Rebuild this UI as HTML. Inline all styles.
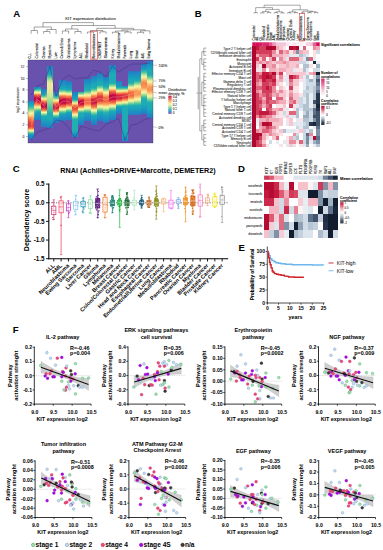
<!DOCTYPE html><html><head><meta charset="utf-8"><style>html,body{margin:0;padding:0;background:#fff;width:383px;height:550px;overflow:hidden}svg{display:block}text{font-family:"Liberation Sans",sans-serif}</style></head><body>
<svg width="383" height="550" viewBox="0 0 383 550">
<rect x="0.00" y="0.00" width="383.00" height="550.00" fill="#ffffff"/>
<text x="13.20" y="16.60" font-size="9.6" text-anchor="start" font-weight="bold" fill="#000">A</text>
<text x="90.50" y="19.60" font-size="4.3" text-anchor="middle" stroke="#222" stroke-width="0.08" fill="#222">KIT expression distribution</text>
<polyline points="31.1,33.8 31.1,30.5 37.4,30.5 37.4,33.8" fill="none" stroke="#333" stroke-width="0.45"/>
<polyline points="43.6,33.8 43.6,31.5 49.9,31.5 49.9,33.8" fill="none" stroke="#333" stroke-width="0.45"/>
<polyline points="46.8,31.5 46.8,29.5 56.1,29.5 56.1,33.8" fill="none" stroke="#333" stroke-width="0.45"/>
<polyline points="34.2,30.5 34.2,27.0 51.4,27.0 51.4,29.5" fill="none" stroke="#333" stroke-width="0.45"/>
<polyline points="62.4,33.8 62.4,31.0 68.6,31.0 68.6,33.8" fill="none" stroke="#333" stroke-width="0.45"/>
<polyline points="74.9,33.8 74.9,31.5 81.1,31.5 81.1,33.8" fill="none" stroke="#333" stroke-width="0.45"/>
<polyline points="65.5,31.0 65.5,29.0 78.0,29.0 78.0,31.5" fill="none" stroke="#333" stroke-width="0.45"/>
<polyline points="87.4,33.8 87.4,32.0 93.6,32.0 93.6,33.8" fill="none" stroke="#333" stroke-width="0.45"/>
<polyline points="99.9,33.8 99.9,31.8 106.1,31.8 106.1,33.8" fill="none" stroke="#333" stroke-width="0.45"/>
<polyline points="90.5,32.0 90.5,30.5 103.0,30.5 103.0,31.8" fill="none" stroke="#333" stroke-width="0.45"/>
<polyline points="112.4,33.8 112.4,32.2 118.6,32.2 118.6,33.8" fill="none" stroke="#333" stroke-width="0.45"/>
<polyline points="124.9,33.8 124.9,32.0 131.1,32.0 131.1,33.8" fill="none" stroke="#333" stroke-width="0.45"/>
<polyline points="115.5,32.2 115.5,31.0 128.0,31.0 128.0,32.0" fill="none" stroke="#333" stroke-width="0.45"/>
<polyline points="137.4,33.8 137.4,32.3 143.6,32.3 143.6,33.8" fill="none" stroke="#333" stroke-width="0.45"/>
<polyline points="140.5,32.3 140.5,30.8 149.9,30.8 149.9,33.8" fill="none" stroke="#333" stroke-width="0.45"/>
<polyline points="121.8,31.0 121.8,29.8 145.2,29.8 145.2,30.8" fill="none" stroke="#333" stroke-width="0.45"/>
<polyline points="96.8,30.5 96.8,28.3 133.6,28.3 133.6,29.8" fill="none" stroke="#333" stroke-width="0.45"/>
<polyline points="71.8,29.0 71.8,25.5 115.2,25.5 115.2,28.3" fill="none" stroke="#333" stroke-width="0.45"/>
<polyline points="43.0,27.0 43.0,22.6 93.4,22.6 93.4,25.5" fill="none" stroke="#333" stroke-width="0.45"/>
<text x="30.90" y="58.40" font-size="3.6" fill="#333" stroke="#333" stroke-width="0.16" textLength="5.00" lengthAdjust="spacingAndGlyphs" transform="rotate(-90 30.90 58.40)">CLL</text>
<text x="38.20" y="58.40" font-size="3.6" fill="#333" stroke="#333" stroke-width="0.16" textLength="15.20" lengthAdjust="spacingAndGlyphs" transform="rotate(-90 38.20 58.40)">Colorectal</text>
<text x="44.70" y="58.40" font-size="3.6" fill="#333" stroke="#333" stroke-width="0.16" textLength="11.80" lengthAdjust="spacingAndGlyphs" transform="rotate(-90 44.70 58.40)">Ovarian</text>
<text x="51.00" y="58.40" font-size="3.6" fill="#333" stroke="#333" stroke-width="0.16" textLength="13.50" lengthAdjust="spacingAndGlyphs" transform="rotate(-90 51.00 58.40)">Myeloma</text>
<text x="56.90" y="58.40" font-size="3.6" fill="#333" stroke="#333" stroke-width="0.16" textLength="6.70" lengthAdjust="spacingAndGlyphs" transform="rotate(-90 56.90 58.40)">Liver</text>
<text x="63.20" y="58.40" font-size="3.6" fill="#333" stroke="#333" stroke-width="0.16" textLength="20.30" lengthAdjust="spacingAndGlyphs" transform="rotate(-90 63.20 58.40)">Cervix &amp; Endo</text>
<text x="69.60" y="58.40" font-size="3.6" fill="#333" stroke="#333" stroke-width="0.16" textLength="19.80" lengthAdjust="spacingAndGlyphs" transform="rotate(-90 69.60 58.40)">Glioblastoma</text>
<text x="76.10" y="58.40" font-size="3.6" fill="#333" stroke="#333" stroke-width="0.16" textLength="16.40" lengthAdjust="spacingAndGlyphs" transform="rotate(-90 76.10 58.40)">Lymphoma</text>
<text x="82.40" y="58.40" font-size="3.6" fill="#333" stroke="#333" stroke-width="0.16" textLength="5.80" lengthAdjust="spacingAndGlyphs" transform="rotate(-90 82.40 58.40)">ALL</text>
<text x="88.30" y="58.40" font-size="3.6" fill="#333" stroke="#333" stroke-width="0.16" textLength="15.20" lengthAdjust="spacingAndGlyphs" transform="rotate(-90 88.30 58.40)">Rhabdoid</text>
<text x="95.10" y="58.40" font-size="3.6" fill="#333" stroke="#333" stroke-width="0.16" textLength="24.50" lengthAdjust="spacingAndGlyphs" transform="rotate(-90 95.10 58.40)">Neuroblastoma</text>
<text x="100.70" y="58.40" font-size="3.6" fill="#333" stroke="#333" stroke-width="0.16" textLength="16.90" lengthAdjust="spacingAndGlyphs" transform="rotate(-90 100.70 58.40)">CNS/PNET</text>
<text x="107.00" y="58.40" font-size="3.6" fill="#333" stroke="#333" stroke-width="0.16" textLength="21.10" lengthAdjust="spacingAndGlyphs" transform="rotate(-90 107.00 58.40)">Sarcoma</text>
<text x="113.80" y="58.40" font-size="3.6" fill="#333" stroke="#333" stroke-width="0.16" textLength="9.60" lengthAdjust="spacingAndGlyphs" transform="rotate(-90 113.80 58.40)">Kidney</text>
<text x="120.30" y="58.40" font-size="3.6" fill="#333" stroke="#333" stroke-width="0.16" textLength="25.40" lengthAdjust="spacingAndGlyphs" transform="rotate(-90 120.30 58.40)">Medulloblastoma</text>
<text x="125.70" y="58.40" font-size="3.6" fill="#333" stroke="#333" stroke-width="0.16" textLength="13.50" lengthAdjust="spacingAndGlyphs" transform="rotate(-90 125.70 58.40)">Pancreatic</text>
<text x="132.50" y="58.40" font-size="3.6" fill="#333" stroke="#333" stroke-width="0.16" textLength="7.60" lengthAdjust="spacingAndGlyphs" transform="rotate(-90 132.50 58.40)">Lung</text>
<text x="138.40" y="58.40" font-size="3.6" fill="#333" stroke="#333" stroke-width="0.16" textLength="8.40" lengthAdjust="spacingAndGlyphs" transform="rotate(-90 138.40 58.40)">Breast</text>
<text x="144.40" y="58.40" font-size="3.6" fill="#333" stroke="#333" stroke-width="0.16" textLength="5.80" lengthAdjust="spacingAndGlyphs" transform="rotate(-90 144.40 58.40)">AML</text>
<text x="150.30" y="58.40" font-size="3.6" fill="#333" stroke="#333" stroke-width="0.16" textLength="19.40" lengthAdjust="spacingAndGlyphs" transform="rotate(-90 150.30 58.40)">Ewing Sarcoma</text>
<rect x="90.8" y="31.2" width="6.6" height="27.9" fill="none" stroke="#e0302a" stroke-width="0.6"/>
<g shape-rendering="crispEdges">
<rect x="28.00" y="60.00" width="6.25" height="1.00" fill="#6852ae"/>
<rect x="28.00" y="61.00" width="6.25" height="1.00" fill="#6852ae"/>
<rect x="28.00" y="62.00" width="6.25" height="1.00" fill="#6852ae"/>
<rect x="28.00" y="63.00" width="6.25" height="1.00" fill="#6852ae"/>
<rect x="28.00" y="64.00" width="6.25" height="1.00" fill="#6852ae"/>
<rect x="28.00" y="65.00" width="6.25" height="1.00" fill="#6852ae"/>
<rect x="28.00" y="66.00" width="6.25" height="1.00" fill="#6852ae"/>
<rect x="28.00" y="67.00" width="6.25" height="1.00" fill="#6852ae"/>
<rect x="28.00" y="68.00" width="6.25" height="1.00" fill="#6852ae"/>
<rect x="28.00" y="69.00" width="6.25" height="1.00" fill="#6852ae"/>
<rect x="28.00" y="70.00" width="6.25" height="1.00" fill="#6852ae"/>
<rect x="28.00" y="71.00" width="6.25" height="1.00" fill="#6852ae"/>
<rect x="28.00" y="72.00" width="6.25" height="1.00" fill="#6852ae"/>
<rect x="28.00" y="73.00" width="6.25" height="1.00" fill="#6852ae"/>
<rect x="28.00" y="74.00" width="6.25" height="1.00" fill="#6852ae"/>
<rect x="28.00" y="75.00" width="6.25" height="1.00" fill="#6852ae"/>
<rect x="28.00" y="76.00" width="6.25" height="1.00" fill="#6852ae"/>
<rect x="28.00" y="77.00" width="6.25" height="1.00" fill="#6852ae"/>
<rect x="28.00" y="78.00" width="6.25" height="1.00" fill="#6852ae"/>
<rect x="28.00" y="79.00" width="6.25" height="1.00" fill="#6852ae"/>
<rect x="28.00" y="80.00" width="6.25" height="1.00" fill="#6852ae"/>
<rect x="28.00" y="81.00" width="6.25" height="1.00" fill="#6852ae"/>
<rect x="28.00" y="82.00" width="6.25" height="1.00" fill="#6852ae"/>
<rect x="28.00" y="83.00" width="6.25" height="1.00" fill="#6852ae"/>
<rect x="28.00" y="84.00" width="6.25" height="1.00" fill="#6852ae"/>
<rect x="28.00" y="85.00" width="6.25" height="1.00" fill="#6852ae"/>
<rect x="28.00" y="86.00" width="6.25" height="1.00" fill="#6852ae"/>
<rect x="28.00" y="87.00" width="6.25" height="1.00" fill="#6852ae"/>
<rect x="28.00" y="88.00" width="6.25" height="1.00" fill="#6852ae"/>
<rect x="28.00" y="89.00" width="6.25" height="1.00" fill="#6852ae"/>
<rect x="28.00" y="90.00" width="6.25" height="1.00" fill="#6852ae"/>
<rect x="28.00" y="91.00" width="6.25" height="1.00" fill="#6852ae"/>
<rect x="28.00" y="92.00" width="6.25" height="1.00" fill="#6852ae"/>
<rect x="28.00" y="93.00" width="6.25" height="1.00" fill="#6852ae"/>
<rect x="28.00" y="94.00" width="6.25" height="1.00" fill="#6852ae"/>
<rect x="28.00" y="95.00" width="6.25" height="1.00" fill="#6852ae"/>
<rect x="28.00" y="96.00" width="6.25" height="1.00" fill="#6852ae"/>
<rect x="28.00" y="97.00" width="6.25" height="1.00" fill="#6852ae"/>
<rect x="28.00" y="98.00" width="6.25" height="1.00" fill="#6852ae"/>
<rect x="28.00" y="99.00" width="6.25" height="1.00" fill="#6852ae"/>
<rect x="28.00" y="100.00" width="6.25" height="1.00" fill="#6852ae"/>
<rect x="28.00" y="101.00" width="6.25" height="1.00" fill="#1e8cc4"/>
<rect x="28.00" y="102.00" width="6.25" height="1.00" fill="#1c93c1"/>
<rect x="28.00" y="103.00" width="6.25" height="1.00" fill="#1b9bbd"/>
<rect x="28.00" y="104.00" width="6.25" height="1.00" fill="#19a4ba"/>
<rect x="28.00" y="105.00" width="6.25" height="1.00" fill="#21adb3"/>
<rect x="28.00" y="106.00" width="6.25" height="1.00" fill="#33b5ab"/>
<rect x="28.00" y="107.00" width="6.25" height="1.00" fill="#46bfa1"/>
<rect x="28.00" y="108.00" width="6.25" height="1.00" fill="#60c99b"/>
<rect x="28.00" y="109.00" width="6.25" height="1.00" fill="#82d398"/>
<rect x="28.00" y="110.00" width="6.25" height="1.00" fill="#a6de95"/>
<rect x="28.00" y="111.00" width="6.25" height="1.00" fill="#c5e898"/>
<rect x="28.00" y="112.00" width="6.25" height="1.00" fill="#e0f0a1"/>
<rect x="28.00" y="113.00" width="6.25" height="1.00" fill="#f7f3a4"/>
<rect x="28.00" y="114.00" width="6.25" height="1.00" fill="#fae394"/>
<rect x="28.00" y="115.00" width="6.25" height="1.00" fill="#fed383"/>
<rect x="28.00" y="116.00" width="6.25" height="1.00" fill="#fcb86e"/>
<rect x="28.00" y="117.00" width="6.25" height="1.00" fill="#f99d5a"/>
<rect x="28.00" y="118.00" width="6.25" height="1.00" fill="#f6854e"/>
<rect x="28.00" y="119.00" width="6.25" height="1.00" fill="#f27149"/>
<rect x="28.00" y="120.00" width="6.25" height="1.00" fill="#ee5f45"/>
<rect x="28.00" y="121.00" width="6.25" height="1.00" fill="#eb5041"/>
<rect x="28.00" y="122.00" width="6.25" height="1.00" fill="#e74541"/>
<rect x="28.00" y="123.00" width="6.25" height="1.00" fill="#e33e42"/>
<rect x="28.00" y="124.00" width="6.25" height="1.00" fill="#e03942"/>
<rect x="28.00" y="125.00" width="6.25" height="1.00" fill="#e03842"/>
<rect x="28.00" y="126.00" width="6.25" height="1.00" fill="#e33e42"/>
<rect x="28.00" y="127.00" width="6.25" height="1.00" fill="#ec5643"/>
<rect x="28.00" y="128.00" width="6.25" height="1.00" fill="#f5824d"/>
<rect x="28.00" y="129.00" width="6.25" height="1.00" fill="#fcbf73"/>
<rect x="28.00" y="130.00" width="6.25" height="1.00" fill="#f8ed9f"/>
<rect x="28.00" y="131.00" width="6.25" height="1.00" fill="#c4e798"/>
<rect x="28.00" y="132.00" width="6.25" height="1.00" fill="#72cf99"/>
<rect x="28.00" y="133.00" width="6.25" height="1.00" fill="#35b7a9"/>
<rect x="28.00" y="134.00" width="6.25" height="1.00" fill="#19a1bb"/>
<rect x="28.00" y="135.00" width="6.25" height="1.00" fill="#1d8ec3"/>
<rect x="28.00" y="136.00" width="6.25" height="1.00" fill="#1e8ac5"/>
<rect x="28.00" y="137.00" width="6.25" height="1.00" fill="#2183c5"/>
<rect x="28.00" y="138.00" width="6.25" height="1.00" fill="#297ac2"/>
<rect x="28.00" y="139.00" width="6.25" height="1.00" fill="#6852ae"/>
<rect x="28.00" y="140.00" width="6.25" height="1.00" fill="#6852ae"/>
<rect x="28.00" y="141.00" width="6.25" height="1.00" fill="#6852ae"/>
<rect x="28.00" y="142.00" width="6.25" height="1.00" fill="#6852ae"/>
<rect x="34.25" y="60.00" width="6.25" height="1.00" fill="#6852ae"/>
<rect x="34.25" y="61.00" width="6.25" height="1.00" fill="#6852ae"/>
<rect x="34.25" y="62.00" width="6.25" height="1.00" fill="#6852ae"/>
<rect x="34.25" y="63.00" width="6.25" height="1.00" fill="#6852ae"/>
<rect x="34.25" y="64.00" width="6.25" height="1.00" fill="#6852ae"/>
<rect x="34.25" y="65.00" width="6.25" height="1.00" fill="#6852ae"/>
<rect x="34.25" y="66.00" width="6.25" height="1.00" fill="#6852ae"/>
<rect x="34.25" y="67.00" width="6.25" height="1.00" fill="#6852ae"/>
<rect x="34.25" y="68.00" width="6.25" height="1.00" fill="#6852ae"/>
<rect x="34.25" y="69.00" width="6.25" height="1.00" fill="#6852ae"/>
<rect x="34.25" y="70.00" width="6.25" height="1.00" fill="#6852ae"/>
<rect x="34.25" y="71.00" width="6.25" height="1.00" fill="#6852ae"/>
<rect x="34.25" y="72.00" width="6.25" height="1.00" fill="#6852ae"/>
<rect x="34.25" y="73.00" width="6.25" height="1.00" fill="#6852ae"/>
<rect x="34.25" y="74.00" width="6.25" height="1.00" fill="#6852ae"/>
<rect x="34.25" y="75.00" width="6.25" height="1.00" fill="#6852ae"/>
<rect x="34.25" y="76.00" width="6.25" height="1.00" fill="#6852ae"/>
<rect x="34.25" y="77.00" width="6.25" height="1.00" fill="#6852ae"/>
<rect x="34.25" y="78.00" width="6.25" height="1.00" fill="#6852ae"/>
<rect x="34.25" y="79.00" width="6.25" height="1.00" fill="#6852ae"/>
<rect x="34.25" y="80.00" width="6.25" height="1.00" fill="#6852ae"/>
<rect x="34.25" y="81.00" width="6.25" height="1.00" fill="#6852ae"/>
<rect x="34.25" y="82.00" width="6.25" height="1.00" fill="#6852ae"/>
<rect x="34.25" y="83.00" width="6.25" height="1.00" fill="#6852ae"/>
<rect x="34.25" y="84.00" width="6.25" height="1.00" fill="#6852ae"/>
<rect x="34.25" y="85.00" width="6.25" height="1.00" fill="#6852ae"/>
<rect x="34.25" y="86.00" width="6.25" height="1.00" fill="#6852ae"/>
<rect x="34.25" y="87.00" width="6.25" height="1.00" fill="#1c95c0"/>
<rect x="34.25" y="88.00" width="6.25" height="1.00" fill="#18a7b8"/>
<rect x="34.25" y="89.00" width="6.25" height="1.00" fill="#3cbaa6"/>
<rect x="34.25" y="90.00" width="6.25" height="1.00" fill="#74cf99"/>
<rect x="34.25" y="91.00" width="6.25" height="1.00" fill="#bee696"/>
<rect x="34.25" y="92.00" width="6.25" height="1.00" fill="#f6f4a6"/>
<rect x="34.25" y="93.00" width="6.25" height="1.00" fill="#fece7f"/>
<rect x="34.25" y="94.00" width="6.25" height="1.00" fill="#f78c4f"/>
<rect x="34.25" y="95.00" width="6.25" height="1.00" fill="#ed5743"/>
<rect x="34.25" y="96.00" width="6.25" height="1.00" fill="#db3044"/>
<rect x="34.25" y="97.00" width="6.25" height="1.00" fill="#cc1447"/>
<rect x="34.25" y="98.00" width="6.25" height="1.00" fill="#c20449"/>
<rect x="34.25" y="99.00" width="6.25" height="1.00" fill="#c0004a"/>
<rect x="34.25" y="100.00" width="6.25" height="1.00" fill="#c40749"/>
<rect x="34.25" y="101.00" width="6.25" height="1.00" fill="#cd1647"/>
<rect x="34.25" y="102.00" width="6.25" height="1.00" fill="#da2e44"/>
<rect x="34.25" y="103.00" width="6.25" height="1.00" fill="#eb4d41"/>
<rect x="34.25" y="104.00" width="6.25" height="1.00" fill="#f3794b"/>
<rect x="34.25" y="105.00" width="6.25" height="1.00" fill="#fbad66"/>
<rect x="34.25" y="106.00" width="6.25" height="1.00" fill="#fcdd8e"/>
<rect x="34.25" y="107.00" width="6.25" height="1.00" fill="#ecf3a5"/>
<rect x="34.25" y="108.00" width="6.25" height="1.00" fill="#b9e494"/>
<rect x="34.25" y="109.00" width="6.25" height="1.00" fill="#78d099"/>
<rect x="34.25" y="110.00" width="6.25" height="1.00" fill="#44bea2"/>
<rect x="34.25" y="111.00" width="6.25" height="1.00" fill="#23adb3"/>
<rect x="34.25" y="112.00" width="6.25" height="1.00" fill="#19a4ba"/>
<rect x="34.25" y="113.00" width="6.25" height="1.00" fill="#1a9fbc"/>
<rect x="34.25" y="114.00" width="6.25" height="1.00" fill="#1b9abe"/>
<rect x="34.25" y="115.00" width="6.25" height="1.00" fill="#1c95c0"/>
<rect x="34.25" y="116.00" width="6.25" height="1.00" fill="#1d90c2"/>
<rect x="34.25" y="117.00" width="6.25" height="1.00" fill="#1e8bc4"/>
<rect x="34.25" y="118.00" width="6.25" height="1.00" fill="#1f87c6"/>
<rect x="34.25" y="119.00" width="6.25" height="1.00" fill="#267ec3"/>
<rect x="34.25" y="120.00" width="6.25" height="1.00" fill="#6852ae"/>
<rect x="34.25" y="121.00" width="6.25" height="1.00" fill="#6852ae"/>
<rect x="34.25" y="122.00" width="6.25" height="1.00" fill="#6852ae"/>
<rect x="34.25" y="123.00" width="6.25" height="1.00" fill="#6852ae"/>
<rect x="34.25" y="124.00" width="6.25" height="1.00" fill="#6852ae"/>
<rect x="34.25" y="125.00" width="6.25" height="1.00" fill="#6852ae"/>
<rect x="34.25" y="126.00" width="6.25" height="1.00" fill="#6852ae"/>
<rect x="34.25" y="127.00" width="6.25" height="1.00" fill="#6852ae"/>
<rect x="34.25" y="128.00" width="6.25" height="1.00" fill="#6852ae"/>
<rect x="34.25" y="129.00" width="6.25" height="1.00" fill="#6852ae"/>
<rect x="34.25" y="130.00" width="6.25" height="1.00" fill="#6852ae"/>
<rect x="34.25" y="131.00" width="6.25" height="1.00" fill="#6852ae"/>
<rect x="34.25" y="132.00" width="6.25" height="1.00" fill="#6852ae"/>
<rect x="34.25" y="133.00" width="6.25" height="1.00" fill="#6852ae"/>
<rect x="34.25" y="134.00" width="6.25" height="1.00" fill="#6852ae"/>
<rect x="34.25" y="135.00" width="6.25" height="1.00" fill="#6852ae"/>
<rect x="34.25" y="136.00" width="6.25" height="1.00" fill="#6852ae"/>
<rect x="34.25" y="137.00" width="6.25" height="1.00" fill="#6852ae"/>
<rect x="34.25" y="138.00" width="6.25" height="1.00" fill="#6852ae"/>
<rect x="34.25" y="139.00" width="6.25" height="1.00" fill="#6852ae"/>
<rect x="34.25" y="140.00" width="6.25" height="1.00" fill="#6852ae"/>
<rect x="34.25" y="141.00" width="6.25" height="1.00" fill="#6852ae"/>
<rect x="34.25" y="142.00" width="6.25" height="1.00" fill="#6852ae"/>
<rect x="40.50" y="60.00" width="6.25" height="1.00" fill="#6852ae"/>
<rect x="40.50" y="61.00" width="6.25" height="1.00" fill="#6852ae"/>
<rect x="40.50" y="62.00" width="6.25" height="1.00" fill="#6852ae"/>
<rect x="40.50" y="63.00" width="6.25" height="1.00" fill="#6852ae"/>
<rect x="40.50" y="64.00" width="6.25" height="1.00" fill="#6852ae"/>
<rect x="40.50" y="65.00" width="6.25" height="1.00" fill="#6852ae"/>
<rect x="40.50" y="66.00" width="6.25" height="1.00" fill="#6852ae"/>
<rect x="40.50" y="67.00" width="6.25" height="1.00" fill="#6852ae"/>
<rect x="40.50" y="68.00" width="6.25" height="1.00" fill="#6852ae"/>
<rect x="40.50" y="69.00" width="6.25" height="1.00" fill="#6852ae"/>
<rect x="40.50" y="70.00" width="6.25" height="1.00" fill="#6852ae"/>
<rect x="40.50" y="71.00" width="6.25" height="1.00" fill="#6852ae"/>
<rect x="40.50" y="72.00" width="6.25" height="1.00" fill="#6852ae"/>
<rect x="40.50" y="73.00" width="6.25" height="1.00" fill="#6852ae"/>
<rect x="40.50" y="74.00" width="6.25" height="1.00" fill="#6852ae"/>
<rect x="40.50" y="75.00" width="6.25" height="1.00" fill="#6852ae"/>
<rect x="40.50" y="76.00" width="6.25" height="1.00" fill="#6852ae"/>
<rect x="40.50" y="77.00" width="6.25" height="1.00" fill="#6852ae"/>
<rect x="40.50" y="78.00" width="6.25" height="1.00" fill="#6852ae"/>
<rect x="40.50" y="79.00" width="6.25" height="1.00" fill="#6852ae"/>
<rect x="40.50" y="80.00" width="6.25" height="1.00" fill="#6852ae"/>
<rect x="40.50" y="81.00" width="6.25" height="1.00" fill="#6852ae"/>
<rect x="40.50" y="82.00" width="6.25" height="1.00" fill="#6852ae"/>
<rect x="40.50" y="83.00" width="6.25" height="1.00" fill="#6852ae"/>
<rect x="40.50" y="84.00" width="6.25" height="1.00" fill="#6852ae"/>
<rect x="40.50" y="85.00" width="6.25" height="1.00" fill="#6852ae"/>
<rect x="40.50" y="86.00" width="6.25" height="1.00" fill="#6852ae"/>
<rect x="40.50" y="87.00" width="6.25" height="1.00" fill="#6852ae"/>
<rect x="40.50" y="88.00" width="6.25" height="1.00" fill="#6852ae"/>
<rect x="40.50" y="89.00" width="6.25" height="1.00" fill="#2480c4"/>
<rect x="40.50" y="90.00" width="6.25" height="1.00" fill="#1f88c5"/>
<rect x="40.50" y="91.00" width="6.25" height="1.00" fill="#1e8cc3"/>
<rect x="40.50" y="92.00" width="6.25" height="1.00" fill="#1d91c1"/>
<rect x="40.50" y="93.00" width="6.25" height="1.00" fill="#1c96bf"/>
<rect x="40.50" y="94.00" width="6.25" height="1.00" fill="#1aa0bb"/>
<rect x="40.50" y="95.00" width="6.25" height="1.00" fill="#2cb2ae"/>
<rect x="40.50" y="96.00" width="6.25" height="1.00" fill="#57c69b"/>
<rect x="40.50" y="97.00" width="6.25" height="1.00" fill="#a1dd96"/>
<rect x="40.50" y="98.00" width="6.25" height="1.00" fill="#e1f0a1"/>
<rect x="40.50" y="99.00" width="6.25" height="1.00" fill="#fbde8f"/>
<rect x="40.50" y="100.00" width="6.25" height="1.00" fill="#faa661"/>
<rect x="40.50" y="101.00" width="6.25" height="1.00" fill="#f16b48"/>
<rect x="40.50" y="102.00" width="6.25" height="1.00" fill="#e33d42"/>
<rect x="40.50" y="103.00" width="6.25" height="1.00" fill="#d11e46"/>
<rect x="40.50" y="104.00" width="6.25" height="1.00" fill="#c50949"/>
<rect x="40.50" y="105.00" width="6.25" height="1.00" fill="#c0004a"/>
<rect x="40.50" y="106.00" width="6.25" height="1.00" fill="#c20449"/>
<rect x="40.50" y="107.00" width="6.25" height="1.00" fill="#cc1447"/>
<rect x="40.50" y="108.00" width="6.25" height="1.00" fill="#db3044"/>
<rect x="40.50" y="109.00" width="6.25" height="1.00" fill="#ed5743"/>
<rect x="40.50" y="110.00" width="6.25" height="1.00" fill="#f78c4f"/>
<rect x="40.50" y="111.00" width="6.25" height="1.00" fill="#fece7f"/>
<rect x="40.50" y="112.00" width="6.25" height="1.00" fill="#f6f4a6"/>
<rect x="40.50" y="113.00" width="6.25" height="1.00" fill="#bee696"/>
<rect x="40.50" y="114.00" width="6.25" height="1.00" fill="#74cf99"/>
<rect x="40.50" y="115.00" width="6.25" height="1.00" fill="#3cbaa6"/>
<rect x="40.50" y="116.00" width="6.25" height="1.00" fill="#1eabb5"/>
<rect x="40.50" y="117.00" width="6.25" height="1.00" fill="#1eabb5"/>
<rect x="40.50" y="118.00" width="6.25" height="1.00" fill="#1aa9b7"/>
<rect x="40.50" y="119.00" width="6.25" height="1.00" fill="#19a4ba"/>
<rect x="40.50" y="120.00" width="6.25" height="1.00" fill="#1a9fbc"/>
<rect x="40.50" y="121.00" width="6.25" height="1.00" fill="#1b9abe"/>
<rect x="40.50" y="122.00" width="6.25" height="1.00" fill="#1c95c0"/>
<rect x="40.50" y="123.00" width="6.25" height="1.00" fill="#1d90c2"/>
<rect x="40.50" y="124.00" width="6.25" height="1.00" fill="#1e8bc4"/>
<rect x="40.50" y="125.00" width="6.25" height="1.00" fill="#1f87c6"/>
<rect x="40.50" y="126.00" width="6.25" height="1.00" fill="#267ec3"/>
<rect x="40.50" y="127.00" width="6.25" height="1.00" fill="#6852ae"/>
<rect x="40.50" y="128.00" width="6.25" height="1.00" fill="#6852ae"/>
<rect x="40.50" y="129.00" width="6.25" height="1.00" fill="#6852ae"/>
<rect x="40.50" y="130.00" width="6.25" height="1.00" fill="#6852ae"/>
<rect x="40.50" y="131.00" width="6.25" height="1.00" fill="#6852ae"/>
<rect x="40.50" y="132.00" width="6.25" height="1.00" fill="#6852ae"/>
<rect x="40.50" y="133.00" width="6.25" height="1.00" fill="#6852ae"/>
<rect x="40.50" y="134.00" width="6.25" height="1.00" fill="#6852ae"/>
<rect x="40.50" y="135.00" width="6.25" height="1.00" fill="#6852ae"/>
<rect x="40.50" y="136.00" width="6.25" height="1.00" fill="#6852ae"/>
<rect x="40.50" y="137.00" width="6.25" height="1.00" fill="#6852ae"/>
<rect x="40.50" y="138.00" width="6.25" height="1.00" fill="#6852ae"/>
<rect x="40.50" y="139.00" width="6.25" height="1.00" fill="#6852ae"/>
<rect x="40.50" y="140.00" width="6.25" height="1.00" fill="#6852ae"/>
<rect x="40.50" y="141.00" width="6.25" height="1.00" fill="#6852ae"/>
<rect x="40.50" y="142.00" width="6.25" height="1.00" fill="#6852ae"/>
<rect x="46.75" y="60.00" width="6.25" height="1.00" fill="#6852ae"/>
<rect x="46.75" y="61.00" width="6.25" height="1.00" fill="#6852ae"/>
<rect x="46.75" y="62.00" width="6.25" height="1.00" fill="#6852ae"/>
<rect x="46.75" y="63.00" width="6.25" height="1.00" fill="#6852ae"/>
<rect x="46.75" y="64.00" width="6.25" height="1.00" fill="#6852ae"/>
<rect x="46.75" y="65.00" width="6.25" height="1.00" fill="#6852ae"/>
<rect x="46.75" y="66.00" width="6.25" height="1.00" fill="#267ec3"/>
<rect x="46.75" y="67.00" width="6.25" height="1.00" fill="#1f87c6"/>
<rect x="46.75" y="68.00" width="6.25" height="1.00" fill="#1e8bc4"/>
<rect x="46.75" y="69.00" width="6.25" height="1.00" fill="#1d90c2"/>
<rect x="46.75" y="70.00" width="6.25" height="1.00" fill="#1c95c0"/>
<rect x="46.75" y="71.00" width="6.25" height="1.00" fill="#1b9abe"/>
<rect x="46.75" y="72.00" width="6.25" height="1.00" fill="#1a9fbc"/>
<rect x="46.75" y="73.00" width="6.25" height="1.00" fill="#19a4ba"/>
<rect x="46.75" y="74.00" width="6.25" height="1.00" fill="#1eabb5"/>
<rect x="46.75" y="75.00" width="6.25" height="1.00" fill="#32b5ab"/>
<rect x="46.75" y="76.00" width="6.25" height="1.00" fill="#47c0a0"/>
<rect x="46.75" y="77.00" width="6.25" height="1.00" fill="#63ca9b"/>
<rect x="46.75" y="78.00" width="6.25" height="1.00" fill="#84d498"/>
<rect x="46.75" y="79.00" width="6.25" height="1.00" fill="#a2dd96"/>
<rect x="46.75" y="80.00" width="6.25" height="1.00" fill="#bce595"/>
<rect x="46.75" y="81.00" width="6.25" height="1.00" fill="#cdea9b"/>
<rect x="46.75" y="82.00" width="6.25" height="1.00" fill="#dbee9f"/>
<rect x="46.75" y="83.00" width="6.25" height="1.00" fill="#e4f1a2"/>
<rect x="46.75" y="84.00" width="6.25" height="1.00" fill="#e9f2a4"/>
<rect x="46.75" y="85.00" width="6.25" height="1.00" fill="#eaf2a4"/>
<rect x="46.75" y="86.00" width="6.25" height="1.00" fill="#e9f2a4"/>
<rect x="46.75" y="87.00" width="6.25" height="1.00" fill="#e8f2a3"/>
<rect x="46.75" y="88.00" width="6.25" height="1.00" fill="#e6f1a3"/>
<rect x="46.75" y="89.00" width="6.25" height="1.00" fill="#e3f1a2"/>
<rect x="46.75" y="90.00" width="6.25" height="1.00" fill="#e0f0a1"/>
<rect x="46.75" y="91.00" width="6.25" height="1.00" fill="#dcefa0"/>
<rect x="46.75" y="92.00" width="6.25" height="1.00" fill="#d8ed9e"/>
<rect x="46.75" y="93.00" width="6.25" height="1.00" fill="#d3ec9d"/>
<rect x="46.75" y="94.00" width="6.25" height="1.00" fill="#ceea9b"/>
<rect x="46.75" y="95.00" width="6.25" height="1.00" fill="#c8e999"/>
<rect x="46.75" y="96.00" width="6.25" height="1.00" fill="#c2e797"/>
<rect x="46.75" y="97.00" width="6.25" height="1.00" fill="#bbe595"/>
<rect x="46.75" y="98.00" width="6.25" height="1.00" fill="#b3e294"/>
<rect x="46.75" y="99.00" width="6.25" height="1.00" fill="#a9df95"/>
<rect x="46.75" y="100.00" width="6.25" height="1.00" fill="#9edc96"/>
<rect x="46.75" y="101.00" width="6.25" height="1.00" fill="#93d997"/>
<rect x="46.75" y="102.00" width="6.25" height="1.00" fill="#88d598"/>
<rect x="46.75" y="103.00" width="6.25" height="1.00" fill="#7cd299"/>
<rect x="46.75" y="104.00" width="6.25" height="1.00" fill="#71ce99"/>
<rect x="46.75" y="105.00" width="6.25" height="1.00" fill="#65ca9a"/>
<rect x="46.75" y="106.00" width="6.25" height="1.00" fill="#59c79b"/>
<rect x="46.75" y="107.00" width="6.25" height="1.00" fill="#4ec39d"/>
<rect x="46.75" y="108.00" width="6.25" height="1.00" fill="#46bfa1"/>
<rect x="46.75" y="109.00" width="6.25" height="1.00" fill="#3fbba5"/>
<rect x="46.75" y="110.00" width="6.25" height="1.00" fill="#37b8a8"/>
<rect x="46.75" y="111.00" width="6.25" height="1.00" fill="#30b4ac"/>
<rect x="46.75" y="112.00" width="6.25" height="1.00" fill="#28b0b0"/>
<rect x="46.75" y="113.00" width="6.25" height="1.00" fill="#21acb4"/>
<rect x="46.75" y="114.00" width="6.25" height="1.00" fill="#1eabb5"/>
<rect x="46.75" y="115.00" width="6.25" height="1.00" fill="#1eabb5"/>
<rect x="46.75" y="116.00" width="6.25" height="1.00" fill="#1eabb5"/>
<rect x="46.75" y="117.00" width="6.25" height="1.00" fill="#1eabb5"/>
<rect x="46.75" y="118.00" width="6.25" height="1.00" fill="#1eabb5"/>
<rect x="46.75" y="119.00" width="6.25" height="1.00" fill="#1aa9b7"/>
<rect x="46.75" y="120.00" width="6.25" height="1.00" fill="#19a4ba"/>
<rect x="46.75" y="121.00" width="6.25" height="1.00" fill="#1a9fbc"/>
<rect x="46.75" y="122.00" width="6.25" height="1.00" fill="#1b9abe"/>
<rect x="46.75" y="123.00" width="6.25" height="1.00" fill="#1c95c0"/>
<rect x="46.75" y="124.00" width="6.25" height="1.00" fill="#1d90c2"/>
<rect x="46.75" y="125.00" width="6.25" height="1.00" fill="#1e8bc4"/>
<rect x="46.75" y="126.00" width="6.25" height="1.00" fill="#1f87c6"/>
<rect x="46.75" y="127.00" width="6.25" height="1.00" fill="#267ec3"/>
<rect x="46.75" y="128.00" width="6.25" height="1.00" fill="#6852ae"/>
<rect x="46.75" y="129.00" width="6.25" height="1.00" fill="#6852ae"/>
<rect x="46.75" y="130.00" width="6.25" height="1.00" fill="#6852ae"/>
<rect x="46.75" y="131.00" width="6.25" height="1.00" fill="#6852ae"/>
<rect x="46.75" y="132.00" width="6.25" height="1.00" fill="#6852ae"/>
<rect x="46.75" y="133.00" width="6.25" height="1.00" fill="#6852ae"/>
<rect x="46.75" y="134.00" width="6.25" height="1.00" fill="#6852ae"/>
<rect x="46.75" y="135.00" width="6.25" height="1.00" fill="#6852ae"/>
<rect x="46.75" y="136.00" width="6.25" height="1.00" fill="#6852ae"/>
<rect x="46.75" y="137.00" width="6.25" height="1.00" fill="#6852ae"/>
<rect x="46.75" y="138.00" width="6.25" height="1.00" fill="#6852ae"/>
<rect x="46.75" y="139.00" width="6.25" height="1.00" fill="#6852ae"/>
<rect x="46.75" y="140.00" width="6.25" height="1.00" fill="#6852ae"/>
<rect x="46.75" y="141.00" width="6.25" height="1.00" fill="#6852ae"/>
<rect x="46.75" y="142.00" width="6.25" height="1.00" fill="#6852ae"/>
<rect x="53.00" y="60.00" width="6.25" height="1.00" fill="#6852ae"/>
<rect x="53.00" y="61.00" width="6.25" height="1.00" fill="#6852ae"/>
<rect x="53.00" y="62.00" width="6.25" height="1.00" fill="#6852ae"/>
<rect x="53.00" y="63.00" width="6.25" height="1.00" fill="#6852ae"/>
<rect x="53.00" y="64.00" width="6.25" height="1.00" fill="#6852ae"/>
<rect x="53.00" y="65.00" width="6.25" height="1.00" fill="#6852ae"/>
<rect x="53.00" y="66.00" width="6.25" height="1.00" fill="#6852ae"/>
<rect x="53.00" y="67.00" width="6.25" height="1.00" fill="#6852ae"/>
<rect x="53.00" y="68.00" width="6.25" height="1.00" fill="#6852ae"/>
<rect x="53.00" y="69.00" width="6.25" height="1.00" fill="#6852ae"/>
<rect x="53.00" y="70.00" width="6.25" height="1.00" fill="#6852ae"/>
<rect x="53.00" y="71.00" width="6.25" height="1.00" fill="#6852ae"/>
<rect x="53.00" y="72.00" width="6.25" height="1.00" fill="#6852ae"/>
<rect x="53.00" y="73.00" width="6.25" height="1.00" fill="#6852ae"/>
<rect x="53.00" y="74.00" width="6.25" height="1.00" fill="#6852ae"/>
<rect x="53.00" y="75.00" width="6.25" height="1.00" fill="#6852ae"/>
<rect x="53.00" y="76.00" width="6.25" height="1.00" fill="#6852ae"/>
<rect x="53.00" y="77.00" width="6.25" height="1.00" fill="#6852ae"/>
<rect x="53.00" y="78.00" width="6.25" height="1.00" fill="#6852ae"/>
<rect x="53.00" y="79.00" width="6.25" height="1.00" fill="#6852ae"/>
<rect x="53.00" y="80.00" width="6.25" height="1.00" fill="#6852ae"/>
<rect x="53.00" y="81.00" width="6.25" height="1.00" fill="#6852ae"/>
<rect x="53.00" y="82.00" width="6.25" height="1.00" fill="#6852ae"/>
<rect x="53.00" y="83.00" width="6.25" height="1.00" fill="#6852ae"/>
<rect x="53.00" y="84.00" width="6.25" height="1.00" fill="#6852ae"/>
<rect x="53.00" y="85.00" width="6.25" height="1.00" fill="#6852ae"/>
<rect x="53.00" y="86.00" width="6.25" height="1.00" fill="#6852ae"/>
<rect x="53.00" y="87.00" width="6.25" height="1.00" fill="#6852ae"/>
<rect x="53.00" y="88.00" width="6.25" height="1.00" fill="#6852ae"/>
<rect x="53.00" y="89.00" width="6.25" height="1.00" fill="#6852ae"/>
<rect x="53.00" y="90.00" width="6.25" height="1.00" fill="#6852ae"/>
<rect x="53.00" y="91.00" width="6.25" height="1.00" fill="#6852ae"/>
<rect x="53.00" y="92.00" width="6.25" height="1.00" fill="#2381c4"/>
<rect x="53.00" y="93.00" width="6.25" height="1.00" fill="#1e89c5"/>
<rect x="53.00" y="94.00" width="6.25" height="1.00" fill="#1d8dc3"/>
<rect x="53.00" y="95.00" width="6.25" height="1.00" fill="#1b97bf"/>
<rect x="53.00" y="96.00" width="6.25" height="1.00" fill="#1baab6"/>
<rect x="53.00" y="97.00" width="6.25" height="1.00" fill="#40bca4"/>
<rect x="53.00" y="98.00" width="6.25" height="1.00" fill="#7ad199"/>
<rect x="53.00" y="99.00" width="6.25" height="1.00" fill="#c1e797"/>
<rect x="53.00" y="100.00" width="6.25" height="1.00" fill="#f7f3a5"/>
<rect x="53.00" y="101.00" width="6.25" height="1.00" fill="#fecf80"/>
<rect x="53.00" y="102.00" width="6.25" height="1.00" fill="#f89251"/>
<rect x="53.00" y="103.00" width="6.25" height="1.00" fill="#ef6145"/>
<rect x="53.00" y="104.00" width="6.25" height="1.00" fill="#e23c42"/>
<rect x="53.00" y="105.00" width="6.25" height="1.00" fill="#d52545"/>
<rect x="53.00" y="106.00" width="6.25" height="1.00" fill="#ce1947"/>
<rect x="53.00" y="107.00" width="6.25" height="1.00" fill="#ce1947"/>
<rect x="53.00" y="108.00" width="6.25" height="1.00" fill="#d52545"/>
<rect x="53.00" y="109.00" width="6.25" height="1.00" fill="#e23c42"/>
<rect x="53.00" y="110.00" width="6.25" height="1.00" fill="#ef6145"/>
<rect x="53.00" y="111.00" width="6.25" height="1.00" fill="#f89251"/>
<rect x="53.00" y="112.00" width="6.25" height="1.00" fill="#fecf80"/>
<rect x="53.00" y="113.00" width="6.25" height="1.00" fill="#f7f3a5"/>
<rect x="53.00" y="114.00" width="6.25" height="1.00" fill="#c1e797"/>
<rect x="53.00" y="115.00" width="6.25" height="1.00" fill="#7ad199"/>
<rect x="53.00" y="116.00" width="6.25" height="1.00" fill="#40bca4"/>
<rect x="53.00" y="117.00" width="6.25" height="1.00" fill="#1baab6"/>
<rect x="53.00" y="118.00" width="6.25" height="1.00" fill="#1b97bf"/>
<rect x="53.00" y="119.00" width="6.25" height="1.00" fill="#1d8ec3"/>
<rect x="53.00" y="120.00" width="6.25" height="1.00" fill="#1e8ac5"/>
<rect x="53.00" y="121.00" width="6.25" height="1.00" fill="#2183c5"/>
<rect x="53.00" y="122.00" width="6.25" height="1.00" fill="#297ac2"/>
<rect x="53.00" y="123.00" width="6.25" height="1.00" fill="#6852ae"/>
<rect x="53.00" y="124.00" width="6.25" height="1.00" fill="#6852ae"/>
<rect x="53.00" y="125.00" width="6.25" height="1.00" fill="#6852ae"/>
<rect x="53.00" y="126.00" width="6.25" height="1.00" fill="#6852ae"/>
<rect x="53.00" y="127.00" width="6.25" height="1.00" fill="#6852ae"/>
<rect x="53.00" y="128.00" width="6.25" height="1.00" fill="#6852ae"/>
<rect x="53.00" y="129.00" width="6.25" height="1.00" fill="#6852ae"/>
<rect x="53.00" y="130.00" width="6.25" height="1.00" fill="#6852ae"/>
<rect x="53.00" y="131.00" width="6.25" height="1.00" fill="#6852ae"/>
<rect x="53.00" y="132.00" width="6.25" height="1.00" fill="#6852ae"/>
<rect x="53.00" y="133.00" width="6.25" height="1.00" fill="#6852ae"/>
<rect x="53.00" y="134.00" width="6.25" height="1.00" fill="#6852ae"/>
<rect x="53.00" y="135.00" width="6.25" height="1.00" fill="#6852ae"/>
<rect x="53.00" y="136.00" width="6.25" height="1.00" fill="#6852ae"/>
<rect x="53.00" y="137.00" width="6.25" height="1.00" fill="#6852ae"/>
<rect x="53.00" y="138.00" width="6.25" height="1.00" fill="#6852ae"/>
<rect x="53.00" y="139.00" width="6.25" height="1.00" fill="#6852ae"/>
<rect x="53.00" y="140.00" width="6.25" height="1.00" fill="#6852ae"/>
<rect x="53.00" y="141.00" width="6.25" height="1.00" fill="#6852ae"/>
<rect x="53.00" y="142.00" width="6.25" height="1.00" fill="#6852ae"/>
<rect x="59.25" y="60.00" width="6.25" height="1.00" fill="#6852ae"/>
<rect x="59.25" y="61.00" width="6.25" height="1.00" fill="#6852ae"/>
<rect x="59.25" y="62.00" width="6.25" height="1.00" fill="#6852ae"/>
<rect x="59.25" y="63.00" width="6.25" height="1.00" fill="#6852ae"/>
<rect x="59.25" y="64.00" width="6.25" height="1.00" fill="#6852ae"/>
<rect x="59.25" y="65.00" width="6.25" height="1.00" fill="#6852ae"/>
<rect x="59.25" y="66.00" width="6.25" height="1.00" fill="#6852ae"/>
<rect x="59.25" y="67.00" width="6.25" height="1.00" fill="#6852ae"/>
<rect x="59.25" y="68.00" width="6.25" height="1.00" fill="#6852ae"/>
<rect x="59.25" y="69.00" width="6.25" height="1.00" fill="#6852ae"/>
<rect x="59.25" y="70.00" width="6.25" height="1.00" fill="#6852ae"/>
<rect x="59.25" y="71.00" width="6.25" height="1.00" fill="#6852ae"/>
<rect x="59.25" y="72.00" width="6.25" height="1.00" fill="#6852ae"/>
<rect x="59.25" y="73.00" width="6.25" height="1.00" fill="#6852ae"/>
<rect x="59.25" y="74.00" width="6.25" height="1.00" fill="#6852ae"/>
<rect x="59.25" y="75.00" width="6.25" height="1.00" fill="#6852ae"/>
<rect x="59.25" y="76.00" width="6.25" height="1.00" fill="#6852ae"/>
<rect x="59.25" y="77.00" width="6.25" height="1.00" fill="#6852ae"/>
<rect x="59.25" y="78.00" width="6.25" height="1.00" fill="#6852ae"/>
<rect x="59.25" y="79.00" width="6.25" height="1.00" fill="#6852ae"/>
<rect x="59.25" y="80.00" width="6.25" height="1.00" fill="#267ec3"/>
<rect x="59.25" y="81.00" width="6.25" height="1.00" fill="#1f87c6"/>
<rect x="59.25" y="82.00" width="6.25" height="1.00" fill="#1e8bc4"/>
<rect x="59.25" y="83.00" width="6.25" height="1.00" fill="#1d90c2"/>
<rect x="59.25" y="84.00" width="6.25" height="1.00" fill="#1c95c0"/>
<rect x="59.25" y="85.00" width="6.25" height="1.00" fill="#1b9abe"/>
<rect x="59.25" y="86.00" width="6.25" height="1.00" fill="#1a9fbc"/>
<rect x="59.25" y="87.00" width="6.25" height="1.00" fill="#19a4ba"/>
<rect x="59.25" y="88.00" width="6.25" height="1.00" fill="#1aa9b7"/>
<rect x="59.25" y="89.00" width="6.25" height="1.00" fill="#2cb2ae"/>
<rect x="59.25" y="90.00" width="6.25" height="1.00" fill="#4fc39d"/>
<rect x="59.25" y="91.00" width="6.25" height="1.00" fill="#8bd697"/>
<rect x="59.25" y="92.00" width="6.25" height="1.00" fill="#c8e999"/>
<rect x="59.25" y="93.00" width="6.25" height="1.00" fill="#f7f3a5"/>
<rect x="59.25" y="94.00" width="6.25" height="1.00" fill="#fed484"/>
<rect x="59.25" y="95.00" width="6.25" height="1.00" fill="#f99d59"/>
<rect x="59.25" y="96.00" width="6.25" height="1.00" fill="#f16b48"/>
<rect x="59.25" y="97.00" width="6.25" height="1.00" fill="#e64241"/>
<rect x="59.25" y="98.00" width="6.25" height="1.00" fill="#d62645"/>
<rect x="59.25" y="99.00" width="6.25" height="1.00" fill="#c91148"/>
<rect x="59.25" y="100.00" width="6.25" height="1.00" fill="#c20449"/>
<rect x="59.25" y="101.00" width="6.25" height="1.00" fill="#c0004a"/>
<rect x="59.25" y="102.00" width="6.25" height="1.00" fill="#c30649"/>
<rect x="59.25" y="103.00" width="6.25" height="1.00" fill="#cc1447"/>
<rect x="59.25" y="104.00" width="6.25" height="1.00" fill="#d92b44"/>
<rect x="59.25" y="105.00" width="6.25" height="1.00" fill="#e94940"/>
<rect x="59.25" y="106.00" width="6.25" height="1.00" fill="#f3754a"/>
<rect x="59.25" y="107.00" width="6.25" height="1.00" fill="#faa862"/>
<rect x="59.25" y="108.00" width="6.25" height="1.00" fill="#fcda8a"/>
<rect x="59.25" y="109.00" width="6.25" height="1.00" fill="#f1f5a6"/>
<rect x="59.25" y="110.00" width="6.25" height="1.00" fill="#bee696"/>
<rect x="59.25" y="111.00" width="6.25" height="1.00" fill="#7ed298"/>
<rect x="59.25" y="112.00" width="6.25" height="1.00" fill="#47c0a0"/>
<rect x="59.25" y="113.00" width="6.25" height="1.00" fill="#26afb1"/>
<rect x="59.25" y="114.00" width="6.25" height="1.00" fill="#1a9fbc"/>
<rect x="59.25" y="115.00" width="6.25" height="1.00" fill="#1b9abe"/>
<rect x="59.25" y="116.00" width="6.25" height="1.00" fill="#1c95c0"/>
<rect x="59.25" y="117.00" width="6.25" height="1.00" fill="#1d90c2"/>
<rect x="59.25" y="118.00" width="6.25" height="1.00" fill="#1e8bc4"/>
<rect x="59.25" y="119.00" width="6.25" height="1.00" fill="#1f87c6"/>
<rect x="59.25" y="120.00" width="6.25" height="1.00" fill="#267ec3"/>
<rect x="59.25" y="121.00" width="6.25" height="1.00" fill="#6852ae"/>
<rect x="59.25" y="122.00" width="6.25" height="1.00" fill="#6852ae"/>
<rect x="59.25" y="123.00" width="6.25" height="1.00" fill="#6852ae"/>
<rect x="59.25" y="124.00" width="6.25" height="1.00" fill="#6852ae"/>
<rect x="59.25" y="125.00" width="6.25" height="1.00" fill="#6852ae"/>
<rect x="59.25" y="126.00" width="6.25" height="1.00" fill="#6852ae"/>
<rect x="59.25" y="127.00" width="6.25" height="1.00" fill="#6852ae"/>
<rect x="59.25" y="128.00" width="6.25" height="1.00" fill="#6852ae"/>
<rect x="59.25" y="129.00" width="6.25" height="1.00" fill="#6852ae"/>
<rect x="59.25" y="130.00" width="6.25" height="1.00" fill="#6852ae"/>
<rect x="59.25" y="131.00" width="6.25" height="1.00" fill="#6852ae"/>
<rect x="59.25" y="132.00" width="6.25" height="1.00" fill="#6852ae"/>
<rect x="59.25" y="133.00" width="6.25" height="1.00" fill="#6852ae"/>
<rect x="59.25" y="134.00" width="6.25" height="1.00" fill="#6852ae"/>
<rect x="59.25" y="135.00" width="6.25" height="1.00" fill="#6852ae"/>
<rect x="59.25" y="136.00" width="6.25" height="1.00" fill="#6852ae"/>
<rect x="59.25" y="137.00" width="6.25" height="1.00" fill="#6852ae"/>
<rect x="59.25" y="138.00" width="6.25" height="1.00" fill="#6852ae"/>
<rect x="59.25" y="139.00" width="6.25" height="1.00" fill="#6852ae"/>
<rect x="59.25" y="140.00" width="6.25" height="1.00" fill="#6852ae"/>
<rect x="59.25" y="141.00" width="6.25" height="1.00" fill="#6852ae"/>
<rect x="59.25" y="142.00" width="6.25" height="1.00" fill="#6852ae"/>
<rect x="65.50" y="60.00" width="6.25" height="1.00" fill="#6852ae"/>
<rect x="65.50" y="61.00" width="6.25" height="1.00" fill="#6852ae"/>
<rect x="65.50" y="62.00" width="6.25" height="1.00" fill="#6852ae"/>
<rect x="65.50" y="63.00" width="6.25" height="1.00" fill="#6852ae"/>
<rect x="65.50" y="64.00" width="6.25" height="1.00" fill="#6852ae"/>
<rect x="65.50" y="65.00" width="6.25" height="1.00" fill="#6852ae"/>
<rect x="65.50" y="66.00" width="6.25" height="1.00" fill="#6852ae"/>
<rect x="65.50" y="67.00" width="6.25" height="1.00" fill="#6852ae"/>
<rect x="65.50" y="68.00" width="6.25" height="1.00" fill="#6852ae"/>
<rect x="65.50" y="69.00" width="6.25" height="1.00" fill="#6852ae"/>
<rect x="65.50" y="70.00" width="6.25" height="1.00" fill="#6852ae"/>
<rect x="65.50" y="71.00" width="6.25" height="1.00" fill="#6852ae"/>
<rect x="65.50" y="72.00" width="6.25" height="1.00" fill="#6852ae"/>
<rect x="65.50" y="73.00" width="6.25" height="1.00" fill="#6852ae"/>
<rect x="65.50" y="74.00" width="6.25" height="1.00" fill="#6852ae"/>
<rect x="65.50" y="75.00" width="6.25" height="1.00" fill="#6852ae"/>
<rect x="65.50" y="76.00" width="6.25" height="1.00" fill="#6852ae"/>
<rect x="65.50" y="77.00" width="6.25" height="1.00" fill="#6852ae"/>
<rect x="65.50" y="78.00" width="6.25" height="1.00" fill="#6852ae"/>
<rect x="65.50" y="79.00" width="6.25" height="1.00" fill="#6852ae"/>
<rect x="65.50" y="80.00" width="6.25" height="1.00" fill="#6852ae"/>
<rect x="65.50" y="81.00" width="6.25" height="1.00" fill="#2a79c1"/>
<rect x="65.50" y="82.00" width="6.25" height="1.00" fill="#2282c5"/>
<rect x="65.50" y="83.00" width="6.25" height="1.00" fill="#1e89c5"/>
<rect x="65.50" y="84.00" width="6.25" height="1.00" fill="#1d8ec3"/>
<rect x="65.50" y="85.00" width="6.25" height="1.00" fill="#1c93c1"/>
<rect x="65.50" y="86.00" width="6.25" height="1.00" fill="#1b98bf"/>
<rect x="65.50" y="87.00" width="6.25" height="1.00" fill="#1a9dbd"/>
<rect x="65.50" y="88.00" width="6.25" height="1.00" fill="#19a2bb"/>
<rect x="65.50" y="89.00" width="6.25" height="1.00" fill="#18a8b8"/>
<rect x="65.50" y="90.00" width="6.25" height="1.00" fill="#38b8a8"/>
<rect x="65.50" y="91.00" width="6.25" height="1.00" fill="#67cb9a"/>
<rect x="65.50" y="92.00" width="6.25" height="1.00" fill="#aae095"/>
<rect x="65.50" y="93.00" width="6.25" height="1.00" fill="#e2f0a2"/>
<rect x="65.50" y="94.00" width="6.25" height="1.00" fill="#fae293"/>
<rect x="65.50" y="95.00" width="6.25" height="1.00" fill="#fbb56c"/>
<rect x="65.50" y="96.00" width="6.25" height="1.00" fill="#f5804c"/>
<rect x="65.50" y="97.00" width="6.25" height="1.00" fill="#ec5542"/>
<rect x="65.50" y="98.00" width="6.25" height="1.00" fill="#df3643"/>
<rect x="65.50" y="99.00" width="6.25" height="1.00" fill="#d42345"/>
<rect x="65.50" y="100.00" width="6.25" height="1.00" fill="#ce1847"/>
<rect x="65.50" y="101.00" width="6.25" height="1.00" fill="#ce1847"/>
<rect x="65.50" y="102.00" width="6.25" height="1.00" fill="#d42345"/>
<rect x="65.50" y="103.00" width="6.25" height="1.00" fill="#df3643"/>
<rect x="65.50" y="104.00" width="6.25" height="1.00" fill="#ec5542"/>
<rect x="65.50" y="105.00" width="6.25" height="1.00" fill="#f5804c"/>
<rect x="65.50" y="106.00" width="6.25" height="1.00" fill="#fbb56c"/>
<rect x="65.50" y="107.00" width="6.25" height="1.00" fill="#fae293"/>
<rect x="65.50" y="108.00" width="6.25" height="1.00" fill="#e2f0a2"/>
<rect x="65.50" y="109.00" width="6.25" height="1.00" fill="#aae095"/>
<rect x="65.50" y="110.00" width="6.25" height="1.00" fill="#67cb9a"/>
<rect x="65.50" y="111.00" width="6.25" height="1.00" fill="#38b8a8"/>
<rect x="65.50" y="112.00" width="6.25" height="1.00" fill="#18a8b8"/>
<rect x="65.50" y="113.00" width="6.25" height="1.00" fill="#1a9fbc"/>
<rect x="65.50" y="114.00" width="6.25" height="1.00" fill="#1b9abe"/>
<rect x="65.50" y="115.00" width="6.25" height="1.00" fill="#1c95c0"/>
<rect x="65.50" y="116.00" width="6.25" height="1.00" fill="#1d90c2"/>
<rect x="65.50" y="117.00" width="6.25" height="1.00" fill="#1e8bc4"/>
<rect x="65.50" y="118.00" width="6.25" height="1.00" fill="#1f87c6"/>
<rect x="65.50" y="119.00" width="6.25" height="1.00" fill="#267ec3"/>
<rect x="65.50" y="120.00" width="6.25" height="1.00" fill="#6852ae"/>
<rect x="65.50" y="121.00" width="6.25" height="1.00" fill="#6852ae"/>
<rect x="65.50" y="122.00" width="6.25" height="1.00" fill="#6852ae"/>
<rect x="65.50" y="123.00" width="6.25" height="1.00" fill="#6852ae"/>
<rect x="65.50" y="124.00" width="6.25" height="1.00" fill="#6852ae"/>
<rect x="65.50" y="125.00" width="6.25" height="1.00" fill="#6852ae"/>
<rect x="65.50" y="126.00" width="6.25" height="1.00" fill="#6852ae"/>
<rect x="65.50" y="127.00" width="6.25" height="1.00" fill="#6852ae"/>
<rect x="65.50" y="128.00" width="6.25" height="1.00" fill="#6852ae"/>
<rect x="65.50" y="129.00" width="6.25" height="1.00" fill="#6852ae"/>
<rect x="65.50" y="130.00" width="6.25" height="1.00" fill="#6852ae"/>
<rect x="65.50" y="131.00" width="6.25" height="1.00" fill="#6852ae"/>
<rect x="65.50" y="132.00" width="6.25" height="1.00" fill="#6852ae"/>
<rect x="65.50" y="133.00" width="6.25" height="1.00" fill="#6852ae"/>
<rect x="65.50" y="134.00" width="6.25" height="1.00" fill="#6852ae"/>
<rect x="65.50" y="135.00" width="6.25" height="1.00" fill="#6852ae"/>
<rect x="65.50" y="136.00" width="6.25" height="1.00" fill="#6852ae"/>
<rect x="65.50" y="137.00" width="6.25" height="1.00" fill="#6852ae"/>
<rect x="65.50" y="138.00" width="6.25" height="1.00" fill="#6852ae"/>
<rect x="65.50" y="139.00" width="6.25" height="1.00" fill="#6852ae"/>
<rect x="65.50" y="140.00" width="6.25" height="1.00" fill="#6852ae"/>
<rect x="65.50" y="141.00" width="6.25" height="1.00" fill="#6852ae"/>
<rect x="65.50" y="142.00" width="6.25" height="1.00" fill="#6852ae"/>
<rect x="71.75" y="60.00" width="6.25" height="1.00" fill="#6852ae"/>
<rect x="71.75" y="61.00" width="6.25" height="1.00" fill="#6852ae"/>
<rect x="71.75" y="62.00" width="6.25" height="1.00" fill="#6852ae"/>
<rect x="71.75" y="63.00" width="6.25" height="1.00" fill="#6852ae"/>
<rect x="71.75" y="64.00" width="6.25" height="1.00" fill="#6852ae"/>
<rect x="71.75" y="65.00" width="6.25" height="1.00" fill="#6852ae"/>
<rect x="71.75" y="66.00" width="6.25" height="1.00" fill="#6852ae"/>
<rect x="71.75" y="67.00" width="6.25" height="1.00" fill="#6852ae"/>
<rect x="71.75" y="68.00" width="6.25" height="1.00" fill="#6852ae"/>
<rect x="71.75" y="69.00" width="6.25" height="1.00" fill="#6852ae"/>
<rect x="71.75" y="70.00" width="6.25" height="1.00" fill="#6852ae"/>
<rect x="71.75" y="71.00" width="6.25" height="1.00" fill="#6852ae"/>
<rect x="71.75" y="72.00" width="6.25" height="1.00" fill="#6852ae"/>
<rect x="71.75" y="73.00" width="6.25" height="1.00" fill="#6852ae"/>
<rect x="71.75" y="74.00" width="6.25" height="1.00" fill="#6852ae"/>
<rect x="71.75" y="75.00" width="6.25" height="1.00" fill="#6852ae"/>
<rect x="71.75" y="76.00" width="6.25" height="1.00" fill="#6852ae"/>
<rect x="71.75" y="77.00" width="6.25" height="1.00" fill="#6852ae"/>
<rect x="71.75" y="78.00" width="6.25" height="1.00" fill="#6852ae"/>
<rect x="71.75" y="79.00" width="6.25" height="1.00" fill="#6852ae"/>
<rect x="71.75" y="80.00" width="6.25" height="1.00" fill="#6852ae"/>
<rect x="71.75" y="81.00" width="6.25" height="1.00" fill="#6852ae"/>
<rect x="71.75" y="82.00" width="6.25" height="1.00" fill="#6852ae"/>
<rect x="71.75" y="83.00" width="6.25" height="1.00" fill="#6852ae"/>
<rect x="71.75" y="84.00" width="6.25" height="1.00" fill="#6852ae"/>
<rect x="71.75" y="85.00" width="6.25" height="1.00" fill="#6852ae"/>
<rect x="71.75" y="86.00" width="6.25" height="1.00" fill="#6852ae"/>
<rect x="71.75" y="87.00" width="6.25" height="1.00" fill="#6852ae"/>
<rect x="71.75" y="88.00" width="6.25" height="1.00" fill="#6852ae"/>
<rect x="71.75" y="89.00" width="6.25" height="1.00" fill="#6852ae"/>
<rect x="71.75" y="90.00" width="6.25" height="1.00" fill="#6852ae"/>
<rect x="71.75" y="91.00" width="6.25" height="1.00" fill="#6852ae"/>
<rect x="71.75" y="92.00" width="6.25" height="1.00" fill="#267ec3"/>
<rect x="71.75" y="93.00" width="6.25" height="1.00" fill="#1f87c6"/>
<rect x="71.75" y="94.00" width="6.25" height="1.00" fill="#1e8bc4"/>
<rect x="71.75" y="95.00" width="6.25" height="1.00" fill="#1d90c2"/>
<rect x="71.75" y="96.00" width="6.25" height="1.00" fill="#1c95c0"/>
<rect x="71.75" y="97.00" width="6.25" height="1.00" fill="#1b9abe"/>
<rect x="71.75" y="98.00" width="6.25" height="1.00" fill="#1a9fbc"/>
<rect x="71.75" y="99.00" width="6.25" height="1.00" fill="#18a8b8"/>
<rect x="71.75" y="100.00" width="6.25" height="1.00" fill="#43bda3"/>
<rect x="71.75" y="101.00" width="6.25" height="1.00" fill="#88d598"/>
<rect x="71.75" y="102.00" width="6.25" height="1.00" fill="#d3ec9d"/>
<rect x="71.75" y="103.00" width="6.25" height="1.00" fill="#fae596"/>
<rect x="71.75" y="104.00" width="6.25" height="1.00" fill="#fbb46b"/>
<rect x="71.75" y="105.00" width="6.25" height="1.00" fill="#f47e4c"/>
<rect x="71.75" y="106.00" width="6.25" height="1.00" fill="#ed5a44"/>
<rect x="71.75" y="107.00" width="6.25" height="1.00" fill="#e84740"/>
<rect x="71.75" y="108.00" width="6.25" height="1.00" fill="#e84640"/>
<rect x="71.75" y="109.00" width="6.25" height="1.00" fill="#eb4f41"/>
<rect x="71.75" y="110.00" width="6.25" height="1.00" fill="#ef6346"/>
<rect x="71.75" y="111.00" width="6.25" height="1.00" fill="#f47e4c"/>
<rect x="71.75" y="112.00" width="6.25" height="1.00" fill="#faa35e"/>
<rect x="71.75" y="113.00" width="6.25" height="1.00" fill="#fecf80"/>
<rect x="71.75" y="114.00" width="6.25" height="1.00" fill="#f9ea9c"/>
<rect x="71.75" y="115.00" width="6.25" height="1.00" fill="#dcefa0"/>
<rect x="71.75" y="116.00" width="6.25" height="1.00" fill="#ace095"/>
<rect x="71.75" y="117.00" width="6.25" height="1.00" fill="#71ce99"/>
<rect x="71.75" y="118.00" width="6.25" height="1.00" fill="#43bda3"/>
<rect x="71.75" y="119.00" width="6.25" height="1.00" fill="#23aeb2"/>
<rect x="71.75" y="120.00" width="6.25" height="1.00" fill="#23aeb2"/>
<rect x="71.75" y="121.00" width="6.25" height="1.00" fill="#23aeb2"/>
<rect x="71.75" y="122.00" width="6.25" height="1.00" fill="#23aeb2"/>
<rect x="71.75" y="123.00" width="6.25" height="1.00" fill="#23aeb2"/>
<rect x="71.75" y="124.00" width="6.25" height="1.00" fill="#23aeb2"/>
<rect x="71.75" y="125.00" width="6.25" height="1.00" fill="#23aeb2"/>
<rect x="71.75" y="126.00" width="6.25" height="1.00" fill="#23aeb2"/>
<rect x="71.75" y="127.00" width="6.25" height="1.00" fill="#23aeb2"/>
<rect x="71.75" y="128.00" width="6.25" height="1.00" fill="#23aeb2"/>
<rect x="71.75" y="129.00" width="6.25" height="1.00" fill="#23aeb2"/>
<rect x="71.75" y="130.00" width="6.25" height="1.00" fill="#23aeb2"/>
<rect x="71.75" y="131.00" width="6.25" height="1.00" fill="#1eabb5"/>
<rect x="71.75" y="132.00" width="6.25" height="1.00" fill="#19a5b9"/>
<rect x="71.75" y="133.00" width="6.25" height="1.00" fill="#1a9ebc"/>
<rect x="71.75" y="134.00" width="6.25" height="1.00" fill="#1c97bf"/>
<rect x="71.75" y="135.00" width="6.25" height="1.00" fill="#1d90c2"/>
<rect x="71.75" y="136.00" width="6.25" height="1.00" fill="#1e89c5"/>
<rect x="71.75" y="137.00" width="6.25" height="1.00" fill="#6852ae"/>
<rect x="71.75" y="138.00" width="6.25" height="1.00" fill="#6852ae"/>
<rect x="71.75" y="139.00" width="6.25" height="1.00" fill="#6852ae"/>
<rect x="71.75" y="140.00" width="6.25" height="1.00" fill="#6852ae"/>
<rect x="71.75" y="141.00" width="6.25" height="1.00" fill="#6852ae"/>
<rect x="71.75" y="142.00" width="6.25" height="1.00" fill="#6852ae"/>
<rect x="78.00" y="60.00" width="6.25" height="1.00" fill="#6852ae"/>
<rect x="78.00" y="61.00" width="6.25" height="1.00" fill="#6852ae"/>
<rect x="78.00" y="62.00" width="6.25" height="1.00" fill="#6852ae"/>
<rect x="78.00" y="63.00" width="6.25" height="1.00" fill="#6852ae"/>
<rect x="78.00" y="64.00" width="6.25" height="1.00" fill="#6852ae"/>
<rect x="78.00" y="65.00" width="6.25" height="1.00" fill="#6852ae"/>
<rect x="78.00" y="66.00" width="6.25" height="1.00" fill="#6852ae"/>
<rect x="78.00" y="67.00" width="6.25" height="1.00" fill="#6852ae"/>
<rect x="78.00" y="68.00" width="6.25" height="1.00" fill="#6852ae"/>
<rect x="78.00" y="69.00" width="6.25" height="1.00" fill="#6852ae"/>
<rect x="78.00" y="70.00" width="6.25" height="1.00" fill="#6852ae"/>
<rect x="78.00" y="71.00" width="6.25" height="1.00" fill="#6852ae"/>
<rect x="78.00" y="72.00" width="6.25" height="1.00" fill="#6852ae"/>
<rect x="78.00" y="73.00" width="6.25" height="1.00" fill="#6852ae"/>
<rect x="78.00" y="74.00" width="6.25" height="1.00" fill="#6852ae"/>
<rect x="78.00" y="75.00" width="6.25" height="1.00" fill="#6852ae"/>
<rect x="78.00" y="76.00" width="6.25" height="1.00" fill="#6852ae"/>
<rect x="78.00" y="77.00" width="6.25" height="1.00" fill="#6852ae"/>
<rect x="78.00" y="78.00" width="6.25" height="1.00" fill="#6852ae"/>
<rect x="78.00" y="79.00" width="6.25" height="1.00" fill="#6852ae"/>
<rect x="78.00" y="80.00" width="6.25" height="1.00" fill="#6852ae"/>
<rect x="78.00" y="81.00" width="6.25" height="1.00" fill="#6852ae"/>
<rect x="78.00" y="82.00" width="6.25" height="1.00" fill="#6852ae"/>
<rect x="78.00" y="83.00" width="6.25" height="1.00" fill="#6852ae"/>
<rect x="78.00" y="84.00" width="6.25" height="1.00" fill="#6852ae"/>
<rect x="78.00" y="85.00" width="6.25" height="1.00" fill="#6852ae"/>
<rect x="78.00" y="86.00" width="6.25" height="1.00" fill="#6852ae"/>
<rect x="78.00" y="87.00" width="6.25" height="1.00" fill="#6852ae"/>
<rect x="78.00" y="88.00" width="6.25" height="1.00" fill="#6852ae"/>
<rect x="78.00" y="89.00" width="6.25" height="1.00" fill="#6852ae"/>
<rect x="78.00" y="90.00" width="6.25" height="1.00" fill="#6852ae"/>
<rect x="78.00" y="91.00" width="6.25" height="1.00" fill="#6852ae"/>
<rect x="78.00" y="92.00" width="6.25" height="1.00" fill="#34b6aa"/>
<rect x="78.00" y="93.00" width="6.25" height="1.00" fill="#65cb9a"/>
<rect x="78.00" y="94.00" width="6.25" height="1.00" fill="#b0e295"/>
<rect x="78.00" y="95.00" width="6.25" height="1.00" fill="#eef4a5"/>
<rect x="78.00" y="96.00" width="6.25" height="1.00" fill="#fdd787"/>
<rect x="78.00" y="97.00" width="6.25" height="1.00" fill="#f99957"/>
<rect x="78.00" y="98.00" width="6.25" height="1.00" fill="#ef6145"/>
<rect x="78.00" y="99.00" width="6.25" height="1.00" fill="#df3643"/>
<rect x="78.00" y="100.00" width="6.25" height="1.00" fill="#ce1947"/>
<rect x="78.00" y="101.00" width="6.25" height="1.00" fill="#c40649"/>
<rect x="78.00" y="102.00" width="6.25" height="1.00" fill="#c0004a"/>
<rect x="78.00" y="103.00" width="6.25" height="1.00" fill="#c40649"/>
<rect x="78.00" y="104.00" width="6.25" height="1.00" fill="#ce1947"/>
<rect x="78.00" y="105.00" width="6.25" height="1.00" fill="#df3643"/>
<rect x="78.00" y="106.00" width="6.25" height="1.00" fill="#ef6145"/>
<rect x="78.00" y="107.00" width="6.25" height="1.00" fill="#f99957"/>
<rect x="78.00" y="108.00" width="6.25" height="1.00" fill="#fdd787"/>
<rect x="78.00" y="109.00" width="6.25" height="1.00" fill="#eef4a5"/>
<rect x="78.00" y="110.00" width="6.25" height="1.00" fill="#b0e295"/>
<rect x="78.00" y="111.00" width="6.25" height="1.00" fill="#65cb9a"/>
<rect x="78.00" y="112.00" width="6.25" height="1.00" fill="#34b6aa"/>
<rect x="78.00" y="113.00" width="6.25" height="1.00" fill="#1eabb5"/>
<rect x="78.00" y="114.00" width="6.25" height="1.00" fill="#1eabb5"/>
<rect x="78.00" y="115.00" width="6.25" height="1.00" fill="#1eabb5"/>
<rect x="78.00" y="116.00" width="6.25" height="1.00" fill="#18a6b9"/>
<rect x="78.00" y="117.00" width="6.25" height="1.00" fill="#19a2bb"/>
<rect x="78.00" y="118.00" width="6.25" height="1.00" fill="#1a9dbd"/>
<rect x="78.00" y="119.00" width="6.25" height="1.00" fill="#1b98bf"/>
<rect x="78.00" y="120.00" width="6.25" height="1.00" fill="#1c93c1"/>
<rect x="78.00" y="121.00" width="6.25" height="1.00" fill="#1d8ec3"/>
<rect x="78.00" y="122.00" width="6.25" height="1.00" fill="#1e89c5"/>
<rect x="78.00" y="123.00" width="6.25" height="1.00" fill="#2282c5"/>
<rect x="78.00" y="124.00" width="6.25" height="1.00" fill="#2a79c1"/>
<rect x="78.00" y="125.00" width="6.25" height="1.00" fill="#6852ae"/>
<rect x="78.00" y="126.00" width="6.25" height="1.00" fill="#6852ae"/>
<rect x="78.00" y="127.00" width="6.25" height="1.00" fill="#6852ae"/>
<rect x="78.00" y="128.00" width="6.25" height="1.00" fill="#6852ae"/>
<rect x="78.00" y="129.00" width="6.25" height="1.00" fill="#6852ae"/>
<rect x="78.00" y="130.00" width="6.25" height="1.00" fill="#6852ae"/>
<rect x="78.00" y="131.00" width="6.25" height="1.00" fill="#6852ae"/>
<rect x="78.00" y="132.00" width="6.25" height="1.00" fill="#6852ae"/>
<rect x="78.00" y="133.00" width="6.25" height="1.00" fill="#6852ae"/>
<rect x="78.00" y="134.00" width="6.25" height="1.00" fill="#6852ae"/>
<rect x="78.00" y="135.00" width="6.25" height="1.00" fill="#6852ae"/>
<rect x="78.00" y="136.00" width="6.25" height="1.00" fill="#6852ae"/>
<rect x="78.00" y="137.00" width="6.25" height="1.00" fill="#6852ae"/>
<rect x="78.00" y="138.00" width="6.25" height="1.00" fill="#6852ae"/>
<rect x="78.00" y="139.00" width="6.25" height="1.00" fill="#6852ae"/>
<rect x="78.00" y="140.00" width="6.25" height="1.00" fill="#6852ae"/>
<rect x="78.00" y="141.00" width="6.25" height="1.00" fill="#6852ae"/>
<rect x="78.00" y="142.00" width="6.25" height="1.00" fill="#6852ae"/>
<rect x="84.25" y="60.00" width="6.25" height="1.00" fill="#6852ae"/>
<rect x="84.25" y="61.00" width="6.25" height="1.00" fill="#6852ae"/>
<rect x="84.25" y="62.00" width="6.25" height="1.00" fill="#6852ae"/>
<rect x="84.25" y="63.00" width="6.25" height="1.00" fill="#6852ae"/>
<rect x="84.25" y="64.00" width="6.25" height="1.00" fill="#6852ae"/>
<rect x="84.25" y="65.00" width="6.25" height="1.00" fill="#6852ae"/>
<rect x="84.25" y="66.00" width="6.25" height="1.00" fill="#6852ae"/>
<rect x="84.25" y="67.00" width="6.25" height="1.00" fill="#6852ae"/>
<rect x="84.25" y="68.00" width="6.25" height="1.00" fill="#6852ae"/>
<rect x="84.25" y="69.00" width="6.25" height="1.00" fill="#6852ae"/>
<rect x="84.25" y="70.00" width="6.25" height="1.00" fill="#6852ae"/>
<rect x="84.25" y="71.00" width="6.25" height="1.00" fill="#6852ae"/>
<rect x="84.25" y="72.00" width="6.25" height="1.00" fill="#6852ae"/>
<rect x="84.25" y="73.00" width="6.25" height="1.00" fill="#6852ae"/>
<rect x="84.25" y="74.00" width="6.25" height="1.00" fill="#6852ae"/>
<rect x="84.25" y="75.00" width="6.25" height="1.00" fill="#6852ae"/>
<rect x="84.25" y="76.00" width="6.25" height="1.00" fill="#6852ae"/>
<rect x="84.25" y="77.00" width="6.25" height="1.00" fill="#6852ae"/>
<rect x="84.25" y="78.00" width="6.25" height="1.00" fill="#6852ae"/>
<rect x="84.25" y="79.00" width="6.25" height="1.00" fill="#267ec3"/>
<rect x="84.25" y="80.00" width="6.25" height="1.00" fill="#1f87c6"/>
<rect x="84.25" y="81.00" width="6.25" height="1.00" fill="#1e8bc4"/>
<rect x="84.25" y="82.00" width="6.25" height="1.00" fill="#1d90c2"/>
<rect x="84.25" y="83.00" width="6.25" height="1.00" fill="#1c95c0"/>
<rect x="84.25" y="84.00" width="6.25" height="1.00" fill="#1b9abe"/>
<rect x="84.25" y="85.00" width="6.25" height="1.00" fill="#1a9fbc"/>
<rect x="84.25" y="86.00" width="6.25" height="1.00" fill="#19a4ba"/>
<rect x="84.25" y="87.00" width="6.25" height="1.00" fill="#1aa9b7"/>
<rect x="84.25" y="88.00" width="6.25" height="1.00" fill="#1eabb5"/>
<rect x="84.25" y="89.00" width="6.25" height="1.00" fill="#1eabb5"/>
<rect x="84.25" y="90.00" width="6.25" height="1.00" fill="#2ab1af"/>
<rect x="84.25" y="91.00" width="6.25" height="1.00" fill="#49c19f"/>
<rect x="84.25" y="92.00" width="6.25" height="1.00" fill="#7bd199"/>
<rect x="84.25" y="93.00" width="6.25" height="1.00" fill="#b5e394"/>
<rect x="84.25" y="94.00" width="6.25" height="1.00" fill="#e0f0a1"/>
<rect x="84.25" y="95.00" width="6.25" height="1.00" fill="#f9ea9b"/>
<rect x="84.25" y="96.00" width="6.25" height="1.00" fill="#fed282"/>
<rect x="84.25" y="97.00" width="6.25" height="1.00" fill="#faab64"/>
<rect x="84.25" y="98.00" width="6.25" height="1.00" fill="#f78a4f"/>
<rect x="84.25" y="99.00" width="6.25" height="1.00" fill="#f2744a"/>
<rect x="84.25" y="100.00" width="6.25" height="1.00" fill="#f06646"/>
<rect x="84.25" y="101.00" width="6.25" height="1.00" fill="#ef6145"/>
<rect x="84.25" y="102.00" width="6.25" height="1.00" fill="#f06646"/>
<rect x="84.25" y="103.00" width="6.25" height="1.00" fill="#f2744a"/>
<rect x="84.25" y="104.00" width="6.25" height="1.00" fill="#f78a4f"/>
<rect x="84.25" y="105.00" width="6.25" height="1.00" fill="#faab64"/>
<rect x="84.25" y="106.00" width="6.25" height="1.00" fill="#fed282"/>
<rect x="84.25" y="107.00" width="6.25" height="1.00" fill="#f9ea9b"/>
<rect x="84.25" y="108.00" width="6.25" height="1.00" fill="#e0f0a1"/>
<rect x="84.25" y="109.00" width="6.25" height="1.00" fill="#b5e394"/>
<rect x="84.25" y="110.00" width="6.25" height="1.00" fill="#7bd199"/>
<rect x="84.25" y="111.00" width="6.25" height="1.00" fill="#49c19f"/>
<rect x="84.25" y="112.00" width="6.25" height="1.00" fill="#2ab1af"/>
<rect x="84.25" y="113.00" width="6.25" height="1.00" fill="#19a3ba"/>
<rect x="84.25" y="114.00" width="6.25" height="1.00" fill="#1a9ebc"/>
<rect x="84.25" y="115.00" width="6.25" height="1.00" fill="#1b99be"/>
<rect x="84.25" y="116.00" width="6.25" height="1.00" fill="#1c94c0"/>
<rect x="84.25" y="117.00" width="6.25" height="1.00" fill="#1d8fc2"/>
<rect x="84.25" y="118.00" width="6.25" height="1.00" fill="#1e8ac4"/>
<rect x="84.25" y="119.00" width="6.25" height="1.00" fill="#2085c6"/>
<rect x="84.25" y="120.00" width="6.25" height="1.00" fill="#277cc2"/>
<rect x="84.25" y="121.00" width="6.25" height="1.00" fill="#6852ae"/>
<rect x="84.25" y="122.00" width="6.25" height="1.00" fill="#6852ae"/>
<rect x="84.25" y="123.00" width="6.25" height="1.00" fill="#6852ae"/>
<rect x="84.25" y="124.00" width="6.25" height="1.00" fill="#6852ae"/>
<rect x="84.25" y="125.00" width="6.25" height="1.00" fill="#6852ae"/>
<rect x="84.25" y="126.00" width="6.25" height="1.00" fill="#6852ae"/>
<rect x="84.25" y="127.00" width="6.25" height="1.00" fill="#6852ae"/>
<rect x="84.25" y="128.00" width="6.25" height="1.00" fill="#6852ae"/>
<rect x="84.25" y="129.00" width="6.25" height="1.00" fill="#6852ae"/>
<rect x="84.25" y="130.00" width="6.25" height="1.00" fill="#6852ae"/>
<rect x="84.25" y="131.00" width="6.25" height="1.00" fill="#6852ae"/>
<rect x="84.25" y="132.00" width="6.25" height="1.00" fill="#6852ae"/>
<rect x="84.25" y="133.00" width="6.25" height="1.00" fill="#6852ae"/>
<rect x="84.25" y="134.00" width="6.25" height="1.00" fill="#6852ae"/>
<rect x="84.25" y="135.00" width="6.25" height="1.00" fill="#6852ae"/>
<rect x="84.25" y="136.00" width="6.25" height="1.00" fill="#6852ae"/>
<rect x="84.25" y="137.00" width="6.25" height="1.00" fill="#6852ae"/>
<rect x="84.25" y="138.00" width="6.25" height="1.00" fill="#6852ae"/>
<rect x="84.25" y="139.00" width="6.25" height="1.00" fill="#6852ae"/>
<rect x="84.25" y="140.00" width="6.25" height="1.00" fill="#6852ae"/>
<rect x="84.25" y="141.00" width="6.25" height="1.00" fill="#6852ae"/>
<rect x="84.25" y="142.00" width="6.25" height="1.00" fill="#6852ae"/>
<rect x="90.50" y="60.00" width="6.25" height="1.00" fill="#6852ae"/>
<rect x="90.50" y="61.00" width="6.25" height="1.00" fill="#6852ae"/>
<rect x="90.50" y="62.00" width="6.25" height="1.00" fill="#6852ae"/>
<rect x="90.50" y="63.00" width="6.25" height="1.00" fill="#6852ae"/>
<rect x="90.50" y="64.00" width="6.25" height="1.00" fill="#6852ae"/>
<rect x="90.50" y="65.00" width="6.25" height="1.00" fill="#6852ae"/>
<rect x="90.50" y="66.00" width="6.25" height="1.00" fill="#6852ae"/>
<rect x="90.50" y="67.00" width="6.25" height="1.00" fill="#6852ae"/>
<rect x="90.50" y="68.00" width="6.25" height="1.00" fill="#6852ae"/>
<rect x="90.50" y="69.00" width="6.25" height="1.00" fill="#6852ae"/>
<rect x="90.50" y="70.00" width="6.25" height="1.00" fill="#6852ae"/>
<rect x="90.50" y="71.00" width="6.25" height="1.00" fill="#6852ae"/>
<rect x="90.50" y="72.00" width="6.25" height="1.00" fill="#6852ae"/>
<rect x="90.50" y="73.00" width="6.25" height="1.00" fill="#6852ae"/>
<rect x="90.50" y="74.00" width="6.25" height="1.00" fill="#6852ae"/>
<rect x="90.50" y="75.00" width="6.25" height="1.00" fill="#6852ae"/>
<rect x="90.50" y="76.00" width="6.25" height="1.00" fill="#267ec3"/>
<rect x="90.50" y="77.00" width="6.25" height="1.00" fill="#1f87c6"/>
<rect x="90.50" y="78.00" width="6.25" height="1.00" fill="#1e8bc4"/>
<rect x="90.50" y="79.00" width="6.25" height="1.00" fill="#1d90c2"/>
<rect x="90.50" y="80.00" width="6.25" height="1.00" fill="#1c95c0"/>
<rect x="90.50" y="81.00" width="6.25" height="1.00" fill="#1b9abe"/>
<rect x="90.50" y="82.00" width="6.25" height="1.00" fill="#1a9fbc"/>
<rect x="90.50" y="83.00" width="6.25" height="1.00" fill="#19a4ba"/>
<rect x="90.50" y="84.00" width="6.25" height="1.00" fill="#1aa9b7"/>
<rect x="90.50" y="85.00" width="6.25" height="1.00" fill="#1eabb5"/>
<rect x="90.50" y="86.00" width="6.25" height="1.00" fill="#1eabb5"/>
<rect x="90.50" y="87.00" width="6.25" height="1.00" fill="#1eabb5"/>
<rect x="90.50" y="88.00" width="6.25" height="1.00" fill="#30b4ac"/>
<rect x="90.50" y="89.00" width="6.25" height="1.00" fill="#4ec39d"/>
<rect x="90.50" y="90.00" width="6.25" height="1.00" fill="#81d398"/>
<rect x="90.50" y="91.00" width="6.25" height="1.00" fill="#b9e494"/>
<rect x="90.50" y="92.00" width="6.25" height="1.00" fill="#e4f1a2"/>
<rect x="90.50" y="93.00" width="6.25" height="1.00" fill="#f9e798"/>
<rect x="90.50" y="94.00" width="6.25" height="1.00" fill="#fdc97b"/>
<rect x="90.50" y="95.00" width="6.25" height="1.00" fill="#f99b58"/>
<rect x="90.50" y="96.00" width="6.25" height="1.00" fill="#f27349"/>
<rect x="90.50" y="97.00" width="6.25" height="1.00" fill="#eb5142"/>
<rect x="90.50" y="98.00" width="6.25" height="1.00" fill="#e03942"/>
<rect x="90.50" y="99.00" width="6.25" height="1.00" fill="#d62745"/>
<rect x="90.50" y="100.00" width="6.25" height="1.00" fill="#d01c46"/>
<rect x="90.50" y="101.00" width="6.25" height="1.00" fill="#cd1747"/>
<rect x="90.50" y="102.00" width="6.25" height="1.00" fill="#ce1947"/>
<rect x="90.50" y="103.00" width="6.25" height="1.00" fill="#d32245"/>
<rect x="90.50" y="104.00" width="6.25" height="1.00" fill="#dc3143"/>
<rect x="90.50" y="105.00" width="6.25" height="1.00" fill="#e84641"/>
<rect x="90.50" y="106.00" width="6.25" height="1.00" fill="#ef6546"/>
<rect x="90.50" y="107.00" width="6.25" height="1.00" fill="#f78a4f"/>
<rect x="90.50" y="108.00" width="6.25" height="1.00" fill="#fbb66d"/>
<rect x="90.50" y="109.00" width="6.25" height="1.00" fill="#fcdd8d"/>
<rect x="90.50" y="110.00" width="6.25" height="1.00" fill="#f5f6a8"/>
<rect x="90.50" y="111.00" width="6.25" height="1.00" fill="#cae99a"/>
<rect x="90.50" y="112.00" width="6.25" height="1.00" fill="#97da97"/>
<rect x="90.50" y="113.00" width="6.25" height="1.00" fill="#61c99b"/>
<rect x="90.50" y="114.00" width="6.25" height="1.00" fill="#3cbaa6"/>
<rect x="90.50" y="115.00" width="6.25" height="1.00" fill="#20acb4"/>
<rect x="90.50" y="116.00" width="6.25" height="1.00" fill="#18a6b9"/>
<rect x="90.50" y="117.00" width="6.25" height="1.00" fill="#19a2bb"/>
<rect x="90.50" y="118.00" width="6.25" height="1.00" fill="#1a9dbd"/>
<rect x="90.50" y="119.00" width="6.25" height="1.00" fill="#1b98bf"/>
<rect x="90.50" y="120.00" width="6.25" height="1.00" fill="#1c93c1"/>
<rect x="90.50" y="121.00" width="6.25" height="1.00" fill="#1d8ec3"/>
<rect x="90.50" y="122.00" width="6.25" height="1.00" fill="#1e89c5"/>
<rect x="90.50" y="123.00" width="6.25" height="1.00" fill="#2282c5"/>
<rect x="90.50" y="124.00" width="6.25" height="1.00" fill="#2a79c1"/>
<rect x="90.50" y="125.00" width="6.25" height="1.00" fill="#6852ae"/>
<rect x="90.50" y="126.00" width="6.25" height="1.00" fill="#6852ae"/>
<rect x="90.50" y="127.00" width="6.25" height="1.00" fill="#6852ae"/>
<rect x="90.50" y="128.00" width="6.25" height="1.00" fill="#6852ae"/>
<rect x="90.50" y="129.00" width="6.25" height="1.00" fill="#6852ae"/>
<rect x="90.50" y="130.00" width="6.25" height="1.00" fill="#6852ae"/>
<rect x="90.50" y="131.00" width="6.25" height="1.00" fill="#6852ae"/>
<rect x="90.50" y="132.00" width="6.25" height="1.00" fill="#6852ae"/>
<rect x="90.50" y="133.00" width="6.25" height="1.00" fill="#6852ae"/>
<rect x="90.50" y="134.00" width="6.25" height="1.00" fill="#6852ae"/>
<rect x="90.50" y="135.00" width="6.25" height="1.00" fill="#6852ae"/>
<rect x="90.50" y="136.00" width="6.25" height="1.00" fill="#6852ae"/>
<rect x="90.50" y="137.00" width="6.25" height="1.00" fill="#6852ae"/>
<rect x="90.50" y="138.00" width="6.25" height="1.00" fill="#6852ae"/>
<rect x="90.50" y="139.00" width="6.25" height="1.00" fill="#6852ae"/>
<rect x="90.50" y="140.00" width="6.25" height="1.00" fill="#6852ae"/>
<rect x="90.50" y="141.00" width="6.25" height="1.00" fill="#6852ae"/>
<rect x="90.50" y="142.00" width="6.25" height="1.00" fill="#6852ae"/>
<rect x="96.75" y="60.00" width="6.25" height="1.00" fill="#6852ae"/>
<rect x="96.75" y="61.00" width="6.25" height="1.00" fill="#6852ae"/>
<rect x="96.75" y="62.00" width="6.25" height="1.00" fill="#6852ae"/>
<rect x="96.75" y="63.00" width="6.25" height="1.00" fill="#6852ae"/>
<rect x="96.75" y="64.00" width="6.25" height="1.00" fill="#6852ae"/>
<rect x="96.75" y="65.00" width="6.25" height="1.00" fill="#6852ae"/>
<rect x="96.75" y="66.00" width="6.25" height="1.00" fill="#6852ae"/>
<rect x="96.75" y="67.00" width="6.25" height="1.00" fill="#6852ae"/>
<rect x="96.75" y="68.00" width="6.25" height="1.00" fill="#6852ae"/>
<rect x="96.75" y="69.00" width="6.25" height="1.00" fill="#6852ae"/>
<rect x="96.75" y="70.00" width="6.25" height="1.00" fill="#6852ae"/>
<rect x="96.75" y="71.00" width="6.25" height="1.00" fill="#6852ae"/>
<rect x="96.75" y="72.00" width="6.25" height="1.00" fill="#6852ae"/>
<rect x="96.75" y="73.00" width="6.25" height="1.00" fill="#287bc2"/>
<rect x="96.75" y="74.00" width="6.25" height="1.00" fill="#2084c5"/>
<rect x="96.75" y="75.00" width="6.25" height="1.00" fill="#1e8ac4"/>
<rect x="96.75" y="76.00" width="6.25" height="1.00" fill="#1d8fc2"/>
<rect x="96.75" y="77.00" width="6.25" height="1.00" fill="#1c94c0"/>
<rect x="96.75" y="78.00" width="6.25" height="1.00" fill="#1b99be"/>
<rect x="96.75" y="79.00" width="6.25" height="1.00" fill="#1a9ebc"/>
<rect x="96.75" y="80.00" width="6.25" height="1.00" fill="#19a3ba"/>
<rect x="96.75" y="81.00" width="6.25" height="1.00" fill="#18a7b8"/>
<rect x="96.75" y="82.00" width="6.25" height="1.00" fill="#1eabb5"/>
<rect x="96.75" y="83.00" width="6.25" height="1.00" fill="#1eabb5"/>
<rect x="96.75" y="84.00" width="6.25" height="1.00" fill="#1eabb5"/>
<rect x="96.75" y="85.00" width="6.25" height="1.00" fill="#31b5ab"/>
<rect x="96.75" y="86.00" width="6.25" height="1.00" fill="#4fc39d"/>
<rect x="96.75" y="87.00" width="6.25" height="1.00" fill="#80d398"/>
<rect x="96.75" y="88.00" width="6.25" height="1.00" fill="#b7e494"/>
<rect x="96.75" y="89.00" width="6.25" height="1.00" fill="#e0f0a1"/>
<rect x="96.75" y="90.00" width="6.25" height="1.00" fill="#f9ea9c"/>
<rect x="96.75" y="91.00" width="6.25" height="1.00" fill="#fed282"/>
<rect x="96.75" y="92.00" width="6.25" height="1.00" fill="#faa761"/>
<rect x="96.75" y="93.00" width="6.25" height="1.00" fill="#f5814d"/>
<rect x="96.75" y="94.00" width="6.25" height="1.00" fill="#ef6245"/>
<rect x="96.75" y="95.00" width="6.25" height="1.00" fill="#e94940"/>
<rect x="96.75" y="96.00" width="6.25" height="1.00" fill="#e13a42"/>
<rect x="96.75" y="97.00" width="6.25" height="1.00" fill="#dc3143"/>
<rect x="96.75" y="98.00" width="6.25" height="1.00" fill="#da2e44"/>
<rect x="96.75" y="99.00" width="6.25" height="1.00" fill="#dc3243"/>
<rect x="96.75" y="100.00" width="6.25" height="1.00" fill="#e23c42"/>
<rect x="96.75" y="101.00" width="6.25" height="1.00" fill="#eb4d41"/>
<rect x="96.75" y="102.00" width="6.25" height="1.00" fill="#f06847"/>
<rect x="96.75" y="103.00" width="6.25" height="1.00" fill="#f6884e"/>
<rect x="96.75" y="104.00" width="6.25" height="1.00" fill="#fbaf68"/>
<rect x="96.75" y="105.00" width="6.25" height="1.00" fill="#fdd787"/>
<rect x="96.75" y="106.00" width="6.25" height="1.00" fill="#f8efa1"/>
<rect x="96.75" y="107.00" width="6.25" height="1.00" fill="#d8ed9e"/>
<rect x="96.75" y="108.00" width="6.25" height="1.00" fill="#ace095"/>
<rect x="96.75" y="109.00" width="6.25" height="1.00" fill="#76d099"/>
<rect x="96.75" y="110.00" width="6.25" height="1.00" fill="#49c0a0"/>
<rect x="96.75" y="111.00" width="6.25" height="1.00" fill="#2cb2ae"/>
<rect x="96.75" y="112.00" width="6.25" height="1.00" fill="#18a8b8"/>
<rect x="96.75" y="113.00" width="6.25" height="1.00" fill="#19a3ba"/>
<rect x="96.75" y="114.00" width="6.25" height="1.00" fill="#1a9ebc"/>
<rect x="96.75" y="115.00" width="6.25" height="1.00" fill="#1b99be"/>
<rect x="96.75" y="116.00" width="6.25" height="1.00" fill="#1c94c0"/>
<rect x="96.75" y="117.00" width="6.25" height="1.00" fill="#1d8fc2"/>
<rect x="96.75" y="118.00" width="6.25" height="1.00" fill="#1e8ac4"/>
<rect x="96.75" y="119.00" width="6.25" height="1.00" fill="#2085c6"/>
<rect x="96.75" y="120.00" width="6.25" height="1.00" fill="#277cc2"/>
<rect x="96.75" y="121.00" width="6.25" height="1.00" fill="#6852ae"/>
<rect x="96.75" y="122.00" width="6.25" height="1.00" fill="#6852ae"/>
<rect x="96.75" y="123.00" width="6.25" height="1.00" fill="#6852ae"/>
<rect x="96.75" y="124.00" width="6.25" height="1.00" fill="#6852ae"/>
<rect x="96.75" y="125.00" width="6.25" height="1.00" fill="#6852ae"/>
<rect x="96.75" y="126.00" width="6.25" height="1.00" fill="#6852ae"/>
<rect x="96.75" y="127.00" width="6.25" height="1.00" fill="#6852ae"/>
<rect x="96.75" y="128.00" width="6.25" height="1.00" fill="#6852ae"/>
<rect x="96.75" y="129.00" width="6.25" height="1.00" fill="#6852ae"/>
<rect x="96.75" y="130.00" width="6.25" height="1.00" fill="#6852ae"/>
<rect x="96.75" y="131.00" width="6.25" height="1.00" fill="#6852ae"/>
<rect x="96.75" y="132.00" width="6.25" height="1.00" fill="#6852ae"/>
<rect x="96.75" y="133.00" width="6.25" height="1.00" fill="#6852ae"/>
<rect x="96.75" y="134.00" width="6.25" height="1.00" fill="#6852ae"/>
<rect x="96.75" y="135.00" width="6.25" height="1.00" fill="#6852ae"/>
<rect x="96.75" y="136.00" width="6.25" height="1.00" fill="#6852ae"/>
<rect x="96.75" y="137.00" width="6.25" height="1.00" fill="#6852ae"/>
<rect x="96.75" y="138.00" width="6.25" height="1.00" fill="#6852ae"/>
<rect x="96.75" y="139.00" width="6.25" height="1.00" fill="#6852ae"/>
<rect x="96.75" y="140.00" width="6.25" height="1.00" fill="#6852ae"/>
<rect x="96.75" y="141.00" width="6.25" height="1.00" fill="#6852ae"/>
<rect x="96.75" y="142.00" width="6.25" height="1.00" fill="#6852ae"/>
<rect x="103.00" y="60.00" width="6.25" height="1.00" fill="#6852ae"/>
<rect x="103.00" y="61.00" width="6.25" height="1.00" fill="#6852ae"/>
<rect x="103.00" y="62.00" width="6.25" height="1.00" fill="#6852ae"/>
<rect x="103.00" y="63.00" width="6.25" height="1.00" fill="#6852ae"/>
<rect x="103.00" y="64.00" width="6.25" height="1.00" fill="#6852ae"/>
<rect x="103.00" y="65.00" width="6.25" height="1.00" fill="#6852ae"/>
<rect x="103.00" y="66.00" width="6.25" height="1.00" fill="#6852ae"/>
<rect x="103.00" y="67.00" width="6.25" height="1.00" fill="#6852ae"/>
<rect x="103.00" y="68.00" width="6.25" height="1.00" fill="#6852ae"/>
<rect x="103.00" y="69.00" width="6.25" height="1.00" fill="#6852ae"/>
<rect x="103.00" y="70.00" width="6.25" height="1.00" fill="#6852ae"/>
<rect x="103.00" y="71.00" width="6.25" height="1.00" fill="#6852ae"/>
<rect x="103.00" y="72.00" width="6.25" height="1.00" fill="#6852ae"/>
<rect x="103.00" y="73.00" width="6.25" height="1.00" fill="#6852ae"/>
<rect x="103.00" y="74.00" width="6.25" height="1.00" fill="#6852ae"/>
<rect x="103.00" y="75.00" width="6.25" height="1.00" fill="#6852ae"/>
<rect x="103.00" y="76.00" width="6.25" height="1.00" fill="#6852ae"/>
<rect x="103.00" y="77.00" width="6.25" height="1.00" fill="#267ec3"/>
<rect x="103.00" y="78.00" width="6.25" height="1.00" fill="#1f87c6"/>
<rect x="103.00" y="79.00" width="6.25" height="1.00" fill="#1e8bc4"/>
<rect x="103.00" y="80.00" width="6.25" height="1.00" fill="#1d90c2"/>
<rect x="103.00" y="81.00" width="6.25" height="1.00" fill="#1c95c0"/>
<rect x="103.00" y="82.00" width="6.25" height="1.00" fill="#1b9abe"/>
<rect x="103.00" y="83.00" width="6.25" height="1.00" fill="#1a9fbc"/>
<rect x="103.00" y="84.00" width="6.25" height="1.00" fill="#19a4ba"/>
<rect x="103.00" y="85.00" width="6.25" height="1.00" fill="#1aa9b7"/>
<rect x="103.00" y="86.00" width="6.25" height="1.00" fill="#1eabb5"/>
<rect x="103.00" y="87.00" width="6.25" height="1.00" fill="#2cb2ae"/>
<rect x="103.00" y="88.00" width="6.25" height="1.00" fill="#47c0a0"/>
<rect x="103.00" y="89.00" width="6.25" height="1.00" fill="#71ce99"/>
<rect x="103.00" y="90.00" width="6.25" height="1.00" fill="#a3dd96"/>
<rect x="103.00" y="91.00" width="6.25" height="1.00" fill="#ceea9b"/>
<rect x="103.00" y="92.00" width="6.25" height="1.00" fill="#f3f5a7"/>
<rect x="103.00" y="93.00" width="6.25" height="1.00" fill="#fae293"/>
<rect x="103.00" y="94.00" width="6.25" height="1.00" fill="#fdca7c"/>
<rect x="103.00" y="95.00" width="6.25" height="1.00" fill="#faa863"/>
<rect x="103.00" y="96.00" width="6.25" height="1.00" fill="#f78c4f"/>
<rect x="103.00" y="97.00" width="6.25" height="1.00" fill="#f3784a"/>
<rect x="103.00" y="98.00" width="6.25" height="1.00" fill="#f06947"/>
<rect x="103.00" y="99.00" width="6.25" height="1.00" fill="#ef6246"/>
<rect x="103.00" y="100.00" width="6.25" height="1.00" fill="#ef6246"/>
<rect x="103.00" y="101.00" width="6.25" height="1.00" fill="#f06947"/>
<rect x="103.00" y="102.00" width="6.25" height="1.00" fill="#f3784a"/>
<rect x="103.00" y="103.00" width="6.25" height="1.00" fill="#f78c4f"/>
<rect x="103.00" y="104.00" width="6.25" height="1.00" fill="#faa863"/>
<rect x="103.00" y="105.00" width="6.25" height="1.00" fill="#fdca7c"/>
<rect x="103.00" y="106.00" width="6.25" height="1.00" fill="#fae293"/>
<rect x="103.00" y="107.00" width="6.25" height="1.00" fill="#f3f5a7"/>
<rect x="103.00" y="108.00" width="6.25" height="1.00" fill="#ceea9b"/>
<rect x="103.00" y="109.00" width="6.25" height="1.00" fill="#a3dd96"/>
<rect x="103.00" y="110.00" width="6.25" height="1.00" fill="#71ce99"/>
<rect x="103.00" y="111.00" width="6.25" height="1.00" fill="#47c0a0"/>
<rect x="103.00" y="112.00" width="6.25" height="1.00" fill="#2cb2ae"/>
<rect x="103.00" y="113.00" width="6.25" height="1.00" fill="#1eabb5"/>
<rect x="103.00" y="114.00" width="6.25" height="1.00" fill="#18a7b8"/>
<rect x="103.00" y="115.00" width="6.25" height="1.00" fill="#19a2ba"/>
<rect x="103.00" y="116.00" width="6.25" height="1.00" fill="#1a9dbc"/>
<rect x="103.00" y="117.00" width="6.25" height="1.00" fill="#1b98be"/>
<rect x="103.00" y="118.00" width="6.25" height="1.00" fill="#1c93c1"/>
<rect x="103.00" y="119.00" width="6.25" height="1.00" fill="#1d8ec3"/>
<rect x="103.00" y="120.00" width="6.25" height="1.00" fill="#1e8ac5"/>
<rect x="103.00" y="121.00" width="6.25" height="1.00" fill="#2183c5"/>
<rect x="103.00" y="122.00" width="6.25" height="1.00" fill="#297ac2"/>
<rect x="103.00" y="123.00" width="6.25" height="1.00" fill="#6852ae"/>
<rect x="103.00" y="124.00" width="6.25" height="1.00" fill="#6852ae"/>
<rect x="103.00" y="125.00" width="6.25" height="1.00" fill="#6852ae"/>
<rect x="103.00" y="126.00" width="6.25" height="1.00" fill="#6852ae"/>
<rect x="103.00" y="127.00" width="6.25" height="1.00" fill="#6852ae"/>
<rect x="103.00" y="128.00" width="6.25" height="1.00" fill="#6852ae"/>
<rect x="103.00" y="129.00" width="6.25" height="1.00" fill="#6852ae"/>
<rect x="103.00" y="130.00" width="6.25" height="1.00" fill="#6852ae"/>
<rect x="103.00" y="131.00" width="6.25" height="1.00" fill="#6852ae"/>
<rect x="103.00" y="132.00" width="6.25" height="1.00" fill="#6852ae"/>
<rect x="103.00" y="133.00" width="6.25" height="1.00" fill="#6852ae"/>
<rect x="103.00" y="134.00" width="6.25" height="1.00" fill="#6852ae"/>
<rect x="103.00" y="135.00" width="6.25" height="1.00" fill="#6852ae"/>
<rect x="103.00" y="136.00" width="6.25" height="1.00" fill="#6852ae"/>
<rect x="103.00" y="137.00" width="6.25" height="1.00" fill="#6852ae"/>
<rect x="103.00" y="138.00" width="6.25" height="1.00" fill="#6852ae"/>
<rect x="103.00" y="139.00" width="6.25" height="1.00" fill="#6852ae"/>
<rect x="103.00" y="140.00" width="6.25" height="1.00" fill="#6852ae"/>
<rect x="103.00" y="141.00" width="6.25" height="1.00" fill="#6852ae"/>
<rect x="103.00" y="142.00" width="6.25" height="1.00" fill="#6852ae"/>
<rect x="109.25" y="60.00" width="6.25" height="1.00" fill="#6852ae"/>
<rect x="109.25" y="61.00" width="6.25" height="1.00" fill="#6852ae"/>
<rect x="109.25" y="62.00" width="6.25" height="1.00" fill="#6852ae"/>
<rect x="109.25" y="63.00" width="6.25" height="1.00" fill="#6852ae"/>
<rect x="109.25" y="64.00" width="6.25" height="1.00" fill="#6852ae"/>
<rect x="109.25" y="65.00" width="6.25" height="1.00" fill="#267ec3"/>
<rect x="109.25" y="66.00" width="6.25" height="1.00" fill="#1f87c6"/>
<rect x="109.25" y="67.00" width="6.25" height="1.00" fill="#1e8bc4"/>
<rect x="109.25" y="68.00" width="6.25" height="1.00" fill="#1d90c2"/>
<rect x="109.25" y="69.00" width="6.25" height="1.00" fill="#1c95c0"/>
<rect x="109.25" y="70.00" width="6.25" height="1.00" fill="#1b9abe"/>
<rect x="109.25" y="71.00" width="6.25" height="1.00" fill="#1a9fbc"/>
<rect x="109.25" y="72.00" width="6.25" height="1.00" fill="#19a4ba"/>
<rect x="109.25" y="73.00" width="6.25" height="1.00" fill="#1aa9b7"/>
<rect x="109.25" y="74.00" width="6.25" height="1.00" fill="#1eabb5"/>
<rect x="109.25" y="75.00" width="6.25" height="1.00" fill="#1eabb5"/>
<rect x="109.25" y="76.00" width="6.25" height="1.00" fill="#1eabb5"/>
<rect x="109.25" y="77.00" width="6.25" height="1.00" fill="#1eabb5"/>
<rect x="109.25" y="78.00" width="6.25" height="1.00" fill="#1eabb5"/>
<rect x="109.25" y="79.00" width="6.25" height="1.00" fill="#1eabb5"/>
<rect x="109.25" y="80.00" width="6.25" height="1.00" fill="#1eabb5"/>
<rect x="109.25" y="81.00" width="6.25" height="1.00" fill="#1eabb5"/>
<rect x="109.25" y="82.00" width="6.25" height="1.00" fill="#1eabb5"/>
<rect x="109.25" y="83.00" width="6.25" height="1.00" fill="#2fb3ad"/>
<rect x="109.25" y="84.00" width="6.25" height="1.00" fill="#4dc39d"/>
<rect x="109.25" y="85.00" width="6.25" height="1.00" fill="#80d398"/>
<rect x="109.25" y="86.00" width="6.25" height="1.00" fill="#bae495"/>
<rect x="109.25" y="87.00" width="6.25" height="1.00" fill="#e6f1a3"/>
<rect x="109.25" y="88.00" width="6.25" height="1.00" fill="#fae496"/>
<rect x="109.25" y="89.00" width="6.25" height="1.00" fill="#fdc276"/>
<rect x="109.25" y="90.00" width="6.25" height="1.00" fill="#f89151"/>
<rect x="109.25" y="91.00" width="6.25" height="1.00" fill="#f06747"/>
<rect x="109.25" y="92.00" width="6.25" height="1.00" fill="#e64441"/>
<rect x="109.25" y="93.00" width="6.25" height="1.00" fill="#d82a44"/>
<rect x="109.25" y="94.00" width="6.25" height="1.00" fill="#cd1647"/>
<rect x="109.25" y="95.00" width="6.25" height="1.00" fill="#c50849"/>
<rect x="109.25" y="96.00" width="6.25" height="1.00" fill="#c1014a"/>
<rect x="109.25" y="97.00" width="6.25" height="1.00" fill="#c1014a"/>
<rect x="109.25" y="98.00" width="6.25" height="1.00" fill="#c50849"/>
<rect x="109.25" y="99.00" width="6.25" height="1.00" fill="#cd1647"/>
<rect x="109.25" y="100.00" width="6.25" height="1.00" fill="#d82a44"/>
<rect x="109.25" y="101.00" width="6.25" height="1.00" fill="#e64441"/>
<rect x="109.25" y="102.00" width="6.25" height="1.00" fill="#f06747"/>
<rect x="109.25" y="103.00" width="6.25" height="1.00" fill="#f89151"/>
<rect x="109.25" y="104.00" width="6.25" height="1.00" fill="#fdc276"/>
<rect x="109.25" y="105.00" width="6.25" height="1.00" fill="#fae496"/>
<rect x="109.25" y="106.00" width="6.25" height="1.00" fill="#e6f1a3"/>
<rect x="109.25" y="107.00" width="6.25" height="1.00" fill="#bae495"/>
<rect x="109.25" y="108.00" width="6.25" height="1.00" fill="#80d398"/>
<rect x="109.25" y="109.00" width="6.25" height="1.00" fill="#4dc39d"/>
<rect x="109.25" y="110.00" width="6.25" height="1.00" fill="#2fb3ad"/>
<rect x="109.25" y="111.00" width="6.25" height="1.00" fill="#1aa9b7"/>
<rect x="109.25" y="112.00" width="6.25" height="1.00" fill="#19a4ba"/>
<rect x="109.25" y="113.00" width="6.25" height="1.00" fill="#1a9fbc"/>
<rect x="109.25" y="114.00" width="6.25" height="1.00" fill="#1b9abe"/>
<rect x="109.25" y="115.00" width="6.25" height="1.00" fill="#1c95c0"/>
<rect x="109.25" y="116.00" width="6.25" height="1.00" fill="#1d90c2"/>
<rect x="109.25" y="117.00" width="6.25" height="1.00" fill="#1e8bc4"/>
<rect x="109.25" y="118.00" width="6.25" height="1.00" fill="#1f87c6"/>
<rect x="109.25" y="119.00" width="6.25" height="1.00" fill="#267ec3"/>
<rect x="109.25" y="120.00" width="6.25" height="1.00" fill="#6852ae"/>
<rect x="109.25" y="121.00" width="6.25" height="1.00" fill="#6852ae"/>
<rect x="109.25" y="122.00" width="6.25" height="1.00" fill="#6852ae"/>
<rect x="109.25" y="123.00" width="6.25" height="1.00" fill="#6852ae"/>
<rect x="109.25" y="124.00" width="6.25" height="1.00" fill="#6852ae"/>
<rect x="109.25" y="125.00" width="6.25" height="1.00" fill="#6852ae"/>
<rect x="109.25" y="126.00" width="6.25" height="1.00" fill="#6852ae"/>
<rect x="109.25" y="127.00" width="6.25" height="1.00" fill="#6852ae"/>
<rect x="109.25" y="128.00" width="6.25" height="1.00" fill="#6852ae"/>
<rect x="109.25" y="129.00" width="6.25" height="1.00" fill="#6852ae"/>
<rect x="109.25" y="130.00" width="6.25" height="1.00" fill="#6852ae"/>
<rect x="109.25" y="131.00" width="6.25" height="1.00" fill="#6852ae"/>
<rect x="109.25" y="132.00" width="6.25" height="1.00" fill="#6852ae"/>
<rect x="109.25" y="133.00" width="6.25" height="1.00" fill="#6852ae"/>
<rect x="109.25" y="134.00" width="6.25" height="1.00" fill="#6852ae"/>
<rect x="109.25" y="135.00" width="6.25" height="1.00" fill="#6852ae"/>
<rect x="109.25" y="136.00" width="6.25" height="1.00" fill="#6852ae"/>
<rect x="109.25" y="137.00" width="6.25" height="1.00" fill="#6852ae"/>
<rect x="109.25" y="138.00" width="6.25" height="1.00" fill="#6852ae"/>
<rect x="109.25" y="139.00" width="6.25" height="1.00" fill="#6852ae"/>
<rect x="109.25" y="140.00" width="6.25" height="1.00" fill="#6852ae"/>
<rect x="109.25" y="141.00" width="6.25" height="1.00" fill="#6852ae"/>
<rect x="109.25" y="142.00" width="6.25" height="1.00" fill="#6852ae"/>
<rect x="115.50" y="60.00" width="6.25" height="1.00" fill="#6852ae"/>
<rect x="115.50" y="61.00" width="6.25" height="1.00" fill="#6852ae"/>
<rect x="115.50" y="62.00" width="6.25" height="1.00" fill="#6852ae"/>
<rect x="115.50" y="63.00" width="6.25" height="1.00" fill="#6852ae"/>
<rect x="115.50" y="64.00" width="6.25" height="1.00" fill="#6852ae"/>
<rect x="115.50" y="65.00" width="6.25" height="1.00" fill="#6852ae"/>
<rect x="115.50" y="66.00" width="6.25" height="1.00" fill="#6852ae"/>
<rect x="115.50" y="67.00" width="6.25" height="1.00" fill="#6852ae"/>
<rect x="115.50" y="68.00" width="6.25" height="1.00" fill="#6852ae"/>
<rect x="115.50" y="69.00" width="6.25" height="1.00" fill="#6852ae"/>
<rect x="115.50" y="70.00" width="6.25" height="1.00" fill="#6852ae"/>
<rect x="115.50" y="71.00" width="6.25" height="1.00" fill="#6852ae"/>
<rect x="115.50" y="72.00" width="6.25" height="1.00" fill="#6852ae"/>
<rect x="115.50" y="73.00" width="6.25" height="1.00" fill="#6852ae"/>
<rect x="115.50" y="74.00" width="6.25" height="1.00" fill="#6852ae"/>
<rect x="115.50" y="75.00" width="6.25" height="1.00" fill="#6852ae"/>
<rect x="115.50" y="76.00" width="6.25" height="1.00" fill="#6852ae"/>
<rect x="115.50" y="77.00" width="6.25" height="1.00" fill="#6852ae"/>
<rect x="115.50" y="78.00" width="6.25" height="1.00" fill="#6852ae"/>
<rect x="115.50" y="79.00" width="6.25" height="1.00" fill="#6852ae"/>
<rect x="115.50" y="80.00" width="6.25" height="1.00" fill="#6852ae"/>
<rect x="115.50" y="81.00" width="6.25" height="1.00" fill="#2381c4"/>
<rect x="115.50" y="82.00" width="6.25" height="1.00" fill="#1e89c5"/>
<rect x="115.50" y="83.00" width="6.25" height="1.00" fill="#1d8dc3"/>
<rect x="115.50" y="84.00" width="6.25" height="1.00" fill="#1c92c1"/>
<rect x="115.50" y="85.00" width="6.25" height="1.00" fill="#1b97bf"/>
<rect x="115.50" y="86.00" width="6.25" height="1.00" fill="#1a9cbd"/>
<rect x="115.50" y="87.00" width="6.25" height="1.00" fill="#20acb4"/>
<rect x="115.50" y="88.00" width="6.25" height="1.00" fill="#49c19f"/>
<rect x="115.50" y="89.00" width="6.25" height="1.00" fill="#91d897"/>
<rect x="115.50" y="90.00" width="6.25" height="1.00" fill="#d9ed9f"/>
<rect x="115.50" y="91.00" width="6.25" height="1.00" fill="#fae293"/>
<rect x="115.50" y="92.00" width="6.25" height="1.00" fill="#faab64"/>
<rect x="115.50" y="93.00" width="6.25" height="1.00" fill="#f16f49"/>
<rect x="115.50" y="94.00" width="6.25" height="1.00" fill="#e64241"/>
<rect x="115.50" y="95.00" width="6.25" height="1.00" fill="#d62745"/>
<rect x="115.50" y="96.00" width="6.25" height="1.00" fill="#ce1947"/>
<rect x="115.50" y="97.00" width="6.25" height="1.00" fill="#ce1947"/>
<rect x="115.50" y="98.00" width="6.25" height="1.00" fill="#d62745"/>
<rect x="115.50" y="99.00" width="6.25" height="1.00" fill="#e64241"/>
<rect x="115.50" y="100.00" width="6.25" height="1.00" fill="#f16f49"/>
<rect x="115.50" y="101.00" width="6.25" height="1.00" fill="#faab64"/>
<rect x="115.50" y="102.00" width="6.25" height="1.00" fill="#fae293"/>
<rect x="115.50" y="103.00" width="6.25" height="1.00" fill="#d9ed9f"/>
<rect x="115.50" y="104.00" width="6.25" height="1.00" fill="#91d897"/>
<rect x="115.50" y="105.00" width="6.25" height="1.00" fill="#49c19f"/>
<rect x="115.50" y="106.00" width="6.25" height="1.00" fill="#20acb4"/>
<rect x="115.50" y="107.00" width="6.25" height="1.00" fill="#1a9dbd"/>
<rect x="115.50" y="108.00" width="6.25" height="1.00" fill="#1b98bf"/>
<rect x="115.50" y="109.00" width="6.25" height="1.00" fill="#1c93c1"/>
<rect x="115.50" y="110.00" width="6.25" height="1.00" fill="#1d8ec3"/>
<rect x="115.50" y="111.00" width="6.25" height="1.00" fill="#1e89c5"/>
<rect x="115.50" y="112.00" width="6.25" height="1.00" fill="#2282c5"/>
<rect x="115.50" y="113.00" width="6.25" height="1.00" fill="#2a79c1"/>
<rect x="115.50" y="114.00" width="6.25" height="1.00" fill="#6852ae"/>
<rect x="115.50" y="115.00" width="6.25" height="1.00" fill="#6852ae"/>
<rect x="115.50" y="116.00" width="6.25" height="1.00" fill="#6852ae"/>
<rect x="115.50" y="117.00" width="6.25" height="1.00" fill="#6852ae"/>
<rect x="115.50" y="118.00" width="6.25" height="1.00" fill="#6852ae"/>
<rect x="115.50" y="119.00" width="6.25" height="1.00" fill="#6852ae"/>
<rect x="115.50" y="120.00" width="6.25" height="1.00" fill="#6852ae"/>
<rect x="115.50" y="121.00" width="6.25" height="1.00" fill="#6852ae"/>
<rect x="115.50" y="122.00" width="6.25" height="1.00" fill="#6852ae"/>
<rect x="115.50" y="123.00" width="6.25" height="1.00" fill="#6852ae"/>
<rect x="115.50" y="124.00" width="6.25" height="1.00" fill="#6852ae"/>
<rect x="115.50" y="125.00" width="6.25" height="1.00" fill="#6852ae"/>
<rect x="115.50" y="126.00" width="6.25" height="1.00" fill="#6852ae"/>
<rect x="115.50" y="127.00" width="6.25" height="1.00" fill="#6852ae"/>
<rect x="115.50" y="128.00" width="6.25" height="1.00" fill="#6852ae"/>
<rect x="115.50" y="129.00" width="6.25" height="1.00" fill="#6852ae"/>
<rect x="115.50" y="130.00" width="6.25" height="1.00" fill="#6852ae"/>
<rect x="115.50" y="131.00" width="6.25" height="1.00" fill="#6852ae"/>
<rect x="115.50" y="132.00" width="6.25" height="1.00" fill="#6852ae"/>
<rect x="115.50" y="133.00" width="6.25" height="1.00" fill="#6852ae"/>
<rect x="115.50" y="134.00" width="6.25" height="1.00" fill="#6852ae"/>
<rect x="115.50" y="135.00" width="6.25" height="1.00" fill="#6852ae"/>
<rect x="115.50" y="136.00" width="6.25" height="1.00" fill="#6852ae"/>
<rect x="115.50" y="137.00" width="6.25" height="1.00" fill="#6852ae"/>
<rect x="115.50" y="138.00" width="6.25" height="1.00" fill="#6852ae"/>
<rect x="115.50" y="139.00" width="6.25" height="1.00" fill="#6852ae"/>
<rect x="115.50" y="140.00" width="6.25" height="1.00" fill="#6852ae"/>
<rect x="115.50" y="141.00" width="6.25" height="1.00" fill="#6852ae"/>
<rect x="115.50" y="142.00" width="6.25" height="1.00" fill="#6852ae"/>
<rect x="121.75" y="60.00" width="6.25" height="1.00" fill="#6852ae"/>
<rect x="121.75" y="61.00" width="6.25" height="1.00" fill="#6852ae"/>
<rect x="121.75" y="62.00" width="6.25" height="1.00" fill="#6852ae"/>
<rect x="121.75" y="63.00" width="6.25" height="1.00" fill="#6852ae"/>
<rect x="121.75" y="64.00" width="6.25" height="1.00" fill="#6852ae"/>
<rect x="121.75" y="65.00" width="6.25" height="1.00" fill="#6852ae"/>
<rect x="121.75" y="66.00" width="6.25" height="1.00" fill="#6852ae"/>
<rect x="121.75" y="67.00" width="6.25" height="1.00" fill="#6852ae"/>
<rect x="121.75" y="68.00" width="6.25" height="1.00" fill="#6852ae"/>
<rect x="121.75" y="69.00" width="6.25" height="1.00" fill="#6852ae"/>
<rect x="121.75" y="70.00" width="6.25" height="1.00" fill="#6852ae"/>
<rect x="121.75" y="71.00" width="6.25" height="1.00" fill="#6852ae"/>
<rect x="121.75" y="72.00" width="6.25" height="1.00" fill="#6852ae"/>
<rect x="121.75" y="73.00" width="6.25" height="1.00" fill="#6852ae"/>
<rect x="121.75" y="74.00" width="6.25" height="1.00" fill="#6852ae"/>
<rect x="121.75" y="75.00" width="6.25" height="1.00" fill="#6852ae"/>
<rect x="121.75" y="76.00" width="6.25" height="1.00" fill="#6852ae"/>
<rect x="121.75" y="77.00" width="6.25" height="1.00" fill="#6852ae"/>
<rect x="121.75" y="78.00" width="6.25" height="1.00" fill="#6852ae"/>
<rect x="121.75" y="79.00" width="6.25" height="1.00" fill="#6852ae"/>
<rect x="121.75" y="80.00" width="6.25" height="1.00" fill="#6852ae"/>
<rect x="121.75" y="81.00" width="6.25" height="1.00" fill="#6852ae"/>
<rect x="121.75" y="82.00" width="6.25" height="1.00" fill="#6852ae"/>
<rect x="121.75" y="83.00" width="6.25" height="1.00" fill="#6852ae"/>
<rect x="121.75" y="84.00" width="6.25" height="1.00" fill="#6852ae"/>
<rect x="121.75" y="85.00" width="6.25" height="1.00" fill="#6852ae"/>
<rect x="121.75" y="86.00" width="6.25" height="1.00" fill="#1c96bf"/>
<rect x="121.75" y="87.00" width="6.25" height="1.00" fill="#1fabb5"/>
<rect x="121.75" y="88.00" width="6.25" height="1.00" fill="#4cc29e"/>
<rect x="121.75" y="89.00" width="6.25" height="1.00" fill="#9bdb96"/>
<rect x="121.75" y="90.00" width="6.25" height="1.00" fill="#e4f1a2"/>
<rect x="121.75" y="91.00" width="6.25" height="1.00" fill="#fcd989"/>
<rect x="121.75" y="92.00" width="6.25" height="1.00" fill="#f99a58"/>
<rect x="121.75" y="93.00" width="6.25" height="1.00" fill="#ef6546"/>
<rect x="121.75" y="94.00" width="6.25" height="1.00" fill="#e54141"/>
<rect x="121.75" y="95.00" width="6.25" height="1.00" fill="#db3043"/>
<rect x="121.75" y="96.00" width="6.25" height="1.00" fill="#db3044"/>
<rect x="121.75" y="97.00" width="6.25" height="1.00" fill="#e23b42"/>
<rect x="121.75" y="98.00" width="6.25" height="1.00" fill="#ec5342"/>
<rect x="121.75" y="99.00" width="6.25" height="1.00" fill="#f3794b"/>
<rect x="121.75" y="100.00" width="6.25" height="1.00" fill="#faab64"/>
<rect x="121.75" y="101.00" width="6.25" height="1.00" fill="#fcdc8d"/>
<rect x="121.75" y="102.00" width="6.25" height="1.00" fill="#eaf2a4"/>
<rect x="121.75" y="103.00" width="6.25" height="1.00" fill="#b1e295"/>
<rect x="121.75" y="104.00" width="6.25" height="1.00" fill="#6acc9a"/>
<rect x="121.75" y="105.00" width="6.25" height="1.00" fill="#38b8a8"/>
<rect x="121.75" y="106.00" width="6.25" height="1.00" fill="#1eabb5"/>
<rect x="121.75" y="107.00" width="6.25" height="1.00" fill="#1eabb5"/>
<rect x="121.75" y="108.00" width="6.25" height="1.00" fill="#1eabb5"/>
<rect x="121.75" y="109.00" width="6.25" height="1.00" fill="#1eabb5"/>
<rect x="121.75" y="110.00" width="6.25" height="1.00" fill="#1eabb5"/>
<rect x="121.75" y="111.00" width="6.25" height="1.00" fill="#1eabb5"/>
<rect x="121.75" y="112.00" width="6.25" height="1.00" fill="#1eabb5"/>
<rect x="121.75" y="113.00" width="6.25" height="1.00" fill="#1eabb5"/>
<rect x="121.75" y="114.00" width="6.25" height="1.00" fill="#1eabb5"/>
<rect x="121.75" y="115.00" width="6.25" height="1.00" fill="#1eabb5"/>
<rect x="121.75" y="116.00" width="6.25" height="1.00" fill="#1eabb5"/>
<rect x="121.75" y="117.00" width="6.25" height="1.00" fill="#1eabb5"/>
<rect x="121.75" y="118.00" width="6.25" height="1.00" fill="#1eabb5"/>
<rect x="121.75" y="119.00" width="6.25" height="1.00" fill="#1eabb5"/>
<rect x="121.75" y="120.00" width="6.25" height="1.00" fill="#1eabb5"/>
<rect x="121.75" y="121.00" width="6.25" height="1.00" fill="#1eabb5"/>
<rect x="121.75" y="122.00" width="6.25" height="1.00" fill="#1eabb5"/>
<rect x="121.75" y="123.00" width="6.25" height="1.00" fill="#1eabb5"/>
<rect x="121.75" y="124.00" width="6.25" height="1.00" fill="#1eabb5"/>
<rect x="121.75" y="125.00" width="6.25" height="1.00" fill="#1eabb5"/>
<rect x="121.75" y="126.00" width="6.25" height="1.00" fill="#1eabb5"/>
<rect x="121.75" y="127.00" width="6.25" height="1.00" fill="#1eabb5"/>
<rect x="121.75" y="128.00" width="6.25" height="1.00" fill="#1eabb5"/>
<rect x="121.75" y="129.00" width="6.25" height="1.00" fill="#1eabb5"/>
<rect x="121.75" y="130.00" width="6.25" height="1.00" fill="#1eabb5"/>
<rect x="121.75" y="131.00" width="6.25" height="1.00" fill="#1eabb5"/>
<rect x="121.75" y="132.00" width="6.25" height="1.00" fill="#1aa9b7"/>
<rect x="121.75" y="133.00" width="6.25" height="1.00" fill="#18a8b8"/>
<rect x="121.75" y="134.00" width="6.25" height="1.00" fill="#18a8b8"/>
<rect x="121.75" y="135.00" width="6.25" height="1.00" fill="#19a5b9"/>
<rect x="121.75" y="136.00" width="6.25" height="1.00" fill="#1aa0bc"/>
<rect x="121.75" y="137.00" width="6.25" height="1.00" fill="#1b9abe"/>
<rect x="121.75" y="138.00" width="6.25" height="1.00" fill="#1c94c0"/>
<rect x="121.75" y="139.00" width="6.25" height="1.00" fill="#1d8ec2"/>
<rect x="121.75" y="140.00" width="6.25" height="1.00" fill="#1e89c5"/>
<rect x="121.75" y="141.00" width="6.25" height="1.00" fill="#6852ae"/>
<rect x="121.75" y="142.00" width="6.25" height="1.00" fill="#6852ae"/>
<rect x="128.00" y="60.00" width="6.25" height="1.00" fill="#6852ae"/>
<rect x="128.00" y="61.00" width="6.25" height="1.00" fill="#6852ae"/>
<rect x="128.00" y="62.00" width="6.25" height="1.00" fill="#6852ae"/>
<rect x="128.00" y="63.00" width="6.25" height="1.00" fill="#6852ae"/>
<rect x="128.00" y="64.00" width="6.25" height="1.00" fill="#6852ae"/>
<rect x="128.00" y="65.00" width="6.25" height="1.00" fill="#6852ae"/>
<rect x="128.00" y="66.00" width="6.25" height="1.00" fill="#6852ae"/>
<rect x="128.00" y="67.00" width="6.25" height="1.00" fill="#6852ae"/>
<rect x="128.00" y="68.00" width="6.25" height="1.00" fill="#6852ae"/>
<rect x="128.00" y="69.00" width="6.25" height="1.00" fill="#6852ae"/>
<rect x="128.00" y="70.00" width="6.25" height="1.00" fill="#6852ae"/>
<rect x="128.00" y="71.00" width="6.25" height="1.00" fill="#2a79c1"/>
<rect x="128.00" y="72.00" width="6.25" height="1.00" fill="#2282c5"/>
<rect x="128.00" y="73.00" width="6.25" height="1.00" fill="#1e89c5"/>
<rect x="128.00" y="74.00" width="6.25" height="1.00" fill="#1d8ec3"/>
<rect x="128.00" y="75.00" width="6.25" height="1.00" fill="#1c93c1"/>
<rect x="128.00" y="76.00" width="6.25" height="1.00" fill="#1b98bf"/>
<rect x="128.00" y="77.00" width="6.25" height="1.00" fill="#1a9dbd"/>
<rect x="128.00" y="78.00" width="6.25" height="1.00" fill="#19a2bb"/>
<rect x="128.00" y="79.00" width="6.25" height="1.00" fill="#18a6b9"/>
<rect x="128.00" y="80.00" width="6.25" height="1.00" fill="#1eabb5"/>
<rect x="128.00" y="81.00" width="6.25" height="1.00" fill="#1eabb5"/>
<rect x="128.00" y="82.00" width="6.25" height="1.00" fill="#1eabb5"/>
<rect x="128.00" y="83.00" width="6.25" height="1.00" fill="#30b4ac"/>
<rect x="128.00" y="84.00" width="6.25" height="1.00" fill="#50c49c"/>
<rect x="128.00" y="85.00" width="6.25" height="1.00" fill="#87d598"/>
<rect x="128.00" y="86.00" width="6.25" height="1.00" fill="#bee696"/>
<rect x="128.00" y="87.00" width="6.25" height="1.00" fill="#e9f2a4"/>
<rect x="128.00" y="88.00" width="6.25" height="1.00" fill="#fae596"/>
<rect x="128.00" y="89.00" width="6.25" height="1.00" fill="#fdca7c"/>
<rect x="128.00" y="90.00" width="6.25" height="1.00" fill="#faa45f"/>
<rect x="128.00" y="91.00" width="6.25" height="1.00" fill="#f6854e"/>
<rect x="128.00" y="92.00" width="6.25" height="1.00" fill="#f27149"/>
<rect x="128.00" y="93.00" width="6.25" height="1.00" fill="#ef6446"/>
<rect x="128.00" y="94.00" width="6.25" height="1.00" fill="#ef6245"/>
<rect x="128.00" y="95.00" width="6.25" height="1.00" fill="#f06847"/>
<rect x="128.00" y="96.00" width="6.25" height="1.00" fill="#f3784a"/>
<rect x="128.00" y="97.00" width="6.25" height="1.00" fill="#f89050"/>
<rect x="128.00" y="98.00" width="6.25" height="1.00" fill="#fbb26a"/>
<rect x="128.00" y="99.00" width="6.25" height="1.00" fill="#fdd787"/>
<rect x="128.00" y="100.00" width="6.25" height="1.00" fill="#f8efa0"/>
<rect x="128.00" y="101.00" width="6.25" height="1.00" fill="#d8ed9e"/>
<rect x="128.00" y="102.00" width="6.25" height="1.00" fill="#a9df95"/>
<rect x="128.00" y="103.00" width="6.25" height="1.00" fill="#70ce9a"/>
<rect x="128.00" y="104.00" width="6.25" height="1.00" fill="#43bda3"/>
<rect x="128.00" y="105.00" width="6.25" height="1.00" fill="#25aeb2"/>
<rect x="128.00" y="106.00" width="6.25" height="1.00" fill="#1caab6"/>
<rect x="128.00" y="107.00" width="6.25" height="1.00" fill="#19a6b9"/>
<rect x="128.00" y="108.00" width="6.25" height="1.00" fill="#1aa1bb"/>
<rect x="128.00" y="109.00" width="6.25" height="1.00" fill="#1b9cbd"/>
<rect x="128.00" y="110.00" width="6.25" height="1.00" fill="#1c97bf"/>
<rect x="128.00" y="111.00" width="6.25" height="1.00" fill="#1d92c1"/>
<rect x="128.00" y="112.00" width="6.25" height="1.00" fill="#1e8dc3"/>
<rect x="128.00" y="113.00" width="6.25" height="1.00" fill="#1f88c5"/>
<rect x="128.00" y="114.00" width="6.25" height="1.00" fill="#2481c4"/>
<rect x="128.00" y="115.00" width="6.25" height="1.00" fill="#6852ae"/>
<rect x="128.00" y="116.00" width="6.25" height="1.00" fill="#6852ae"/>
<rect x="128.00" y="117.00" width="6.25" height="1.00" fill="#6852ae"/>
<rect x="128.00" y="118.00" width="6.25" height="1.00" fill="#6852ae"/>
<rect x="128.00" y="119.00" width="6.25" height="1.00" fill="#6852ae"/>
<rect x="128.00" y="120.00" width="6.25" height="1.00" fill="#6852ae"/>
<rect x="128.00" y="121.00" width="6.25" height="1.00" fill="#6852ae"/>
<rect x="128.00" y="122.00" width="6.25" height="1.00" fill="#6852ae"/>
<rect x="128.00" y="123.00" width="6.25" height="1.00" fill="#6852ae"/>
<rect x="128.00" y="124.00" width="6.25" height="1.00" fill="#6852ae"/>
<rect x="128.00" y="125.00" width="6.25" height="1.00" fill="#6852ae"/>
<rect x="128.00" y="126.00" width="6.25" height="1.00" fill="#6852ae"/>
<rect x="128.00" y="127.00" width="6.25" height="1.00" fill="#6852ae"/>
<rect x="128.00" y="128.00" width="6.25" height="1.00" fill="#6852ae"/>
<rect x="128.00" y="129.00" width="6.25" height="1.00" fill="#6852ae"/>
<rect x="128.00" y="130.00" width="6.25" height="1.00" fill="#6852ae"/>
<rect x="128.00" y="131.00" width="6.25" height="1.00" fill="#6852ae"/>
<rect x="128.00" y="132.00" width="6.25" height="1.00" fill="#6852ae"/>
<rect x="128.00" y="133.00" width="6.25" height="1.00" fill="#6852ae"/>
<rect x="128.00" y="134.00" width="6.25" height="1.00" fill="#6852ae"/>
<rect x="128.00" y="135.00" width="6.25" height="1.00" fill="#6852ae"/>
<rect x="128.00" y="136.00" width="6.25" height="1.00" fill="#6852ae"/>
<rect x="128.00" y="137.00" width="6.25" height="1.00" fill="#6852ae"/>
<rect x="128.00" y="138.00" width="6.25" height="1.00" fill="#6852ae"/>
<rect x="128.00" y="139.00" width="6.25" height="1.00" fill="#6852ae"/>
<rect x="128.00" y="140.00" width="6.25" height="1.00" fill="#6852ae"/>
<rect x="128.00" y="141.00" width="6.25" height="1.00" fill="#6852ae"/>
<rect x="128.00" y="142.00" width="6.25" height="1.00" fill="#6852ae"/>
<rect x="134.25" y="60.00" width="6.25" height="1.00" fill="#6852ae"/>
<rect x="134.25" y="61.00" width="6.25" height="1.00" fill="#6852ae"/>
<rect x="134.25" y="62.00" width="6.25" height="1.00" fill="#6852ae"/>
<rect x="134.25" y="63.00" width="6.25" height="1.00" fill="#6852ae"/>
<rect x="134.25" y="64.00" width="6.25" height="1.00" fill="#6852ae"/>
<rect x="134.25" y="65.00" width="6.25" height="1.00" fill="#6852ae"/>
<rect x="134.25" y="66.00" width="6.25" height="1.00" fill="#6852ae"/>
<rect x="134.25" y="67.00" width="6.25" height="1.00" fill="#6852ae"/>
<rect x="134.25" y="68.00" width="6.25" height="1.00" fill="#6852ae"/>
<rect x="134.25" y="69.00" width="6.25" height="1.00" fill="#6852ae"/>
<rect x="134.25" y="70.00" width="6.25" height="1.00" fill="#6852ae"/>
<rect x="134.25" y="71.00" width="6.25" height="1.00" fill="#2a79c1"/>
<rect x="134.25" y="72.00" width="6.25" height="1.00" fill="#2282c5"/>
<rect x="134.25" y="73.00" width="6.25" height="1.00" fill="#1e89c5"/>
<rect x="134.25" y="74.00" width="6.25" height="1.00" fill="#1d8ec3"/>
<rect x="134.25" y="75.00" width="6.25" height="1.00" fill="#1c93c1"/>
<rect x="134.25" y="76.00" width="6.25" height="1.00" fill="#1b98bf"/>
<rect x="134.25" y="77.00" width="6.25" height="1.00" fill="#1a9dbd"/>
<rect x="134.25" y="78.00" width="6.25" height="1.00" fill="#19a2bb"/>
<rect x="134.25" y="79.00" width="6.25" height="1.00" fill="#18a6b9"/>
<rect x="134.25" y="80.00" width="6.25" height="1.00" fill="#1fabb5"/>
<rect x="134.25" y="81.00" width="6.25" height="1.00" fill="#37b8a8"/>
<rect x="134.25" y="82.00" width="6.25" height="1.00" fill="#54c59c"/>
<rect x="134.25" y="83.00" width="6.25" height="1.00" fill="#80d398"/>
<rect x="134.25" y="84.00" width="6.25" height="1.00" fill="#afe195"/>
<rect x="134.25" y="85.00" width="6.25" height="1.00" fill="#d3ec9d"/>
<rect x="134.25" y="86.00" width="6.25" height="1.00" fill="#f5f6a8"/>
<rect x="134.25" y="87.00" width="6.25" height="1.00" fill="#fae596"/>
<rect x="134.25" y="88.00" width="6.25" height="1.00" fill="#fed484"/>
<rect x="134.25" y="89.00" width="6.25" height="1.00" fill="#fcbb71"/>
<rect x="134.25" y="90.00" width="6.25" height="1.00" fill="#faa761"/>
<rect x="134.25" y="91.00" width="6.25" height="1.00" fill="#f99856"/>
<rect x="134.25" y="92.00" width="6.25" height="1.00" fill="#f89151"/>
<rect x="134.25" y="93.00" width="6.25" height="1.00" fill="#f89151"/>
<rect x="134.25" y="94.00" width="6.25" height="1.00" fill="#f99856"/>
<rect x="134.25" y="95.00" width="6.25" height="1.00" fill="#faa761"/>
<rect x="134.25" y="96.00" width="6.25" height="1.00" fill="#fcbb71"/>
<rect x="134.25" y="97.00" width="6.25" height="1.00" fill="#fed484"/>
<rect x="134.25" y="98.00" width="6.25" height="1.00" fill="#fae596"/>
<rect x="134.25" y="99.00" width="6.25" height="1.00" fill="#f5f6a8"/>
<rect x="134.25" y="100.00" width="6.25" height="1.00" fill="#d3ec9d"/>
<rect x="134.25" y="101.00" width="6.25" height="1.00" fill="#afe195"/>
<rect x="134.25" y="102.00" width="6.25" height="1.00" fill="#80d398"/>
<rect x="134.25" y="103.00" width="6.25" height="1.00" fill="#54c59c"/>
<rect x="134.25" y="104.00" width="6.25" height="1.00" fill="#37b8a8"/>
<rect x="134.25" y="105.00" width="6.25" height="1.00" fill="#1fabb5"/>
<rect x="134.25" y="106.00" width="6.25" height="1.00" fill="#1caab6"/>
<rect x="134.25" y="107.00" width="6.25" height="1.00" fill="#19a6b9"/>
<rect x="134.25" y="108.00" width="6.25" height="1.00" fill="#1aa1bb"/>
<rect x="134.25" y="109.00" width="6.25" height="1.00" fill="#1b9cbd"/>
<rect x="134.25" y="110.00" width="6.25" height="1.00" fill="#1c97bf"/>
<rect x="134.25" y="111.00" width="6.25" height="1.00" fill="#1d92c1"/>
<rect x="134.25" y="112.00" width="6.25" height="1.00" fill="#1e8dc3"/>
<rect x="134.25" y="113.00" width="6.25" height="1.00" fill="#1f88c5"/>
<rect x="134.25" y="114.00" width="6.25" height="1.00" fill="#2481c4"/>
<rect x="134.25" y="115.00" width="6.25" height="1.00" fill="#6852ae"/>
<rect x="134.25" y="116.00" width="6.25" height="1.00" fill="#6852ae"/>
<rect x="134.25" y="117.00" width="6.25" height="1.00" fill="#6852ae"/>
<rect x="134.25" y="118.00" width="6.25" height="1.00" fill="#6852ae"/>
<rect x="134.25" y="119.00" width="6.25" height="1.00" fill="#6852ae"/>
<rect x="134.25" y="120.00" width="6.25" height="1.00" fill="#6852ae"/>
<rect x="134.25" y="121.00" width="6.25" height="1.00" fill="#6852ae"/>
<rect x="134.25" y="122.00" width="6.25" height="1.00" fill="#6852ae"/>
<rect x="134.25" y="123.00" width="6.25" height="1.00" fill="#6852ae"/>
<rect x="134.25" y="124.00" width="6.25" height="1.00" fill="#6852ae"/>
<rect x="134.25" y="125.00" width="6.25" height="1.00" fill="#6852ae"/>
<rect x="134.25" y="126.00" width="6.25" height="1.00" fill="#6852ae"/>
<rect x="134.25" y="127.00" width="6.25" height="1.00" fill="#6852ae"/>
<rect x="134.25" y="128.00" width="6.25" height="1.00" fill="#6852ae"/>
<rect x="134.25" y="129.00" width="6.25" height="1.00" fill="#6852ae"/>
<rect x="134.25" y="130.00" width="6.25" height="1.00" fill="#6852ae"/>
<rect x="134.25" y="131.00" width="6.25" height="1.00" fill="#6852ae"/>
<rect x="134.25" y="132.00" width="6.25" height="1.00" fill="#6852ae"/>
<rect x="134.25" y="133.00" width="6.25" height="1.00" fill="#6852ae"/>
<rect x="134.25" y="134.00" width="6.25" height="1.00" fill="#6852ae"/>
<rect x="134.25" y="135.00" width="6.25" height="1.00" fill="#6852ae"/>
<rect x="134.25" y="136.00" width="6.25" height="1.00" fill="#6852ae"/>
<rect x="134.25" y="137.00" width="6.25" height="1.00" fill="#6852ae"/>
<rect x="134.25" y="138.00" width="6.25" height="1.00" fill="#6852ae"/>
<rect x="134.25" y="139.00" width="6.25" height="1.00" fill="#6852ae"/>
<rect x="134.25" y="140.00" width="6.25" height="1.00" fill="#6852ae"/>
<rect x="134.25" y="141.00" width="6.25" height="1.00" fill="#6852ae"/>
<rect x="134.25" y="142.00" width="6.25" height="1.00" fill="#6852ae"/>
<rect x="140.50" y="60.00" width="6.25" height="1.00" fill="#6852ae"/>
<rect x="140.50" y="61.00" width="6.25" height="1.00" fill="#6852ae"/>
<rect x="140.50" y="62.00" width="6.25" height="1.00" fill="#6852ae"/>
<rect x="140.50" y="63.00" width="6.25" height="1.00" fill="#6852ae"/>
<rect x="140.50" y="64.00" width="6.25" height="1.00" fill="#267ec3"/>
<rect x="140.50" y="65.00" width="6.25" height="1.00" fill="#1f87c6"/>
<rect x="140.50" y="66.00" width="6.25" height="1.00" fill="#1e8bc4"/>
<rect x="140.50" y="67.00" width="6.25" height="1.00" fill="#1d90c2"/>
<rect x="140.50" y="68.00" width="6.25" height="1.00" fill="#1b99be"/>
<rect x="140.50" y="69.00" width="6.25" height="1.00" fill="#19a4ba"/>
<rect x="140.50" y="70.00" width="6.25" height="1.00" fill="#25afb1"/>
<rect x="140.50" y="71.00" width="6.25" height="1.00" fill="#3cbaa6"/>
<rect x="140.50" y="72.00" width="6.25" height="1.00" fill="#57c69b"/>
<rect x="140.50" y="73.00" width="6.25" height="1.00" fill="#80d398"/>
<rect x="140.50" y="74.00" width="6.25" height="1.00" fill="#abe095"/>
<rect x="140.50" y="75.00" width="6.25" height="1.00" fill="#ceea9b"/>
<rect x="140.50" y="76.00" width="6.25" height="1.00" fill="#edf3a5"/>
<rect x="140.50" y="77.00" width="6.25" height="1.00" fill="#f9ea9b"/>
<rect x="140.50" y="78.00" width="6.25" height="1.00" fill="#fcd989"/>
<rect x="140.50" y="79.00" width="6.25" height="1.00" fill="#fdc377"/>
<rect x="140.50" y="80.00" width="6.25" height="1.00" fill="#faab64"/>
<rect x="140.50" y="81.00" width="6.25" height="1.00" fill="#f99755"/>
<rect x="140.50" y="82.00" width="6.25" height="1.00" fill="#f7894e"/>
<rect x="140.50" y="83.00" width="6.25" height="1.00" fill="#f5814d"/>
<rect x="140.50" y="84.00" width="6.25" height="1.00" fill="#f47e4c"/>
<rect x="140.50" y="85.00" width="6.25" height="1.00" fill="#f5814d"/>
<rect x="140.50" y="86.00" width="6.25" height="1.00" fill="#f7894e"/>
<rect x="140.50" y="87.00" width="6.25" height="1.00" fill="#f99755"/>
<rect x="140.50" y="88.00" width="6.25" height="1.00" fill="#faab64"/>
<rect x="140.50" y="89.00" width="6.25" height="1.00" fill="#fdc377"/>
<rect x="140.50" y="90.00" width="6.25" height="1.00" fill="#fcd989"/>
<rect x="140.50" y="91.00" width="6.25" height="1.00" fill="#f9ea9b"/>
<rect x="140.50" y="92.00" width="6.25" height="1.00" fill="#edf3a5"/>
<rect x="140.50" y="93.00" width="6.25" height="1.00" fill="#ceea9b"/>
<rect x="140.50" y="94.00" width="6.25" height="1.00" fill="#abe095"/>
<rect x="140.50" y="95.00" width="6.25" height="1.00" fill="#80d398"/>
<rect x="140.50" y="96.00" width="6.25" height="1.00" fill="#57c69b"/>
<rect x="140.50" y="97.00" width="6.25" height="1.00" fill="#3cbaa6"/>
<rect x="140.50" y="98.00" width="6.25" height="1.00" fill="#25afb1"/>
<rect x="140.50" y="99.00" width="6.25" height="1.00" fill="#1eabb5"/>
<rect x="140.50" y="100.00" width="6.25" height="1.00" fill="#1eabb5"/>
<rect x="140.50" y="101.00" width="6.25" height="1.00" fill="#1eabb5"/>
<rect x="140.50" y="102.00" width="6.25" height="1.00" fill="#1eabb5"/>
<rect x="140.50" y="103.00" width="6.25" height="1.00" fill="#1eabb5"/>
<rect x="140.50" y="104.00" width="6.25" height="1.00" fill="#1eabb5"/>
<rect x="140.50" y="105.00" width="6.25" height="1.00" fill="#18a6b9"/>
<rect x="140.50" y="106.00" width="6.25" height="1.00" fill="#19a2bb"/>
<rect x="140.50" y="107.00" width="6.25" height="1.00" fill="#1a9dbd"/>
<rect x="140.50" y="108.00" width="6.25" height="1.00" fill="#1b98bf"/>
<rect x="140.50" y="109.00" width="6.25" height="1.00" fill="#1c93c1"/>
<rect x="140.50" y="110.00" width="6.25" height="1.00" fill="#1d8ec3"/>
<rect x="140.50" y="111.00" width="6.25" height="1.00" fill="#1e89c5"/>
<rect x="140.50" y="112.00" width="6.25" height="1.00" fill="#2282c5"/>
<rect x="140.50" y="113.00" width="6.25" height="1.00" fill="#2a79c1"/>
<rect x="140.50" y="114.00" width="6.25" height="1.00" fill="#6852ae"/>
<rect x="140.50" y="115.00" width="6.25" height="1.00" fill="#6852ae"/>
<rect x="140.50" y="116.00" width="6.25" height="1.00" fill="#6852ae"/>
<rect x="140.50" y="117.00" width="6.25" height="1.00" fill="#6852ae"/>
<rect x="140.50" y="118.00" width="6.25" height="1.00" fill="#6852ae"/>
<rect x="140.50" y="119.00" width="6.25" height="1.00" fill="#6852ae"/>
<rect x="140.50" y="120.00" width="6.25" height="1.00" fill="#6852ae"/>
<rect x="140.50" y="121.00" width="6.25" height="1.00" fill="#6852ae"/>
<rect x="140.50" y="122.00" width="6.25" height="1.00" fill="#6852ae"/>
<rect x="140.50" y="123.00" width="6.25" height="1.00" fill="#6852ae"/>
<rect x="140.50" y="124.00" width="6.25" height="1.00" fill="#6852ae"/>
<rect x="140.50" y="125.00" width="6.25" height="1.00" fill="#6852ae"/>
<rect x="140.50" y="126.00" width="6.25" height="1.00" fill="#6852ae"/>
<rect x="140.50" y="127.00" width="6.25" height="1.00" fill="#6852ae"/>
<rect x="140.50" y="128.00" width="6.25" height="1.00" fill="#6852ae"/>
<rect x="140.50" y="129.00" width="6.25" height="1.00" fill="#6852ae"/>
<rect x="140.50" y="130.00" width="6.25" height="1.00" fill="#6852ae"/>
<rect x="140.50" y="131.00" width="6.25" height="1.00" fill="#6852ae"/>
<rect x="140.50" y="132.00" width="6.25" height="1.00" fill="#6852ae"/>
<rect x="140.50" y="133.00" width="6.25" height="1.00" fill="#6852ae"/>
<rect x="140.50" y="134.00" width="6.25" height="1.00" fill="#6852ae"/>
<rect x="140.50" y="135.00" width="6.25" height="1.00" fill="#6852ae"/>
<rect x="140.50" y="136.00" width="6.25" height="1.00" fill="#6852ae"/>
<rect x="140.50" y="137.00" width="6.25" height="1.00" fill="#6852ae"/>
<rect x="140.50" y="138.00" width="6.25" height="1.00" fill="#6852ae"/>
<rect x="140.50" y="139.00" width="6.25" height="1.00" fill="#6852ae"/>
<rect x="140.50" y="140.00" width="6.25" height="1.00" fill="#6852ae"/>
<rect x="140.50" y="141.00" width="6.25" height="1.00" fill="#6852ae"/>
<rect x="140.50" y="142.00" width="6.25" height="1.00" fill="#6852ae"/>
<rect x="146.75" y="60.00" width="6.25" height="1.00" fill="#6852ae"/>
<rect x="146.75" y="61.00" width="6.25" height="1.00" fill="#267ec3"/>
<rect x="146.75" y="62.00" width="6.25" height="1.00" fill="#1f87c6"/>
<rect x="146.75" y="63.00" width="6.25" height="1.00" fill="#1e8bc4"/>
<rect x="146.75" y="64.00" width="6.25" height="1.00" fill="#1d90c2"/>
<rect x="146.75" y="65.00" width="6.25" height="1.00" fill="#1c95c0"/>
<rect x="146.75" y="66.00" width="6.25" height="1.00" fill="#1b9abe"/>
<rect x="146.75" y="67.00" width="6.25" height="1.00" fill="#1a9fbc"/>
<rect x="146.75" y="68.00" width="6.25" height="1.00" fill="#19a4ba"/>
<rect x="146.75" y="69.00" width="6.25" height="1.00" fill="#1aa9b7"/>
<rect x="146.75" y="70.00" width="6.25" height="1.00" fill="#1eabb5"/>
<rect x="146.75" y="71.00" width="6.25" height="1.00" fill="#1eabb5"/>
<rect x="146.75" y="72.00" width="6.25" height="1.00" fill="#1eabb5"/>
<rect x="146.75" y="73.00" width="6.25" height="1.00" fill="#1eabb5"/>
<rect x="146.75" y="74.00" width="6.25" height="1.00" fill="#1eabb5"/>
<rect x="146.75" y="75.00" width="6.25" height="1.00" fill="#2fb4ac"/>
<rect x="146.75" y="76.00" width="6.25" height="1.00" fill="#46bfa1"/>
<rect x="146.75" y="77.00" width="6.25" height="1.00" fill="#68cb9a"/>
<rect x="146.75" y="78.00" width="6.25" height="1.00" fill="#90d897"/>
<rect x="146.75" y="79.00" width="6.25" height="1.00" fill="#b9e494"/>
<rect x="146.75" y="80.00" width="6.25" height="1.00" fill="#d7ed9e"/>
<rect x="146.75" y="81.00" width="6.25" height="1.00" fill="#f5f6a8"/>
<rect x="146.75" y="82.00" width="6.25" height="1.00" fill="#f9e697"/>
<rect x="146.75" y="83.00" width="6.25" height="1.00" fill="#fdd788"/>
<rect x="146.75" y="84.00" width="6.25" height="1.00" fill="#fdc377"/>
<rect x="146.75" y="85.00" width="6.25" height="1.00" fill="#fbaf67"/>
<rect x="146.75" y="86.00" width="6.25" height="1.00" fill="#f99f5c"/>
<rect x="146.75" y="87.00" width="6.25" height="1.00" fill="#f89554"/>
<rect x="146.75" y="88.00" width="6.25" height="1.00" fill="#f89050"/>
<rect x="146.75" y="89.00" width="6.25" height="1.00" fill="#f89151"/>
<rect x="146.75" y="90.00" width="6.25" height="1.00" fill="#f99856"/>
<rect x="146.75" y="91.00" width="6.25" height="1.00" fill="#faa560"/>
<rect x="146.75" y="92.00" width="6.25" height="1.00" fill="#fcb76d"/>
<rect x="146.75" y="93.00" width="6.25" height="1.00" fill="#fecd7e"/>
<rect x="146.75" y="94.00" width="6.25" height="1.00" fill="#fcdd8e"/>
<rect x="146.75" y="95.00" width="6.25" height="1.00" fill="#f8ed9e"/>
<rect x="146.75" y="96.00" width="6.25" height="1.00" fill="#e9f2a4"/>
<rect x="146.75" y="97.00" width="6.25" height="1.00" fill="#cbea9a"/>
<rect x="146.75" y="98.00" width="6.25" height="1.00" fill="#a9df95"/>
<rect x="146.75" y="99.00" width="6.25" height="1.00" fill="#80d398"/>
<rect x="146.75" y="100.00" width="6.25" height="1.00" fill="#58c69b"/>
<rect x="146.75" y="101.00" width="6.25" height="1.00" fill="#3dbaa6"/>
<rect x="146.75" y="102.00" width="6.25" height="1.00" fill="#27afb1"/>
<rect x="146.75" y="103.00" width="6.25" height="1.00" fill="#1eabb5"/>
<rect x="146.75" y="104.00" width="6.25" height="1.00" fill="#1eabb5"/>
<rect x="146.75" y="105.00" width="6.25" height="1.00" fill="#1eabb5"/>
<rect x="146.75" y="106.00" width="6.25" height="1.00" fill="#1eabb5"/>
<rect x="146.75" y="107.00" width="6.25" height="1.00" fill="#1eabb5"/>
<rect x="146.75" y="108.00" width="6.25" height="1.00" fill="#1eabb5"/>
<rect x="146.75" y="109.00" width="6.25" height="1.00" fill="#18a6b9"/>
<rect x="146.75" y="110.00" width="6.25" height="1.00" fill="#19a2bb"/>
<rect x="146.75" y="111.00" width="6.25" height="1.00" fill="#1a9dbd"/>
<rect x="146.75" y="112.00" width="6.25" height="1.00" fill="#1b98bf"/>
<rect x="146.75" y="113.00" width="6.25" height="1.00" fill="#1c93c1"/>
<rect x="146.75" y="114.00" width="6.25" height="1.00" fill="#1d8ec3"/>
<rect x="146.75" y="115.00" width="6.25" height="1.00" fill="#1e89c5"/>
<rect x="146.75" y="116.00" width="6.25" height="1.00" fill="#2282c5"/>
<rect x="146.75" y="117.00" width="6.25" height="1.00" fill="#2a79c1"/>
<rect x="146.75" y="118.00" width="6.25" height="1.00" fill="#6852ae"/>
<rect x="146.75" y="119.00" width="6.25" height="1.00" fill="#6852ae"/>
<rect x="146.75" y="120.00" width="6.25" height="1.00" fill="#6852ae"/>
<rect x="146.75" y="121.00" width="6.25" height="1.00" fill="#6852ae"/>
<rect x="146.75" y="122.00" width="6.25" height="1.00" fill="#6852ae"/>
<rect x="146.75" y="123.00" width="6.25" height="1.00" fill="#6852ae"/>
<rect x="146.75" y="124.00" width="6.25" height="1.00" fill="#6852ae"/>
<rect x="146.75" y="125.00" width="6.25" height="1.00" fill="#6852ae"/>
<rect x="146.75" y="126.00" width="6.25" height="1.00" fill="#6852ae"/>
<rect x="146.75" y="127.00" width="6.25" height="1.00" fill="#6852ae"/>
<rect x="146.75" y="128.00" width="6.25" height="1.00" fill="#6852ae"/>
<rect x="146.75" y="129.00" width="6.25" height="1.00" fill="#6852ae"/>
<rect x="146.75" y="130.00" width="6.25" height="1.00" fill="#6852ae"/>
<rect x="146.75" y="131.00" width="6.25" height="1.00" fill="#6852ae"/>
<rect x="146.75" y="132.00" width="6.25" height="1.00" fill="#6852ae"/>
<rect x="146.75" y="133.00" width="6.25" height="1.00" fill="#6852ae"/>
<rect x="146.75" y="134.00" width="6.25" height="1.00" fill="#6852ae"/>
<rect x="146.75" y="135.00" width="6.25" height="1.00" fill="#6852ae"/>
<rect x="146.75" y="136.00" width="6.25" height="1.00" fill="#6852ae"/>
<rect x="146.75" y="137.00" width="6.25" height="1.00" fill="#6852ae"/>
<rect x="146.75" y="138.00" width="6.25" height="1.00" fill="#6852ae"/>
<rect x="146.75" y="139.00" width="6.25" height="1.00" fill="#6852ae"/>
<rect x="146.75" y="140.00" width="6.25" height="1.00" fill="#6852ae"/>
<rect x="146.75" y="141.00" width="6.25" height="1.00" fill="#6852ae"/>
<rect x="146.75" y="142.00" width="6.25" height="1.00" fill="#6852ae"/>
</g>
<polyline points="31.1,95.0 37.4,86.0 43.6,84.0 49.9,66.0 56.1,96.0 62.4,80.0 68.6,75.0 74.9,79.0 81.1,78.0 87.4,78.0 93.6,70.0 99.9,72.0 106.1,77.0 112.4,66.0 118.6,72.0 124.9,68.0 131.1,64.0 137.4,64.0 143.6,64.0 149.9,63.0" fill="none" stroke="#3b2f78" stroke-width="0.45"/>
<polyline points="31.1,140.0 37.4,132.0 43.6,130.0 49.9,128.0 56.1,120.0 62.4,121.0 68.6,128.0 74.9,138.0 81.1,126.0 87.4,128.0 93.6,130.0 99.9,131.0 106.1,124.0 112.4,122.0 118.6,118.0 124.9,140.0 131.1,125.0 137.4,124.0 143.6,120.0 149.9,118.0" fill="none" stroke="#3b2f78" stroke-width="0.45"/>
<polyline points="31.1,125.6 37.4,99.3 43.6,105.7 49.9,85.0 56.1,107.0 62.4,101.4 68.6,101.0 74.9,108.0 81.1,102.5 87.4,101.5 93.6,101.7 99.9,98.4 106.1,100.0 112.4,97.0 118.6,97.0 124.9,96.0 131.1,94.3 137.4,93.0 143.6,84.5 149.9,88.8" fill="none" stroke="#f6e08a" stroke-width="0.35"/>
<polyline points="31.1,121.6 37.4,95.3 43.6,101.7 49.9,81.0 56.1,103.0 62.4,97.4 68.6,97.0 74.9,104.0 81.1,98.5 87.4,97.5 93.6,97.7 99.9,94.4 106.1,96.0 112.4,93.0 118.6,93.0 124.9,92.0 131.1,90.3 137.4,89.0 143.6,80.5 149.9,84.8" fill="none" stroke="#f3c070" stroke-width="0.3"/>
<polyline points="31.1,129.6 37.4,103.3 43.6,109.7 49.9,89.0 56.1,111.0 62.4,105.4 68.6,105.0 74.9,112.0 81.1,106.5 87.4,105.5 93.6,105.7 99.9,102.4 106.1,104.0 112.4,101.0 118.6,101.0 124.9,100.0 131.1,98.3 137.4,97.0 143.6,88.5 149.9,92.8" fill="none" stroke="#f3c070" stroke-width="0.3"/>
<rect x="28" y="60" width="125" height="83" fill="none" stroke="#333" stroke-width="0.3"/>
<line x1="26.00" y1="66.70" x2="28.00" y2="66.70" stroke="#444" stroke-width="0.35"/>
<text x="24.50" y="67.90" font-size="3.4" text-anchor="end" stroke="#333" stroke-width="0.08" fill="#333">12</text>
<line x1="26.00" y1="78.50" x2="28.00" y2="78.50" stroke="#444" stroke-width="0.35"/>
<text x="24.50" y="79.70" font-size="3.4" text-anchor="end" stroke="#333" stroke-width="0.08" fill="#333">10</text>
<line x1="26.00" y1="89.80" x2="28.00" y2="89.80" stroke="#444" stroke-width="0.35"/>
<text x="24.50" y="91.00" font-size="3.4" text-anchor="end" stroke="#333" stroke-width="0.08" fill="#333">8</text>
<line x1="26.00" y1="102.00" x2="28.00" y2="102.00" stroke="#444" stroke-width="0.35"/>
<text x="24.50" y="103.20" font-size="3.4" text-anchor="end" stroke="#333" stroke-width="0.08" fill="#333">6</text>
<line x1="26.00" y1="113.00" x2="28.00" y2="113.00" stroke="#444" stroke-width="0.35"/>
<text x="24.50" y="114.20" font-size="3.4" text-anchor="end" stroke="#333" stroke-width="0.08" fill="#333">4</text>
<line x1="26.00" y1="124.80" x2="28.00" y2="124.80" stroke="#444" stroke-width="0.35"/>
<text x="24.50" y="126.00" font-size="3.4" text-anchor="end" stroke="#333" stroke-width="0.08" fill="#333">2</text>
<line x1="26.00" y1="136.50" x2="28.00" y2="136.50" stroke="#444" stroke-width="0.35"/>
<text x="24.50" y="137.70" font-size="3.4" text-anchor="end" stroke="#333" stroke-width="0.08" fill="#333">0</text>
<text x="18.90" y="100.00" font-size="3.7" text-anchor="middle" stroke="#333" stroke-width="0.08" fill="#333" transform="rotate(-90 18.90 100.00)">log2 expression</text>
<polyline points="153.0,65.2 155.0,65.2 157.0,65.4" fill="none" stroke="#555" stroke-width="0.3"/>
<text x="158.60" y="66.60" font-size="3.4" text-anchor="start" stroke="#333" stroke-width="0.08" fill="#333">100%</text>
<polyline points="153.0,81.0 155.0,81.0 157.0,81.2" fill="none" stroke="#555" stroke-width="0.3"/>
<text x="158.60" y="82.40" font-size="3.4" text-anchor="start" stroke="#333" stroke-width="0.08" fill="#333">75%</text>
<polyline points="153.0,86.4 155.0,86.4 157.0,86.6" fill="none" stroke="#555" stroke-width="0.3"/>
<text x="158.60" y="87.80" font-size="3.4" text-anchor="start" stroke="#333" stroke-width="0.08" fill="#333">50%</text>
<polyline points="153.0,92.3 155.0,92.3 157.0,92.8" fill="none" stroke="#555" stroke-width="0.3"/>
<text x="158.60" y="94.00" font-size="3.4" text-anchor="start" stroke="#333" stroke-width="0.08" fill="#333">mean</text>
<polyline points="153.0,97.8 155.0,97.8 157.0,98.2" fill="none" stroke="#555" stroke-width="0.3"/>
<text x="158.60" y="99.40" font-size="3.4" text-anchor="start" stroke="#333" stroke-width="0.08" fill="#333">25%</text>
<polyline points="153.0,127.0 155.0,127.0 157.0,127.5" fill="none" stroke="#555" stroke-width="0.3"/>
<text x="158.60" y="128.70" font-size="3.4" text-anchor="start" stroke="#333" stroke-width="0.08" fill="#333">0%</text>
<text x="168.20" y="91.40" font-size="3.6" text-anchor="start" stroke="#222" stroke-width="0.08" fill="#222">Distribution</text>
<text x="168.20" y="94.80" font-size="3.6" text-anchor="start" stroke="#222" stroke-width="0.08" fill="#222">density, %</text>
<rect x="168.30" y="95.70" width="3.30" height="1.05" fill="#c0004a"/>
<rect x="168.30" y="96.70" width="3.30" height="1.05" fill="#cf1b46"/>
<rect x="168.30" y="97.70" width="3.30" height="1.05" fill="#df3643"/>
<rect x="168.30" y="98.70" width="3.30" height="1.05" fill="#ec5442"/>
<rect x="168.30" y="99.70" width="3.30" height="1.05" fill="#f3764a"/>
<rect x="168.30" y="100.70" width="3.30" height="1.05" fill="#f99957"/>
<rect x="168.30" y="101.70" width="3.30" height="1.05" fill="#fcc074"/>
<rect x="168.30" y="102.70" width="3.30" height="1.05" fill="#fbdd8e"/>
<rect x="168.30" y="103.70" width="3.30" height="1.05" fill="#f7f3a4"/>
<rect x="168.30" y="104.70" width="3.30" height="1.05" fill="#d7ed9e"/>
<rect x="168.30" y="105.70" width="3.30" height="1.05" fill="#b1e295"/>
<rect x="168.30" y="106.70" width="3.30" height="1.05" fill="#7ed298"/>
<rect x="168.30" y="107.70" width="3.30" height="1.05" fill="#4dc29e"/>
<rect x="168.30" y="108.70" width="3.30" height="1.05" fill="#2cb2ae"/>
<rect x="168.30" y="109.70" width="3.30" height="1.05" fill="#1aa0bb"/>
<rect x="168.30" y="110.70" width="3.30" height="1.05" fill="#1e8cc4"/>
<rect x="168.30" y="111.70" width="3.30" height="1.05" fill="#356bbc"/>
<rect x="168.30" y="112.70" width="3.30" height="1.05" fill="#6852ae"/>
<text x="172.80" y="98.00" font-size="3.0" text-anchor="start" stroke="#333" stroke-width="0.08" fill="#333">0.4</text>
<text x="172.80" y="101.90" font-size="3.0" text-anchor="start" stroke="#333" stroke-width="0.08" fill="#333">0.3</text>
<text x="172.80" y="105.80" font-size="3.0" text-anchor="start" stroke="#333" stroke-width="0.08" fill="#333">0.2</text>
<text x="172.80" y="109.50" font-size="3.0" text-anchor="start" stroke="#333" stroke-width="0.08" fill="#333">0.1</text>
<text x="172.80" y="113.70" font-size="3.0" text-anchor="start" stroke="#333" stroke-width="0.08" fill="#333">0</text>
<text x="194.80" y="17.00" font-size="9.6" text-anchor="start" font-weight="bold" fill="#000">B</text>
<polyline points="254.0,13.6 254.0,12.6 257.3,12.6 257.3,13.6" fill="none" stroke="#333" stroke-width="0.42"/>
<polyline points="260.7,13.6 260.7,12.8 264.1,12.8 264.1,13.6" fill="none" stroke="#333" stroke-width="0.42"/>
<polyline points="267.4,13.6 267.4,12.4 270.8,12.4 270.8,13.6" fill="none" stroke="#333" stroke-width="0.42"/>
<polyline points="262.4,12.8 262.4,11.6 269.1,11.6 269.1,12.4" fill="none" stroke="#333" stroke-width="0.42"/>
<polyline points="274.1,13.6 274.1,12.6 277.5,12.6 277.5,13.6" fill="none" stroke="#333" stroke-width="0.42"/>
<polyline points="280.9,13.6 280.9,12.9 284.2,12.9 284.2,13.6" fill="none" stroke="#333" stroke-width="0.42"/>
<polyline points="275.8,12.6 275.8,11.8 282.5,11.8 282.5,12.9" fill="none" stroke="#333" stroke-width="0.42"/>
<polyline points="287.6,13.6 287.6,12.7 290.9,12.7 290.9,13.6" fill="none" stroke="#333" stroke-width="0.42"/>
<polyline points="294.3,13.6 294.3,12.5 297.7,12.5 297.7,13.6" fill="none" stroke="#333" stroke-width="0.42"/>
<polyline points="289.3,12.7 289.3,11.9 296.0,11.9 296.0,12.5" fill="none" stroke="#333" stroke-width="0.42"/>
<polyline points="301.0,13.6 301.0,12.8 304.4,12.8 304.4,13.6" fill="none" stroke="#333" stroke-width="0.42"/>
<polyline points="307.7,13.6 307.7,12.6 311.1,12.6 311.1,13.6" fill="none" stroke="#333" stroke-width="0.42"/>
<polyline points="314.5,13.6 314.5,12.4 317.8,12.4 317.8,13.6" fill="none" stroke="#333" stroke-width="0.42"/>
<polyline points="309.4,12.6 309.4,11.7 316.1,11.7 316.1,12.4" fill="none" stroke="#333" stroke-width="0.42"/>
<polyline points="302.7,12.8 302.7,11.2 312.8,11.2 312.8,11.7" fill="none" stroke="#333" stroke-width="0.42"/>
<polyline points="265.7,11.6 265.7,9.4 279.2,9.4 279.2,11.8" fill="none" stroke="#333" stroke-width="0.42"/>
<polyline points="255.7,12.6 255.7,7.6 272.5,7.6 272.5,9.4" fill="none" stroke="#333" stroke-width="0.42"/>
<polyline points="292.6,11.9 292.6,9.8 307.7,9.8 307.7,11.2" fill="none" stroke="#333" stroke-width="0.42"/>
<polyline points="264.1,7.6 264.1,5.2 300.2,5.2 300.2,9.8" fill="none" stroke="#333" stroke-width="0.42"/>
<text x="255.08" y="40.40" font-size="3.3" fill="#333" stroke="#333" stroke-width="0.16" textLength="14.80" lengthAdjust="spacingAndGlyphs" transform="rotate(-90 255.08 40.40)">Colorectal</text>
<text x="258.44" y="40.40" font-size="3.3" fill="#333" stroke="#333" stroke-width="0.16" textLength="3.80" lengthAdjust="spacingAndGlyphs" transform="rotate(-90 258.44 40.40)">ALL</text>
<text x="261.80" y="40.40" font-size="3.3" fill="#333" stroke="#333" stroke-width="0.16" textLength="4.30" lengthAdjust="spacingAndGlyphs" transform="rotate(-90 261.80 40.40)">CLL</text>
<text x="265.16" y="40.40" font-size="3.3" fill="#333" stroke="#333" stroke-width="0.16" textLength="14.20" lengthAdjust="spacingAndGlyphs" transform="rotate(-90 265.16 40.40)">Rhabdoid</text>
<text x="268.52" y="40.40" font-size="3.3" fill="#333" stroke="#333" stroke-width="0.16" textLength="15.80" lengthAdjust="spacingAndGlyphs" transform="rotate(-90 268.52 40.40)">Pancreatic</text>
<text x="271.88" y="40.40" font-size="3.3" fill="#333" stroke="#333" stroke-width="0.16" textLength="8.50" lengthAdjust="spacingAndGlyphs" transform="rotate(-90 271.88 40.40)">Breast</text>
<text x="275.24" y="40.40" font-size="3.3" fill="#333" stroke="#333" stroke-width="0.16" textLength="6.40" lengthAdjust="spacingAndGlyphs" transform="rotate(-90 275.24 40.40)">AML</text>
<text x="278.60" y="40.40" font-size="3.3" fill="#333" stroke="#333" stroke-width="0.16" textLength="25.20" lengthAdjust="spacingAndGlyphs" transform="rotate(-90 278.60 40.40)">Medulloblastoma</text>
<text x="281.96" y="40.40" font-size="3.3" fill="#333" stroke="#333" stroke-width="0.16" textLength="20.00" lengthAdjust="spacingAndGlyphs" transform="rotate(-90 281.96 40.40)">Mesothelioma</text>
<text x="285.32" y="40.40" font-size="3.3" fill="#333" stroke="#333" stroke-width="0.16" textLength="13.70" lengthAdjust="spacingAndGlyphs" transform="rotate(-90 285.32 40.40)">Myeloma</text>
<text x="288.68" y="40.40" font-size="3.3" fill="#333" stroke="#333" stroke-width="0.16" textLength="12.30" lengthAdjust="spacingAndGlyphs" transform="rotate(-90 288.68 40.40)">Ovarian</text>
<text x="292.04" y="40.40" font-size="3.3" fill="#333" stroke="#333" stroke-width="0.16" textLength="21.00" lengthAdjust="spacingAndGlyphs" transform="rotate(-90 292.04 40.40)">Cervix &amp; Endo</text>
<text x="295.40" y="40.40" font-size="3.3" fill="#333" stroke="#333" stroke-width="0.16" textLength="10.00" lengthAdjust="spacingAndGlyphs" transform="rotate(-90 295.40 40.40)">Kidney</text>
<text x="298.76" y="40.40" font-size="3.3" fill="#333" stroke="#333" stroke-width="0.16" textLength="6.40" lengthAdjust="spacingAndGlyphs" transform="rotate(-90 298.76 40.40)">Liver</text>
<text x="302.12" y="40.40" font-size="3.3" fill="#333" stroke="#333" stroke-width="0.16" textLength="24.10" lengthAdjust="spacingAndGlyphs" transform="rotate(-90 302.12 40.40)">Neuroblastoma</text>
<text x="305.48" y="40.40" font-size="3.3" fill="#333" stroke="#333" stroke-width="0.16" textLength="1.80" lengthAdjust="spacingAndGlyphs" transform="rotate(-90 305.48 40.40)">Lung</text>
<text x="308.84" y="40.40" font-size="3.3" fill="#333" stroke="#333" stroke-width="0.16" textLength="23.10" lengthAdjust="spacingAndGlyphs" transform="rotate(-90 308.84 40.40)">Ewing Sarcoma</text>
<text x="312.20" y="40.40" font-size="3.3" fill="#333" stroke="#333" stroke-width="0.16" textLength="18.90" lengthAdjust="spacingAndGlyphs" transform="rotate(-90 312.20 40.40)">Glioblastoma</text>
<text x="315.56" y="40.40" font-size="3.3" fill="#333" stroke="#333" stroke-width="0.16" textLength="5.30" lengthAdjust="spacingAndGlyphs" transform="rotate(-90 315.56 40.40)">Gastric</text>
<text x="318.92" y="40.40" font-size="3.3" fill="#333" stroke="#333" stroke-width="0.16" textLength="9.00" lengthAdjust="spacingAndGlyphs" transform="rotate(-90 318.92 40.40)">Bladder</text>
<rect x="299.5" y="13.6" width="5.2" height="27.4" fill="none" stroke="#e0302a" stroke-width="0.55"/>
<rect x="252.30" y="42.30" width="3.56" height="4.00" fill="#d20d59"/>
<rect x="255.66" y="42.30" width="3.56" height="4.00" fill="#d20d59"/>
<rect x="259.02" y="42.30" width="3.56" height="4.00" fill="#d51962"/>
<rect x="262.38" y="42.30" width="3.56" height="4.00" fill="#d9266c"/>
<rect x="265.74" y="42.30" width="3.56" height="4.00" fill="#d9266c"/>
<rect x="269.10" y="42.30" width="3.56" height="4.00" fill="#e2508a"/>
<rect x="272.46" y="42.30" width="3.56" height="4.00" fill="#ec93b8"/>
<rect x="275.82" y="42.30" width="3.56" height="4.00" fill="#f4c5da"/>
<rect x="279.18" y="42.30" width="3.56" height="4.00" fill="#f4c5da"/>
<rect x="282.54" y="42.30" width="3.56" height="4.00" fill="#f4c5da"/>
<rect x="285.90" y="42.30" width="3.56" height="4.00" fill="#fae4ee"/>
<rect x="289.26" y="42.30" width="3.56" height="4.00" fill="#fbedf3"/>
<rect x="292.62" y="42.30" width="3.56" height="4.00" fill="#fae4ee"/>
<rect x="295.98" y="42.30" width="3.56" height="4.00" fill="#fbedf3"/>
<rect x="299.34" y="42.30" width="3.56" height="4.00" fill="#fbedf3"/>
<rect x="302.70" y="42.30" width="3.56" height="4.00" fill="#fdf6f9"/>
<rect x="306.06" y="42.30" width="3.56" height="4.00" fill="#f6d2e2"/>
<rect x="309.42" y="42.30" width="3.56" height="4.00" fill="#f4c5da"/>
<rect x="312.78" y="42.30" width="3.56" height="4.00" fill="#e46195"/>
<rect x="316.14" y="42.30" width="3.56" height="4.00" fill="#d20d59"/>
<text x="321.00" y="45.60" font-size="3.5" text-anchor="start" font-weight="bold" stroke="#111" stroke-width="0.08" fill="#111">Significant correlations</text>
<g shape-rendering="crispEdges">
<rect x="252.30" y="46.30" width="3.51" height="3.75" fill="#af062f"/>
<rect x="255.66" y="46.30" width="3.51" height="3.75" fill="#c3183e"/>
<rect x="259.02" y="46.30" width="3.51" height="3.75" fill="#d13d5b"/>
<rect x="262.38" y="46.30" width="3.51" height="3.75" fill="#d13d5b"/>
<rect x="265.74" y="46.30" width="3.51" height="3.75" fill="#af062f"/>
<rect x="269.10" y="46.30" width="3.51" height="3.75" fill="#af062f"/>
<rect x="272.46" y="46.30" width="3.51" height="3.75" fill="#b30a32"/>
<rect x="275.82" y="46.30" width="3.51" height="3.75" fill="#f1acb9"/>
<rect x="279.18" y="46.30" width="3.51" height="3.75" fill="#f6c6cf"/>
<rect x="282.54" y="46.30" width="3.51" height="3.75" fill="#fae2e7"/>
<rect x="285.90" y="46.30" width="3.51" height="3.75" fill="#ffffff"/>
<rect x="289.26" y="46.30" width="3.51" height="3.75" fill="#b30a32"/>
<rect x="292.62" y="46.30" width="3.51" height="3.75" fill="#c3183e"/>
<rect x="295.98" y="46.30" width="3.51" height="3.75" fill="#af062f"/>
<rect x="299.34" y="46.30" width="3.51" height="3.75" fill="#ffffff"/>
<rect x="302.70" y="46.30" width="3.51" height="3.75" fill="#de637a"/>
<rect x="306.06" y="46.30" width="3.51" height="3.75" fill="#ffffff"/>
<rect x="309.42" y="46.30" width="3.51" height="3.75" fill="#ffffff"/>
<rect x="312.78" y="46.30" width="3.51" height="3.75" fill="#e98b9c"/>
<rect x="316.14" y="46.30" width="3.51" height="3.75" fill="#f1acb9"/>
<rect x="252.30" y="49.90" width="3.51" height="3.75" fill="#af062f"/>
<rect x="255.66" y="49.90" width="3.51" height="3.75" fill="#d13d5b"/>
<rect x="259.02" y="49.90" width="3.51" height="3.75" fill="#d13d5b"/>
<rect x="262.38" y="49.90" width="3.51" height="3.75" fill="#d13d5b"/>
<rect x="265.74" y="49.90" width="3.51" height="3.75" fill="#d13d5b"/>
<rect x="269.10" y="49.90" width="3.51" height="3.75" fill="#d13d5b"/>
<rect x="272.46" y="49.90" width="3.51" height="3.75" fill="#e98b9c"/>
<rect x="275.82" y="49.90" width="3.51" height="3.75" fill="#fae2e7"/>
<rect x="279.18" y="49.90" width="3.51" height="3.75" fill="#de637a"/>
<rect x="282.54" y="49.90" width="3.51" height="3.75" fill="#f1acb9"/>
<rect x="285.90" y="49.90" width="3.51" height="3.75" fill="#e98b9c"/>
<rect x="289.26" y="49.90" width="3.51" height="3.75" fill="#fae2e7"/>
<rect x="292.62" y="49.90" width="3.51" height="3.75" fill="#f1acb9"/>
<rect x="295.98" y="49.90" width="3.51" height="3.75" fill="#8092a7"/>
<rect x="299.34" y="49.90" width="3.51" height="3.75" fill="#f1acb9"/>
<rect x="302.70" y="49.90" width="3.51" height="3.75" fill="#f6c6cf"/>
<rect x="306.06" y="49.90" width="3.51" height="3.75" fill="#f6c6cf"/>
<rect x="309.42" y="49.90" width="3.51" height="3.75" fill="#ffffff"/>
<rect x="312.78" y="49.90" width="3.51" height="3.75" fill="#fae2e7"/>
<rect x="316.14" y="49.90" width="3.51" height="3.75" fill="#d0dbe6"/>
<rect x="252.30" y="53.50" width="3.51" height="3.75" fill="#af062f"/>
<rect x="255.66" y="53.50" width="3.51" height="3.75" fill="#f1acb9"/>
<rect x="259.02" y="53.50" width="3.51" height="3.75" fill="#de637a"/>
<rect x="262.38" y="53.50" width="3.51" height="3.75" fill="#de637a"/>
<rect x="265.74" y="53.50" width="3.51" height="3.75" fill="#de637a"/>
<rect x="269.10" y="53.50" width="3.51" height="3.75" fill="#d13d5b"/>
<rect x="272.46" y="53.50" width="3.51" height="3.75" fill="#f1acb9"/>
<rect x="275.82" y="53.50" width="3.51" height="3.75" fill="#f1acb9"/>
<rect x="279.18" y="53.50" width="3.51" height="3.75" fill="#f1acb9"/>
<rect x="282.54" y="53.50" width="3.51" height="3.75" fill="#f6c7d0"/>
<rect x="285.90" y="53.50" width="3.51" height="3.75" fill="#f6c7d0"/>
<rect x="289.26" y="53.50" width="3.51" height="3.75" fill="#e3e9f0"/>
<rect x="292.62" y="53.50" width="3.51" height="3.75" fill="#e3e9f0"/>
<rect x="295.98" y="53.50" width="3.51" height="3.75" fill="#e3e9f0"/>
<rect x="299.34" y="53.50" width="3.51" height="3.75" fill="#b3c2d1"/>
<rect x="302.70" y="53.50" width="3.51" height="3.75" fill="#cbd7e2"/>
<rect x="306.06" y="53.50" width="3.51" height="3.75" fill="#e3e9f0"/>
<rect x="309.42" y="53.50" width="3.51" height="3.75" fill="#ffffff"/>
<rect x="312.78" y="53.50" width="3.51" height="3.75" fill="#fae2e7"/>
<rect x="316.14" y="53.50" width="3.51" height="3.75" fill="#ffffff"/>
<rect x="252.30" y="57.10" width="3.51" height="3.75" fill="#af062f"/>
<rect x="255.66" y="57.10" width="3.51" height="3.75" fill="#d13d5b"/>
<rect x="259.02" y="57.10" width="3.51" height="3.75" fill="#f6c6cf"/>
<rect x="262.38" y="57.10" width="3.51" height="3.75" fill="#de637a"/>
<rect x="265.74" y="57.10" width="3.51" height="3.75" fill="#ffffff"/>
<rect x="269.10" y="57.10" width="3.51" height="3.75" fill="#f1acb9"/>
<rect x="272.46" y="57.10" width="3.51" height="3.75" fill="#d13d5b"/>
<rect x="275.82" y="57.10" width="3.51" height="3.75" fill="#f3f6f9"/>
<rect x="279.18" y="57.10" width="3.51" height="3.75" fill="#e98b9c"/>
<rect x="282.54" y="57.10" width="3.51" height="3.75" fill="#f6c7d0"/>
<rect x="285.90" y="57.10" width="3.51" height="3.75" fill="#e3e9f0"/>
<rect x="289.26" y="57.10" width="3.51" height="3.75" fill="#df657b"/>
<rect x="292.62" y="57.10" width="3.51" height="3.75" fill="#df657b"/>
<rect x="295.98" y="57.10" width="3.51" height="3.75" fill="#df657b"/>
<rect x="299.34" y="57.10" width="3.51" height="3.75" fill="#f6c7d0"/>
<rect x="302.70" y="57.10" width="3.51" height="3.75" fill="#e3e9f0"/>
<rect x="306.06" y="57.10" width="3.51" height="3.75" fill="#798ba1"/>
<rect x="309.42" y="57.10" width="3.51" height="3.75" fill="#de637a"/>
<rect x="312.78" y="57.10" width="3.51" height="3.75" fill="#e8edf2"/>
<rect x="316.14" y="57.10" width="3.51" height="3.75" fill="#ffffff"/>
<rect x="252.30" y="60.70" width="3.51" height="3.75" fill="#af062f"/>
<rect x="255.66" y="60.70" width="3.51" height="3.75" fill="#f1acb9"/>
<rect x="259.02" y="60.70" width="3.51" height="3.75" fill="#e98b9c"/>
<rect x="262.38" y="60.70" width="3.51" height="3.75" fill="#f1acb9"/>
<rect x="265.74" y="60.70" width="3.51" height="3.75" fill="#e98b9c"/>
<rect x="269.10" y="60.70" width="3.51" height="3.75" fill="#f1acb9"/>
<rect x="272.46" y="60.70" width="3.51" height="3.75" fill="#f6c6cf"/>
<rect x="275.82" y="60.70" width="3.51" height="3.75" fill="#f1acb9"/>
<rect x="279.18" y="60.70" width="3.51" height="3.75" fill="#f1acb9"/>
<rect x="282.54" y="60.70" width="3.51" height="3.75" fill="#ea8d9e"/>
<rect x="285.90" y="60.70" width="3.51" height="3.75" fill="#f1aeba"/>
<rect x="289.26" y="60.70" width="3.51" height="3.75" fill="#f6c7d0"/>
<rect x="292.62" y="60.70" width="3.51" height="3.75" fill="#f6c7d0"/>
<rect x="295.98" y="60.70" width="3.51" height="3.75" fill="#f6c7d0"/>
<rect x="299.34" y="60.70" width="3.51" height="3.75" fill="#cbd7e2"/>
<rect x="302.70" y="60.70" width="3.51" height="3.75" fill="#cbd7e2"/>
<rect x="306.06" y="60.70" width="3.51" height="3.75" fill="#e3e9f0"/>
<rect x="309.42" y="60.70" width="3.51" height="3.75" fill="#ffffff"/>
<rect x="312.78" y="60.70" width="3.51" height="3.75" fill="#192638"/>
<rect x="316.14" y="60.70" width="3.51" height="3.75" fill="#e8edf2"/>
<rect x="252.30" y="64.30" width="3.51" height="3.75" fill="#af062f"/>
<rect x="255.66" y="64.30" width="3.51" height="3.75" fill="#f6c6cf"/>
<rect x="259.02" y="64.30" width="3.51" height="3.75" fill="#e8edf2"/>
<rect x="262.38" y="64.30" width="3.51" height="3.75" fill="#af062f"/>
<rect x="265.74" y="64.30" width="3.51" height="3.75" fill="#f1acb9"/>
<rect x="269.10" y="64.30" width="3.51" height="3.75" fill="#f1acb9"/>
<rect x="272.46" y="64.30" width="3.51" height="3.75" fill="#e98b9c"/>
<rect x="275.82" y="64.30" width="3.51" height="3.75" fill="#fae2e7"/>
<rect x="279.18" y="64.30" width="3.51" height="3.75" fill="#f6c6cf"/>
<rect x="282.54" y="64.30" width="3.51" height="3.75" fill="#f6c7d0"/>
<rect x="285.90" y="64.30" width="3.51" height="3.75" fill="#f1aeba"/>
<rect x="289.26" y="64.30" width="3.51" height="3.75" fill="#f6c7d0"/>
<rect x="292.62" y="64.30" width="3.51" height="3.75" fill="#f6c7d0"/>
<rect x="295.98" y="64.30" width="3.51" height="3.75" fill="#f1aeba"/>
<rect x="299.34" y="64.30" width="3.51" height="3.75" fill="#fefefe"/>
<rect x="302.70" y="64.30" width="3.51" height="3.75" fill="#b3c2d1"/>
<rect x="306.06" y="64.30" width="3.51" height="3.75" fill="#b3c2d1"/>
<rect x="309.42" y="64.30" width="3.51" height="3.75" fill="#fae2e7"/>
<rect x="312.78" y="64.30" width="3.51" height="3.75" fill="#ffffff"/>
<rect x="316.14" y="64.30" width="3.51" height="3.75" fill="#a0b1c3"/>
<rect x="252.30" y="67.90" width="3.51" height="3.75" fill="#af062f"/>
<rect x="255.66" y="67.90" width="3.51" height="3.75" fill="#fae2e7"/>
<rect x="259.02" y="67.90" width="3.51" height="3.75" fill="#e8edf2"/>
<rect x="262.38" y="67.90" width="3.51" height="3.75" fill="#e98b9c"/>
<rect x="265.74" y="67.90" width="3.51" height="3.75" fill="#ffffff"/>
<rect x="269.10" y="67.90" width="3.51" height="3.75" fill="#f1acb9"/>
<rect x="272.46" y="67.90" width="3.51" height="3.75" fill="#f1acb9"/>
<rect x="275.82" y="67.90" width="3.51" height="3.75" fill="#f6c6cf"/>
<rect x="279.18" y="67.90" width="3.51" height="3.75" fill="#f1acb9"/>
<rect x="282.54" y="67.90" width="3.51" height="3.75" fill="#f1aeba"/>
<rect x="285.90" y="67.90" width="3.51" height="3.75" fill="#f6c7d0"/>
<rect x="289.26" y="67.90" width="3.51" height="3.75" fill="#f6c7d0"/>
<rect x="292.62" y="67.90" width="3.51" height="3.75" fill="#e3e9f0"/>
<rect x="295.98" y="67.90" width="3.51" height="3.75" fill="#fbe4e8"/>
<rect x="299.34" y="67.90" width="3.51" height="3.75" fill="#fbe4e8"/>
<rect x="302.70" y="67.90" width="3.51" height="3.75" fill="#b3c2d1"/>
<rect x="306.06" y="67.90" width="3.51" height="3.75" fill="#e3e9f0"/>
<rect x="309.42" y="67.90" width="3.51" height="3.75" fill="#ffffff"/>
<rect x="312.78" y="67.90" width="3.51" height="3.75" fill="#d0dbe6"/>
<rect x="316.14" y="67.90" width="3.51" height="3.75" fill="#d0dbe6"/>
<rect x="252.30" y="71.50" width="3.51" height="3.75" fill="#af062f"/>
<rect x="255.66" y="71.50" width="3.51" height="3.75" fill="#de637a"/>
<rect x="259.02" y="71.50" width="3.51" height="3.75" fill="#e98b9c"/>
<rect x="262.38" y="71.50" width="3.51" height="3.75" fill="#c3183e"/>
<rect x="265.74" y="71.50" width="3.51" height="3.75" fill="#c3183e"/>
<rect x="269.10" y="71.50" width="3.51" height="3.75" fill="#d13d5b"/>
<rect x="272.46" y="71.50" width="3.51" height="3.75" fill="#b30a32"/>
<rect x="275.82" y="71.50" width="3.51" height="3.75" fill="#f1acb9"/>
<rect x="279.18" y="71.50" width="3.51" height="3.75" fill="#d13d5b"/>
<rect x="282.54" y="71.50" width="3.51" height="3.75" fill="#fefefe"/>
<rect x="285.90" y="71.50" width="3.51" height="3.75" fill="#f6c7d0"/>
<rect x="289.26" y="71.50" width="3.51" height="3.75" fill="#f6c7d0"/>
<rect x="292.62" y="71.50" width="3.51" height="3.75" fill="#f6c7d0"/>
<rect x="295.98" y="71.50" width="3.51" height="3.75" fill="#f6c7d0"/>
<rect x="299.34" y="71.50" width="3.51" height="3.75" fill="#f6c7d0"/>
<rect x="302.70" y="71.50" width="3.51" height="3.75" fill="#f6c7d0"/>
<rect x="306.06" y="71.50" width="3.51" height="3.75" fill="#e3e9f0"/>
<rect x="309.42" y="71.50" width="3.51" height="3.75" fill="#f1acb9"/>
<rect x="312.78" y="71.50" width="3.51" height="3.75" fill="#e98b9c"/>
<rect x="316.14" y="71.50" width="3.51" height="3.75" fill="#121e2f"/>
<rect x="252.30" y="75.10" width="3.51" height="3.75" fill="#af062f"/>
<rect x="255.66" y="75.10" width="3.51" height="3.75" fill="#de637a"/>
<rect x="259.02" y="75.10" width="3.51" height="3.75" fill="#d13d5b"/>
<rect x="262.38" y="75.10" width="3.51" height="3.75" fill="#c3183e"/>
<rect x="265.74" y="75.10" width="3.51" height="3.75" fill="#b30a32"/>
<rect x="269.10" y="75.10" width="3.51" height="3.75" fill="#c3183e"/>
<rect x="272.46" y="75.10" width="3.51" height="3.75" fill="#d13d5b"/>
<rect x="275.82" y="75.10" width="3.51" height="3.75" fill="#fae2e7"/>
<rect x="279.18" y="75.10" width="3.51" height="3.75" fill="#e98b9c"/>
<rect x="282.54" y="75.10" width="3.51" height="3.75" fill="#fbe4e8"/>
<rect x="285.90" y="75.10" width="3.51" height="3.75" fill="#e3e9f0"/>
<rect x="289.26" y="75.10" width="3.51" height="3.75" fill="#c4193f"/>
<rect x="292.62" y="75.10" width="3.51" height="3.75" fill="#d23e5c"/>
<rect x="295.98" y="75.10" width="3.51" height="3.75" fill="#df657b"/>
<rect x="299.34" y="75.10" width="3.51" height="3.75" fill="#f6c7d0"/>
<rect x="302.70" y="75.10" width="3.51" height="3.75" fill="#e3e9f0"/>
<rect x="306.06" y="75.10" width="3.51" height="3.75" fill="#b3c2d1"/>
<rect x="309.42" y="75.10" width="3.51" height="3.75" fill="#ffffff"/>
<rect x="312.78" y="75.10" width="3.51" height="3.75" fill="#d0dbe6"/>
<rect x="316.14" y="75.10" width="3.51" height="3.75" fill="#8092a7"/>
<rect x="252.30" y="78.70" width="3.51" height="3.75" fill="#af062f"/>
<rect x="255.66" y="78.70" width="3.51" height="3.75" fill="#de637a"/>
<rect x="259.02" y="78.70" width="3.51" height="3.75" fill="#e98b9c"/>
<rect x="262.38" y="78.70" width="3.51" height="3.75" fill="#c3183e"/>
<rect x="265.74" y="78.70" width="3.51" height="3.75" fill="#d13d5b"/>
<rect x="269.10" y="78.70" width="3.51" height="3.75" fill="#d13d5b"/>
<rect x="272.46" y="78.70" width="3.51" height="3.75" fill="#c3183e"/>
<rect x="275.82" y="78.70" width="3.51" height="3.75" fill="#f6c6cf"/>
<rect x="279.18" y="78.70" width="3.51" height="3.75" fill="#f1acb9"/>
<rect x="282.54" y="78.70" width="3.51" height="3.75" fill="#e3e9f0"/>
<rect x="285.90" y="78.70" width="3.51" height="3.75" fill="#e3e9f0"/>
<rect x="289.26" y="78.70" width="3.51" height="3.75" fill="#df657b"/>
<rect x="292.62" y="78.70" width="3.51" height="3.75" fill="#f6c7d0"/>
<rect x="295.98" y="78.70" width="3.51" height="3.75" fill="#f6c7d0"/>
<rect x="299.34" y="78.70" width="3.51" height="3.75" fill="#fbe4e8"/>
<rect x="302.70" y="78.70" width="3.51" height="3.75" fill="#e3e9f0"/>
<rect x="306.06" y="78.70" width="3.51" height="3.75" fill="#cbd7e2"/>
<rect x="309.42" y="78.70" width="3.51" height="3.75" fill="#a0b1c3"/>
<rect x="312.78" y="78.70" width="3.51" height="3.75" fill="#d0dbe6"/>
<rect x="316.14" y="78.70" width="3.51" height="3.75" fill="#42546b"/>
<rect x="252.30" y="82.30" width="3.51" height="3.75" fill="#af062f"/>
<rect x="255.66" y="82.30" width="3.51" height="3.75" fill="#e98b9c"/>
<rect x="259.02" y="82.30" width="3.51" height="3.75" fill="#f1acb9"/>
<rect x="262.38" y="82.30" width="3.51" height="3.75" fill="#d13d5b"/>
<rect x="265.74" y="82.30" width="3.51" height="3.75" fill="#d13d5b"/>
<rect x="269.10" y="82.30" width="3.51" height="3.75" fill="#de637a"/>
<rect x="272.46" y="82.30" width="3.51" height="3.75" fill="#d13d5b"/>
<rect x="275.82" y="82.30" width="3.51" height="3.75" fill="#f6c6cf"/>
<rect x="279.18" y="82.30" width="3.51" height="3.75" fill="#fae2e7"/>
<rect x="282.54" y="82.30" width="3.51" height="3.75" fill="#fefefe"/>
<rect x="285.90" y="82.30" width="3.51" height="3.75" fill="#e3e9f0"/>
<rect x="289.26" y="82.30" width="3.51" height="3.75" fill="#ea8d9e"/>
<rect x="292.62" y="82.30" width="3.51" height="3.75" fill="#f6c7d0"/>
<rect x="295.98" y="82.30" width="3.51" height="3.75" fill="#f6c7d0"/>
<rect x="299.34" y="82.30" width="3.51" height="3.75" fill="#fefefe"/>
<rect x="302.70" y="82.30" width="3.51" height="3.75" fill="#e3e9f0"/>
<rect x="306.06" y="82.30" width="3.51" height="3.75" fill="#cbd7e2"/>
<rect x="309.42" y="82.30" width="3.51" height="3.75" fill="#d0dbe6"/>
<rect x="312.78" y="82.30" width="3.51" height="3.75" fill="#d0dbe6"/>
<rect x="316.14" y="82.30" width="3.51" height="3.75" fill="#5f728b"/>
<rect x="252.30" y="85.90" width="3.51" height="3.75" fill="#af062f"/>
<rect x="255.66" y="85.90" width="3.51" height="3.75" fill="#de637a"/>
<rect x="259.02" y="85.90" width="3.51" height="3.75" fill="#de637a"/>
<rect x="262.38" y="85.90" width="3.51" height="3.75" fill="#d13d5b"/>
<rect x="265.74" y="85.90" width="3.51" height="3.75" fill="#c3183e"/>
<rect x="269.10" y="85.90" width="3.51" height="3.75" fill="#d13d5b"/>
<rect x="272.46" y="85.90" width="3.51" height="3.75" fill="#e98b9c"/>
<rect x="275.82" y="85.90" width="3.51" height="3.75" fill="#ffffff"/>
<rect x="279.18" y="85.90" width="3.51" height="3.75" fill="#f6c6cf"/>
<rect x="282.54" y="85.90" width="3.51" height="3.75" fill="#fbe4e8"/>
<rect x="285.90" y="85.90" width="3.51" height="3.75" fill="#fefefe"/>
<rect x="289.26" y="85.90" width="3.51" height="3.75" fill="#d23e5c"/>
<rect x="292.62" y="85.90" width="3.51" height="3.75" fill="#fbe4e8"/>
<rect x="295.98" y="85.90" width="3.51" height="3.75" fill="#fbe4e8"/>
<rect x="299.34" y="85.90" width="3.51" height="3.75" fill="#fefefe"/>
<rect x="302.70" y="85.90" width="3.51" height="3.75" fill="#e3e9f0"/>
<rect x="306.06" y="85.90" width="3.51" height="3.75" fill="#b3c2d1"/>
<rect x="309.42" y="85.90" width="3.51" height="3.75" fill="#d0dbe6"/>
<rect x="312.78" y="85.90" width="3.51" height="3.75" fill="#b8c6d4"/>
<rect x="316.14" y="85.90" width="3.51" height="3.75" fill="#8092a7"/>
<rect x="252.30" y="89.50" width="3.51" height="3.75" fill="#af062f"/>
<rect x="255.66" y="89.50" width="3.51" height="3.75" fill="#e98b9c"/>
<rect x="259.02" y="89.50" width="3.51" height="3.75" fill="#f1acb9"/>
<rect x="262.38" y="89.50" width="3.51" height="3.75" fill="#d13d5b"/>
<rect x="265.74" y="89.50" width="3.51" height="3.75" fill="#d13d5b"/>
<rect x="269.10" y="89.50" width="3.51" height="3.75" fill="#d13d5b"/>
<rect x="272.46" y="89.50" width="3.51" height="3.75" fill="#e98b9c"/>
<rect x="275.82" y="89.50" width="3.51" height="3.75" fill="#f6c6cf"/>
<rect x="279.18" y="89.50" width="3.51" height="3.75" fill="#e98b9c"/>
<rect x="282.54" y="89.50" width="3.51" height="3.75" fill="#f6c7d0"/>
<rect x="285.90" y="89.50" width="3.51" height="3.75" fill="#fbe4e8"/>
<rect x="289.26" y="89.50" width="3.51" height="3.75" fill="#f1aeba"/>
<rect x="292.62" y="89.50" width="3.51" height="3.75" fill="#fbe4e8"/>
<rect x="295.98" y="89.50" width="3.51" height="3.75" fill="#fbe4e8"/>
<rect x="299.34" y="89.50" width="3.51" height="3.75" fill="#fefefe"/>
<rect x="302.70" y="89.50" width="3.51" height="3.75" fill="#cbd7e2"/>
<rect x="306.06" y="89.50" width="3.51" height="3.75" fill="#cbd7e2"/>
<rect x="309.42" y="89.50" width="3.51" height="3.75" fill="#d0dbe6"/>
<rect x="312.78" y="89.50" width="3.51" height="3.75" fill="#b8c6d4"/>
<rect x="316.14" y="89.50" width="3.51" height="3.75" fill="#5f728b"/>
<rect x="252.30" y="93.10" width="3.51" height="3.75" fill="#af062f"/>
<rect x="255.66" y="93.10" width="3.51" height="3.75" fill="#d13d5b"/>
<rect x="259.02" y="93.10" width="3.51" height="3.75" fill="#e98b9c"/>
<rect x="262.38" y="93.10" width="3.51" height="3.75" fill="#de637a"/>
<rect x="265.74" y="93.10" width="3.51" height="3.75" fill="#d13d5b"/>
<rect x="269.10" y="93.10" width="3.51" height="3.75" fill="#de637a"/>
<rect x="272.46" y="93.10" width="3.51" height="3.75" fill="#f1acb9"/>
<rect x="275.82" y="93.10" width="3.51" height="3.75" fill="#e98b9c"/>
<rect x="279.18" y="93.10" width="3.51" height="3.75" fill="#f6c6cf"/>
<rect x="282.54" y="93.10" width="3.51" height="3.75" fill="#f6c7d0"/>
<rect x="285.90" y="93.10" width="3.51" height="3.75" fill="#fbe4e8"/>
<rect x="289.26" y="93.10" width="3.51" height="3.75" fill="#ea8d9e"/>
<rect x="292.62" y="93.10" width="3.51" height="3.75" fill="#f6c7d0"/>
<rect x="295.98" y="93.10" width="3.51" height="3.75" fill="#f6c7d0"/>
<rect x="299.34" y="93.10" width="3.51" height="3.75" fill="#fbe4e8"/>
<rect x="302.70" y="93.10" width="3.51" height="3.75" fill="#cbd7e2"/>
<rect x="306.06" y="93.10" width="3.51" height="3.75" fill="#b3c2d1"/>
<rect x="309.42" y="93.10" width="3.51" height="3.75" fill="#e8edf2"/>
<rect x="312.78" y="93.10" width="3.51" height="3.75" fill="#b8c6d4"/>
<rect x="316.14" y="93.10" width="3.51" height="3.75" fill="#26354b"/>
<rect x="252.30" y="96.70" width="3.51" height="3.75" fill="#af062f"/>
<rect x="255.66" y="96.70" width="3.51" height="3.75" fill="#d13d5b"/>
<rect x="259.02" y="96.70" width="3.51" height="3.75" fill="#de637a"/>
<rect x="262.38" y="96.70" width="3.51" height="3.75" fill="#f1acb9"/>
<rect x="265.74" y="96.70" width="3.51" height="3.75" fill="#d13d5b"/>
<rect x="269.10" y="96.70" width="3.51" height="3.75" fill="#d13d5b"/>
<rect x="272.46" y="96.70" width="3.51" height="3.75" fill="#ffffff"/>
<rect x="275.82" y="96.70" width="3.51" height="3.75" fill="#de637a"/>
<rect x="279.18" y="96.70" width="3.51" height="3.75" fill="#de637a"/>
<rect x="282.54" y="96.70" width="3.51" height="3.75" fill="#f6c7d0"/>
<rect x="285.90" y="96.70" width="3.51" height="3.75" fill="#fefefe"/>
<rect x="289.26" y="96.70" width="3.51" height="3.75" fill="#df657b"/>
<rect x="292.62" y="96.70" width="3.51" height="3.75" fill="#f6c7d0"/>
<rect x="295.98" y="96.70" width="3.51" height="3.75" fill="#f6c7d0"/>
<rect x="299.34" y="96.70" width="3.51" height="3.75" fill="#cbd7e2"/>
<rect x="302.70" y="96.70" width="3.51" height="3.75" fill="#e3e9f0"/>
<rect x="306.06" y="96.70" width="3.51" height="3.75" fill="#b3c2d1"/>
<rect x="309.42" y="96.70" width="3.51" height="3.75" fill="#e8edf2"/>
<rect x="312.78" y="96.70" width="3.51" height="3.75" fill="#b8c6d4"/>
<rect x="316.14" y="96.70" width="3.51" height="3.75" fill="#26354b"/>
<rect x="252.30" y="100.30" width="3.51" height="3.75" fill="#af062f"/>
<rect x="255.66" y="100.30" width="3.51" height="3.75" fill="#d13d5b"/>
<rect x="259.02" y="100.30" width="3.51" height="3.75" fill="#d13d5b"/>
<rect x="262.38" y="100.30" width="3.51" height="3.75" fill="#e98b9c"/>
<rect x="265.74" y="100.30" width="3.51" height="3.75" fill="#d13d5b"/>
<rect x="269.10" y="100.30" width="3.51" height="3.75" fill="#de637a"/>
<rect x="272.46" y="100.30" width="3.51" height="3.75" fill="#de637a"/>
<rect x="275.82" y="100.30" width="3.51" height="3.75" fill="#e98b9c"/>
<rect x="279.18" y="100.30" width="3.51" height="3.75" fill="#f1acb9"/>
<rect x="282.54" y="100.30" width="3.51" height="3.75" fill="#f1aeba"/>
<rect x="285.90" y="100.30" width="3.51" height="3.75" fill="#fbe4e8"/>
<rect x="289.26" y="100.30" width="3.51" height="3.75" fill="#ea8d9e"/>
<rect x="292.62" y="100.30" width="3.51" height="3.75" fill="#df657b"/>
<rect x="295.98" y="100.30" width="3.51" height="3.75" fill="#f6c7d0"/>
<rect x="299.34" y="100.30" width="3.51" height="3.75" fill="#cbd7e2"/>
<rect x="302.70" y="100.30" width="3.51" height="3.75" fill="#e3e9f0"/>
<rect x="306.06" y="100.30" width="3.51" height="3.75" fill="#b3c2d1"/>
<rect x="309.42" y="100.30" width="3.51" height="3.75" fill="#e8edf2"/>
<rect x="312.78" y="100.30" width="3.51" height="3.75" fill="#42546b"/>
<rect x="316.14" y="100.30" width="3.51" height="3.75" fill="#26354b"/>
<rect x="252.30" y="103.90" width="3.51" height="3.75" fill="#af062f"/>
<rect x="255.66" y="103.90" width="3.51" height="3.75" fill="#d13d5b"/>
<rect x="259.02" y="103.90" width="3.51" height="3.75" fill="#de637a"/>
<rect x="262.38" y="103.90" width="3.51" height="3.75" fill="#f1acb9"/>
<rect x="265.74" y="103.90" width="3.51" height="3.75" fill="#de637a"/>
<rect x="269.10" y="103.90" width="3.51" height="3.75" fill="#d13d5b"/>
<rect x="272.46" y="103.90" width="3.51" height="3.75" fill="#ffffff"/>
<rect x="275.82" y="103.90" width="3.51" height="3.75" fill="#fae2e7"/>
<rect x="279.18" y="103.90" width="3.51" height="3.75" fill="#fae2e7"/>
<rect x="282.54" y="103.90" width="3.51" height="3.75" fill="#f6c7d0"/>
<rect x="285.90" y="103.90" width="3.51" height="3.75" fill="#fefefe"/>
<rect x="289.26" y="103.90" width="3.51" height="3.75" fill="#d23e5c"/>
<rect x="292.62" y="103.90" width="3.51" height="3.75" fill="#fbe4e8"/>
<rect x="295.98" y="103.90" width="3.51" height="3.75" fill="#e3e9f0"/>
<rect x="299.34" y="103.90" width="3.51" height="3.75" fill="#cbd7e2"/>
<rect x="302.70" y="103.90" width="3.51" height="3.75" fill="#b3c2d1"/>
<rect x="306.06" y="103.90" width="3.51" height="3.75" fill="#b3c2d1"/>
<rect x="309.42" y="103.90" width="3.51" height="3.75" fill="#e8edf2"/>
<rect x="312.78" y="103.90" width="3.51" height="3.75" fill="#b8c6d4"/>
<rect x="316.14" y="103.90" width="3.51" height="3.75" fill="#192638"/>
<rect x="252.30" y="107.50" width="3.51" height="3.75" fill="#af062f"/>
<rect x="255.66" y="107.50" width="3.51" height="3.75" fill="#d13d5b"/>
<rect x="259.02" y="107.50" width="3.51" height="3.75" fill="#d13d5b"/>
<rect x="262.38" y="107.50" width="3.51" height="3.75" fill="#ffffff"/>
<rect x="265.74" y="107.50" width="3.51" height="3.75" fill="#d13d5b"/>
<rect x="269.10" y="107.50" width="3.51" height="3.75" fill="#de637a"/>
<rect x="272.46" y="107.50" width="3.51" height="3.75" fill="#f1acb9"/>
<rect x="275.82" y="107.50" width="3.51" height="3.75" fill="#f1acb9"/>
<rect x="279.18" y="107.50" width="3.51" height="3.75" fill="#e98b9c"/>
<rect x="282.54" y="107.50" width="3.51" height="3.75" fill="#fbe4e8"/>
<rect x="285.90" y="107.50" width="3.51" height="3.75" fill="#e3e9f0"/>
<rect x="289.26" y="107.50" width="3.51" height="3.75" fill="#fefefe"/>
<rect x="292.62" y="107.50" width="3.51" height="3.75" fill="#fbe4e8"/>
<rect x="295.98" y="107.50" width="3.51" height="3.75" fill="#b3c2d1"/>
<rect x="299.34" y="107.50" width="3.51" height="3.75" fill="#e3e9f0"/>
<rect x="302.70" y="107.50" width="3.51" height="3.75" fill="#b3c2d1"/>
<rect x="306.06" y="107.50" width="3.51" height="3.75" fill="#b3c2d1"/>
<rect x="309.42" y="107.50" width="3.51" height="3.75" fill="#b8c6d4"/>
<rect x="312.78" y="107.50" width="3.51" height="3.75" fill="#5f728b"/>
<rect x="316.14" y="107.50" width="3.51" height="3.75" fill="#26354b"/>
<rect x="252.30" y="111.10" width="3.51" height="3.75" fill="#af062f"/>
<rect x="255.66" y="111.10" width="3.51" height="3.75" fill="#d13d5b"/>
<rect x="259.02" y="111.10" width="3.51" height="3.75" fill="#c3183e"/>
<rect x="262.38" y="111.10" width="3.51" height="3.75" fill="#c3183e"/>
<rect x="265.74" y="111.10" width="3.51" height="3.75" fill="#c3183e"/>
<rect x="269.10" y="111.10" width="3.51" height="3.75" fill="#d13d5b"/>
<rect x="272.46" y="111.10" width="3.51" height="3.75" fill="#de637a"/>
<rect x="275.82" y="111.10" width="3.51" height="3.75" fill="#f6c6cf"/>
<rect x="279.18" y="111.10" width="3.51" height="3.75" fill="#fae2e7"/>
<rect x="282.54" y="111.10" width="3.51" height="3.75" fill="#cbd7e2"/>
<rect x="285.90" y="111.10" width="3.51" height="3.75" fill="#fbe4e8"/>
<rect x="289.26" y="111.10" width="3.51" height="3.75" fill="#df657b"/>
<rect x="292.62" y="111.10" width="3.51" height="3.75" fill="#df657b"/>
<rect x="295.98" y="111.10" width="3.51" height="3.75" fill="#b3c2d1"/>
<rect x="299.34" y="111.10" width="3.51" height="3.75" fill="#fefefe"/>
<rect x="302.70" y="111.10" width="3.51" height="3.75" fill="#cbd7e2"/>
<rect x="306.06" y="111.10" width="3.51" height="3.75" fill="#9aabbd"/>
<rect x="309.42" y="111.10" width="3.51" height="3.75" fill="#d0dbe6"/>
<rect x="312.78" y="111.10" width="3.51" height="3.75" fill="#5f728b"/>
<rect x="316.14" y="111.10" width="3.51" height="3.75" fill="#42546b"/>
<rect x="252.30" y="114.70" width="3.51" height="3.75" fill="#af062f"/>
<rect x="255.66" y="114.70" width="3.51" height="3.75" fill="#e98b9c"/>
<rect x="259.02" y="114.70" width="3.51" height="3.75" fill="#d13d5b"/>
<rect x="262.38" y="114.70" width="3.51" height="3.75" fill="#de637a"/>
<rect x="265.74" y="114.70" width="3.51" height="3.75" fill="#e98b9c"/>
<rect x="269.10" y="114.70" width="3.51" height="3.75" fill="#e98b9c"/>
<rect x="272.46" y="114.70" width="3.51" height="3.75" fill="#f6c6cf"/>
<rect x="275.82" y="114.70" width="3.51" height="3.75" fill="#fae2e7"/>
<rect x="279.18" y="114.70" width="3.51" height="3.75" fill="#fae2e7"/>
<rect x="282.54" y="114.70" width="3.51" height="3.75" fill="#e3e9f0"/>
<rect x="285.90" y="114.70" width="3.51" height="3.75" fill="#f6c7d0"/>
<rect x="289.26" y="114.70" width="3.51" height="3.75" fill="#e3e9f0"/>
<rect x="292.62" y="114.70" width="3.51" height="3.75" fill="#e3e9f0"/>
<rect x="295.98" y="114.70" width="3.51" height="3.75" fill="#b3c2d1"/>
<rect x="299.34" y="114.70" width="3.51" height="3.75" fill="#fefefe"/>
<rect x="302.70" y="114.70" width="3.51" height="3.75" fill="#9aabbd"/>
<rect x="306.06" y="114.70" width="3.51" height="3.75" fill="#9aabbd"/>
<rect x="309.42" y="114.70" width="3.51" height="3.75" fill="#d0dbe6"/>
<rect x="312.78" y="114.70" width="3.51" height="3.75" fill="#42546b"/>
<rect x="316.14" y="114.70" width="3.51" height="3.75" fill="#42546b"/>
<rect x="252.30" y="118.30" width="3.51" height="3.75" fill="#af062f"/>
<rect x="255.66" y="118.30" width="3.51" height="3.75" fill="#e8edf2"/>
<rect x="259.02" y="118.30" width="3.51" height="3.75" fill="#f1acb9"/>
<rect x="262.38" y="118.30" width="3.51" height="3.75" fill="#f1acb9"/>
<rect x="265.74" y="118.30" width="3.51" height="3.75" fill="#e98b9c"/>
<rect x="269.10" y="118.30" width="3.51" height="3.75" fill="#f1acb9"/>
<rect x="272.46" y="118.30" width="3.51" height="3.75" fill="#f1acb9"/>
<rect x="275.82" y="118.30" width="3.51" height="3.75" fill="#f1acb9"/>
<rect x="279.18" y="118.30" width="3.51" height="3.75" fill="#f6c6cf"/>
<rect x="282.54" y="118.30" width="3.51" height="3.75" fill="#fefefe"/>
<rect x="285.90" y="118.30" width="3.51" height="3.75" fill="#fbe4e8"/>
<rect x="289.26" y="118.30" width="3.51" height="3.75" fill="#f6c7d0"/>
<rect x="292.62" y="118.30" width="3.51" height="3.75" fill="#fefefe"/>
<rect x="295.98" y="118.30" width="3.51" height="3.75" fill="#e3e9f0"/>
<rect x="299.34" y="118.30" width="3.51" height="3.75" fill="#fbe4e8"/>
<rect x="302.70" y="118.30" width="3.51" height="3.75" fill="#b3c2d1"/>
<rect x="306.06" y="118.30" width="3.51" height="3.75" fill="#b3c2d1"/>
<rect x="309.42" y="118.30" width="3.51" height="3.75" fill="#d0dbe6"/>
<rect x="312.78" y="118.30" width="3.51" height="3.75" fill="#8092a7"/>
<rect x="316.14" y="118.30" width="3.51" height="3.75" fill="#42546b"/>
<rect x="252.30" y="121.90" width="3.51" height="3.75" fill="#af062f"/>
<rect x="255.66" y="121.90" width="3.51" height="3.75" fill="#f3f6f9"/>
<rect x="259.02" y="121.90" width="3.51" height="3.75" fill="#e98b9c"/>
<rect x="262.38" y="121.90" width="3.51" height="3.75" fill="#b30a32"/>
<rect x="265.74" y="121.90" width="3.51" height="3.75" fill="#b30a32"/>
<rect x="269.10" y="121.90" width="3.51" height="3.75" fill="#c3183e"/>
<rect x="272.46" y="121.90" width="3.51" height="3.75" fill="#f6c6cf"/>
<rect x="275.82" y="121.90" width="3.51" height="3.75" fill="#f6c6cf"/>
<rect x="279.18" y="121.90" width="3.51" height="3.75" fill="#f6c6cf"/>
<rect x="282.54" y="121.90" width="3.51" height="3.75" fill="#fefefe"/>
<rect x="285.90" y="121.90" width="3.51" height="3.75" fill="#e3e9f0"/>
<rect x="289.26" y="121.90" width="3.51" height="3.75" fill="#f6c7d0"/>
<rect x="292.62" y="121.90" width="3.51" height="3.75" fill="#e3e9f0"/>
<rect x="295.98" y="121.90" width="3.51" height="3.75" fill="#e3e9f0"/>
<rect x="299.34" y="121.90" width="3.51" height="3.75" fill="#e3e9f0"/>
<rect x="302.70" y="121.90" width="3.51" height="3.75" fill="#cbd7e2"/>
<rect x="306.06" y="121.90" width="3.51" height="3.75" fill="#b3c2d1"/>
<rect x="309.42" y="121.90" width="3.51" height="3.75" fill="#26354b"/>
<rect x="312.78" y="121.90" width="3.51" height="3.75" fill="#192638"/>
<rect x="316.14" y="121.90" width="3.51" height="3.75" fill="#42546b"/>
<rect x="252.30" y="125.50" width="3.51" height="3.75" fill="#af062f"/>
<rect x="255.66" y="125.50" width="3.51" height="3.75" fill="#ffffff"/>
<rect x="259.02" y="125.50" width="3.51" height="3.75" fill="#f1acb9"/>
<rect x="262.38" y="125.50" width="3.51" height="3.75" fill="#e98b9c"/>
<rect x="265.74" y="125.50" width="3.51" height="3.75" fill="#d13d5b"/>
<rect x="269.10" y="125.50" width="3.51" height="3.75" fill="#de637a"/>
<rect x="272.46" y="125.50" width="3.51" height="3.75" fill="#e98b9c"/>
<rect x="275.82" y="125.50" width="3.51" height="3.75" fill="#f6c6cf"/>
<rect x="279.18" y="125.50" width="3.51" height="3.75" fill="#ffffff"/>
<rect x="282.54" y="125.50" width="3.51" height="3.75" fill="#fefefe"/>
<rect x="285.90" y="125.50" width="3.51" height="3.75" fill="#fefefe"/>
<rect x="289.26" y="125.50" width="3.51" height="3.75" fill="#fefefe"/>
<rect x="292.62" y="125.50" width="3.51" height="3.75" fill="#fefefe"/>
<rect x="295.98" y="125.50" width="3.51" height="3.75" fill="#cbd7e2"/>
<rect x="299.34" y="125.50" width="3.51" height="3.75" fill="#e3e9f0"/>
<rect x="302.70" y="125.50" width="3.51" height="3.75" fill="#b3c2d1"/>
<rect x="306.06" y="125.50" width="3.51" height="3.75" fill="#b3c2d1"/>
<rect x="309.42" y="125.50" width="3.51" height="3.75" fill="#ffffff"/>
<rect x="312.78" y="125.50" width="3.51" height="3.75" fill="#e8edf2"/>
<rect x="316.14" y="125.50" width="3.51" height="3.75" fill="#5f728b"/>
<rect x="252.30" y="129.10" width="3.51" height="3.75" fill="#af062f"/>
<rect x="255.66" y="129.10" width="3.51" height="3.75" fill="#e98b9c"/>
<rect x="259.02" y="129.10" width="3.51" height="3.75" fill="#f1acb9"/>
<rect x="262.38" y="129.10" width="3.51" height="3.75" fill="#de637a"/>
<rect x="265.74" y="129.10" width="3.51" height="3.75" fill="#de637a"/>
<rect x="269.10" y="129.10" width="3.51" height="3.75" fill="#e98b9c"/>
<rect x="272.46" y="129.10" width="3.51" height="3.75" fill="#f6c6cf"/>
<rect x="275.82" y="129.10" width="3.51" height="3.75" fill="#fae2e7"/>
<rect x="279.18" y="129.10" width="3.51" height="3.75" fill="#f6c6cf"/>
<rect x="282.54" y="129.10" width="3.51" height="3.75" fill="#b3c2d1"/>
<rect x="285.90" y="129.10" width="3.51" height="3.75" fill="#e3e9f0"/>
<rect x="289.26" y="129.10" width="3.51" height="3.75" fill="#e3e9f0"/>
<rect x="292.62" y="129.10" width="3.51" height="3.75" fill="#e3e9f0"/>
<rect x="295.98" y="129.10" width="3.51" height="3.75" fill="#fbe4e8"/>
<rect x="299.34" y="129.10" width="3.51" height="3.75" fill="#f6c7d0"/>
<rect x="302.70" y="129.10" width="3.51" height="3.75" fill="#cbd7e2"/>
<rect x="306.06" y="129.10" width="3.51" height="3.75" fill="#e3e9f0"/>
<rect x="309.42" y="129.10" width="3.51" height="3.75" fill="#b8c6d4"/>
<rect x="312.78" y="129.10" width="3.51" height="3.75" fill="#ffffff"/>
<rect x="316.14" y="129.10" width="3.51" height="3.75" fill="#8092a7"/>
<rect x="252.30" y="132.70" width="3.51" height="3.75" fill="#af062f"/>
<rect x="255.66" y="132.70" width="3.51" height="3.75" fill="#af062f"/>
<rect x="259.02" y="132.70" width="3.51" height="3.75" fill="#b30a32"/>
<rect x="262.38" y="132.70" width="3.51" height="3.75" fill="#f1acb9"/>
<rect x="265.74" y="132.70" width="3.51" height="3.75" fill="#f6c6cf"/>
<rect x="269.10" y="132.70" width="3.51" height="3.75" fill="#e98b9c"/>
<rect x="272.46" y="132.70" width="3.51" height="3.75" fill="#f1acb9"/>
<rect x="275.82" y="132.70" width="3.51" height="3.75" fill="#f6c6cf"/>
<rect x="279.18" y="132.70" width="3.51" height="3.75" fill="#fae2e7"/>
<rect x="282.54" y="132.70" width="3.51" height="3.75" fill="#fefefe"/>
<rect x="285.90" y="132.70" width="3.51" height="3.75" fill="#fefefe"/>
<rect x="289.26" y="132.70" width="3.51" height="3.75" fill="#fefefe"/>
<rect x="292.62" y="132.70" width="3.51" height="3.75" fill="#ea8d9e"/>
<rect x="295.98" y="132.70" width="3.51" height="3.75" fill="#cbd7e2"/>
<rect x="299.34" y="132.70" width="3.51" height="3.75" fill="#fefefe"/>
<rect x="302.70" y="132.70" width="3.51" height="3.75" fill="#cbd7e2"/>
<rect x="306.06" y="132.70" width="3.51" height="3.75" fill="#596c85"/>
<rect x="309.42" y="132.70" width="3.51" height="3.75" fill="#e98b9c"/>
<rect x="312.78" y="132.70" width="3.51" height="3.75" fill="#ffffff"/>
<rect x="316.14" y="132.70" width="3.51" height="3.75" fill="#8092a7"/>
<rect x="252.30" y="136.30" width="3.51" height="3.75" fill="#af062f"/>
<rect x="255.66" y="136.30" width="3.51" height="3.75" fill="#b30a32"/>
<rect x="259.02" y="136.30" width="3.51" height="3.75" fill="#d13d5b"/>
<rect x="262.38" y="136.30" width="3.51" height="3.75" fill="#f1acb9"/>
<rect x="265.74" y="136.30" width="3.51" height="3.75" fill="#fae2e7"/>
<rect x="269.10" y="136.30" width="3.51" height="3.75" fill="#ffffff"/>
<rect x="272.46" y="136.30" width="3.51" height="3.75" fill="#f6c6cf"/>
<rect x="275.82" y="136.30" width="3.51" height="3.75" fill="#de637a"/>
<rect x="279.18" y="136.30" width="3.51" height="3.75" fill="#ffffff"/>
<rect x="282.54" y="136.30" width="3.51" height="3.75" fill="#fefefe"/>
<rect x="285.90" y="136.30" width="3.51" height="3.75" fill="#fbe4e8"/>
<rect x="289.26" y="136.30" width="3.51" height="3.75" fill="#f1aeba"/>
<rect x="292.62" y="136.30" width="3.51" height="3.75" fill="#cbd7e2"/>
<rect x="295.98" y="136.30" width="3.51" height="3.75" fill="#b3c2d1"/>
<rect x="299.34" y="136.30" width="3.51" height="3.75" fill="#fefefe"/>
<rect x="302.70" y="136.30" width="3.51" height="3.75" fill="#cbd7e2"/>
<rect x="306.06" y="136.30" width="3.51" height="3.75" fill="#798ba1"/>
<rect x="309.42" y="136.30" width="3.51" height="3.75" fill="#d0dbe6"/>
<rect x="312.78" y="136.30" width="3.51" height="3.75" fill="#b30a32"/>
<rect x="316.14" y="136.30" width="3.51" height="3.75" fill="#5f728b"/>
<rect x="252.30" y="139.90" width="3.51" height="3.75" fill="#af062f"/>
<rect x="255.66" y="139.90" width="3.51" height="3.75" fill="#d13d5b"/>
<rect x="259.02" y="139.90" width="3.51" height="3.75" fill="#de637a"/>
<rect x="262.38" y="139.90" width="3.51" height="3.75" fill="#f6c6cf"/>
<rect x="265.74" y="139.90" width="3.51" height="3.75" fill="#ffffff"/>
<rect x="269.10" y="139.90" width="3.51" height="3.75" fill="#d0dbe6"/>
<rect x="272.46" y="139.90" width="3.51" height="3.75" fill="#ffffff"/>
<rect x="275.82" y="139.90" width="3.51" height="3.75" fill="#e8edf2"/>
<rect x="279.18" y="139.90" width="3.51" height="3.75" fill="#ffffff"/>
<rect x="282.54" y="139.90" width="3.51" height="3.75" fill="#e3e9f0"/>
<rect x="285.90" y="139.90" width="3.51" height="3.75" fill="#fbe4e8"/>
<rect x="289.26" y="139.90" width="3.51" height="3.75" fill="#ea8d9e"/>
<rect x="292.62" y="139.90" width="3.51" height="3.75" fill="#ea8d9e"/>
<rect x="295.98" y="139.90" width="3.51" height="3.75" fill="#fbe4e8"/>
<rect x="299.34" y="139.90" width="3.51" height="3.75" fill="#df657b"/>
<rect x="302.70" y="139.90" width="3.51" height="3.75" fill="#cbd7e2"/>
<rect x="306.06" y="139.90" width="3.51" height="3.75" fill="#798ba1"/>
<rect x="309.42" y="139.90" width="3.51" height="3.75" fill="#e8edf2"/>
<rect x="312.78" y="139.90" width="3.51" height="3.75" fill="#a0b1c3"/>
<rect x="316.14" y="139.90" width="3.51" height="3.75" fill="#8092a7"/>
<rect x="252.30" y="143.50" width="3.51" height="3.75" fill="#af062f"/>
<rect x="255.66" y="143.50" width="3.51" height="3.75" fill="#d13d5b"/>
<rect x="259.02" y="143.50" width="3.51" height="3.75" fill="#d13d5b"/>
<rect x="262.38" y="143.50" width="3.51" height="3.75" fill="#e98b9c"/>
<rect x="265.74" y="143.50" width="3.51" height="3.75" fill="#fae2e7"/>
<rect x="269.10" y="143.50" width="3.51" height="3.75" fill="#ffffff"/>
<rect x="272.46" y="143.50" width="3.51" height="3.75" fill="#ffffff"/>
<rect x="275.82" y="143.50" width="3.51" height="3.75" fill="#ffffff"/>
<rect x="279.18" y="143.50" width="3.51" height="3.75" fill="#fae2e7"/>
<rect x="282.54" y="143.50" width="3.51" height="3.75" fill="#fefefe"/>
<rect x="285.90" y="143.50" width="3.51" height="3.75" fill="#e3e9f0"/>
<rect x="289.26" y="143.50" width="3.51" height="3.75" fill="#f6c7d0"/>
<rect x="292.62" y="143.50" width="3.51" height="3.75" fill="#e3e9f0"/>
<rect x="295.98" y="143.50" width="3.51" height="3.75" fill="#fefefe"/>
<rect x="299.34" y="143.50" width="3.51" height="3.75" fill="#fbe4e8"/>
<rect x="302.70" y="143.50" width="3.51" height="3.75" fill="#e3e9f0"/>
<rect x="306.06" y="143.50" width="3.51" height="3.75" fill="#9aabbd"/>
<rect x="309.42" y="143.50" width="3.51" height="3.75" fill="#ffffff"/>
<rect x="312.78" y="143.50" width="3.51" height="3.75" fill="#e8edf2"/>
<rect x="316.14" y="143.50" width="3.51" height="3.75" fill="#b8c6d4"/>
</g>
<text x="251.40" y="50.10" font-size="3.25" text-anchor="end" stroke="#333" stroke-width="0.08" fill="#333">Type 2 T helper cell</text>
<text x="251.40" y="53.70" font-size="3.25" text-anchor="end" stroke="#333" stroke-width="0.08" fill="#333">CD56bright natural killer cell</text>
<text x="251.40" y="57.30" font-size="3.25" text-anchor="end" stroke="#333" stroke-width="0.08" fill="#333">Immature dendritic cell</text>
<text x="251.40" y="60.90" font-size="3.25" text-anchor="end" stroke="#333" stroke-width="0.08" fill="#333">Eosinophil</text>
<text x="251.40" y="64.50" font-size="3.25" text-anchor="end" stroke="#333" stroke-width="0.08" fill="#333">Monocyte</text>
<text x="251.40" y="68.10" font-size="3.25" text-anchor="end" stroke="#333" stroke-width="0.08" fill="#333">Activated B cell</text>
<text x="251.40" y="71.70" font-size="3.25" text-anchor="end" stroke="#333" stroke-width="0.08" fill="#333">Immature  B cell</text>
<text x="251.40" y="75.30" font-size="3.25" text-anchor="end" stroke="#333" stroke-width="0.08" fill="#333">Effector memory CD4 T cell</text>
<text x="251.40" y="78.90" font-size="3.25" text-anchor="end" stroke="#333" stroke-width="0.08" fill="#333">Mast cell</text>
<text x="251.40" y="82.50" font-size="3.25" text-anchor="end" stroke="#333" stroke-width="0.08" fill="#333">Gamma delta T cell</text>
<text x="251.40" y="86.10" font-size="3.25" text-anchor="end" stroke="#333" stroke-width="0.08" fill="#333">Regulatory T cell</text>
<text x="251.40" y="89.70" font-size="3.25" text-anchor="end" stroke="#333" stroke-width="0.08" fill="#333">Plasmacytoid dendritic cell</text>
<text x="251.40" y="93.30" font-size="3.25" text-anchor="end" stroke="#333" stroke-width="0.08" fill="#333">Effector memory CD8 T cell</text>
<text x="251.40" y="96.90" font-size="3.25" text-anchor="end" stroke="#333" stroke-width="0.08" fill="#333">Natural killer cell</text>
<text x="251.40" y="100.50" font-size="3.25" text-anchor="end" stroke="#333" stroke-width="0.08" fill="#333">T follicular helper cell</text>
<text x="251.40" y="104.10" font-size="3.25" text-anchor="end" stroke="#333" stroke-width="0.08" fill="#333">Macrophage</text>
<text x="251.40" y="107.70" font-size="3.25" text-anchor="end" stroke="#333" stroke-width="0.08" fill="#333">Type 1 T helper cell</text>
<text x="251.40" y="111.30" font-size="3.25" text-anchor="end" stroke="#333" stroke-width="0.08" fill="#333">Natural killer T cell</text>
<text x="251.40" y="114.90" font-size="3.25" text-anchor="end" stroke="#333" stroke-width="0.08" fill="#333">Central memory CD8 T cell</text>
<text x="251.40" y="118.50" font-size="3.25" text-anchor="end" stroke="#333" stroke-width="0.08" fill="#333">Activated dendritic cell</text>
<text x="251.40" y="122.10" font-size="3.25" text-anchor="end" stroke="#333" stroke-width="0.08" fill="#333">MDSC</text>
<text x="251.40" y="125.70" font-size="3.25" text-anchor="end" stroke="#333" stroke-width="0.08" fill="#333">Central memory CD4 T cell</text>
<text x="251.40" y="129.30" font-size="3.25" text-anchor="end" stroke="#333" stroke-width="0.08" fill="#333">Activated CD8 T cell</text>
<text x="251.40" y="132.90" font-size="3.25" text-anchor="end" stroke="#333" stroke-width="0.08" fill="#333">Activated CD4 T cell</text>
<text x="251.40" y="136.50" font-size="3.25" text-anchor="end" stroke="#333" stroke-width="0.08" fill="#333">Type 17 T helper cell</text>
<text x="251.40" y="140.10" font-size="3.25" text-anchor="end" stroke="#333" stroke-width="0.08" fill="#333">Memory B cell</text>
<text x="251.40" y="143.70" font-size="3.25" text-anchor="end" stroke="#333" stroke-width="0.08" fill="#333">Neutrophil</text>
<text x="251.40" y="147.30" font-size="3.25" text-anchor="end" stroke="#333" stroke-width="0.08" fill="#333">CD56dim natural killer cell</text>
<polyline points="206.3,48.1 203.8,48.1" fill="none" stroke="#333" stroke-width="0.42"/>
<polyline points="206.3,51.7 203.8,51.7" fill="none" stroke="#333" stroke-width="0.42"/>
<polyline points="206.3,55.3 203.8,55.3" fill="none" stroke="#333" stroke-width="0.42"/>
<polyline points="203.8,48.1 203.8,55.3" fill="none" stroke="#333" stroke-width="0.42"/>
<polyline points="203.8,51.7 201.8,51.7" fill="none" stroke="#333" stroke-width="0.42"/>
<polyline points="206.3,58.9 203.8,58.9" fill="none" stroke="#333" stroke-width="0.42"/>
<polyline points="206.3,62.5 203.8,62.5" fill="none" stroke="#333" stroke-width="0.42"/>
<polyline points="206.3,66.1 203.8,66.1" fill="none" stroke="#333" stroke-width="0.42"/>
<polyline points="206.3,69.7 203.8,69.7" fill="none" stroke="#333" stroke-width="0.42"/>
<polyline points="203.8,58.9 203.8,69.7" fill="none" stroke="#333" stroke-width="0.42"/>
<polyline points="203.8,64.3 201.8,64.3" fill="none" stroke="#333" stroke-width="0.42"/>
<polyline points="206.3,73.3 203.8,73.3" fill="none" stroke="#333" stroke-width="0.42"/>
<polyline points="206.3,76.9 203.8,76.9" fill="none" stroke="#333" stroke-width="0.42"/>
<polyline points="206.3,80.5 203.8,80.5" fill="none" stroke="#333" stroke-width="0.42"/>
<polyline points="206.3,84.1 203.8,84.1" fill="none" stroke="#333" stroke-width="0.42"/>
<polyline points="206.3,87.7 203.8,87.7" fill="none" stroke="#333" stroke-width="0.42"/>
<polyline points="206.3,91.3 203.8,91.3" fill="none" stroke="#333" stroke-width="0.42"/>
<polyline points="203.8,73.3 203.8,91.3" fill="none" stroke="#333" stroke-width="0.42"/>
<polyline points="203.8,82.3 201.8,82.3" fill="none" stroke="#333" stroke-width="0.42"/>
<polyline points="206.3,94.9 203.8,94.9" fill="none" stroke="#333" stroke-width="0.42"/>
<polyline points="206.3,98.5 203.8,98.5" fill="none" stroke="#333" stroke-width="0.42"/>
<polyline points="206.3,102.1 203.8,102.1" fill="none" stroke="#333" stroke-width="0.42"/>
<polyline points="206.3,105.7 203.8,105.7" fill="none" stroke="#333" stroke-width="0.42"/>
<polyline points="206.3,109.3 203.8,109.3" fill="none" stroke="#333" stroke-width="0.42"/>
<polyline points="206.3,112.9 203.8,112.9" fill="none" stroke="#333" stroke-width="0.42"/>
<polyline points="206.3,116.5 203.8,116.5" fill="none" stroke="#333" stroke-width="0.42"/>
<polyline points="203.8,94.9 203.8,116.5" fill="none" stroke="#333" stroke-width="0.42"/>
<polyline points="203.8,105.7 201.8,105.7" fill="none" stroke="#333" stroke-width="0.42"/>
<polyline points="206.3,120.1 203.8,120.1" fill="none" stroke="#333" stroke-width="0.42"/>
<polyline points="206.3,123.7 203.8,123.7" fill="none" stroke="#333" stroke-width="0.42"/>
<polyline points="206.3,127.3 203.8,127.3" fill="none" stroke="#333" stroke-width="0.42"/>
<polyline points="206.3,130.9 203.8,130.9" fill="none" stroke="#333" stroke-width="0.42"/>
<polyline points="203.8,120.1 203.8,130.9" fill="none" stroke="#333" stroke-width="0.42"/>
<polyline points="203.8,125.5 201.8,125.5" fill="none" stroke="#333" stroke-width="0.42"/>
<polyline points="206.3,134.5 203.8,134.5" fill="none" stroke="#333" stroke-width="0.42"/>
<polyline points="206.3,138.1 203.8,138.1" fill="none" stroke="#333" stroke-width="0.42"/>
<polyline points="206.3,141.7 203.8,141.7" fill="none" stroke="#333" stroke-width="0.42"/>
<polyline points="206.3,145.3 203.8,145.3" fill="none" stroke="#333" stroke-width="0.42"/>
<polyline points="203.8,134.5 203.8,145.3" fill="none" stroke="#333" stroke-width="0.42"/>
<polyline points="203.8,139.9 201.8,139.9" fill="none" stroke="#333" stroke-width="0.42"/>
<polyline points="201.8,51.7 201.8,64.3" fill="none" stroke="#333" stroke-width="0.42"/>
<polyline points="199.8,58.9 201.8,58.9" fill="none" stroke="#333" stroke-width="0.42"/>
<polyline points="201.8,82.3 201.8,105.7" fill="none" stroke="#333" stroke-width="0.42"/>
<polyline points="198.0,93.1 201.8,93.1" fill="none" stroke="#333" stroke-width="0.42"/>
<polyline points="201.8,125.5 201.8,139.9" fill="none" stroke="#333" stroke-width="0.42"/>
<polyline points="199.8,130.9 201.8,130.9" fill="none" stroke="#333" stroke-width="0.42"/>
<polyline points="199.8,58.9 199.8,130.9" fill="none" stroke="#333" stroke-width="0.42"/>
<polyline points="196.4,93.1 198.0,93.1" fill="none" stroke="#333" stroke-width="0.42"/>
<rect x="197.6" y="76.9" width="1.6" height="32.4" fill="#bbb"/>
<text x="321.00" y="74.40" font-size="3.3" text-anchor="start" font-weight="bold" stroke="#222" stroke-width="0.08" fill="#222">Number of</text>
<text x="321.00" y="77.60" font-size="3.3" text-anchor="start" font-weight="bold" stroke="#222" stroke-width="0.08" fill="#222">correlations</text>
<rect x="321.20" y="78.60" width="3.30" height="1.05" fill="#cf0050"/>
<rect x="321.20" y="79.60" width="3.30" height="1.05" fill="#d30f5b"/>
<rect x="321.20" y="80.60" width="3.30" height="1.05" fill="#d71e66"/>
<rect x="321.20" y="81.60" width="3.30" height="1.05" fill="#da2c70"/>
<rect x="321.20" y="82.60" width="3.30" height="1.05" fill="#de3b7b"/>
<rect x="321.20" y="83.60" width="3.30" height="1.05" fill="#e14e88"/>
<rect x="321.20" y="84.60" width="3.30" height="1.05" fill="#e46296"/>
<rect x="321.20" y="85.60" width="3.30" height="1.05" fill="#e775a4"/>
<rect x="321.20" y="86.60" width="3.30" height="1.05" fill="#ea89b1"/>
<rect x="321.20" y="87.60" width="3.30" height="1.05" fill="#ed9abd"/>
<rect x="321.20" y="88.60" width="3.30" height="1.05" fill="#f0a9c7"/>
<rect x="321.20" y="89.60" width="3.30" height="1.05" fill="#f2b8d1"/>
<rect x="321.20" y="90.60" width="3.30" height="1.05" fill="#f4c7db"/>
<rect x="321.20" y="91.60" width="3.30" height="1.05" fill="#f7d5e4"/>
<rect x="321.20" y="92.60" width="3.30" height="1.05" fill="#f9dfeb"/>
<rect x="321.20" y="93.60" width="3.30" height="1.05" fill="#fbeaf1"/>
<rect x="321.20" y="94.60" width="3.30" height="1.05" fill="#fdf4f8"/>
<rect x="321.20" y="95.60" width="3.30" height="1.05" fill="#ffffff"/>
<text x="326.20" y="80.20" font-size="2.7" text-anchor="start" stroke="#333" stroke-width="0.08" fill="#333">15</text>
<text x="326.20" y="84.30" font-size="2.7" text-anchor="start" stroke="#333" stroke-width="0.08" fill="#333">10</text>
<text x="326.20" y="88.50" font-size="2.7" text-anchor="start" stroke="#333" stroke-width="0.08" fill="#333">10</text>
<text x="326.20" y="92.60" font-size="2.7" text-anchor="start" stroke="#333" stroke-width="0.08" fill="#333">5</text>
<text x="326.20" y="96.80" font-size="2.7" text-anchor="start" stroke="#333" stroke-width="0.08" fill="#333">0</text>
<text x="321.00" y="101.60" font-size="3.3" text-anchor="start" font-weight="bold" stroke="#222" stroke-width="0.08" fill="#222">Correlation</text>
<text x="321.00" y="104.90" font-size="3.3" text-anchor="start" font-weight="bold" stroke="#222" stroke-width="0.08" fill="#222">coefficient</text>
<rect x="321.20" y="105.80" width="3.30" height="1.05" fill="#a8002a"/>
<rect x="321.20" y="106.80" width="3.30" height="1.05" fill="#b80e36"/>
<rect x="321.20" y="107.80" width="3.30" height="1.05" fill="#c72045"/>
<rect x="321.20" y="108.80" width="3.30" height="1.05" fill="#d44461"/>
<rect x="321.20" y="109.80" width="3.30" height="1.05" fill="#e06a7f"/>
<rect x="321.20" y="110.80" width="3.30" height="1.05" fill="#eb90a1"/>
<rect x="321.20" y="111.80" width="3.30" height="1.05" fill="#f2afbb"/>
<rect x="321.20" y="112.80" width="3.30" height="1.05" fill="#f6c8d1"/>
<rect x="321.20" y="113.80" width="3.30" height="1.05" fill="#fbe3e8"/>
<rect x="321.20" y="114.80" width="3.30" height="1.05" fill="#ffffff"/>
<rect x="321.20" y="115.80" width="3.30" height="1.05" fill="#e5ebf1"/>
<rect x="321.20" y="116.80" width="3.30" height="1.05" fill="#cbd6e2"/>
<rect x="321.20" y="117.80" width="3.30" height="1.05" fill="#b0bfcf"/>
<rect x="321.20" y="118.80" width="3.30" height="1.05" fill="#92a3b7"/>
<rect x="321.20" y="119.80" width="3.30" height="1.05" fill="#6d8097"/>
<rect x="321.20" y="120.80" width="3.30" height="1.05" fill="#4c5e76"/>
<rect x="321.20" y="121.80" width="3.30" height="1.05" fill="#2c3c52"/>
<rect x="321.20" y="122.80" width="3.30" height="1.05" fill="#1a273b"/>
<rect x="321.20" y="123.80" width="3.30" height="1.05" fill="#0c1626"/>
<text x="326.20" y="108.60" font-size="2.7" text-anchor="start" stroke="#333" stroke-width="0.08" fill="#333">0.1</text>
<text x="326.20" y="116.30" font-size="2.7" text-anchor="start" stroke="#333" stroke-width="0.08" fill="#333">0</text>
<text x="326.20" y="124.00" font-size="2.7" text-anchor="start" stroke="#333" stroke-width="0.08" fill="#333">-0.1</text>
<text x="12.80" y="171.90" font-size="9.6" text-anchor="start" font-weight="bold" fill="#000">C</text>
<text x="138.00" y="172.60" font-size="7.2" text-anchor="middle" font-weight="bold" fill="#000">RNAi (Achilles+DRIVE+Marcotte, DEMETER2)</text>
<line x1="48.80" y1="183.60" x2="48.80" y2="259.20" stroke="#000" stroke-width="1.1"/>
<line x1="46.00" y1="184.10" x2="48.80" y2="184.10" stroke="#000" stroke-width="0.9"/>
<text x="44.60" y="186.35" font-size="6.3" text-anchor="end" font-weight="bold" fill="#000">0.5</text>
<line x1="46.00" y1="202.75" x2="48.80" y2="202.75" stroke="#000" stroke-width="0.9"/>
<text x="44.60" y="205.00" font-size="6.3" text-anchor="end" font-weight="bold" fill="#000">0.0</text>
<line x1="46.00" y1="221.40" x2="48.80" y2="221.40" stroke="#000" stroke-width="0.9"/>
<text x="44.60" y="223.65" font-size="6.3" text-anchor="end" font-weight="bold" fill="#000">-0.5</text>
<line x1="46.00" y1="240.05" x2="48.80" y2="240.05" stroke="#000" stroke-width="0.9"/>
<text x="44.60" y="242.30" font-size="6.3" text-anchor="end" font-weight="bold" fill="#000">-1.0</text>
<line x1="46.00" y1="258.70" x2="48.80" y2="258.70" stroke="#000" stroke-width="0.9"/>
<text x="44.60" y="260.95" font-size="6.3" text-anchor="end" font-weight="bold" fill="#000">-1.5</text>
<text x="29.00" y="220.00" font-size="7.0" text-anchor="middle" font-weight="bold" fill="#000" transform="rotate(-90 29.00 220.00)">Dependency score</text>
<line x1="48.30" y1="258.80" x2="228.20" y2="258.80" stroke="#000" stroke-width="1.1"/>
<line x1="48.80" y1="202.75" x2="227.50" y2="202.75" stroke="#222" stroke-width="0.6" stroke-dasharray="1.2,1.2"/>
<line x1="53.80" y1="258.80" x2="53.80" y2="261.50" stroke="#000" stroke-width="0.9"/>
<text x="55.10" y="266.00" font-size="5.6" text-anchor="end" font-weight="bold" fill="#000" transform="rotate(-45 55.10 266.00)">ALL</text>
<line x1="53.80" y1="199.77" x2="53.80" y2="219.53" stroke="#d02864" stroke-width="0.7"/>
<line x1="52.60" y1="199.77" x2="55.00" y2="199.77" stroke="#d02864" stroke-width="0.6"/>
<line x1="52.60" y1="219.53" x2="55.00" y2="219.53" stroke="#d02864" stroke-width="0.6"/>
<circle cx="54.44" cy="212.37" r="0.6" fill="#d02864"/>
<circle cx="52.21" cy="206.45" r="0.6" fill="#d02864"/>
<circle cx="52.66" cy="217.58" r="0.6" fill="#d02864"/>
<circle cx="53.83" cy="212.04" r="0.6" fill="#d02864"/>
<circle cx="52.81" cy="202.39" r="0.6" fill="#d02864"/>
<circle cx="52.07" cy="208.47" r="0.6" fill="#d02864"/>
<circle cx="53.06" cy="219.53" r="0.6" fill="#d02864"/>
<rect x="51.70" y="206.11" width="4.2" height="8.58" fill="#ffffff" fill-opacity="0.6" stroke="#d02864" stroke-width="0.7"/>
<line x1="51.70" y1="210.40" x2="55.90" y2="210.40" stroke="#d02864" stroke-width="0.5"/>
<line x1="61.12" y1="258.80" x2="61.12" y2="261.50" stroke="#000" stroke-width="0.9"/>
<text x="62.42" y="266.00" font-size="5.6" text-anchor="end" font-weight="bold" fill="#000" transform="rotate(-45 62.42 266.00)">AML</text>
<line x1="61.12" y1="196.41" x2="61.12" y2="254.60" stroke="#ec3c58" stroke-width="0.7"/>
<line x1="59.92" y1="196.41" x2="62.32" y2="196.41" stroke="#ec3c58" stroke-width="0.6"/>
<line x1="59.92" y1="254.60" x2="62.32" y2="254.60" stroke="#ec3c58" stroke-width="0.6"/>
<circle cx="60.35" cy="197.67" r="0.6" fill="#ec3c58"/>
<circle cx="61.21" cy="225.02" r="0.6" fill="#ec3c58"/>
<circle cx="61.01" cy="225.59" r="0.6" fill="#ec3c58"/>
<circle cx="62.60" cy="203.57" r="0.6" fill="#ec3c58"/>
<circle cx="60.20" cy="207.35" r="0.6" fill="#ec3c58"/>
<circle cx="60.33" cy="203.54" r="0.6" fill="#ec3c58"/>
<circle cx="62.38" cy="202.62" r="0.6" fill="#ec3c58"/>
<rect x="59.02" y="200.88" width="4.2" height="11.94" fill="#ffffff" fill-opacity="0.6" stroke="#ec3c58" stroke-width="0.7"/>
<line x1="59.02" y1="206.85" x2="63.22" y2="206.85" stroke="#ec3c58" stroke-width="0.5"/>
<line x1="68.44" y1="258.80" x2="68.44" y2="261.50" stroke="#000" stroke-width="0.9"/>
<text x="69.74" y="266.00" font-size="5.6" text-anchor="end" font-weight="bold" fill="#000" transform="rotate(-45 69.74 266.00)">Neuroblastoma</text>
<line x1="68.44" y1="200.88" x2="68.44" y2="217.67" stroke="#c030c8" stroke-width="0.7"/>
<line x1="67.24" y1="200.88" x2="69.64" y2="200.88" stroke="#c030c8" stroke-width="0.6"/>
<line x1="67.24" y1="217.67" x2="69.64" y2="217.67" stroke="#c030c8" stroke-width="0.6"/>
<circle cx="68.94" cy="203.86" r="0.6" fill="#c030c8"/>
<circle cx="68.14" cy="200.88" r="0.6" fill="#c030c8"/>
<circle cx="66.65" cy="209.61" r="0.6" fill="#c030c8"/>
<circle cx="67.16" cy="208.09" r="0.6" fill="#c030c8"/>
<circle cx="67.72" cy="210.27" r="0.6" fill="#c030c8"/>
<circle cx="68.66" cy="213.52" r="0.6" fill="#c030c8"/>
<circle cx="69.30" cy="212.57" r="0.6" fill="#c030c8"/>
<rect x="66.34" y="203.87" width="4.2" height="7.09" fill="#ffffff" fill-opacity="0.6" stroke="#c030c8" stroke-width="0.7"/>
<line x1="66.34" y1="207.41" x2="70.54" y2="207.41" stroke="#c030c8" stroke-width="0.5"/>
<line x1="75.76" y1="258.80" x2="75.76" y2="261.50" stroke="#000" stroke-width="0.9"/>
<text x="77.06" y="266.00" font-size="5.6" text-anchor="end" font-weight="bold" fill="#000" transform="rotate(-45 77.06 266.00)">Ewing Sarcoma</text>
<line x1="75.76" y1="195.29" x2="75.76" y2="214.69" stroke="#80c4f0" stroke-width="0.7"/>
<line x1="74.56" y1="195.29" x2="76.96" y2="195.29" stroke="#80c4f0" stroke-width="0.6"/>
<line x1="74.56" y1="214.69" x2="76.96" y2="214.69" stroke="#80c4f0" stroke-width="0.6"/>
<circle cx="76.60" cy="203.55" r="0.6" fill="#80c4f0"/>
<circle cx="75.87" cy="205.00" r="0.6" fill="#80c4f0"/>
<circle cx="76.40" cy="195.71" r="0.6" fill="#80c4f0"/>
<circle cx="77.86" cy="206.14" r="0.6" fill="#80c4f0"/>
<circle cx="74.65" cy="211.40" r="0.6" fill="#80c4f0"/>
<circle cx="75.14" cy="214.69" r="0.6" fill="#80c4f0"/>
<circle cx="75.73" cy="199.25" r="0.6" fill="#80c4f0"/>
<rect x="73.66" y="201.26" width="4.2" height="8.21" fill="#ffffff" fill-opacity="0.6" stroke="#80c4f0" stroke-width="0.7"/>
<line x1="73.66" y1="205.36" x2="77.86" y2="205.36" stroke="#80c4f0" stroke-width="0.5"/>
<line x1="83.08" y1="258.80" x2="83.08" y2="261.50" stroke="#000" stroke-width="0.9"/>
<text x="84.38" y="266.00" font-size="5.6" text-anchor="end" font-weight="bold" fill="#000" transform="rotate(-45 84.38 266.00)">Sarcoma</text>
<line x1="83.08" y1="197.90" x2="83.08" y2="212.82" stroke="#1a8fb8" stroke-width="0.7"/>
<line x1="81.88" y1="197.90" x2="84.28" y2="197.90" stroke="#1a8fb8" stroke-width="0.6"/>
<line x1="81.88" y1="212.82" x2="84.28" y2="212.82" stroke="#1a8fb8" stroke-width="0.6"/>
<circle cx="83.58" cy="197.90" r="0.6" fill="#1a8fb8"/>
<circle cx="83.37" cy="202.23" r="0.6" fill="#1a8fb8"/>
<circle cx="83.75" cy="200.96" r="0.6" fill="#1a8fb8"/>
<circle cx="83.41" cy="207.14" r="0.6" fill="#1a8fb8"/>
<circle cx="83.93" cy="208.93" r="0.6" fill="#1a8fb8"/>
<circle cx="84.71" cy="206.73" r="0.6" fill="#1a8fb8"/>
<circle cx="82.45" cy="211.40" r="0.6" fill="#1a8fb8"/>
<rect x="80.98" y="201.26" width="4.2" height="5.59" fill="#ffffff" fill-opacity="0.6" stroke="#1a8fb8" stroke-width="0.7"/>
<line x1="80.98" y1="204.06" x2="85.18" y2="204.06" stroke="#1a8fb8" stroke-width="0.5"/>
<line x1="90.40" y1="258.80" x2="90.40" y2="261.50" stroke="#000" stroke-width="0.9"/>
<text x="91.70" y="266.00" font-size="5.6" text-anchor="end" font-weight="bold" fill="#000" transform="rotate(-45 91.70 266.00)">Liver Cancer</text>
<line x1="90.40" y1="195.29" x2="90.40" y2="213.19" stroke="#7ee0a0" stroke-width="0.7"/>
<line x1="89.20" y1="195.29" x2="91.60" y2="195.29" stroke="#7ee0a0" stroke-width="0.6"/>
<line x1="89.20" y1="213.19" x2="91.60" y2="213.19" stroke="#7ee0a0" stroke-width="0.6"/>
<circle cx="91.25" cy="202.21" r="0.6" fill="#7ee0a0"/>
<circle cx="91.03" cy="213.19" r="0.6" fill="#7ee0a0"/>
<circle cx="89.98" cy="213.19" r="0.6" fill="#7ee0a0"/>
<circle cx="89.40" cy="212.70" r="0.6" fill="#7ee0a0"/>
<circle cx="90.31" cy="196.51" r="0.6" fill="#7ee0a0"/>
<circle cx="88.54" cy="202.16" r="0.6" fill="#7ee0a0"/>
<circle cx="91.44" cy="200.70" r="0.6" fill="#7ee0a0"/>
<rect x="88.30" y="199.77" width="4.2" height="8.58" fill="#ffffff" fill-opacity="0.6" stroke="#7ee0a0" stroke-width="0.7"/>
<line x1="88.30" y1="204.06" x2="92.50" y2="204.06" stroke="#7ee0a0" stroke-width="0.5"/>
<line x1="97.72" y1="258.80" x2="97.72" y2="261.50" stroke="#000" stroke-width="0.9"/>
<text x="99.02" y="266.00" font-size="5.6" text-anchor="end" font-weight="bold" fill="#000" transform="rotate(-45 99.02 266.00)">Glioma</text>
<line x1="97.72" y1="188.95" x2="97.72" y2="217.67" stroke="#5a1a7a" stroke-width="0.7"/>
<line x1="96.52" y1="188.95" x2="98.92" y2="188.95" stroke="#5a1a7a" stroke-width="0.6"/>
<line x1="96.52" y1="217.67" x2="98.92" y2="217.67" stroke="#5a1a7a" stroke-width="0.6"/>
<circle cx="97.32" cy="198.96" r="0.6" fill="#5a1a7a"/>
<circle cx="99.07" cy="198.71" r="0.6" fill="#5a1a7a"/>
<circle cx="97.84" cy="195.29" r="0.6" fill="#5a1a7a"/>
<circle cx="99.13" cy="198.86" r="0.6" fill="#5a1a7a"/>
<circle cx="97.09" cy="196.24" r="0.6" fill="#5a1a7a"/>
<circle cx="97.62" cy="217.67" r="0.6" fill="#5a1a7a"/>
<circle cx="98.50" cy="214.31" r="0.6" fill="#5a1a7a"/>
<circle cx="97.29" cy="189.80" r="0.6" fill="#5a1a7a"/>
<circle cx="96.63" cy="200.58" r="0.6" fill="#5a1a7a"/>
<circle cx="97.67" cy="197.86" r="0.6" fill="#5a1a7a"/>
<circle cx="96.07" cy="208.86" r="0.6" fill="#5a1a7a"/>
<circle cx="97.40" cy="206.79" r="0.6" fill="#5a1a7a"/>
<circle cx="98.95" cy="210.70" r="0.6" fill="#5a1a7a"/>
<circle cx="98.20" cy="195.37" r="0.6" fill="#5a1a7a"/>
<circle cx="98.00" cy="214.89" r="0.6" fill="#5a1a7a"/>
<circle cx="95.78" cy="204.44" r="0.6" fill="#5a1a7a"/>
<circle cx="98.29" cy="191.52" r="0.6" fill="#5a1a7a"/>
<circle cx="98.41" cy="211.93" r="0.6" fill="#5a1a7a"/>
<circle cx="96.54" cy="209.91" r="0.6" fill="#5a1a7a"/>
<circle cx="98.18" cy="198.01" r="0.6" fill="#5a1a7a"/>
<circle cx="96.54" cy="200.41" r="0.6" fill="#5a1a7a"/>
<circle cx="96.25" cy="202.11" r="0.6" fill="#5a1a7a"/>
<circle cx="95.57" cy="204.79" r="0.6" fill="#5a1a7a"/>
<circle cx="96.26" cy="200.98" r="0.6" fill="#5a1a7a"/>
<circle cx="96.28" cy="196.90" r="0.6" fill="#5a1a7a"/>
<circle cx="99.06" cy="198.56" r="0.6" fill="#5a1a7a"/>
<circle cx="96.75" cy="206.90" r="0.6" fill="#5a1a7a"/>
<circle cx="97.11" cy="206.44" r="0.6" fill="#5a1a7a"/>
<circle cx="99.15" cy="206.13" r="0.6" fill="#5a1a7a"/>
<circle cx="99.69" cy="200.07" r="0.6" fill="#5a1a7a"/>
<rect x="95.62" y="198.65" width="4.2" height="9.33" fill="#5a1a7a" fill-opacity="0.85" stroke="#5a1a7a" stroke-width="0.7"/>
<line x1="95.62" y1="203.31" x2="99.82" y2="203.31" stroke="#fff" stroke-width="0.5"/>
<circle cx="97.63" cy="203.46" r="0.45" fill="#fff" fill-opacity="0.7"/>
<circle cx="96.64" cy="207.02" r="0.45" fill="#fff" fill-opacity="0.7"/>
<circle cx="97.31" cy="205.50" r="0.45" fill="#fff" fill-opacity="0.7"/>
<circle cx="98.58" cy="206.47" r="0.45" fill="#fff" fill-opacity="0.7"/>
<line x1="105.04" y1="258.80" x2="105.04" y2="261.50" stroke="#000" stroke-width="0.9"/>
<text x="106.34" y="266.00" font-size="5.6" text-anchor="end" font-weight="bold" fill="#000" transform="rotate(-45 106.34 266.00)">Lymphoma</text>
<line x1="105.04" y1="194.92" x2="105.04" y2="217.67" stroke="#f07020" stroke-width="0.7"/>
<line x1="103.84" y1="194.92" x2="106.24" y2="194.92" stroke="#f07020" stroke-width="0.6"/>
<line x1="103.84" y1="217.67" x2="106.24" y2="217.67" stroke="#f07020" stroke-width="0.6"/>
<circle cx="105.13" cy="194.92" r="0.6" fill="#f07020"/>
<circle cx="103.61" cy="199.85" r="0.6" fill="#f07020"/>
<circle cx="105.16" cy="207.64" r="0.6" fill="#f07020"/>
<circle cx="107.14" cy="205.46" r="0.6" fill="#f07020"/>
<circle cx="104.29" cy="194.92" r="0.6" fill="#f07020"/>
<circle cx="104.71" cy="217.67" r="0.6" fill="#f07020"/>
<circle cx="105.14" cy="194.92" r="0.6" fill="#f07020"/>
<rect x="102.94" y="197.16" width="4.2" height="14.92" fill="#ffffff" fill-opacity="0.6" stroke="#f07020" stroke-width="0.7"/>
<line x1="102.94" y1="204.62" x2="107.14" y2="204.62" stroke="#f07020" stroke-width="0.5"/>
<line x1="112.36" y1="258.80" x2="112.36" y2="261.50" stroke="#000" stroke-width="0.9"/>
<text x="113.66" y="266.00" font-size="5.6" text-anchor="end" font-weight="bold" fill="#000" transform="rotate(-45 113.66 266.00)">Melanoma</text>
<line x1="112.36" y1="195.66" x2="112.36" y2="212.82" stroke="#1a8070" stroke-width="0.7"/>
<line x1="111.16" y1="195.66" x2="113.56" y2="195.66" stroke="#1a8070" stroke-width="0.6"/>
<line x1="111.16" y1="212.82" x2="113.56" y2="212.82" stroke="#1a8070" stroke-width="0.6"/>
<circle cx="112.75" cy="196.12" r="0.6" fill="#1a8070"/>
<circle cx="113.63" cy="204.73" r="0.6" fill="#1a8070"/>
<circle cx="114.02" cy="200.19" r="0.6" fill="#1a8070"/>
<circle cx="113.05" cy="198.01" r="0.6" fill="#1a8070"/>
<circle cx="112.71" cy="209.93" r="0.6" fill="#1a8070"/>
<circle cx="111.74" cy="202.30" r="0.6" fill="#1a8070"/>
<circle cx="111.45" cy="197.51" r="0.6" fill="#1a8070"/>
<circle cx="111.65" cy="199.38" r="0.6" fill="#1a8070"/>
<circle cx="113.20" cy="202.46" r="0.6" fill="#1a8070"/>
<circle cx="113.36" cy="198.20" r="0.6" fill="#1a8070"/>
<circle cx="114.39" cy="204.50" r="0.6" fill="#1a8070"/>
<circle cx="111.63" cy="198.82" r="0.6" fill="#1a8070"/>
<circle cx="111.21" cy="204.37" r="0.6" fill="#1a8070"/>
<circle cx="112.89" cy="202.08" r="0.6" fill="#1a8070"/>
<circle cx="113.72" cy="200.12" r="0.6" fill="#1a8070"/>
<circle cx="112.89" cy="200.23" r="0.6" fill="#1a8070"/>
<circle cx="113.11" cy="207.65" r="0.6" fill="#1a8070"/>
<circle cx="113.09" cy="197.17" r="0.6" fill="#1a8070"/>
<circle cx="113.23" cy="199.61" r="0.6" fill="#1a8070"/>
<circle cx="110.95" cy="203.12" r="0.6" fill="#1a8070"/>
<circle cx="112.95" cy="208.48" r="0.6" fill="#1a8070"/>
<circle cx="113.63" cy="207.31" r="0.6" fill="#1a8070"/>
<circle cx="112.22" cy="195.79" r="0.6" fill="#1a8070"/>
<circle cx="112.57" cy="212.39" r="0.6" fill="#1a8070"/>
<circle cx="111.86" cy="196.51" r="0.6" fill="#1a8070"/>
<circle cx="113.96" cy="201.24" r="0.6" fill="#1a8070"/>
<circle cx="113.57" cy="201.20" r="0.6" fill="#1a8070"/>
<circle cx="113.35" cy="197.78" r="0.6" fill="#1a8070"/>
<circle cx="112.58" cy="196.13" r="0.6" fill="#1a8070"/>
<circle cx="111.22" cy="206.62" r="0.6" fill="#1a8070"/>
<rect x="110.26" y="200.51" width="4.2" height="5.22" fill="#1a8070" fill-opacity="0.85" stroke="#1a8070" stroke-width="0.7"/>
<line x1="110.26" y1="203.12" x2="114.46" y2="203.12" stroke="#fff" stroke-width="0.5"/>
<circle cx="111.10" cy="200.66" r="0.45" fill="#fff" fill-opacity="0.7"/>
<circle cx="112.75" cy="202.98" r="0.45" fill="#fff" fill-opacity="0.7"/>
<circle cx="113.49" cy="203.47" r="0.45" fill="#fff" fill-opacity="0.7"/>
<circle cx="113.33" cy="201.42" r="0.45" fill="#fff" fill-opacity="0.7"/>
<line x1="119.68" y1="258.80" x2="119.68" y2="261.50" stroke="#000" stroke-width="0.9"/>
<text x="120.98" y="266.00" font-size="5.6" text-anchor="end" font-weight="bold" fill="#000" transform="rotate(-45 120.98 266.00)">Breast Cancer</text>
<line x1="119.68" y1="189.69" x2="119.68" y2="227.37" stroke="#20b840" stroke-width="0.7"/>
<line x1="118.48" y1="189.69" x2="120.88" y2="189.69" stroke="#20b840" stroke-width="0.6"/>
<line x1="118.48" y1="227.37" x2="120.88" y2="227.37" stroke="#20b840" stroke-width="0.6"/>
<circle cx="119.00" cy="198.65" r="0.6" fill="#20b840"/>
<circle cx="118.54" cy="202.79" r="0.6" fill="#20b840"/>
<circle cx="119.93" cy="199.40" r="0.6" fill="#20b840"/>
<circle cx="118.06" cy="203.00" r="0.6" fill="#20b840"/>
<circle cx="120.62" cy="198.56" r="0.6" fill="#20b840"/>
<circle cx="119.95" cy="205.46" r="0.6" fill="#20b840"/>
<circle cx="120.78" cy="199.21" r="0.6" fill="#20b840"/>
<circle cx="119.68" cy="210.66" r="0.6" fill="#20b840"/>
<circle cx="119.75" cy="198.44" r="0.6" fill="#20b840"/>
<circle cx="119.42" cy="203.52" r="0.6" fill="#20b840"/>
<circle cx="118.29" cy="202.87" r="0.6" fill="#20b840"/>
<circle cx="119.33" cy="195.53" r="0.6" fill="#20b840"/>
<circle cx="119.56" cy="202.57" r="0.6" fill="#20b840"/>
<circle cx="118.93" cy="203.55" r="0.6" fill="#20b840"/>
<circle cx="119.71" cy="207.82" r="0.6" fill="#20b840"/>
<circle cx="119.21" cy="209.38" r="0.6" fill="#20b840"/>
<circle cx="119.89" cy="205.16" r="0.6" fill="#20b840"/>
<circle cx="120.88" cy="202.72" r="0.6" fill="#20b840"/>
<circle cx="119.70" cy="199.51" r="0.6" fill="#20b840"/>
<circle cx="120.21" cy="209.05" r="0.6" fill="#20b840"/>
<circle cx="119.49" cy="205.32" r="0.6" fill="#20b840"/>
<circle cx="119.71" cy="206.39" r="0.6" fill="#20b840"/>
<circle cx="120.26" cy="205.86" r="0.6" fill="#20b840"/>
<circle cx="119.64" cy="207.50" r="0.6" fill="#20b840"/>
<circle cx="121.46" cy="201.28" r="0.6" fill="#20b840"/>
<circle cx="121.17" cy="205.33" r="0.6" fill="#20b840"/>
<circle cx="119.45" cy="210.57" r="0.6" fill="#20b840"/>
<circle cx="119.97" cy="211.73" r="0.6" fill="#20b840"/>
<circle cx="118.69" cy="206.28" r="0.6" fill="#20b840"/>
<circle cx="118.40" cy="199.61" r="0.6" fill="#20b840"/>
<rect x="117.58" y="200.51" width="4.2" height="4.48" fill="#20b840" fill-opacity="0.85" stroke="#20b840" stroke-width="0.7"/>
<line x1="117.58" y1="202.75" x2="121.78" y2="202.75" stroke="#fff" stroke-width="0.5"/>
<circle cx="119.01" cy="204.66" r="0.45" fill="#fff" fill-opacity="0.7"/>
<circle cx="120.12" cy="201.48" r="0.45" fill="#fff" fill-opacity="0.7"/>
<circle cx="120.71" cy="204.30" r="0.45" fill="#fff" fill-opacity="0.7"/>
<circle cx="120.24" cy="202.03" r="0.45" fill="#fff" fill-opacity="0.7"/>
<line x1="127.00" y1="258.80" x2="127.00" y2="261.50" stroke="#000" stroke-width="0.9"/>
<text x="128.30" y="266.00" font-size="5.6" text-anchor="end" font-weight="bold" fill="#000" transform="rotate(-45 128.30 266.00)">Colon/Colorectal Cancer</text>
<line x1="127.00" y1="192.68" x2="127.00" y2="214.31" stroke="#1a6a30" stroke-width="0.7"/>
<line x1="125.80" y1="192.68" x2="128.20" y2="192.68" stroke="#1a6a30" stroke-width="0.6"/>
<line x1="125.80" y1="214.31" x2="128.20" y2="214.31" stroke="#1a6a30" stroke-width="0.6"/>
<circle cx="125.90" cy="199.17" r="0.6" fill="#1a6a30"/>
<circle cx="126.73" cy="193.17" r="0.6" fill="#1a6a30"/>
<circle cx="127.50" cy="211.79" r="0.6" fill="#1a6a30"/>
<circle cx="128.27" cy="207.61" r="0.6" fill="#1a6a30"/>
<circle cx="128.08" cy="199.46" r="0.6" fill="#1a6a30"/>
<circle cx="127.06" cy="200.11" r="0.6" fill="#1a6a30"/>
<circle cx="126.57" cy="198.39" r="0.6" fill="#1a6a30"/>
<circle cx="127.92" cy="201.46" r="0.6" fill="#1a6a30"/>
<circle cx="125.62" cy="198.78" r="0.6" fill="#1a6a30"/>
<circle cx="125.86" cy="208.05" r="0.6" fill="#1a6a30"/>
<circle cx="126.32" cy="204.74" r="0.6" fill="#1a6a30"/>
<circle cx="125.78" cy="207.23" r="0.6" fill="#1a6a30"/>
<circle cx="128.37" cy="207.17" r="0.6" fill="#1a6a30"/>
<circle cx="125.66" cy="199.73" r="0.6" fill="#1a6a30"/>
<circle cx="126.80" cy="214.31" r="0.6" fill="#1a6a30"/>
<circle cx="126.73" cy="194.46" r="0.6" fill="#1a6a30"/>
<circle cx="125.55" cy="200.78" r="0.6" fill="#1a6a30"/>
<circle cx="127.31" cy="212.73" r="0.6" fill="#1a6a30"/>
<circle cx="126.44" cy="197.73" r="0.6" fill="#1a6a30"/>
<circle cx="127.12" cy="196.26" r="0.6" fill="#1a6a30"/>
<circle cx="127.21" cy="193.83" r="0.6" fill="#1a6a30"/>
<circle cx="127.78" cy="201.47" r="0.6" fill="#1a6a30"/>
<circle cx="126.68" cy="202.01" r="0.6" fill="#1a6a30"/>
<circle cx="127.12" cy="192.68" r="0.6" fill="#1a6a30"/>
<circle cx="127.70" cy="197.71" r="0.6" fill="#1a6a30"/>
<circle cx="126.50" cy="194.36" r="0.6" fill="#1a6a30"/>
<circle cx="127.88" cy="197.96" r="0.6" fill="#1a6a30"/>
<circle cx="127.15" cy="207.33" r="0.6" fill="#1a6a30"/>
<circle cx="128.80" cy="201.62" r="0.6" fill="#1a6a30"/>
<circle cx="127.12" cy="203.23" r="0.6" fill="#1a6a30"/>
<rect x="124.90" y="200.14" width="4.2" height="5.59" fill="#1a6a30" fill-opacity="0.85" stroke="#1a6a30" stroke-width="0.7"/>
<line x1="124.90" y1="202.94" x2="129.10" y2="202.94" stroke="#fff" stroke-width="0.5"/>
<circle cx="126.32" cy="205.12" r="0.45" fill="#fff" fill-opacity="0.7"/>
<circle cx="126.12" cy="205.45" r="0.45" fill="#fff" fill-opacity="0.7"/>
<circle cx="126.22" cy="203.99" r="0.45" fill="#fff" fill-opacity="0.7"/>
<circle cx="126.49" cy="201.48" r="0.45" fill="#fff" fill-opacity="0.7"/>
<line x1="134.32" y1="258.80" x2="134.32" y2="261.50" stroke="#000" stroke-width="0.9"/>
<text x="135.62" y="266.00" font-size="5.6" text-anchor="end" font-weight="bold" fill="#000" transform="rotate(-45 135.62 266.00)">Gastric Cancer</text>
<line x1="134.32" y1="190.44" x2="134.32" y2="209.84" stroke="#a8e4b8" stroke-width="0.7"/>
<line x1="133.12" y1="190.44" x2="135.52" y2="190.44" stroke="#a8e4b8" stroke-width="0.6"/>
<line x1="133.12" y1="209.84" x2="135.52" y2="209.84" stroke="#a8e4b8" stroke-width="0.6"/>
<circle cx="133.55" cy="200.28" r="0.6" fill="#a8e4b8"/>
<circle cx="133.80" cy="205.30" r="0.6" fill="#a8e4b8"/>
<circle cx="132.20" cy="202.57" r="0.6" fill="#a8e4b8"/>
<circle cx="135.35" cy="202.57" r="0.6" fill="#a8e4b8"/>
<circle cx="134.54" cy="201.80" r="0.6" fill="#a8e4b8"/>
<circle cx="136.02" cy="200.72" r="0.6" fill="#a8e4b8"/>
<circle cx="133.43" cy="197.97" r="0.6" fill="#a8e4b8"/>
<rect x="132.22" y="200.14" width="4.2" height="4.85" fill="#ffffff" fill-opacity="0.6" stroke="#a8e4b8" stroke-width="0.7"/>
<line x1="132.22" y1="202.56" x2="136.42" y2="202.56" stroke="#a8e4b8" stroke-width="0.5"/>
<line x1="141.64" y1="258.80" x2="141.64" y2="261.50" stroke="#000" stroke-width="0.9"/>
<text x="142.94" y="266.00" font-size="5.6" text-anchor="end" font-weight="bold" fill="#000" transform="rotate(-45 142.94 266.00)">Head and Neck Cancer</text>
<line x1="141.64" y1="195.29" x2="141.64" y2="207.97" stroke="#1a5a78" stroke-width="0.7"/>
<line x1="140.44" y1="195.29" x2="142.84" y2="195.29" stroke="#1a5a78" stroke-width="0.6"/>
<line x1="140.44" y1="207.97" x2="142.84" y2="207.97" stroke="#1a5a78" stroke-width="0.6"/>
<circle cx="141.62" cy="201.21" r="0.6" fill="#1a5a78"/>
<circle cx="142.47" cy="205.48" r="0.6" fill="#1a5a78"/>
<circle cx="142.13" cy="205.37" r="0.6" fill="#1a5a78"/>
<circle cx="143.14" cy="200.33" r="0.6" fill="#1a5a78"/>
<circle cx="142.12" cy="205.70" r="0.6" fill="#1a5a78"/>
<circle cx="141.81" cy="197.80" r="0.6" fill="#1a5a78"/>
<circle cx="140.28" cy="204.87" r="0.6" fill="#1a5a78"/>
<circle cx="140.27" cy="200.99" r="0.6" fill="#1a5a78"/>
<circle cx="141.30" cy="198.08" r="0.6" fill="#1a5a78"/>
<circle cx="140.56" cy="200.43" r="0.6" fill="#1a5a78"/>
<circle cx="142.08" cy="197.56" r="0.6" fill="#1a5a78"/>
<circle cx="142.06" cy="199.63" r="0.6" fill="#1a5a78"/>
<circle cx="140.74" cy="203.01" r="0.6" fill="#1a5a78"/>
<circle cx="141.51" cy="200.36" r="0.6" fill="#1a5a78"/>
<circle cx="140.81" cy="200.76" r="0.6" fill="#1a5a78"/>
<circle cx="142.86" cy="199.82" r="0.6" fill="#1a5a78"/>
<circle cx="141.17" cy="198.82" r="0.6" fill="#1a5a78"/>
<circle cx="143.63" cy="203.21" r="0.6" fill="#1a5a78"/>
<circle cx="139.61" cy="203.60" r="0.6" fill="#1a5a78"/>
<circle cx="141.32" cy="199.92" r="0.6" fill="#1a5a78"/>
<circle cx="141.04" cy="206.09" r="0.6" fill="#1a5a78"/>
<circle cx="141.66" cy="202.00" r="0.6" fill="#1a5a78"/>
<circle cx="140.41" cy="200.20" r="0.6" fill="#1a5a78"/>
<circle cx="141.20" cy="202.49" r="0.6" fill="#1a5a78"/>
<circle cx="140.80" cy="201.94" r="0.6" fill="#1a5a78"/>
<circle cx="140.47" cy="202.40" r="0.6" fill="#1a5a78"/>
<circle cx="142.21" cy="205.75" r="0.6" fill="#1a5a78"/>
<circle cx="142.18" cy="204.46" r="0.6" fill="#1a5a78"/>
<circle cx="141.21" cy="203.88" r="0.6" fill="#1a5a78"/>
<circle cx="141.45" cy="207.97" r="0.6" fill="#1a5a78"/>
<rect x="139.54" y="200.88" width="4.2" height="3.36" fill="#1a5a78" fill-opacity="0.85" stroke="#1a5a78" stroke-width="0.7"/>
<line x1="139.54" y1="202.56" x2="143.74" y2="202.56" stroke="#fff" stroke-width="0.5"/>
<circle cx="142.90" cy="203.74" r="0.45" fill="#fff" fill-opacity="0.7"/>
<circle cx="142.22" cy="202.08" r="0.45" fill="#fff" fill-opacity="0.7"/>
<circle cx="140.45" cy="201.44" r="0.45" fill="#fff" fill-opacity="0.7"/>
<circle cx="142.66" cy="202.14" r="0.45" fill="#fff" fill-opacity="0.7"/>
<line x1="148.96" y1="258.80" x2="148.96" y2="261.50" stroke="#000" stroke-width="0.9"/>
<text x="150.26" y="266.00" font-size="5.6" text-anchor="end" font-weight="bold" fill="#000" transform="rotate(-45 150.26 266.00)">Esophageal Cancer</text>
<line x1="148.96" y1="197.16" x2="148.96" y2="207.23" stroke="#c07030" stroke-width="0.7"/>
<line x1="147.76" y1="197.16" x2="150.16" y2="197.16" stroke="#c07030" stroke-width="0.6"/>
<line x1="147.76" y1="207.23" x2="150.16" y2="207.23" stroke="#c07030" stroke-width="0.6"/>
<circle cx="147.41" cy="203.50" r="0.6" fill="#c07030"/>
<circle cx="149.01" cy="207.23" r="0.6" fill="#c07030"/>
<circle cx="149.61" cy="207.23" r="0.6" fill="#c07030"/>
<circle cx="150.39" cy="202.96" r="0.6" fill="#c07030"/>
<circle cx="149.35" cy="207.23" r="0.6" fill="#c07030"/>
<circle cx="149.39" cy="207.04" r="0.6" fill="#c07030"/>
<circle cx="147.35" cy="202.62" r="0.6" fill="#c07030"/>
<circle cx="148.37" cy="201.74" r="0.6" fill="#c07030"/>
<circle cx="149.05" cy="197.16" r="0.6" fill="#c07030"/>
<circle cx="149.22" cy="198.06" r="0.6" fill="#c07030"/>
<circle cx="148.94" cy="207.02" r="0.6" fill="#c07030"/>
<circle cx="147.86" cy="207.09" r="0.6" fill="#c07030"/>
<circle cx="148.97" cy="200.77" r="0.6" fill="#c07030"/>
<circle cx="149.03" cy="207.23" r="0.6" fill="#c07030"/>
<circle cx="149.97" cy="203.55" r="0.6" fill="#c07030"/>
<circle cx="147.94" cy="204.00" r="0.6" fill="#c07030"/>
<circle cx="149.70" cy="199.92" r="0.6" fill="#c07030"/>
<circle cx="147.77" cy="201.32" r="0.6" fill="#c07030"/>
<circle cx="148.93" cy="203.45" r="0.6" fill="#c07030"/>
<circle cx="148.71" cy="207.23" r="0.6" fill="#c07030"/>
<circle cx="149.53" cy="207.23" r="0.6" fill="#c07030"/>
<circle cx="149.46" cy="201.95" r="0.6" fill="#c07030"/>
<circle cx="147.47" cy="203.76" r="0.6" fill="#c07030"/>
<circle cx="147.95" cy="204.01" r="0.6" fill="#c07030"/>
<circle cx="149.26" cy="202.90" r="0.6" fill="#c07030"/>
<circle cx="147.59" cy="206.18" r="0.6" fill="#c07030"/>
<circle cx="149.50" cy="199.79" r="0.6" fill="#c07030"/>
<circle cx="149.76" cy="201.56" r="0.6" fill="#c07030"/>
<circle cx="149.03" cy="204.25" r="0.6" fill="#c07030"/>
<circle cx="148.85" cy="205.73" r="0.6" fill="#c07030"/>
<rect x="146.86" y="200.51" width="4.2" height="4.48" fill="#c07030" fill-opacity="0.85" stroke="#c07030" stroke-width="0.7"/>
<line x1="146.86" y1="202.75" x2="151.06" y2="202.75" stroke="#fff" stroke-width="0.5"/>
<circle cx="148.87" cy="204.46" r="0.45" fill="#fff" fill-opacity="0.7"/>
<circle cx="149.98" cy="204.10" r="0.45" fill="#fff" fill-opacity="0.7"/>
<circle cx="150.20" cy="200.80" r="0.45" fill="#fff" fill-opacity="0.7"/>
<circle cx="147.71" cy="202.93" r="0.45" fill="#fff" fill-opacity="0.7"/>
<line x1="156.28" y1="258.80" x2="156.28" y2="261.50" stroke="#000" stroke-width="0.9"/>
<text x="157.58" y="266.00" font-size="5.6" text-anchor="end" font-weight="bold" fill="#000" transform="rotate(-45 157.58 266.00)">Endometrial/Uterine Cancer</text>
<line x1="156.28" y1="185.97" x2="156.28" y2="219.16" stroke="#8a8a18" stroke-width="0.7"/>
<line x1="155.08" y1="185.97" x2="157.48" y2="185.97" stroke="#8a8a18" stroke-width="0.6"/>
<line x1="155.08" y1="219.16" x2="157.48" y2="219.16" stroke="#8a8a18" stroke-width="0.6"/>
<circle cx="156.17" cy="196.75" r="0.6" fill="#8a8a18"/>
<circle cx="156.09" cy="215.51" r="0.6" fill="#8a8a18"/>
<circle cx="155.27" cy="199.51" r="0.6" fill="#8a8a18"/>
<circle cx="156.35" cy="190.20" r="0.6" fill="#8a8a18"/>
<circle cx="157.65" cy="198.63" r="0.6" fill="#8a8a18"/>
<circle cx="155.35" cy="197.66" r="0.6" fill="#8a8a18"/>
<circle cx="157.72" cy="200.02" r="0.6" fill="#8a8a18"/>
<circle cx="156.73" cy="208.54" r="0.6" fill="#8a8a18"/>
<circle cx="156.22" cy="201.41" r="0.6" fill="#8a8a18"/>
<circle cx="155.86" cy="191.36" r="0.6" fill="#8a8a18"/>
<circle cx="156.18" cy="196.50" r="0.6" fill="#8a8a18"/>
<circle cx="155.41" cy="202.61" r="0.6" fill="#8a8a18"/>
<circle cx="155.63" cy="199.62" r="0.6" fill="#8a8a18"/>
<circle cx="157.37" cy="198.94" r="0.6" fill="#8a8a18"/>
<circle cx="156.68" cy="193.80" r="0.6" fill="#8a8a18"/>
<circle cx="154.61" cy="202.65" r="0.6" fill="#8a8a18"/>
<circle cx="156.89" cy="195.15" r="0.6" fill="#8a8a18"/>
<circle cx="155.61" cy="206.54" r="0.6" fill="#8a8a18"/>
<circle cx="157.89" cy="206.48" r="0.6" fill="#8a8a18"/>
<circle cx="156.56" cy="198.89" r="0.6" fill="#8a8a18"/>
<circle cx="155.54" cy="206.39" r="0.6" fill="#8a8a18"/>
<circle cx="154.96" cy="198.39" r="0.6" fill="#8a8a18"/>
<circle cx="155.99" cy="194.57" r="0.6" fill="#8a8a18"/>
<circle cx="157.18" cy="196.67" r="0.6" fill="#8a8a18"/>
<circle cx="156.33" cy="202.73" r="0.6" fill="#8a8a18"/>
<circle cx="155.35" cy="198.53" r="0.6" fill="#8a8a18"/>
<circle cx="156.70" cy="212.15" r="0.6" fill="#8a8a18"/>
<circle cx="156.61" cy="193.15" r="0.6" fill="#8a8a18"/>
<circle cx="156.89" cy="210.83" r="0.6" fill="#8a8a18"/>
<circle cx="156.34" cy="211.46" r="0.6" fill="#8a8a18"/>
<rect x="154.18" y="199.77" width="4.2" height="5.97" fill="#8a8a18" fill-opacity="0.85" stroke="#8a8a18" stroke-width="0.7"/>
<line x1="154.18" y1="202.75" x2="158.38" y2="202.75" stroke="#fff" stroke-width="0.5"/>
<circle cx="156.85" cy="205.44" r="0.45" fill="#fff" fill-opacity="0.7"/>
<circle cx="156.88" cy="203.04" r="0.45" fill="#fff" fill-opacity="0.7"/>
<circle cx="156.94" cy="201.89" r="0.45" fill="#fff" fill-opacity="0.7"/>
<circle cx="155.72" cy="205.44" r="0.45" fill="#fff" fill-opacity="0.7"/>
<line x1="163.60" y1="258.80" x2="163.60" y2="261.50" stroke="#000" stroke-width="0.9"/>
<text x="164.90" y="266.00" font-size="5.6" text-anchor="end" font-weight="bold" fill="#000" transform="rotate(-45 164.90 266.00)">Lung Cancer</text>
<line x1="163.60" y1="198.27" x2="163.60" y2="211.70" stroke="#f8b070" stroke-width="0.7"/>
<line x1="162.40" y1="198.27" x2="164.80" y2="198.27" stroke="#f8b070" stroke-width="0.6"/>
<line x1="162.40" y1="211.70" x2="164.80" y2="211.70" stroke="#f8b070" stroke-width="0.6"/>
<circle cx="163.49" cy="199.40" r="0.6" fill="#f8b070"/>
<circle cx="162.94" cy="202.46" r="0.6" fill="#f8b070"/>
<circle cx="165.40" cy="203.56" r="0.6" fill="#f8b070"/>
<circle cx="162.85" cy="198.27" r="0.6" fill="#f8b070"/>
<circle cx="163.82" cy="203.50" r="0.6" fill="#f8b070"/>
<circle cx="163.26" cy="204.51" r="0.6" fill="#f8b070"/>
<circle cx="162.39" cy="200.16" r="0.6" fill="#f8b070"/>
<rect x="161.50" y="199.02" width="4.2" height="4.85" fill="#ffffff" fill-opacity="0.6" stroke="#f8b070" stroke-width="0.7"/>
<line x1="161.50" y1="201.44" x2="165.70" y2="201.44" stroke="#f8b070" stroke-width="0.5"/>
<line x1="170.92" y1="258.80" x2="170.92" y2="261.50" stroke="#000" stroke-width="0.9"/>
<text x="172.22" y="266.00" font-size="5.6" text-anchor="end" font-weight="bold" fill="#000" transform="rotate(-45 172.22 266.00)">Medulloblastoma</text>
<line x1="170.92" y1="190.44" x2="170.92" y2="208.72" stroke="#f070f0" stroke-width="0.7"/>
<line x1="169.72" y1="190.44" x2="172.12" y2="190.44" stroke="#f070f0" stroke-width="0.6"/>
<line x1="169.72" y1="208.72" x2="172.12" y2="208.72" stroke="#f070f0" stroke-width="0.6"/>
<circle cx="172.42" cy="200.42" r="0.6" fill="#f070f0"/>
<circle cx="172.27" cy="208.72" r="0.6" fill="#f070f0"/>
<circle cx="173.10" cy="203.96" r="0.6" fill="#f070f0"/>
<circle cx="169.79" cy="207.73" r="0.6" fill="#f070f0"/>
<circle cx="169.15" cy="202.86" r="0.6" fill="#f070f0"/>
<circle cx="169.81" cy="205.74" r="0.6" fill="#f070f0"/>
<circle cx="169.95" cy="201.47" r="0.6" fill="#f070f0"/>
<rect x="168.82" y="200.14" width="4.2" height="7.83" fill="#ffffff" fill-opacity="0.6" stroke="#f070f0" stroke-width="0.7"/>
<line x1="168.82" y1="204.06" x2="173.02" y2="204.06" stroke="#f070f0" stroke-width="0.5"/>
<line x1="178.24" y1="258.80" x2="178.24" y2="261.50" stroke="#000" stroke-width="0.9"/>
<text x="179.54" y="266.00" font-size="5.6" text-anchor="end" font-weight="bold" fill="#000" transform="rotate(-45 179.54 266.00)">Rhabdoid</text>
<line x1="178.24" y1="197.53" x2="178.24" y2="208.34" stroke="#80a8e0" stroke-width="0.7"/>
<line x1="177.04" y1="197.53" x2="179.44" y2="197.53" stroke="#80a8e0" stroke-width="0.6"/>
<line x1="177.04" y1="208.34" x2="179.44" y2="208.34" stroke="#80a8e0" stroke-width="0.6"/>
<circle cx="178.49" cy="207.98" r="0.6" fill="#80a8e0"/>
<circle cx="178.00" cy="204.60" r="0.6" fill="#80a8e0"/>
<circle cx="177.96" cy="205.14" r="0.6" fill="#80a8e0"/>
<circle cx="177.69" cy="199.52" r="0.6" fill="#80a8e0"/>
<circle cx="179.69" cy="199.13" r="0.6" fill="#80a8e0"/>
<circle cx="176.69" cy="200.60" r="0.6" fill="#80a8e0"/>
<circle cx="178.79" cy="206.36" r="0.6" fill="#80a8e0"/>
<rect x="176.14" y="199.77" width="4.2" height="3.73" fill="#ffffff" fill-opacity="0.6" stroke="#80a8e0" stroke-width="0.7"/>
<line x1="176.14" y1="201.63" x2="180.34" y2="201.63" stroke="#80a8e0" stroke-width="0.5"/>
<line x1="185.56" y1="258.80" x2="185.56" y2="261.50" stroke="#000" stroke-width="0.9"/>
<text x="186.86" y="266.00" font-size="5.6" text-anchor="end" font-weight="bold" fill="#000" transform="rotate(-45 186.86 266.00)">Pancreatic Cancer</text>
<line x1="185.56" y1="187.08" x2="185.56" y2="221.77" stroke="#f09020" stroke-width="0.7"/>
<line x1="184.36" y1="187.08" x2="186.76" y2="187.08" stroke="#f09020" stroke-width="0.6"/>
<line x1="184.36" y1="221.77" x2="186.76" y2="221.77" stroke="#f09020" stroke-width="0.6"/>
<circle cx="184.31" cy="201.44" r="0.6" fill="#f09020"/>
<circle cx="185.12" cy="201.86" r="0.6" fill="#f09020"/>
<circle cx="185.39" cy="196.73" r="0.6" fill="#f09020"/>
<circle cx="185.94" cy="190.00" r="0.6" fill="#f09020"/>
<circle cx="183.84" cy="204.61" r="0.6" fill="#f09020"/>
<circle cx="186.09" cy="191.95" r="0.6" fill="#f09020"/>
<circle cx="185.45" cy="199.35" r="0.6" fill="#f09020"/>
<circle cx="185.08" cy="201.36" r="0.6" fill="#f09020"/>
<circle cx="187.44" cy="201.32" r="0.6" fill="#f09020"/>
<circle cx="186.82" cy="195.82" r="0.6" fill="#f09020"/>
<circle cx="185.28" cy="211.83" r="0.6" fill="#f09020"/>
<circle cx="185.65" cy="198.55" r="0.6" fill="#f09020"/>
<circle cx="186.29" cy="199.04" r="0.6" fill="#f09020"/>
<circle cx="185.77" cy="192.24" r="0.6" fill="#f09020"/>
<circle cx="186.50" cy="204.73" r="0.6" fill="#f09020"/>
<circle cx="184.70" cy="208.64" r="0.6" fill="#f09020"/>
<circle cx="186.71" cy="199.23" r="0.6" fill="#f09020"/>
<circle cx="186.18" cy="199.77" r="0.6" fill="#f09020"/>
<circle cx="185.39" cy="187.76" r="0.6" fill="#f09020"/>
<circle cx="186.06" cy="198.06" r="0.6" fill="#f09020"/>
<circle cx="186.28" cy="197.94" r="0.6" fill="#f09020"/>
<circle cx="185.66" cy="199.50" r="0.6" fill="#f09020"/>
<circle cx="185.91" cy="199.76" r="0.6" fill="#f09020"/>
<circle cx="185.93" cy="204.54" r="0.6" fill="#f09020"/>
<circle cx="183.68" cy="198.48" r="0.6" fill="#f09020"/>
<circle cx="187.42" cy="203.39" r="0.6" fill="#f09020"/>
<circle cx="185.89" cy="194.89" r="0.6" fill="#f09020"/>
<circle cx="184.81" cy="196.15" r="0.6" fill="#f09020"/>
<circle cx="184.79" cy="205.84" r="0.6" fill="#f09020"/>
<circle cx="185.30" cy="192.11" r="0.6" fill="#f09020"/>
<rect x="183.46" y="197.90" width="4.2" height="6.71" fill="#f09020" fill-opacity="0.85" stroke="#f09020" stroke-width="0.7"/>
<line x1="183.46" y1="201.26" x2="187.66" y2="201.26" stroke="#fff" stroke-width="0.5"/>
<circle cx="184.32" cy="201.27" r="0.45" fill="#fff" fill-opacity="0.7"/>
<circle cx="186.01" cy="201.80" r="0.45" fill="#fff" fill-opacity="0.7"/>
<circle cx="184.93" cy="200.13" r="0.45" fill="#fff" fill-opacity="0.7"/>
<circle cx="186.67" cy="203.09" r="0.45" fill="#fff" fill-opacity="0.7"/>
<line x1="192.88" y1="258.80" x2="192.88" y2="261.50" stroke="#000" stroke-width="0.9"/>
<text x="194.18" y="266.00" font-size="5.6" text-anchor="end" font-weight="bold" fill="#000" transform="rotate(-45 194.18 266.00)">Ovarian Cancer</text>
<line x1="192.88" y1="190.07" x2="192.88" y2="213.94" stroke="#d86818" stroke-width="0.7"/>
<line x1="191.68" y1="190.07" x2="194.08" y2="190.07" stroke="#d86818" stroke-width="0.6"/>
<line x1="191.68" y1="213.94" x2="194.08" y2="213.94" stroke="#d86818" stroke-width="0.6"/>
<circle cx="191.02" cy="204.22" r="0.6" fill="#d86818"/>
<circle cx="193.54" cy="205.68" r="0.6" fill="#d86818"/>
<circle cx="192.07" cy="193.13" r="0.6" fill="#d86818"/>
<circle cx="192.90" cy="196.72" r="0.6" fill="#d86818"/>
<circle cx="192.47" cy="213.94" r="0.6" fill="#d86818"/>
<circle cx="193.78" cy="193.48" r="0.6" fill="#d86818"/>
<circle cx="191.72" cy="202.31" r="0.6" fill="#d86818"/>
<circle cx="192.03" cy="198.25" r="0.6" fill="#d86818"/>
<circle cx="193.71" cy="190.07" r="0.6" fill="#d86818"/>
<circle cx="191.95" cy="206.50" r="0.6" fill="#d86818"/>
<circle cx="192.51" cy="200.74" r="0.6" fill="#d86818"/>
<circle cx="192.23" cy="211.68" r="0.6" fill="#d86818"/>
<circle cx="192.73" cy="213.94" r="0.6" fill="#d86818"/>
<circle cx="191.65" cy="195.44" r="0.6" fill="#d86818"/>
<circle cx="192.06" cy="190.07" r="0.6" fill="#d86818"/>
<circle cx="193.91" cy="192.77" r="0.6" fill="#d86818"/>
<circle cx="194.42" cy="197.67" r="0.6" fill="#d86818"/>
<circle cx="194.61" cy="204.16" r="0.6" fill="#d86818"/>
<circle cx="192.64" cy="213.94" r="0.6" fill="#d86818"/>
<circle cx="193.52" cy="192.82" r="0.6" fill="#d86818"/>
<circle cx="192.02" cy="190.07" r="0.6" fill="#d86818"/>
<circle cx="192.41" cy="205.25" r="0.6" fill="#d86818"/>
<circle cx="192.40" cy="208.20" r="0.6" fill="#d86818"/>
<circle cx="191.91" cy="200.56" r="0.6" fill="#d86818"/>
<circle cx="192.23" cy="200.31" r="0.6" fill="#d86818"/>
<circle cx="194.62" cy="196.57" r="0.6" fill="#d86818"/>
<circle cx="191.61" cy="202.12" r="0.6" fill="#d86818"/>
<circle cx="193.53" cy="210.95" r="0.6" fill="#d86818"/>
<circle cx="192.76" cy="190.07" r="0.6" fill="#d86818"/>
<circle cx="192.60" cy="191.47" r="0.6" fill="#d86818"/>
<rect x="190.78" y="196.04" width="4.2" height="9.70" fill="#d86818" fill-opacity="0.85" stroke="#d86818" stroke-width="0.7"/>
<line x1="190.78" y1="200.88" x2="194.98" y2="200.88" stroke="#fff" stroke-width="0.5"/>
<circle cx="193.97" cy="203.86" r="0.45" fill="#fff" fill-opacity="0.7"/>
<circle cx="192.53" cy="197.03" r="0.45" fill="#fff" fill-opacity="0.7"/>
<circle cx="191.66" cy="201.75" r="0.45" fill="#fff" fill-opacity="0.7"/>
<circle cx="193.69" cy="198.30" r="0.45" fill="#fff" fill-opacity="0.7"/>
<line x1="200.20" y1="258.80" x2="200.20" y2="261.50" stroke="#000" stroke-width="0.9"/>
<text x="201.50" y="266.00" font-size="5.6" text-anchor="end" font-weight="bold" fill="#000" transform="rotate(-45 201.50 266.00)">Myeloma</text>
<line x1="200.20" y1="184.10" x2="200.20" y2="216.92" stroke="#f070c0" stroke-width="0.7"/>
<line x1="199.00" y1="184.10" x2="201.40" y2="184.10" stroke="#f070c0" stroke-width="0.6"/>
<line x1="199.00" y1="216.92" x2="201.40" y2="216.92" stroke="#f070c0" stroke-width="0.6"/>
<circle cx="198.33" cy="197.04" r="0.6" fill="#f070c0"/>
<circle cx="201.90" cy="196.98" r="0.6" fill="#f070c0"/>
<circle cx="199.14" cy="199.73" r="0.6" fill="#f070c0"/>
<circle cx="199.49" cy="200.88" r="0.6" fill="#f070c0"/>
<circle cx="199.92" cy="216.92" r="0.6" fill="#f070c0"/>
<circle cx="199.81" cy="187.05" r="0.6" fill="#f070c0"/>
<circle cx="201.07" cy="204.18" r="0.6" fill="#f070c0"/>
<rect x="198.10" y="194.92" width="4.2" height="11.19" fill="#ffffff" fill-opacity="0.6" stroke="#f070c0" stroke-width="0.7"/>
<line x1="198.10" y1="200.51" x2="202.30" y2="200.51" stroke="#f070c0" stroke-width="0.5"/>
<line x1="207.52" y1="258.80" x2="207.52" y2="261.50" stroke="#000" stroke-width="0.9"/>
<text x="208.82" y="266.00" font-size="5.6" text-anchor="end" font-weight="bold" fill="#000" transform="rotate(-45 208.82 266.00)">Bladder Cancer</text>
<line x1="207.52" y1="194.17" x2="207.52" y2="205.73" stroke="#f0a878" stroke-width="0.7"/>
<line x1="206.32" y1="194.17" x2="208.72" y2="194.17" stroke="#f0a878" stroke-width="0.6"/>
<line x1="206.32" y1="205.73" x2="208.72" y2="205.73" stroke="#f0a878" stroke-width="0.6"/>
<circle cx="205.48" cy="201.75" r="0.6" fill="#f0a878"/>
<circle cx="208.32" cy="197.12" r="0.6" fill="#f0a878"/>
<circle cx="208.35" cy="194.97" r="0.6" fill="#f0a878"/>
<circle cx="206.00" cy="203.43" r="0.6" fill="#f0a878"/>
<circle cx="209.51" cy="199.82" r="0.6" fill="#f0a878"/>
<circle cx="208.46" cy="195.40" r="0.6" fill="#f0a878"/>
<circle cx="207.27" cy="202.84" r="0.6" fill="#f0a878"/>
<rect x="205.42" y="197.90" width="4.2" height="4.85" fill="#ffffff" fill-opacity="0.6" stroke="#f0a878" stroke-width="0.7"/>
<line x1="205.42" y1="200.33" x2="209.62" y2="200.33" stroke="#f0a878" stroke-width="0.5"/>
<line x1="214.84" y1="258.80" x2="214.84" y2="261.50" stroke="#000" stroke-width="0.9"/>
<text x="216.14" y="266.00" font-size="5.6" text-anchor="end" font-weight="bold" fill="#000" transform="rotate(-45 216.14 266.00)">Prostate Cancer</text>
<line x1="214.84" y1="193.05" x2="214.84" y2="207.23" stroke="#f0e000" stroke-width="0.7"/>
<line x1="213.64" y1="193.05" x2="216.04" y2="193.05" stroke="#f0e000" stroke-width="0.6"/>
<line x1="213.64" y1="207.23" x2="216.04" y2="207.23" stroke="#f0e000" stroke-width="0.6"/>
<circle cx="214.82" cy="197.27" r="0.6" fill="#f0e000"/>
<circle cx="215.92" cy="196.64" r="0.6" fill="#f0e000"/>
<circle cx="215.84" cy="203.77" r="0.6" fill="#f0e000"/>
<circle cx="215.17" cy="195.07" r="0.6" fill="#f0e000"/>
<circle cx="214.28" cy="207.23" r="0.6" fill="#f0e000"/>
<circle cx="215.96" cy="204.81" r="0.6" fill="#f0e000"/>
<circle cx="213.67" cy="194.24" r="0.6" fill="#f0e000"/>
<rect x="212.74" y="196.78" width="4.2" height="9.32" fill="#ffffff" fill-opacity="0.6" stroke="#f0e000" stroke-width="0.7"/>
<line x1="212.74" y1="201.44" x2="216.94" y2="201.44" stroke="#f0e000" stroke-width="0.5"/>
<line x1="222.16" y1="258.80" x2="222.16" y2="261.50" stroke="#000" stroke-width="0.9"/>
<text x="223.46" y="266.00" font-size="5.6" text-anchor="end" font-weight="bold" fill="#000" transform="rotate(-45 223.46 266.00)">Kidney Cancer</text>
<line x1="222.16" y1="187.08" x2="222.16" y2="222.52" stroke="#909090" stroke-width="0.7"/>
<line x1="220.96" y1="187.08" x2="223.36" y2="187.08" stroke="#909090" stroke-width="0.6"/>
<line x1="220.96" y1="222.52" x2="223.36" y2="222.52" stroke="#909090" stroke-width="0.6"/>
<circle cx="221.24" cy="195.39" r="0.6" fill="#909090"/>
<circle cx="221.58" cy="187.08" r="0.6" fill="#909090"/>
<circle cx="221.84" cy="189.55" r="0.6" fill="#909090"/>
<circle cx="224.18" cy="197.70" r="0.6" fill="#909090"/>
<circle cx="221.85" cy="187.08" r="0.6" fill="#909090"/>
<circle cx="221.77" cy="216.61" r="0.6" fill="#909090"/>
<circle cx="222.68" cy="191.85" r="0.6" fill="#909090"/>
<rect x="220.06" y="195.29" width="4.2" height="9.33" fill="#ffffff" fill-opacity="0.6" stroke="#909090" stroke-width="0.7"/>
<line x1="220.06" y1="199.95" x2="224.26" y2="199.95" stroke="#909090" stroke-width="0.5"/>
<text x="238.00" y="171.80" font-size="9.6" text-anchor="start" font-weight="bold" fill="#000">D</text>
<text x="267.75" y="174.30" font-size="3.5" fill="#444" stroke="#444" stroke-width="0.16" textLength="7.30" lengthAdjust="spacingAndGlyphs" transform="rotate(-90 267.75 174.30)">KIT</text>
<text x="272.65" y="174.30" font-size="3.5" fill="#444" stroke="#444" stroke-width="0.16" textLength="4.20" lengthAdjust="spacingAndGlyphs" transform="rotate(-90 272.65 174.30)">KIT</text>
<text x="277.55" y="174.30" font-size="3.5" fill="#444" stroke="#444" stroke-width="0.16" textLength="7.30" lengthAdjust="spacingAndGlyphs" transform="rotate(-90 277.55 174.30)">KDR</text>
<text x="282.45" y="174.30" font-size="3.5" fill="#444" stroke="#444" stroke-width="0.16" textLength="10.50" lengthAdjust="spacingAndGlyphs" transform="rotate(-90 282.45 174.30)">FGFR1</text>
<text x="287.35" y="174.30" font-size="3.5" fill="#444" stroke="#444" stroke-width="0.16" textLength="12.60" lengthAdjust="spacingAndGlyphs" transform="rotate(-90 287.35 174.30)">EPHA2</text>
<text x="292.25" y="174.30" font-size="3.5" fill="#444" stroke="#444" stroke-width="0.16" textLength="11.50" lengthAdjust="spacingAndGlyphs" transform="rotate(-90 292.25 174.30)">CSF1R</text>
<text x="297.15" y="174.30" font-size="3.5" fill="#444" stroke="#444" stroke-width="0.16" textLength="6.30" lengthAdjust="spacingAndGlyphs" transform="rotate(-90 297.15 174.30)">LCK</text>
<text x="302.05" y="174.30" font-size="3.5" fill="#444" stroke="#444" stroke-width="0.16" textLength="9.40" lengthAdjust="spacingAndGlyphs" transform="rotate(-90 302.05 174.30)">FLT3</text>
<text x="306.95" y="174.30" font-size="3.5" fill="#444" stroke="#444" stroke-width="0.16" textLength="15.70" lengthAdjust="spacingAndGlyphs" transform="rotate(-90 306.95 174.30)">PDGFRA</text>
<text x="311.85" y="174.30" font-size="3.5" fill="#444" stroke="#444" stroke-width="0.16" textLength="14.70" lengthAdjust="spacingAndGlyphs" transform="rotate(-90 311.85 174.30)">PDGFRB</text>
<text x="316.75" y="174.30" font-size="3.5" fill="#444" stroke="#444" stroke-width="0.16" textLength="9.40" lengthAdjust="spacingAndGlyphs" transform="rotate(-90 316.75 174.30)">FGFR3</text>
<text x="321.65" y="174.30" font-size="3.5" fill="#444" stroke="#444" stroke-width="0.16" textLength="4.20" lengthAdjust="spacingAndGlyphs" transform="rotate(-90 321.65 174.30)">ITK</text>
<text x="326.55" y="174.30" font-size="3.5" fill="#444" stroke="#444" stroke-width="0.16" textLength="8.40" lengthAdjust="spacingAndGlyphs" transform="rotate(-90 326.55 174.30)">RAF1</text>
<text x="331.45" y="174.30" font-size="3.5" fill="#444" stroke="#444" stroke-width="0.16" textLength="5.30" lengthAdjust="spacingAndGlyphs" transform="rotate(-90 331.45 174.30)">ABL1</text>
<text x="336.35" y="174.30" font-size="3.5" fill="#444" stroke="#444" stroke-width="0.16" textLength="7.30" lengthAdjust="spacingAndGlyphs" transform="rotate(-90 336.35 174.30)">BRAF</text>
<rect x="264.10" y="175.60" width="5.05" height="4.20" fill="#d03a58"/>
<rect x="269.00" y="175.60" width="5.05" height="4.20" fill="#dc5a72"/>
<rect x="273.90" y="175.60" width="5.05" height="4.20" fill="#f3b6c2"/>
<rect x="278.80" y="175.60" width="5.05" height="4.20" fill="#f3b6c2"/>
<rect x="283.70" y="175.60" width="5.05" height="4.20" fill="#ffffff"/>
<rect x="288.60" y="175.60" width="5.05" height="4.20" fill="#fefafb"/>
<rect x="293.50" y="175.60" width="5.05" height="4.20" fill="#dce4ec"/>
<rect x="298.40" y="175.60" width="5.05" height="4.20" fill="#dce4ec"/>
<rect x="303.30" y="175.60" width="5.05" height="4.20" fill="#dce4ec"/>
<rect x="308.20" y="175.60" width="5.05" height="4.20" fill="#dce4ec"/>
<rect x="313.10" y="175.60" width="5.05" height="4.20" fill="#dce4ec"/>
<rect x="318.00" y="175.60" width="5.05" height="4.20" fill="#d0dbe6"/>
<rect x="322.90" y="175.60" width="5.05" height="4.20" fill="#6f8299"/>
<rect x="327.80" y="175.60" width="5.05" height="4.20" fill="#42546b"/>
<rect x="332.70" y="175.60" width="5.05" height="4.20" fill="#192638"/>
<text x="340.00" y="179.90" font-size="4.1" text-anchor="start" font-weight="bold" stroke="#111" stroke-width="0.08" fill="#111">Mean correlation</text>
<g shape-rendering="crispEdges">
<rect x="264.10" y="181.60" width="5.05" height="8.14" fill="#b60c34"/>
<rect x="269.00" y="181.60" width="5.05" height="8.14" fill="#b60c34"/>
<rect x="273.90" y="181.60" width="5.05" height="8.14" fill="#ca294c"/>
<rect x="278.80" y="181.60" width="5.05" height="8.14" fill="#f3b6c2"/>
<rect x="283.70" y="181.60" width="5.05" height="8.14" fill="#e8edf2"/>
<rect x="288.60" y="181.60" width="5.05" height="8.14" fill="#b60c34"/>
<rect x="293.50" y="181.60" width="5.05" height="8.14" fill="#ffffff"/>
<rect x="298.40" y="181.60" width="5.05" height="8.14" fill="#f5c2cb"/>
<rect x="303.30" y="181.60" width="5.05" height="8.14" fill="#f5c2cb"/>
<rect x="308.20" y="181.60" width="5.05" height="8.14" fill="#fdf2f4"/>
<rect x="313.10" y="181.60" width="5.05" height="8.14" fill="#dce4ec"/>
<rect x="318.00" y="181.60" width="5.05" height="8.14" fill="#d03a58"/>
<rect x="322.90" y="181.60" width="5.05" height="8.14" fill="#8092a7"/>
<rect x="327.80" y="181.60" width="5.05" height="8.14" fill="#f3b6c2"/>
<rect x="332.70" y="181.60" width="5.05" height="8.14" fill="#8092a7"/>
<rect x="264.10" y="189.59" width="5.05" height="8.14" fill="#c4193f"/>
<rect x="269.00" y="189.59" width="5.05" height="8.14" fill="#b60c34"/>
<rect x="273.90" y="189.59" width="5.05" height="8.14" fill="#c4193f"/>
<rect x="278.80" y="189.59" width="5.05" height="8.14" fill="#dc5a72"/>
<rect x="283.70" y="189.59" width="5.05" height="8.14" fill="#f1abb8"/>
<rect x="288.60" y="189.59" width="5.05" height="8.14" fill="#d03a58"/>
<rect x="293.50" y="189.59" width="5.05" height="8.14" fill="#d64a65"/>
<rect x="298.40" y="189.59" width="5.05" height="8.14" fill="#dce4ec"/>
<rect x="303.30" y="189.59" width="5.05" height="8.14" fill="#dce4ec"/>
<rect x="308.20" y="189.59" width="5.05" height="8.14" fill="#121e2f"/>
<rect x="313.10" y="189.59" width="5.05" height="8.14" fill="#121e2f"/>
<rect x="318.00" y="189.59" width="5.05" height="8.14" fill="#8092a7"/>
<rect x="322.90" y="189.59" width="5.05" height="8.14" fill="#d0dbe6"/>
<rect x="327.80" y="189.59" width="5.05" height="8.14" fill="#c4d0dd"/>
<rect x="332.70" y="189.59" width="5.05" height="8.14" fill="#c4d0dd"/>
<rect x="264.10" y="197.58" width="5.05" height="8.14" fill="#ca294c"/>
<rect x="269.00" y="197.58" width="5.05" height="8.14" fill="#ca294c"/>
<rect x="273.90" y="197.58" width="5.05" height="8.14" fill="#f5c2cb"/>
<rect x="278.80" y="197.58" width="5.05" height="8.14" fill="#d0dbe6"/>
<rect x="283.70" y="197.58" width="5.05" height="8.14" fill="#ea8e9f"/>
<rect x="288.60" y="197.58" width="5.05" height="8.14" fill="#ffffff"/>
<rect x="293.50" y="197.58" width="5.05" height="8.14" fill="#ffffff"/>
<rect x="298.40" y="197.58" width="5.05" height="8.14" fill="#f7cdd5"/>
<rect x="303.30" y="197.58" width="5.05" height="8.14" fill="#e8edf2"/>
<rect x="308.20" y="197.58" width="5.05" height="8.14" fill="#f3b6c2"/>
<rect x="313.10" y="197.58" width="5.05" height="8.14" fill="#f3b6c2"/>
<rect x="318.00" y="197.58" width="5.05" height="8.14" fill="#8092a7"/>
<rect x="322.90" y="197.58" width="5.05" height="8.14" fill="#121e2f"/>
<rect x="327.80" y="197.58" width="5.05" height="8.14" fill="#a0b1c3"/>
<rect x="332.70" y="197.58" width="5.05" height="8.14" fill="#121e2f"/>
<rect x="264.10" y="205.57" width="5.05" height="8.14" fill="#ffffff"/>
<rect x="269.00" y="205.57" width="5.05" height="8.14" fill="#f3b6c2"/>
<rect x="273.90" y="205.57" width="5.05" height="8.14" fill="#f3b6c2"/>
<rect x="278.80" y="205.57" width="5.05" height="8.14" fill="#d0dbe6"/>
<rect x="283.70" y="205.57" width="5.05" height="8.14" fill="#ca294c"/>
<rect x="288.60" y="205.57" width="5.05" height="8.14" fill="#d0dbe6"/>
<rect x="293.50" y="205.57" width="5.05" height="8.14" fill="#e67d90"/>
<rect x="298.40" y="205.57" width="5.05" height="8.14" fill="#fdf2f4"/>
<rect x="303.30" y="205.57" width="5.05" height="8.14" fill="#e8edf2"/>
<rect x="308.20" y="205.57" width="5.05" height="8.14" fill="#dce4ec"/>
<rect x="313.10" y="205.57" width="5.05" height="8.14" fill="#ffffff"/>
<rect x="318.00" y="205.57" width="5.05" height="8.14" fill="#121e2f"/>
<rect x="322.90" y="205.57" width="5.05" height="8.14" fill="#d0dbe6"/>
<rect x="327.80" y="205.57" width="5.05" height="8.14" fill="#5f728b"/>
<rect x="332.70" y="205.57" width="5.05" height="8.14" fill="#192638"/>
<rect x="264.10" y="213.56" width="5.05" height="8.14" fill="#b60c34"/>
<rect x="269.00" y="213.56" width="5.05" height="8.14" fill="#dc5a72"/>
<rect x="273.90" y="213.56" width="5.05" height="8.14" fill="#f7cdd5"/>
<rect x="278.80" y="213.56" width="5.05" height="8.14" fill="#e16c81"/>
<rect x="283.70" y="213.56" width="5.05" height="8.14" fill="#dce4ec"/>
<rect x="288.60" y="213.56" width="5.05" height="8.14" fill="#ffffff"/>
<rect x="293.50" y="213.56" width="5.05" height="8.14" fill="#acbccc"/>
<rect x="298.40" y="213.56" width="5.05" height="8.14" fill="#b8c6d4"/>
<rect x="303.30" y="213.56" width="5.05" height="8.14" fill="#d0dbe6"/>
<rect x="308.20" y="213.56" width="5.05" height="8.14" fill="#5f728b"/>
<rect x="313.10" y="213.56" width="5.05" height="8.14" fill="#42546b"/>
<rect x="318.00" y="213.56" width="5.05" height="8.14" fill="#c4d0dd"/>
<rect x="322.90" y="213.56" width="5.05" height="8.14" fill="#202d42"/>
<rect x="327.80" y="213.56" width="5.05" height="8.14" fill="#121e2f"/>
<rect x="332.70" y="213.56" width="5.05" height="8.14" fill="#121e2f"/>
<rect x="264.10" y="221.55" width="5.05" height="8.14" fill="#b60c34"/>
<rect x="269.00" y="221.55" width="5.05" height="8.14" fill="#f7cdd5"/>
<rect x="273.90" y="221.55" width="5.05" height="8.14" fill="#dce4ec"/>
<rect x="278.80" y="221.55" width="5.05" height="8.14" fill="#e16c81"/>
<rect x="283.70" y="221.55" width="5.05" height="8.14" fill="#8092a7"/>
<rect x="288.60" y="221.55" width="5.05" height="8.14" fill="#d0dbe6"/>
<rect x="293.50" y="221.55" width="5.05" height="8.14" fill="#121e2f"/>
<rect x="298.40" y="221.55" width="5.05" height="8.14" fill="#90a1b5"/>
<rect x="303.30" y="221.55" width="5.05" height="8.14" fill="#d0dbe6"/>
<rect x="308.20" y="221.55" width="5.05" height="8.14" fill="#b8c6d4"/>
<rect x="313.10" y="221.55" width="5.05" height="8.14" fill="#c4d0dd"/>
<rect x="318.00" y="221.55" width="5.05" height="8.14" fill="#ffffff"/>
<rect x="322.90" y="221.55" width="5.05" height="8.14" fill="#26354b"/>
<rect x="327.80" y="221.55" width="5.05" height="8.14" fill="#121e2f"/>
<rect x="332.70" y="221.55" width="5.05" height="8.14" fill="#121e2f"/>
<rect x="264.10" y="229.54" width="5.05" height="8.14" fill="#f5c2cb"/>
<rect x="269.00" y="229.54" width="5.05" height="8.14" fill="#c4d0dd"/>
<rect x="273.90" y="229.54" width="5.05" height="8.14" fill="#8092a7"/>
<rect x="278.80" y="229.54" width="5.05" height="8.14" fill="#f7cdd5"/>
<rect x="283.70" y="229.54" width="5.05" height="8.14" fill="#e8edf2"/>
<rect x="288.60" y="229.54" width="5.05" height="8.14" fill="#121e2f"/>
<rect x="293.50" y="229.54" width="5.05" height="8.14" fill="#acbccc"/>
<rect x="298.40" y="229.54" width="5.05" height="8.14" fill="#c4d0dd"/>
<rect x="303.30" y="229.54" width="5.05" height="8.14" fill="#dce4ec"/>
<rect x="308.20" y="229.54" width="5.05" height="8.14" fill="#dce4ec"/>
<rect x="313.10" y="229.54" width="5.05" height="8.14" fill="#ffffff"/>
<rect x="318.00" y="229.54" width="5.05" height="8.14" fill="#acbccc"/>
<rect x="322.90" y="229.54" width="5.05" height="8.14" fill="#d0dbe6"/>
<rect x="327.80" y="229.54" width="5.05" height="8.14" fill="#121e2f"/>
<rect x="332.70" y="229.54" width="5.05" height="8.14" fill="#d0dbe6"/>
</g>
<text x="262.30" y="186.79" font-size="3.5" text-anchor="end" stroke="#333" stroke-width="0.08" fill="#333">sorafenib</text>
<text x="262.30" y="194.78" font-size="3.5" text-anchor="end" stroke="#333" stroke-width="0.08" fill="#333">tivozanib</text>
<text x="262.30" y="202.77" font-size="3.5" text-anchor="end" stroke="#333" stroke-width="0.08" fill="#333">imatinib</text>
<text x="262.30" y="210.76" font-size="3.5" text-anchor="end" stroke="#333" stroke-width="0.08" fill="#333">sunitinib</text>
<text x="262.30" y="218.75" font-size="3.5" text-anchor="end" stroke="#333" stroke-width="0.08" fill="#333">midostaurin</text>
<text x="262.30" y="226.74" font-size="3.5" text-anchor="end" stroke="#333" stroke-width="0.08" fill="#333">pazopanib</text>
<text x="262.30" y="234.73" font-size="3.5" text-anchor="end" stroke="#333" stroke-width="0.08" fill="#333">dasatinib</text>
<text x="340.00" y="198.60" font-size="3.4" text-anchor="start" font-weight="bold" stroke="#222" stroke-width="0.08" fill="#222">Correlation</text>
<text x="340.00" y="201.80" font-size="3.4" text-anchor="start" font-weight="bold" stroke="#222" stroke-width="0.08" fill="#222">coefficient</text>
<rect x="340.20" y="202.30" width="3.30" height="1.05" fill="#a8002a"/>
<rect x="340.20" y="203.30" width="3.30" height="1.05" fill="#b60c34"/>
<rect x="340.20" y="204.30" width="3.30" height="1.05" fill="#c4193f"/>
<rect x="340.20" y="205.30" width="3.30" height="1.05" fill="#d03a58"/>
<rect x="340.20" y="206.30" width="3.30" height="1.05" fill="#dc5a72"/>
<rect x="340.20" y="207.30" width="3.30" height="1.05" fill="#e67d90"/>
<rect x="340.20" y="208.30" width="3.30" height="1.05" fill="#efa0ae"/>
<rect x="340.20" y="209.30" width="3.30" height="1.05" fill="#f3b6c2"/>
<rect x="340.20" y="210.30" width="3.30" height="1.05" fill="#f7cdd5"/>
<rect x="340.20" y="211.30" width="3.30" height="1.05" fill="#fbe6ea"/>
<rect x="340.20" y="212.30" width="3.30" height="1.05" fill="#ffffff"/>
<rect x="340.20" y="213.30" width="3.30" height="1.05" fill="#e7edf2"/>
<rect x="340.20" y="214.30" width="3.30" height="1.05" fill="#d0dbe6"/>
<rect x="340.20" y="215.30" width="3.30" height="1.05" fill="#b8c6d4"/>
<rect x="340.20" y="216.30" width="3.30" height="1.05" fill="#a0b1c3"/>
<rect x="340.20" y="217.30" width="3.30" height="1.05" fill="#8092a7"/>
<rect x="340.20" y="218.30" width="3.30" height="1.05" fill="#5f728b"/>
<rect x="340.20" y="219.30" width="3.30" height="1.05" fill="#42546b"/>
<rect x="340.20" y="220.30" width="3.30" height="1.05" fill="#26354b"/>
<rect x="340.20" y="221.30" width="3.30" height="1.05" fill="#192638"/>
<rect x="340.20" y="222.30" width="3.30" height="1.05" fill="#0c1626"/>
<text x="344.60" y="203.80" font-size="2.8" text-anchor="start" stroke="#333" stroke-width="0.08" fill="#333">1</text>
<text x="344.60" y="208.80" font-size="2.8" text-anchor="start" stroke="#333" stroke-width="0.08" fill="#333">0.5</text>
<text x="344.60" y="214.20" font-size="2.8" text-anchor="start" stroke="#333" stroke-width="0.08" fill="#333">0</text>
<text x="344.60" y="219.20" font-size="2.8" text-anchor="start" stroke="#333" stroke-width="0.08" fill="#333">-0.5</text>
<text x="344.60" y="223.60" font-size="2.8" text-anchor="start" stroke="#333" stroke-width="0.08" fill="#333">-1</text>
<text x="238.40" y="251.30" font-size="9.6" text-anchor="start" font-weight="bold" fill="#000">E</text>
<line x1="267.30" y1="246.50" x2="267.30" y2="303.40" stroke="#000" stroke-width="0.7"/>
<line x1="267.00" y1="303.00" x2="324.50" y2="303.00" stroke="#000" stroke-width="0.7"/>
<line x1="265.70" y1="302.80" x2="267.30" y2="302.80" stroke="#000" stroke-width="0.6"/>
<text x="265.00" y="304.60" font-size="5.1" text-anchor="end" font-weight="bold" fill="#000">0</text>
<line x1="265.70" y1="289.98" x2="267.30" y2="289.98" stroke="#000" stroke-width="0.6"/>
<text x="265.00" y="291.78" font-size="5.1" text-anchor="end" font-weight="bold" fill="#000">25</text>
<line x1="265.70" y1="277.15" x2="267.30" y2="277.15" stroke="#000" stroke-width="0.6"/>
<text x="265.00" y="278.95" font-size="5.1" text-anchor="end" font-weight="bold" fill="#000">50</text>
<line x1="265.70" y1="264.32" x2="267.30" y2="264.32" stroke="#000" stroke-width="0.6"/>
<text x="265.00" y="266.12" font-size="5.1" text-anchor="end" font-weight="bold" fill="#000">75</text>
<line x1="265.70" y1="251.50" x2="267.30" y2="251.50" stroke="#000" stroke-width="0.6"/>
<text x="265.00" y="253.30" font-size="5.1" text-anchor="end" font-weight="bold" fill="#000">100</text>
<line x1="267.30" y1="303.00" x2="267.30" y2="304.80" stroke="#000" stroke-width="0.6"/>
<text x="267.30" y="310.00" font-size="5.1" text-anchor="middle" font-weight="bold" fill="#000">0</text>
<line x1="278.54" y1="303.00" x2="278.54" y2="304.80" stroke="#000" stroke-width="0.6"/>
<text x="278.54" y="310.00" font-size="5.1" text-anchor="middle" font-weight="bold" fill="#000">5</text>
<line x1="289.78" y1="303.00" x2="289.78" y2="304.80" stroke="#000" stroke-width="0.6"/>
<text x="289.78" y="310.00" font-size="5.1" text-anchor="middle" font-weight="bold" fill="#000">10</text>
<line x1="301.02" y1="303.00" x2="301.02" y2="304.80" stroke="#000" stroke-width="0.6"/>
<text x="301.02" y="310.00" font-size="5.1" text-anchor="middle" font-weight="bold" fill="#000">15</text>
<line x1="312.26" y1="303.00" x2="312.26" y2="304.80" stroke="#000" stroke-width="0.6"/>
<text x="312.26" y="310.00" font-size="5.1" text-anchor="middle" font-weight="bold" fill="#000">20</text>
<line x1="323.50" y1="303.00" x2="323.50" y2="304.80" stroke="#000" stroke-width="0.6"/>
<text x="323.50" y="310.00" font-size="5.1" text-anchor="middle" font-weight="bold" fill="#000">25</text>
<text x="295.50" y="318.80" font-size="5.4" text-anchor="middle" font-weight="bold" fill="#000">years</text>
<text x="254.00" y="274.50" font-size="4.9" text-anchor="middle" font-weight="bold" stroke="#000" stroke-width="0.08" fill="#000" transform="rotate(-90 254.00 274.50)">Probability of Survival</text>
<polyline points="267.3,251.5 268.0,251.5 268.0,253.0 268.9,253.0 268.9,255.6 270.2,255.6 270.2,258.7 271.8,258.7 271.8,260.5 274.0,260.5 274.0,261.8 275.8,261.8 275.8,262.8 278.5,262.8 278.5,263.3 281.2,263.3 281.2,263.8 285.3,263.8 285.3,264.2 292.0,264.2 292.0,264.7 301.0,264.7 301.0,264.8 312.3,264.8 312.3,265.0 323.5,265.0 323.5,265.1" fill="none" stroke="#6cb8ee" stroke-width="1.4"/>
<polyline points="267.3,251.5 268.0,251.5 268.0,253.6 268.6,253.6 268.6,257.7 269.5,257.7 269.5,262.3 270.2,262.3 270.2,264.8 271.1,264.8 271.1,267.9 272.2,267.9 272.2,271.0 273.1,271.0 273.1,272.3 274.5,272.3 274.5,273.6 276.5,273.6 276.5,274.3 278.5,274.3 278.5,274.8 281.2,274.8 281.2,275.4 283.0,275.4 283.0,275.2 284.4,275.2 284.4,276.1 286.9,276.1 286.9,276.4 288.7,276.4 288.7,277.0 294.3,277.0 294.3,277.2 303.9,277.2 303.9,277.2" fill="none" stroke="#d0202a" stroke-width="1.4"/>
<line x1="328.50" y1="263.00" x2="333.50" y2="263.00" stroke="#d0202a" stroke-width="0.9"/>
<text x="336.80" y="264.70" font-size="5.0" text-anchor="start" stroke="#333" stroke-width="0.08" fill="#333">KIT-high</text>
<line x1="328.50" y1="270.80" x2="333.50" y2="270.80" stroke="#6cb8ee" stroke-width="0.9"/>
<text x="336.80" y="272.50" font-size="5.0" text-anchor="start" stroke="#333" stroke-width="0.08" fill="#333">KIT-low</text>
<text x="12.80" y="333.20" font-size="9.6" text-anchor="start" font-weight="bold" fill="#000">F</text>
<text x="62.70" y="339.20" font-size="5.5" text-anchor="middle" font-weight="bold" fill="#000">IL-2 pathway</text>
<line x1="34.30" y1="375.70" x2="91.10" y2="375.70" stroke="#c4c4c4" stroke-width="0.6" stroke-dasharray="1,0.7"/>
<polygon points="41.0,361.4 45.8,364.5 50.5,367.3 55.2,369.8 60.0,372.0 64.8,373.9 69.5,375.4 74.2,376.7 79.0,377.7 83.8,378.3 88.5,378.7 88.5,390.3 83.8,387.2 79.0,384.4 74.2,381.9 69.5,379.7 64.8,377.9 60.0,376.3 55.2,375.0 50.5,374.0 45.8,373.4 41.0,373.0" fill="#cfcfcf" stroke="#b0b0b0" stroke-width="0.35"/>
<circle cx="75.5" cy="393.9" r="1.35" fill="#a8dfb6" stroke="#58b07a" stroke-width="0.45"/>
<circle cx="46.9" cy="352.7" r="1.35" fill="#c6dbee" stroke="#7fa6cc" stroke-width="0.45"/>
<circle cx="46.2" cy="373.8" r="1.35" fill="#e84c7c" stroke="#d03468" stroke-width="0.45"/>
<circle cx="61.8" cy="376.8" r="1.35" fill="#a410dc" stroke="#9000c8" stroke-width="0.45"/>
<circle cx="66.5" cy="387.2" r="1.35" fill="#e84c7c" stroke="#d03468" stroke-width="0.45"/>
<circle cx="47.6" cy="378.3" r="1.35" fill="#a410dc" stroke="#9000c8" stroke-width="0.45"/>
<circle cx="65.5" cy="376.0" r="1.35" fill="#e84c7c" stroke="#d03468" stroke-width="0.45"/>
<circle cx="65.5" cy="390.2" r="1.35" fill="#e84c7c" stroke="#d03468" stroke-width="0.45"/>
<circle cx="64.0" cy="389.9" r="1.35" fill="#a8dfb6" stroke="#58b07a" stroke-width="0.45"/>
<circle cx="70.7" cy="381.2" r="1.35" fill="#a410dc" stroke="#9000c8" stroke-width="0.45"/>
<circle cx="75.5" cy="363.7" r="1.35" fill="#a8dfb6" stroke="#58b07a" stroke-width="0.45"/>
<circle cx="88.6" cy="378.0" r="1.35" fill="#a8dfb6" stroke="#58b07a" stroke-width="0.45"/>
<circle cx="49.9" cy="373.8" r="1.35" fill="#e84c7c" stroke="#d03468" stroke-width="0.45"/>
<circle cx="70.0" cy="377.5" r="1.35" fill="#e84c7c" stroke="#d03468" stroke-width="0.45"/>
<circle cx="70.7" cy="370.8" r="1.35" fill="#3c3c3c" stroke="#262626" stroke-width="0.45"/>
<circle cx="68.5" cy="385.7" r="1.35" fill="#c6dbee" stroke="#7fa6cc" stroke-width="0.45"/>
<circle cx="73.7" cy="385.7" r="1.35" fill="#c6dbee" stroke="#7fa6cc" stroke-width="0.45"/>
<circle cx="82.6" cy="378.3" r="1.35" fill="#a8dfb6" stroke="#58b07a" stroke-width="0.45"/>
<circle cx="78.2" cy="385.7" r="1.35" fill="#3c3c3c" stroke="#262626" stroke-width="0.45"/>
<circle cx="61.8" cy="381.2" r="1.35" fill="#a8dfb6" stroke="#58b07a" stroke-width="0.45"/>
<circle cx="66.0" cy="367.9" r="1.35" fill="#e84c7c" stroke="#d03468" stroke-width="0.45"/>
<circle cx="79.6" cy="387.2" r="1.35" fill="#c6dbee" stroke="#7fa6cc" stroke-width="0.45"/>
<circle cx="61.8" cy="357.4" r="1.35" fill="#a410dc" stroke="#9000c8" stroke-width="0.45"/>
<circle cx="45.1" cy="376.0" r="1.35" fill="#a410dc" stroke="#9000c8" stroke-width="0.45"/>
<circle cx="50.6" cy="358.2" r="1.35" fill="#c6dbee" stroke="#7fa6cc" stroke-width="0.45"/>
<circle cx="69.5" cy="389.0" r="1.35" fill="#c6dbee" stroke="#7fa6cc" stroke-width="0.45"/>
<circle cx="62.5" cy="371.6" r="1.35" fill="#e84c7c" stroke="#d03468" stroke-width="0.45"/>
<circle cx="54.3" cy="376.8" r="1.35" fill="#a410dc" stroke="#9000c8" stroke-width="0.45"/>
<circle cx="55.5" cy="365.2" r="1.35" fill="#c6dbee" stroke="#7fa6cc" stroke-width="0.45"/>
<circle cx="66.7" cy="366.1" r="1.35" fill="#c6dbee" stroke="#7fa6cc" stroke-width="0.45"/>
<circle cx="72.9" cy="379.0" r="1.35" fill="#e84c7c" stroke="#d03468" stroke-width="0.45"/>
<circle cx="82.6" cy="387.2" r="1.35" fill="#c6dbee" stroke="#7fa6cc" stroke-width="0.45"/>
<circle cx="68.5" cy="382.0" r="1.35" fill="#a8dfb6" stroke="#58b07a" stroke-width="0.45"/>
<circle cx="75.2" cy="373.8" r="1.35" fill="#a410dc" stroke="#9000c8" stroke-width="0.45"/>
<circle cx="52.9" cy="376.8" r="1.35" fill="#a410dc" stroke="#9000c8" stroke-width="0.45"/>
<circle cx="63.3" cy="372.3" r="1.35" fill="#a410dc" stroke="#9000c8" stroke-width="0.45"/>
<circle cx="51.4" cy="370.8" r="1.35" fill="#e84c7c" stroke="#d03468" stroke-width="0.45"/>
<circle cx="71.5" cy="374.6" r="1.35" fill="#3c3c3c" stroke="#262626" stroke-width="0.45"/>
<circle cx="40.7" cy="365.6" r="1.35" fill="#a8dfb6" stroke="#58b07a" stroke-width="0.45"/>
<circle cx="57.3" cy="358.2" r="1.35" fill="#e84c7c" stroke="#d03468" stroke-width="0.45"/>
<line x1="41.00" y1="367.20" x2="88.50" y2="384.50" stroke="#111" stroke-width="1.2"/>
<line x1="34.30" y1="346.60" x2="34.30" y2="404.60" stroke="#000" stroke-width="0.8"/>
<line x1="33.90" y1="404.10" x2="91.10" y2="404.10" stroke="#000" stroke-width="0.8"/>
<line x1="32.60" y1="347.20" x2="34.30" y2="347.20" stroke="#000" stroke-width="0.7"/>
<text x="32.10" y="349.05" font-size="5.2" text-anchor="end" font-weight="bold" fill="#000">0.2</text>
<line x1="32.60" y1="361.40" x2="34.30" y2="361.40" stroke="#000" stroke-width="0.7"/>
<text x="32.10" y="363.25" font-size="5.2" text-anchor="end" font-weight="bold" fill="#000">0.1</text>
<line x1="32.60" y1="375.70" x2="34.30" y2="375.70" stroke="#000" stroke-width="0.7"/>
<text x="32.10" y="377.55" font-size="5.2" text-anchor="end" font-weight="bold" fill="#000">0.0</text>
<line x1="32.60" y1="389.90" x2="34.30" y2="389.90" stroke="#000" stroke-width="0.7"/>
<text x="32.10" y="391.75" font-size="5.2" text-anchor="end" font-weight="bold" fill="#000">-0.1</text>
<line x1="32.60" y1="404.10" x2="34.30" y2="404.10" stroke="#000" stroke-width="0.7"/>
<text x="32.10" y="405.95" font-size="5.2" text-anchor="end" font-weight="bold" fill="#000">-0.2</text>
<line x1="34.30" y1="404.10" x2="34.30" y2="405.80" stroke="#000" stroke-width="0.7"/>
<text x="34.80" y="413.70" font-size="5.2" text-anchor="middle" font-weight="bold" fill="#000">9.0</text>
<line x1="53.23" y1="404.10" x2="53.23" y2="405.80" stroke="#000" stroke-width="0.7"/>
<text x="53.73" y="413.70" font-size="5.2" text-anchor="middle" font-weight="bold" fill="#000">9.5</text>
<line x1="72.17" y1="404.10" x2="72.17" y2="405.80" stroke="#000" stroke-width="0.7"/>
<text x="72.67" y="413.70" font-size="5.2" text-anchor="middle" font-weight="bold" fill="#000">10.0</text>
<line x1="91.10" y1="404.10" x2="91.10" y2="405.80" stroke="#000" stroke-width="0.7"/>
<text x="91.60" y="413.70" font-size="5.2" text-anchor="middle" font-weight="bold" fill="#000">10.5</text>
<text x="62.10" y="420.50" font-size="5.4" text-anchor="middle" font-weight="bold" fill="#000">KIT expression log2</text>
<text x="70.10" y="349.70" font-size="5.4" text-anchor="start" font-weight="bold" fill="#000">R=-0.46</text>
<text x="70.10" y="355.20" font-size="5.4" text-anchor="start" font-weight="bold" fill="#000">p=0.004</text>
<text x="18.34" y="375.65" font-size="5.6" text-anchor="middle" font-weight="bold" fill="#000" transform="rotate(-90 18.34 375.65)">activation strenght</text>
<text x="11.84" y="375.65" font-size="5.6" text-anchor="middle" font-weight="bold" fill="#000" transform="rotate(-90 11.84 375.65)">Pathway</text>
<text x="156.40" y="332.40" font-size="5.5" text-anchor="middle" font-weight="bold" fill="#000">ERK signaling pathways</text>
<text x="156.40" y="338.60" font-size="5.5" text-anchor="middle" font-weight="bold" fill="#000">cell survival</text>
<line x1="128.00" y1="375.60" x2="184.80" y2="375.60" stroke="#c4c4c4" stroke-width="0.6" stroke-dasharray="1,0.7"/>
<polygon points="134.2,376.2 138.9,376.2 143.6,375.9 148.3,375.3 153.0,374.4 157.7,373.1 162.4,371.6 167.1,369.8 171.8,367.7 176.5,365.2 181.2,362.5 181.2,374.1 176.5,374.1 171.8,374.4 167.1,375.0 162.4,375.9 157.7,377.1 153.0,378.7 148.3,380.5 143.6,382.6 138.9,385.1 134.2,387.8" fill="#cfcfcf" stroke="#b0b0b0" stroke-width="0.35"/>
<circle cx="176.5" cy="364.7" r="1.35" fill="#c6dbee" stroke="#7fa6cc" stroke-width="0.45"/>
<circle cx="166.6" cy="364.7" r="1.35" fill="#c6dbee" stroke="#7fa6cc" stroke-width="0.45"/>
<circle cx="140.1" cy="365.5" r="1.35" fill="#a410dc" stroke="#9000c8" stroke-width="0.45"/>
<circle cx="164.4" cy="361.7" r="1.35" fill="#c6dbee" stroke="#7fa6cc" stroke-width="0.45"/>
<circle cx="158.3" cy="362.9" r="1.35" fill="#e84c7c" stroke="#d03468" stroke-width="0.45"/>
<circle cx="159.1" cy="379.8" r="1.35" fill="#e84c7c" stroke="#d03468" stroke-width="0.45"/>
<circle cx="157.5" cy="371.5" r="1.35" fill="#e84c7c" stroke="#d03468" stroke-width="0.45"/>
<circle cx="149.2" cy="385.6" r="1.35" fill="#3c3c3c" stroke="#262626" stroke-width="0.45"/>
<circle cx="160.6" cy="385.2" r="1.35" fill="#c6dbee" stroke="#7fa6cc" stroke-width="0.45"/>
<circle cx="173.5" cy="362.4" r="1.35" fill="#c6dbee" stroke="#7fa6cc" stroke-width="0.45"/>
<circle cx="162.8" cy="384.7" r="1.35" fill="#a8dfb6" stroke="#58b07a" stroke-width="0.45"/>
<circle cx="157.5" cy="373.0" r="1.35" fill="#a410dc" stroke="#9000c8" stroke-width="0.45"/>
<circle cx="164.4" cy="380.6" r="1.35" fill="#3c3c3c" stroke="#262626" stroke-width="0.45"/>
<circle cx="154.5" cy="374.5" r="1.35" fill="#e84c7c" stroke="#d03468" stroke-width="0.45"/>
<circle cx="146.9" cy="367.7" r="1.35" fill="#a410dc" stroke="#9000c8" stroke-width="0.45"/>
<circle cx="161.3" cy="371.5" r="1.35" fill="#a8dfb6" stroke="#58b07a" stroke-width="0.45"/>
<circle cx="171.2" cy="370.0" r="1.35" fill="#3c3c3c" stroke="#262626" stroke-width="0.45"/>
<circle cx="165.1" cy="391.2" r="1.35" fill="#3c3c3c" stroke="#262626" stroke-width="0.45"/>
<circle cx="168.2" cy="374.1" r="1.35" fill="#a410dc" stroke="#9000c8" stroke-width="0.45"/>
<circle cx="159.8" cy="366.2" r="1.35" fill="#e84c7c" stroke="#d03468" stroke-width="0.45"/>
<circle cx="152.2" cy="385.2" r="1.35" fill="#e84c7c" stroke="#d03468" stroke-width="0.45"/>
<circle cx="140.1" cy="381.4" r="1.35" fill="#c6dbee" stroke="#7fa6cc" stroke-width="0.45"/>
<circle cx="164.4" cy="366.2" r="1.35" fill="#e84c7c" stroke="#d03468" stroke-width="0.45"/>
<circle cx="141.6" cy="394.7" r="1.35" fill="#e84c7c" stroke="#d03468" stroke-width="0.45"/>
<circle cx="168.9" cy="360.5" r="1.35" fill="#a8dfb6" stroke="#58b07a" stroke-width="0.45"/>
<circle cx="137.1" cy="376.1" r="1.35" fill="#3c3c3c" stroke="#262626" stroke-width="0.45"/>
<circle cx="154.5" cy="376.8" r="1.35" fill="#a410dc" stroke="#9000c8" stroke-width="0.45"/>
<circle cx="155.3" cy="380.6" r="1.35" fill="#a410dc" stroke="#9000c8" stroke-width="0.45"/>
<circle cx="138.6" cy="379.8" r="1.35" fill="#a410dc" stroke="#9000c8" stroke-width="0.45"/>
<circle cx="145.4" cy="374.5" r="1.35" fill="#a410dc" stroke="#9000c8" stroke-width="0.45"/>
<circle cx="156.0" cy="394.2" r="1.35" fill="#a8dfb6" stroke="#58b07a" stroke-width="0.45"/>
<circle cx="143.9" cy="363.9" r="1.35" fill="#c6dbee" stroke="#7fa6cc" stroke-width="0.45"/>
<circle cx="164.4" cy="382.9" r="1.35" fill="#a8dfb6" stroke="#58b07a" stroke-width="0.45"/>
<circle cx="181.0" cy="364.4" r="1.35" fill="#a8dfb6" stroke="#58b07a" stroke-width="0.45"/>
<circle cx="165.1" cy="388.2" r="1.35" fill="#e84c7c" stroke="#d03468" stroke-width="0.45"/>
<circle cx="150.7" cy="384.7" r="1.35" fill="#e84c7c" stroke="#d03468" stroke-width="0.45"/>
<circle cx="144.7" cy="384.7" r="1.35" fill="#e84c7c" stroke="#d03468" stroke-width="0.45"/>
<circle cx="171.9" cy="367.4" r="1.35" fill="#a8dfb6" stroke="#58b07a" stroke-width="0.45"/>
<circle cx="147.7" cy="374.1" r="1.35" fill="#a410dc" stroke="#9000c8" stroke-width="0.45"/>
<circle cx="151.5" cy="379.1" r="1.35" fill="#c6dbee" stroke="#7fa6cc" stroke-width="0.45"/>
<circle cx="162.8" cy="363.2" r="1.35" fill="#c6dbee" stroke="#7fa6cc" stroke-width="0.45"/>
<circle cx="133.8" cy="387.1" r="1.35" fill="#a8dfb6" stroke="#58b07a" stroke-width="0.45"/>
<circle cx="143.2" cy="378.3" r="1.35" fill="#e84c7c" stroke="#d03468" stroke-width="0.45"/>
<circle cx="168.9" cy="387.1" r="1.35" fill="#a8dfb6" stroke="#58b07a" stroke-width="0.45"/>
<line x1="134.20" y1="382.00" x2="181.20" y2="368.30" stroke="#111" stroke-width="1.2"/>
<line x1="128.00" y1="346.40" x2="128.00" y2="404.60" stroke="#000" stroke-width="0.8"/>
<line x1="127.60" y1="404.10" x2="184.80" y2="404.10" stroke="#000" stroke-width="0.8"/>
<line x1="126.30" y1="347.00" x2="128.00" y2="347.00" stroke="#000" stroke-width="0.7"/>
<text x="125.80" y="348.85" font-size="5.2" text-anchor="end" font-weight="bold" fill="#000">0.4</text>
<line x1="126.30" y1="361.30" x2="128.00" y2="361.30" stroke="#000" stroke-width="0.7"/>
<text x="125.80" y="363.15" font-size="5.2" text-anchor="end" font-weight="bold" fill="#000">0.2</text>
<line x1="126.30" y1="375.60" x2="128.00" y2="375.60" stroke="#000" stroke-width="0.7"/>
<text x="125.80" y="377.45" font-size="5.2" text-anchor="end" font-weight="bold" fill="#000">0.0</text>
<line x1="126.30" y1="389.80" x2="128.00" y2="389.80" stroke="#000" stroke-width="0.7"/>
<text x="125.80" y="391.65" font-size="5.2" text-anchor="end" font-weight="bold" fill="#000">-0.2</text>
<line x1="126.30" y1="404.10" x2="128.00" y2="404.10" stroke="#000" stroke-width="0.7"/>
<text x="125.80" y="405.95" font-size="5.2" text-anchor="end" font-weight="bold" fill="#000">-0.4</text>
<line x1="128.00" y1="404.10" x2="128.00" y2="405.80" stroke="#000" stroke-width="0.7"/>
<text x="128.50" y="413.70" font-size="5.2" text-anchor="middle" font-weight="bold" fill="#000">9.0</text>
<line x1="146.93" y1="404.10" x2="146.93" y2="405.80" stroke="#000" stroke-width="0.7"/>
<text x="147.43" y="413.70" font-size="5.2" text-anchor="middle" font-weight="bold" fill="#000">9.5</text>
<line x1="165.87" y1="404.10" x2="165.87" y2="405.80" stroke="#000" stroke-width="0.7"/>
<text x="166.37" y="413.70" font-size="5.2" text-anchor="middle" font-weight="bold" fill="#000">10.0</text>
<line x1="184.80" y1="404.10" x2="184.80" y2="405.80" stroke="#000" stroke-width="0.7"/>
<text x="185.30" y="413.70" font-size="5.2" text-anchor="middle" font-weight="bold" fill="#000">10.5</text>
<text x="155.80" y="420.50" font-size="5.4" text-anchor="middle" font-weight="bold" fill="#000">KIT expression log2</text>
<text x="163.80" y="349.50" font-size="5.4" text-anchor="start" font-weight="bold" fill="#000">R=0.35</text>
<text x="163.80" y="355.00" font-size="5.4" text-anchor="start" font-weight="bold" fill="#000">p=0.006</text>
<text x="112.04" y="375.55" font-size="5.6" text-anchor="middle" font-weight="bold" fill="#000" transform="rotate(-90 112.04 375.55)">activation strenght</text>
<text x="105.54" y="375.55" font-size="5.6" text-anchor="middle" font-weight="bold" fill="#000" transform="rotate(-90 105.54 375.55)">Pathway</text>
<text x="253.30" y="332.40" font-size="5.5" text-anchor="middle" font-weight="bold" fill="#000">Erythropoietin</text>
<text x="253.30" y="338.60" font-size="5.5" text-anchor="middle" font-weight="bold" fill="#000">pathway</text>
<line x1="224.90" y1="381.20" x2="281.70" y2="381.20" stroke="#c4c4c4" stroke-width="0.6" stroke-dasharray="1,0.7"/>
<polygon points="230.5,365.1 235.3,368.5 240.2,371.6 245.0,374.3 249.8,376.8 254.7,378.9 259.5,380.8 264.3,382.4 269.1,383.6 274.0,384.6 278.8,385.2 278.8,396.8 274.0,393.4 269.1,390.3 264.3,387.6 259.5,385.1 254.7,382.9 249.8,381.1 245.0,379.5 240.2,378.3 235.3,377.3 230.5,376.7" fill="#cfcfcf" stroke="#b0b0b0" stroke-width="0.35"/>
<circle cx="240.9" cy="354.8" r="1.35" fill="#c6dbee" stroke="#7fa6cc" stroke-width="0.45"/>
<circle cx="261.4" cy="386.7" r="1.35" fill="#a410dc" stroke="#9000c8" stroke-width="0.45"/>
<circle cx="256.1" cy="377.6" r="1.35" fill="#e84c7c" stroke="#d03468" stroke-width="0.45"/>
<circle cx="278.8" cy="377.6" r="1.35" fill="#a8dfb6" stroke="#58b07a" stroke-width="0.45"/>
<circle cx="270.5" cy="398.0" r="1.35" fill="#c6dbee" stroke="#7fa6cc" stroke-width="0.45"/>
<circle cx="255.3" cy="394.2" r="1.35" fill="#e84c7c" stroke="#d03468" stroke-width="0.45"/>
<circle cx="245.5" cy="373.0" r="1.35" fill="#a410dc" stroke="#9000c8" stroke-width="0.45"/>
<circle cx="251.5" cy="374.5" r="1.35" fill="#a410dc" stroke="#9000c8" stroke-width="0.45"/>
<circle cx="256.8" cy="370.0" r="1.35" fill="#c6dbee" stroke="#7fa6cc" stroke-width="0.45"/>
<circle cx="265.9" cy="373.0" r="1.35" fill="#a8dfb6" stroke="#58b07a" stroke-width="0.45"/>
<circle cx="249.2" cy="376.1" r="1.35" fill="#e84c7c" stroke="#d03468" stroke-width="0.45"/>
<circle cx="262.1" cy="379.1" r="1.35" fill="#3c3c3c" stroke="#262626" stroke-width="0.45"/>
<circle cx="259.8" cy="390.5" r="1.35" fill="#c6dbee" stroke="#7fa6cc" stroke-width="0.45"/>
<circle cx="268.2" cy="396.5" r="1.35" fill="#3c3c3c" stroke="#262626" stroke-width="0.45"/>
<circle cx="241.7" cy="379.8" r="1.35" fill="#a410dc" stroke="#9000c8" stroke-width="0.45"/>
<circle cx="265.9" cy="386.7" r="1.35" fill="#a8dfb6" stroke="#58b07a" stroke-width="0.45"/>
<circle cx="240.2" cy="377.6" r="1.35" fill="#e84c7c" stroke="#d03468" stroke-width="0.45"/>
<circle cx="259.8" cy="377.6" r="1.35" fill="#e84c7c" stroke="#d03468" stroke-width="0.45"/>
<circle cx="262.1" cy="381.4" r="1.35" fill="#e84c7c" stroke="#d03468" stroke-width="0.45"/>
<circle cx="230.8" cy="379.1" r="1.35" fill="#a8dfb6" stroke="#58b07a" stroke-width="0.45"/>
<circle cx="234.1" cy="371.5" r="1.35" fill="#3c3c3c" stroke="#262626" stroke-width="0.45"/>
<circle cx="239.4" cy="374.5" r="1.35" fill="#e84c7c" stroke="#d03468" stroke-width="0.45"/>
<circle cx="248.5" cy="388.2" r="1.35" fill="#c6dbee" stroke="#7fa6cc" stroke-width="0.45"/>
<circle cx="253.0" cy="381.4" r="1.35" fill="#3c3c3c" stroke="#262626" stroke-width="0.45"/>
<circle cx="237.1" cy="366.2" r="1.35" fill="#c6dbee" stroke="#7fa6cc" stroke-width="0.45"/>
<circle cx="247.7" cy="384.1" r="1.35" fill="#e84c7c" stroke="#d03468" stroke-width="0.45"/>
<circle cx="252.3" cy="385.2" r="1.35" fill="#a8dfb6" stroke="#58b07a" stroke-width="0.45"/>
<circle cx="257.6" cy="375.3" r="1.35" fill="#c6dbee" stroke="#7fa6cc" stroke-width="0.45"/>
<circle cx="265.2" cy="377.6" r="1.35" fill="#a410dc" stroke="#9000c8" stroke-width="0.45"/>
<circle cx="259.8" cy="398.8" r="1.35" fill="#c6dbee" stroke="#7fa6cc" stroke-width="0.45"/>
<circle cx="243.2" cy="379.8" r="1.35" fill="#a410dc" stroke="#9000c8" stroke-width="0.45"/>
<circle cx="259.1" cy="385.9" r="1.35" fill="#a8dfb6" stroke="#58b07a" stroke-width="0.45"/>
<circle cx="255.3" cy="401.8" r="1.35" fill="#a8dfb6" stroke="#58b07a" stroke-width="0.45"/>
<circle cx="245.5" cy="363.9" r="1.35" fill="#c6dbee" stroke="#7fa6cc" stroke-width="0.45"/>
<circle cx="257.6" cy="398.8" r="1.35" fill="#e84c7c" stroke="#d03468" stroke-width="0.45"/>
<circle cx="237.1" cy="371.5" r="1.35" fill="#e84c7c" stroke="#d03468" stroke-width="0.45"/>
<circle cx="236.4" cy="381.1" r="1.35" fill="#e84c7c" stroke="#d03468" stroke-width="0.45"/>
<circle cx="252.3" cy="370.8" r="1.35" fill="#a410dc" stroke="#9000c8" stroke-width="0.45"/>
<circle cx="272.7" cy="388.2" r="1.35" fill="#a8dfb6" stroke="#58b07a" stroke-width="0.45"/>
<circle cx="234.8" cy="373.0" r="1.35" fill="#a410dc" stroke="#9000c8" stroke-width="0.45"/>
<circle cx="255.3" cy="375.3" r="1.35" fill="#e84c7c" stroke="#d03468" stroke-width="0.45"/>
<circle cx="261.4" cy="363.2" r="1.35" fill="#3c3c3c" stroke="#262626" stroke-width="0.45"/>
<circle cx="273.5" cy="398.0" r="1.35" fill="#c6dbee" stroke="#7fa6cc" stroke-width="0.45"/>
<line x1="230.50" y1="370.90" x2="278.80" y2="391.00" stroke="#111" stroke-width="1.2"/>
<line x1="224.90" y1="346.40" x2="224.90" y2="404.60" stroke="#000" stroke-width="0.8"/>
<line x1="224.50" y1="404.10" x2="281.70" y2="404.10" stroke="#000" stroke-width="0.8"/>
<line x1="223.20" y1="347.00" x2="224.90" y2="347.00" stroke="#000" stroke-width="0.7"/>
<text x="222.70" y="348.85" font-size="5.2" text-anchor="end" font-weight="bold" fill="#000">0.15</text>
<line x1="223.20" y1="358.40" x2="224.90" y2="358.40" stroke="#000" stroke-width="0.7"/>
<text x="222.70" y="360.25" font-size="5.2" text-anchor="end" font-weight="bold" fill="#000">0.10</text>
<line x1="223.20" y1="369.80" x2="224.90" y2="369.80" stroke="#000" stroke-width="0.7"/>
<text x="222.70" y="371.65" font-size="5.2" text-anchor="end" font-weight="bold" fill="#000">0.05</text>
<line x1="223.20" y1="381.20" x2="224.90" y2="381.20" stroke="#000" stroke-width="0.7"/>
<text x="222.70" y="383.05" font-size="5.2" text-anchor="end" font-weight="bold" fill="#000">0.00</text>
<line x1="223.20" y1="392.60" x2="224.90" y2="392.60" stroke="#000" stroke-width="0.7"/>
<text x="222.70" y="394.45" font-size="5.2" text-anchor="end" font-weight="bold" fill="#000">-0.05</text>
<line x1="223.20" y1="404.10" x2="224.90" y2="404.10" stroke="#000" stroke-width="0.7"/>
<text x="222.70" y="405.95" font-size="5.2" text-anchor="end" font-weight="bold" fill="#000">-0.10</text>
<line x1="224.90" y1="404.10" x2="224.90" y2="405.80" stroke="#000" stroke-width="0.7"/>
<text x="225.40" y="413.70" font-size="5.2" text-anchor="middle" font-weight="bold" fill="#000">9.0</text>
<line x1="243.83" y1="404.10" x2="243.83" y2="405.80" stroke="#000" stroke-width="0.7"/>
<text x="244.33" y="413.70" font-size="5.2" text-anchor="middle" font-weight="bold" fill="#000">9.5</text>
<line x1="262.77" y1="404.10" x2="262.77" y2="405.80" stroke="#000" stroke-width="0.7"/>
<text x="263.27" y="413.70" font-size="5.2" text-anchor="middle" font-weight="bold" fill="#000">10.0</text>
<line x1="281.70" y1="404.10" x2="281.70" y2="405.80" stroke="#000" stroke-width="0.7"/>
<text x="282.20" y="413.70" font-size="5.2" text-anchor="middle" font-weight="bold" fill="#000">10.5</text>
<text x="252.70" y="420.50" font-size="5.4" text-anchor="middle" font-weight="bold" fill="#000">KIT expression log2</text>
<text x="260.70" y="349.50" font-size="5.4" text-anchor="start" font-weight="bold" fill="#000">R=-0.45</text>
<text x="260.70" y="355.00" font-size="5.4" text-anchor="start" font-weight="bold" fill="#000">p=0.0002</text>
<text x="206.05" y="375.55" font-size="5.6" text-anchor="middle" font-weight="bold" fill="#000" transform="rotate(-90 206.05 375.55)">activation strenght</text>
<text x="199.55" y="375.55" font-size="5.6" text-anchor="middle" font-weight="bold" fill="#000" transform="rotate(-90 199.55 375.55)">Pathway</text>
<text x="346.90" y="339.00" font-size="5.5" text-anchor="middle" font-weight="bold" fill="#000">NGF pathway</text>
<line x1="318.50" y1="375.50" x2="375.30" y2="375.50" stroke="#c4c4c4" stroke-width="0.6" stroke-dasharray="1,0.7"/>
<polygon points="324.8,362.5 329.6,365.3 334.4,367.8 339.3,370.0 344.1,371.9 348.9,373.5 353.7,374.8 358.5,375.8 363.4,376.5 368.2,376.8 373.0,376.9 373.0,388.5 368.2,385.7 363.4,383.2 358.5,381.0 353.7,379.1 348.9,377.5 344.1,376.2 339.3,375.2 334.4,374.5 329.6,374.2 324.8,374.1" fill="#cfcfcf" stroke="#b0b0b0" stroke-width="0.35"/>
<circle cx="352.1" cy="387.4" r="1.35" fill="#c6dbee" stroke="#7fa6cc" stroke-width="0.45"/>
<circle cx="334.7" cy="349.2" r="1.35" fill="#c6dbee" stroke="#7fa6cc" stroke-width="0.45"/>
<circle cx="353.6" cy="383.6" r="1.35" fill="#c6dbee" stroke="#7fa6cc" stroke-width="0.45"/>
<circle cx="331.6" cy="372.0" r="1.35" fill="#a410dc" stroke="#9000c8" stroke-width="0.45"/>
<circle cx="356.6" cy="377.6" r="1.35" fill="#e84c7c" stroke="#d03468" stroke-width="0.45"/>
<circle cx="333.2" cy="373.8" r="1.35" fill="#e84c7c" stroke="#d03468" stroke-width="0.45"/>
<circle cx="335.4" cy="368.9" r="1.35" fill="#e84c7c" stroke="#d03468" stroke-width="0.45"/>
<circle cx="349.1" cy="373.8" r="1.35" fill="#e84c7c" stroke="#d03468" stroke-width="0.45"/>
<circle cx="345.3" cy="375.3" r="1.35" fill="#a410dc" stroke="#9000c8" stroke-width="0.45"/>
<circle cx="359.7" cy="363.9" r="1.35" fill="#a8dfb6" stroke="#58b07a" stroke-width="0.45"/>
<circle cx="339.2" cy="379.8" r="1.35" fill="#a410dc" stroke="#9000c8" stroke-width="0.45"/>
<circle cx="337.7" cy="376.1" r="1.35" fill="#a410dc" stroke="#9000c8" stroke-width="0.45"/>
<circle cx="324.8" cy="372.0" r="1.35" fill="#a8dfb6" stroke="#58b07a" stroke-width="0.45"/>
<circle cx="359.7" cy="385.9" r="1.35" fill="#a8dfb6" stroke="#58b07a" stroke-width="0.45"/>
<circle cx="352.1" cy="380.6" r="1.35" fill="#a8dfb6" stroke="#58b07a" stroke-width="0.45"/>
<circle cx="346.0" cy="357.1" r="1.35" fill="#a410dc" stroke="#9000c8" stroke-width="0.45"/>
<circle cx="372.5" cy="373.5" r="1.35" fill="#a8dfb6" stroke="#58b07a" stroke-width="0.45"/>
<circle cx="343.8" cy="373.0" r="1.35" fill="#e84c7c" stroke="#d03468" stroke-width="0.45"/>
<circle cx="349.1" cy="392.7" r="1.35" fill="#a8dfb6" stroke="#58b07a" stroke-width="0.45"/>
<circle cx="348.3" cy="387.1" r="1.35" fill="#e84c7c" stroke="#d03468" stroke-width="0.45"/>
<circle cx="355.9" cy="372.3" r="1.35" fill="#e84c7c" stroke="#d03468" stroke-width="0.45"/>
<circle cx="354.4" cy="379.8" r="1.35" fill="#a410dc" stroke="#9000c8" stroke-width="0.45"/>
<circle cx="356.6" cy="381.4" r="1.35" fill="#3c3c3c" stroke="#262626" stroke-width="0.45"/>
<circle cx="366.5" cy="372.7" r="1.35" fill="#a8dfb6" stroke="#58b07a" stroke-width="0.45"/>
<circle cx="366.5" cy="385.9" r="1.35" fill="#c6dbee" stroke="#7fa6cc" stroke-width="0.45"/>
<circle cx="348.3" cy="370.8" r="1.35" fill="#a410dc" stroke="#9000c8" stroke-width="0.45"/>
<circle cx="358.9" cy="372.3" r="1.35" fill="#a410dc" stroke="#9000c8" stroke-width="0.45"/>
<circle cx="354.4" cy="357.9" r="1.35" fill="#3c3c3c" stroke="#262626" stroke-width="0.45"/>
<circle cx="349.8" cy="361.4" r="1.35" fill="#e84c7c" stroke="#d03468" stroke-width="0.45"/>
<circle cx="349.8" cy="370.8" r="1.35" fill="#c6dbee" stroke="#7fa6cc" stroke-width="0.45"/>
<circle cx="346.8" cy="381.4" r="1.35" fill="#a8dfb6" stroke="#58b07a" stroke-width="0.45"/>
<circle cx="339.2" cy="360.2" r="1.35" fill="#c6dbee" stroke="#7fa6cc" stroke-width="0.45"/>
<circle cx="330.9" cy="355.3" r="1.35" fill="#c6dbee" stroke="#7fa6cc" stroke-width="0.45"/>
<circle cx="336.2" cy="376.1" r="1.35" fill="#a410dc" stroke="#9000c8" stroke-width="0.45"/>
<circle cx="364.2" cy="387.4" r="1.35" fill="#c6dbee" stroke="#7fa6cc" stroke-width="0.45"/>
<circle cx="342.2" cy="382.9" r="1.35" fill="#c6dbee" stroke="#7fa6cc" stroke-width="0.45"/>
<circle cx="350.6" cy="389.7" r="1.35" fill="#e84c7c" stroke="#d03468" stroke-width="0.45"/>
<circle cx="349.8" cy="392.0" r="1.35" fill="#a8dfb6" stroke="#58b07a" stroke-width="0.45"/>
<circle cx="341.5" cy="361.4" r="1.35" fill="#e84c7c" stroke="#d03468" stroke-width="0.45"/>
<circle cx="361.9" cy="382.6" r="1.35" fill="#3c3c3c" stroke="#262626" stroke-width="0.45"/>
<circle cx="329.4" cy="372.0" r="1.35" fill="#e84c7c" stroke="#d03468" stroke-width="0.45"/>
<circle cx="357.4" cy="385.2" r="1.35" fill="#c6dbee" stroke="#7fa6cc" stroke-width="0.45"/>
<circle cx="345.3" cy="385.2" r="1.35" fill="#a8dfb6" stroke="#58b07a" stroke-width="0.45"/>
<circle cx="355.1" cy="376.1" r="1.35" fill="#c6dbee" stroke="#7fa6cc" stroke-width="0.45"/>
<circle cx="330.9" cy="376.1" r="1.35" fill="#a410dc" stroke="#9000c8" stroke-width="0.45"/>
<circle cx="328.6" cy="373.0" r="1.35" fill="#3c3c3c" stroke="#262626" stroke-width="0.45"/>
<circle cx="353.6" cy="374.5" r="1.35" fill="#e84c7c" stroke="#d03468" stroke-width="0.45"/>
<circle cx="344.5" cy="373.8" r="1.35" fill="#3c3c3c" stroke="#262626" stroke-width="0.45"/>
<line x1="324.80" y1="368.30" x2="373.00" y2="382.70" stroke="#111" stroke-width="1.2"/>
<line x1="318.50" y1="346.40" x2="318.50" y2="404.60" stroke="#000" stroke-width="0.8"/>
<line x1="318.10" y1="404.10" x2="375.30" y2="404.10" stroke="#000" stroke-width="0.8"/>
<line x1="316.80" y1="347.00" x2="318.50" y2="347.00" stroke="#000" stroke-width="0.7"/>
<text x="316.30" y="348.85" font-size="5.2" text-anchor="end" font-weight="bold" fill="#000">0.2</text>
<line x1="316.80" y1="361.20" x2="318.50" y2="361.20" stroke="#000" stroke-width="0.7"/>
<text x="316.30" y="363.05" font-size="5.2" text-anchor="end" font-weight="bold" fill="#000">0.1</text>
<line x1="316.80" y1="375.50" x2="318.50" y2="375.50" stroke="#000" stroke-width="0.7"/>
<text x="316.30" y="377.35" font-size="5.2" text-anchor="end" font-weight="bold" fill="#000">0.0</text>
<line x1="316.80" y1="389.70" x2="318.50" y2="389.70" stroke="#000" stroke-width="0.7"/>
<text x="316.30" y="391.55" font-size="5.2" text-anchor="end" font-weight="bold" fill="#000">-0.1</text>
<line x1="316.80" y1="404.10" x2="318.50" y2="404.10" stroke="#000" stroke-width="0.7"/>
<text x="316.30" y="405.95" font-size="5.2" text-anchor="end" font-weight="bold" fill="#000">-0.2</text>
<line x1="318.50" y1="404.10" x2="318.50" y2="405.80" stroke="#000" stroke-width="0.7"/>
<text x="319.00" y="413.70" font-size="5.2" text-anchor="middle" font-weight="bold" fill="#000">9.0</text>
<line x1="337.43" y1="404.10" x2="337.43" y2="405.80" stroke="#000" stroke-width="0.7"/>
<text x="337.93" y="413.70" font-size="5.2" text-anchor="middle" font-weight="bold" fill="#000">9.5</text>
<line x1="356.37" y1="404.10" x2="356.37" y2="405.80" stroke="#000" stroke-width="0.7"/>
<text x="356.87" y="413.70" font-size="5.2" text-anchor="middle" font-weight="bold" fill="#000">10.0</text>
<line x1="375.30" y1="404.10" x2="375.30" y2="405.80" stroke="#000" stroke-width="0.7"/>
<text x="375.80" y="413.70" font-size="5.2" text-anchor="middle" font-weight="bold" fill="#000">10.5</text>
<text x="346.30" y="420.50" font-size="5.4" text-anchor="middle" font-weight="bold" fill="#000">KIT expression log2</text>
<text x="354.30" y="349.50" font-size="5.4" text-anchor="start" font-weight="bold" fill="#000">R=-0.37</text>
<text x="354.30" y="355.00" font-size="5.4" text-anchor="start" font-weight="bold" fill="#000">p=0.009</text>
<text x="302.54" y="375.55" font-size="5.6" text-anchor="middle" font-weight="bold" fill="#000" transform="rotate(-90 302.54 375.55)">activation strenght</text>
<text x="296.04" y="375.55" font-size="5.6" text-anchor="middle" font-weight="bold" fill="#000" transform="rotate(-90 296.04 375.55)">Pathway</text>
<text x="63.50" y="446.40" font-size="5.5" text-anchor="middle" font-weight="bold" fill="#000">Tumor infiltration</text>
<text x="63.50" y="452.60" font-size="5.5" text-anchor="middle" font-weight="bold" fill="#000">pathway</text>
<line x1="35.10" y1="489.25" x2="91.90" y2="489.25" stroke="#c4c4c4" stroke-width="0.6" stroke-dasharray="1,0.7"/>
<polygon points="41.3,472.2 46.2,475.9 51.0,479.3 55.9,482.4 60.8,485.2 65.7,487.8 70.5,489.9 75.4,491.8 80.3,493.4 85.1,494.7 90.0,495.7 90.0,507.3 85.1,503.6 80.3,500.2 75.4,497.1 70.5,494.3 65.7,491.8 60.8,489.6 55.9,487.7 51.0,486.1 46.2,484.8 41.3,483.8" fill="#cfcfcf" stroke="#b0b0b0" stroke-width="0.35"/>
<circle cx="72.9" cy="495.4" r="1.35" fill="#e84c7c" stroke="#d03468" stroke-width="0.45"/>
<circle cx="51.7" cy="474.9" r="1.35" fill="#e84c7c" stroke="#d03468" stroke-width="0.45"/>
<circle cx="47.1" cy="500.7" r="1.35" fill="#a410dc" stroke="#9000c8" stroke-width="0.45"/>
<circle cx="45.6" cy="478.7" r="1.35" fill="#a410dc" stroke="#9000c8" stroke-width="0.45"/>
<circle cx="48.6" cy="485.5" r="1.35" fill="#e84c7c" stroke="#d03468" stroke-width="0.45"/>
<circle cx="88.8" cy="502.9" r="1.35" fill="#a8dfb6" stroke="#58b07a" stroke-width="0.45"/>
<circle cx="65.3" cy="488.5" r="1.35" fill="#e84c7c" stroke="#d03468" stroke-width="0.45"/>
<circle cx="75.9" cy="488.5" r="1.35" fill="#a8dfb6" stroke="#58b07a" stroke-width="0.45"/>
<circle cx="62.3" cy="486.3" r="1.35" fill="#e84c7c" stroke="#d03468" stroke-width="0.45"/>
<circle cx="69.8" cy="474.9" r="1.35" fill="#a8dfb6" stroke="#58b07a" stroke-width="0.45"/>
<circle cx="50.9" cy="477.9" r="1.35" fill="#c6dbee" stroke="#7fa6cc" stroke-width="0.45"/>
<circle cx="54.7" cy="490.1" r="1.35" fill="#a410dc" stroke="#9000c8" stroke-width="0.45"/>
<circle cx="61.5" cy="490.1" r="1.35" fill="#e84c7c" stroke="#d03468" stroke-width="0.45"/>
<circle cx="69.8" cy="499.9" r="1.35" fill="#e84c7c" stroke="#d03468" stroke-width="0.45"/>
<circle cx="46.4" cy="483.2" r="1.35" fill="#e84c7c" stroke="#d03468" stroke-width="0.45"/>
<circle cx="72.1" cy="483.2" r="1.35" fill="#e84c7c" stroke="#d03468" stroke-width="0.45"/>
<circle cx="66.8" cy="502.2" r="1.35" fill="#e84c7c" stroke="#d03468" stroke-width="0.45"/>
<circle cx="60.0" cy="481.7" r="1.35" fill="#e84c7c" stroke="#d03468" stroke-width="0.45"/>
<circle cx="57.7" cy="487.0" r="1.35" fill="#e84c7c" stroke="#d03468" stroke-width="0.45"/>
<circle cx="82.7" cy="502.2" r="1.35" fill="#a8dfb6" stroke="#58b07a" stroke-width="0.45"/>
<circle cx="40.8" cy="486.3" r="1.35" fill="#a8dfb6" stroke="#58b07a" stroke-width="0.45"/>
<circle cx="61.5" cy="493.1" r="1.35" fill="#a410dc" stroke="#9000c8" stroke-width="0.45"/>
<circle cx="65.3" cy="502.9" r="1.35" fill="#e84c7c" stroke="#d03468" stroke-width="0.45"/>
<circle cx="56.2" cy="483.2" r="1.35" fill="#3c3c3c" stroke="#262626" stroke-width="0.45"/>
<circle cx="75.9" cy="499.2" r="1.35" fill="#a8dfb6" stroke="#58b07a" stroke-width="0.45"/>
<circle cx="62.3" cy="474.2" r="1.35" fill="#a410dc" stroke="#9000c8" stroke-width="0.45"/>
<circle cx="72.1" cy="484.0" r="1.35" fill="#a8dfb6" stroke="#58b07a" stroke-width="0.45"/>
<circle cx="71.4" cy="504.5" r="1.35" fill="#a410dc" stroke="#9000c8" stroke-width="0.45"/>
<circle cx="58.5" cy="500.7" r="1.35" fill="#c6dbee" stroke="#7fa6cc" stroke-width="0.45"/>
<circle cx="75.2" cy="492.3" r="1.35" fill="#a410dc" stroke="#9000c8" stroke-width="0.45"/>
<circle cx="61.5" cy="499.2" r="1.35" fill="#a8dfb6" stroke="#58b07a" stroke-width="0.45"/>
<circle cx="44.1" cy="484.8" r="1.35" fill="#3c3c3c" stroke="#262626" stroke-width="0.45"/>
<circle cx="53.9" cy="493.1" r="1.35" fill="#a410dc" stroke="#9000c8" stroke-width="0.45"/>
<circle cx="72.1" cy="487.0" r="1.35" fill="#3c3c3c" stroke="#262626" stroke-width="0.45"/>
<circle cx="65.3" cy="477.5" r="1.35" fill="#c6dbee" stroke="#7fa6cc" stroke-width="0.45"/>
<circle cx="63.0" cy="477.9" r="1.35" fill="#e84c7c" stroke="#d03468" stroke-width="0.45"/>
<circle cx="67.6" cy="490.8" r="1.35" fill="#a8dfb6" stroke="#58b07a" stroke-width="0.45"/>
<circle cx="67.6" cy="485.5" r="1.35" fill="#c6dbee" stroke="#7fa6cc" stroke-width="0.45"/>
<circle cx="70.6" cy="505.2" r="1.35" fill="#c6dbee" stroke="#7fa6cc" stroke-width="0.45"/>
<circle cx="73.6" cy="509.0" r="1.35" fill="#c6dbee" stroke="#7fa6cc" stroke-width="0.45"/>
<circle cx="72.9" cy="502.9" r="1.35" fill="#c6dbee" stroke="#7fa6cc" stroke-width="0.45"/>
<circle cx="80.5" cy="499.9" r="1.35" fill="#c6dbee" stroke="#7fa6cc" stroke-width="0.45"/>
<circle cx="78.2" cy="494.6" r="1.35" fill="#3c3c3c" stroke="#262626" stroke-width="0.45"/>
<circle cx="83.5" cy="506.0" r="1.35" fill="#c6dbee" stroke="#7fa6cc" stroke-width="0.45"/>
<circle cx="47.1" cy="469.3" r="1.35" fill="#c6dbee" stroke="#7fa6cc" stroke-width="0.45"/>
<circle cx="60.0" cy="484.8" r="1.35" fill="#a410dc" stroke="#9000c8" stroke-width="0.45"/>
<circle cx="50.2" cy="482.5" r="1.35" fill="#e84c7c" stroke="#d03468" stroke-width="0.45"/>
<circle cx="65.3" cy="481.7" r="1.35" fill="#a410dc" stroke="#9000c8" stroke-width="0.45"/>
<circle cx="71.4" cy="482.0" r="1.35" fill="#3c3c3c" stroke="#262626" stroke-width="0.45"/>
<circle cx="52.4" cy="478.7" r="1.35" fill="#a410dc" stroke="#9000c8" stroke-width="0.45"/>
<circle cx="56.2" cy="469.6" r="1.35" fill="#c6dbee" stroke="#7fa6cc" stroke-width="0.45"/>
<line x1="41.30" y1="478.00" x2="90.00" y2="501.50" stroke="#111" stroke-width="1.2"/>
<line x1="35.10" y1="460.40" x2="35.10" y2="518.00" stroke="#000" stroke-width="0.8"/>
<line x1="34.70" y1="517.50" x2="91.90" y2="517.50" stroke="#000" stroke-width="0.8"/>
<line x1="33.40" y1="461.00" x2="35.10" y2="461.00" stroke="#000" stroke-width="0.7"/>
<text x="32.90" y="462.85" font-size="5.2" text-anchor="end" font-weight="bold" fill="#000">0.06</text>
<line x1="33.40" y1="470.42" x2="35.10" y2="470.42" stroke="#000" stroke-width="0.7"/>
<text x="32.90" y="472.27" font-size="5.2" text-anchor="end" font-weight="bold" fill="#000">0.04</text>
<line x1="33.40" y1="479.83" x2="35.10" y2="479.83" stroke="#000" stroke-width="0.7"/>
<text x="32.90" y="481.68" font-size="5.2" text-anchor="end" font-weight="bold" fill="#000">0.02</text>
<line x1="33.40" y1="489.25" x2="35.10" y2="489.25" stroke="#000" stroke-width="0.7"/>
<text x="32.90" y="491.10" font-size="5.2" text-anchor="end" font-weight="bold" fill="#000">0.00</text>
<line x1="33.40" y1="498.67" x2="35.10" y2="498.67" stroke="#000" stroke-width="0.7"/>
<text x="32.90" y="500.52" font-size="5.2" text-anchor="end" font-weight="bold" fill="#000">-0.02</text>
<line x1="33.40" y1="508.08" x2="35.10" y2="508.08" stroke="#000" stroke-width="0.7"/>
<text x="32.90" y="509.93" font-size="5.2" text-anchor="end" font-weight="bold" fill="#000">-0.04</text>
<line x1="33.40" y1="517.50" x2="35.10" y2="517.50" stroke="#000" stroke-width="0.7"/>
<text x="32.90" y="519.35" font-size="5.2" text-anchor="end" font-weight="bold" fill="#000">-0.06</text>
<line x1="35.10" y1="517.50" x2="35.10" y2="519.20" stroke="#000" stroke-width="0.7"/>
<text x="35.60" y="527.10" font-size="5.2" text-anchor="middle" font-weight="bold" fill="#000">9.0</text>
<line x1="54.03" y1="517.50" x2="54.03" y2="519.20" stroke="#000" stroke-width="0.7"/>
<text x="54.53" y="527.10" font-size="5.2" text-anchor="middle" font-weight="bold" fill="#000">9.5</text>
<line x1="72.97" y1="517.50" x2="72.97" y2="519.20" stroke="#000" stroke-width="0.7"/>
<text x="73.47" y="527.10" font-size="5.2" text-anchor="middle" font-weight="bold" fill="#000">10.0</text>
<line x1="91.90" y1="517.50" x2="91.90" y2="519.20" stroke="#000" stroke-width="0.7"/>
<text x="92.40" y="527.10" font-size="5.2" text-anchor="middle" font-weight="bold" fill="#000">10.5</text>
<text x="62.90" y="533.90" font-size="5.4" text-anchor="middle" font-weight="bold" fill="#000">KIT expression log2</text>
<text x="70.90" y="463.50" font-size="5.4" text-anchor="start" font-weight="bold" fill="#000">R=-0.51</text>
<text x="70.90" y="469.00" font-size="5.4" text-anchor="start" font-weight="bold" fill="#000">p=0.0008</text>
<text x="16.25" y="489.25" font-size="5.6" text-anchor="middle" font-weight="bold" fill="#000" transform="rotate(-90 16.25 489.25)">activation strenght</text>
<text x="9.75" y="489.25" font-size="5.6" text-anchor="middle" font-weight="bold" fill="#000" transform="rotate(-90 9.75 489.25)">Pathway</text>
<text x="157.30" y="446.20" font-size="5.5" text-anchor="middle" font-weight="bold" fill="#000">ATM Pathway G2-M</text>
<text x="157.30" y="452.40" font-size="5.5" text-anchor="middle" font-weight="bold" fill="#000">Checkpoint Arrest</text>
<line x1="128.90" y1="489.05" x2="185.70" y2="489.05" stroke="#c4c4c4" stroke-width="0.6" stroke-dasharray="1,0.7"/>
<polygon points="134.2,469.9 138.9,473.8 143.6,477.4 148.3,480.7 153.0,483.7 157.7,486.4 162.4,488.7 167.1,490.8 171.8,492.6 176.5,494.0 181.2,495.2 181.2,506.8 176.5,502.9 171.8,499.3 167.1,496.0 162.4,493.0 157.7,490.4 153.0,488.0 148.3,485.9 143.6,484.1 138.9,482.7 134.2,481.5" fill="#cfcfcf" stroke="#b0b0b0" stroke-width="0.35"/>
<circle cx="137.3" cy="480.2" r="1.35" fill="#a410dc" stroke="#9000c8" stroke-width="0.45"/>
<circle cx="160.1" cy="510.5" r="1.35" fill="#e84c7c" stroke="#d03468" stroke-width="0.45"/>
<circle cx="155.5" cy="492.6" r="1.35" fill="#3c3c3c" stroke="#262626" stroke-width="0.45"/>
<circle cx="166.1" cy="497.6" r="1.35" fill="#e84c7c" stroke="#d03468" stroke-width="0.45"/>
<circle cx="175.2" cy="492.3" r="1.35" fill="#a8dfb6" stroke="#58b07a" stroke-width="0.45"/>
<circle cx="165.4" cy="497.6" r="1.35" fill="#c6dbee" stroke="#7fa6cc" stroke-width="0.45"/>
<circle cx="160.1" cy="477.2" r="1.35" fill="#c6dbee" stroke="#7fa6cc" stroke-width="0.45"/>
<circle cx="155.5" cy="488.5" r="1.35" fill="#a410dc" stroke="#9000c8" stroke-width="0.45"/>
<circle cx="134.3" cy="472.9" r="1.35" fill="#a8dfb6" stroke="#58b07a" stroke-width="0.45"/>
<circle cx="154.8" cy="486.3" r="1.35" fill="#e84c7c" stroke="#d03468" stroke-width="0.45"/>
<circle cx="161.6" cy="487.8" r="1.35" fill="#e84c7c" stroke="#d03468" stroke-width="0.45"/>
<circle cx="139.6" cy="477.9" r="1.35" fill="#e84c7c" stroke="#d03468" stroke-width="0.45"/>
<circle cx="169.2" cy="499.9" r="1.35" fill="#a8dfb6" stroke="#58b07a" stroke-width="0.45"/>
<circle cx="148.7" cy="484.0" r="1.35" fill="#c6dbee" stroke="#7fa6cc" stroke-width="0.45"/>
<circle cx="165.4" cy="488.5" r="1.35" fill="#e84c7c" stroke="#d03468" stroke-width="0.45"/>
<circle cx="140.4" cy="504.5" r="1.35" fill="#a410dc" stroke="#9000c8" stroke-width="0.45"/>
<circle cx="147.2" cy="487.8" r="1.35" fill="#a410dc" stroke="#9000c8" stroke-width="0.45"/>
<circle cx="181.3" cy="499.9" r="1.35" fill="#a8dfb6" stroke="#58b07a" stroke-width="0.45"/>
<circle cx="154.8" cy="477.2" r="1.35" fill="#a410dc" stroke="#9000c8" stroke-width="0.45"/>
<circle cx="163.1" cy="504.5" r="1.35" fill="#c6dbee" stroke="#7fa6cc" stroke-width="0.45"/>
<circle cx="145.7" cy="483.2" r="1.35" fill="#c6dbee" stroke="#7fa6cc" stroke-width="0.45"/>
<circle cx="154.8" cy="504.5" r="1.35" fill="#a8dfb6" stroke="#58b07a" stroke-width="0.45"/>
<circle cx="160.8" cy="484.0" r="1.35" fill="#c6dbee" stroke="#7fa6cc" stroke-width="0.45"/>
<circle cx="158.5" cy="482.5" r="1.35" fill="#e84c7c" stroke="#d03468" stroke-width="0.45"/>
<circle cx="164.6" cy="488.1" r="1.35" fill="#3c3c3c" stroke="#262626" stroke-width="0.45"/>
<circle cx="144.2" cy="473.4" r="1.35" fill="#c6dbee" stroke="#7fa6cc" stroke-width="0.45"/>
<circle cx="166.1" cy="502.2" r="1.35" fill="#c6dbee" stroke="#7fa6cc" stroke-width="0.45"/>
<circle cx="148.7" cy="488.5" r="1.35" fill="#a410dc" stroke="#9000c8" stroke-width="0.45"/>
<circle cx="154.0" cy="471.9" r="1.35" fill="#e84c7c" stroke="#d03468" stroke-width="0.45"/>
<circle cx="164.6" cy="477.9" r="1.35" fill="#a8dfb6" stroke="#58b07a" stroke-width="0.45"/>
<circle cx="158.5" cy="514.3" r="1.35" fill="#a8dfb6" stroke="#58b07a" stroke-width="0.45"/>
<circle cx="176.7" cy="512.8" r="1.35" fill="#c6dbee" stroke="#7fa6cc" stroke-width="0.45"/>
<circle cx="145.7" cy="482.5" r="1.35" fill="#a410dc" stroke="#9000c8" stroke-width="0.45"/>
<circle cx="159.3" cy="484.0" r="1.35" fill="#e84c7c" stroke="#d03468" stroke-width="0.45"/>
<circle cx="143.4" cy="481.7" r="1.35" fill="#e84c7c" stroke="#d03468" stroke-width="0.45"/>
<circle cx="164.6" cy="505.2" r="1.35" fill="#a410dc" stroke="#9000c8" stroke-width="0.45"/>
<circle cx="152.5" cy="475.7" r="1.35" fill="#e84c7c" stroke="#d03468" stroke-width="0.45"/>
<circle cx="166.1" cy="478.7" r="1.35" fill="#a8dfb6" stroke="#58b07a" stroke-width="0.45"/>
<circle cx="163.1" cy="495.4" r="1.35" fill="#a8dfb6" stroke="#58b07a" stroke-width="0.45"/>
<circle cx="150.2" cy="468.1" r="1.35" fill="#e84c7c" stroke="#d03468" stroke-width="0.45"/>
<circle cx="148.7" cy="474.5" r="1.35" fill="#3c3c3c" stroke="#262626" stroke-width="0.45"/>
<circle cx="165.4" cy="511.3" r="1.35" fill="#c6dbee" stroke="#7fa6cc" stroke-width="0.45"/>
<circle cx="161.6" cy="498.4" r="1.35" fill="#a8dfb6" stroke="#58b07a" stroke-width="0.45"/>
<circle cx="170.7" cy="487.8" r="1.35" fill="#3c3c3c" stroke="#262626" stroke-width="0.45"/>
<circle cx="173.7" cy="510.5" r="1.35" fill="#c6dbee" stroke="#7fa6cc" stroke-width="0.45"/>
<circle cx="157.0" cy="478.7" r="1.35" fill="#a410dc" stroke="#9000c8" stroke-width="0.45"/>
<circle cx="168.4" cy="482.5" r="1.35" fill="#a410dc" stroke="#9000c8" stroke-width="0.45"/>
<circle cx="141.1" cy="498.4" r="1.35" fill="#e84c7c" stroke="#d03468" stroke-width="0.45"/>
<circle cx="157.8" cy="491.6" r="1.35" fill="#e84c7c" stroke="#d03468" stroke-width="0.45"/>
<circle cx="154.8" cy="487.0" r="1.35" fill="#a410dc" stroke="#9000c8" stroke-width="0.45"/>
<circle cx="140.4" cy="468.8" r="1.35" fill="#c6dbee" stroke="#7fa6cc" stroke-width="0.45"/>
<circle cx="159.3" cy="487.0" r="1.35" fill="#c6dbee" stroke="#7fa6cc" stroke-width="0.45"/>
<circle cx="137.3" cy="470.8" r="1.35" fill="#3c3c3c" stroke="#262626" stroke-width="0.45"/>
<circle cx="162.3" cy="490.1" r="1.35" fill="#3c3c3c" stroke="#262626" stroke-width="0.45"/>
<circle cx="164.6" cy="490.1" r="1.35" fill="#a410dc" stroke="#9000c8" stroke-width="0.45"/>
<circle cx="157.8" cy="508.2" r="1.35" fill="#e84c7c" stroke="#d03468" stroke-width="0.45"/>
<line x1="134.20" y1="475.70" x2="181.20" y2="501.00" stroke="#111" stroke-width="1.2"/>
<line x1="128.90" y1="460.20" x2="128.90" y2="518.00" stroke="#000" stroke-width="0.8"/>
<line x1="128.50" y1="517.50" x2="185.70" y2="517.50" stroke="#000" stroke-width="0.8"/>
<line x1="127.20" y1="460.80" x2="128.90" y2="460.80" stroke="#000" stroke-width="0.7"/>
<text x="126.70" y="462.65" font-size="5.2" text-anchor="end" font-weight="bold" fill="#000">0.2</text>
<line x1="127.20" y1="474.92" x2="128.90" y2="474.92" stroke="#000" stroke-width="0.7"/>
<text x="126.70" y="476.77" font-size="5.2" text-anchor="end" font-weight="bold" fill="#000">0.1</text>
<line x1="127.20" y1="489.05" x2="128.90" y2="489.05" stroke="#000" stroke-width="0.7"/>
<text x="126.70" y="490.90" font-size="5.2" text-anchor="end" font-weight="bold" fill="#000">0.0</text>
<line x1="127.20" y1="503.17" x2="128.90" y2="503.17" stroke="#000" stroke-width="0.7"/>
<text x="126.70" y="505.02" font-size="5.2" text-anchor="end" font-weight="bold" fill="#000">-0.1</text>
<line x1="127.20" y1="517.50" x2="128.90" y2="517.50" stroke="#000" stroke-width="0.7"/>
<text x="126.70" y="519.35" font-size="5.2" text-anchor="end" font-weight="bold" fill="#000">-0.2</text>
<line x1="128.90" y1="517.50" x2="128.90" y2="519.20" stroke="#000" stroke-width="0.7"/>
<text x="129.40" y="527.10" font-size="5.2" text-anchor="middle" font-weight="bold" fill="#000">9.0</text>
<line x1="147.83" y1="517.50" x2="147.83" y2="519.20" stroke="#000" stroke-width="0.7"/>
<text x="148.33" y="527.10" font-size="5.2" text-anchor="middle" font-weight="bold" fill="#000">9.5</text>
<line x1="166.77" y1="517.50" x2="166.77" y2="519.20" stroke="#000" stroke-width="0.7"/>
<text x="167.27" y="527.10" font-size="5.2" text-anchor="middle" font-weight="bold" fill="#000">10.0</text>
<line x1="185.70" y1="517.50" x2="185.70" y2="519.20" stroke="#000" stroke-width="0.7"/>
<text x="186.20" y="527.10" font-size="5.2" text-anchor="middle" font-weight="bold" fill="#000">10.5</text>
<text x="156.70" y="533.90" font-size="5.4" text-anchor="middle" font-weight="bold" fill="#000">KIT expression log2</text>
<text x="164.70" y="463.30" font-size="5.4" text-anchor="start" font-weight="bold" fill="#000">R=-0.46</text>
<text x="164.70" y="468.80" font-size="5.4" text-anchor="start" font-weight="bold" fill="#000">p=0.0002</text>
<text x="112.94" y="489.15" font-size="5.6" text-anchor="middle" font-weight="bold" fill="#000" transform="rotate(-90 112.94 489.15)">activation strenght</text>
<text x="106.44" y="489.15" font-size="5.6" text-anchor="middle" font-weight="bold" fill="#000" transform="rotate(-90 106.44 489.15)">Pathway</text>
<text x="253.30" y="452.50" font-size="5.5" text-anchor="middle" font-weight="bold" fill="#000">EGF pathway</text>
<line x1="224.90" y1="498.53" x2="281.70" y2="498.53" stroke="#c4c4c4" stroke-width="0.6" stroke-dasharray="1,0.7"/>
<polygon points="230.5,485.6 235.3,488.4 240.2,490.9 245.0,493.1 249.8,495.0 254.7,496.5 259.5,497.8 264.3,498.8 269.1,499.5 274.0,499.8 278.8,499.9 278.8,511.5 274.0,508.7 269.1,506.2 264.3,504.0 259.5,502.1 254.7,500.5 249.8,499.3 245.0,498.3 240.2,497.6 235.3,497.3 230.5,497.2" fill="#cfcfcf" stroke="#b0b0b0" stroke-width="0.35"/>
<circle cx="256.1" cy="499.2" r="1.35" fill="#e84c7c" stroke="#d03468" stroke-width="0.45"/>
<circle cx="265.9" cy="508.2" r="1.35" fill="#a8dfb6" stroke="#58b07a" stroke-width="0.45"/>
<circle cx="252.3" cy="484.8" r="1.35" fill="#a410dc" stroke="#9000c8" stroke-width="0.45"/>
<circle cx="259.8" cy="510.5" r="1.35" fill="#e84c7c" stroke="#d03468" stroke-width="0.45"/>
<circle cx="230.8" cy="489.3" r="1.35" fill="#a8dfb6" stroke="#58b07a" stroke-width="0.45"/>
<circle cx="242.4" cy="506.3" r="1.35" fill="#a410dc" stroke="#9000c8" stroke-width="0.45"/>
<circle cx="243.9" cy="496.9" r="1.35" fill="#a410dc" stroke="#9000c8" stroke-width="0.45"/>
<circle cx="261.4" cy="493.1" r="1.35" fill="#3c3c3c" stroke="#262626" stroke-width="0.45"/>
<circle cx="240.9" cy="468.8" r="1.35" fill="#c6dbee" stroke="#7fa6cc" stroke-width="0.45"/>
<circle cx="252.3" cy="502.9" r="1.35" fill="#3c3c3c" stroke="#262626" stroke-width="0.45"/>
<circle cx="259.8" cy="512.8" r="1.35" fill="#c6dbee" stroke="#7fa6cc" stroke-width="0.45"/>
<circle cx="278.0" cy="502.2" r="1.35" fill="#a8dfb6" stroke="#58b07a" stroke-width="0.45"/>
<circle cx="256.8" cy="505.2" r="1.35" fill="#a8dfb6" stroke="#58b07a" stroke-width="0.45"/>
<circle cx="234.4" cy="488.1" r="1.35" fill="#3c3c3c" stroke="#262626" stroke-width="0.45"/>
<circle cx="247.7" cy="486.0" r="1.35" fill="#e84c7c" stroke="#d03468" stroke-width="0.45"/>
<circle cx="262.1" cy="490.1" r="1.35" fill="#c6dbee" stroke="#7fa6cc" stroke-width="0.45"/>
<circle cx="245.5" cy="487.8" r="1.35" fill="#c6dbee" stroke="#7fa6cc" stroke-width="0.45"/>
<circle cx="265.2" cy="494.6" r="1.35" fill="#a410dc" stroke="#9000c8" stroke-width="0.45"/>
<circle cx="251.5" cy="494.6" r="1.35" fill="#e84c7c" stroke="#d03468" stroke-width="0.45"/>
<circle cx="235.6" cy="494.6" r="1.35" fill="#a410dc" stroke="#9000c8" stroke-width="0.45"/>
<circle cx="262.1" cy="499.6" r="1.35" fill="#e84c7c" stroke="#d03468" stroke-width="0.45"/>
<circle cx="248.5" cy="508.2" r="1.35" fill="#c6dbee" stroke="#7fa6cc" stroke-width="0.45"/>
<circle cx="261.4" cy="504.5" r="1.35" fill="#a8dfb6" stroke="#58b07a" stroke-width="0.45"/>
<circle cx="256.1" cy="481.7" r="1.35" fill="#e84c7c" stroke="#d03468" stroke-width="0.45"/>
<circle cx="253.0" cy="502.2" r="1.35" fill="#a410dc" stroke="#9000c8" stroke-width="0.45"/>
<circle cx="251.5" cy="511.3" r="1.35" fill="#a8dfb6" stroke="#58b07a" stroke-width="0.45"/>
<circle cx="273.5" cy="504.5" r="1.35" fill="#c6dbee" stroke="#7fa6cc" stroke-width="0.45"/>
<circle cx="253.0" cy="496.9" r="1.35" fill="#a410dc" stroke="#9000c8" stroke-width="0.45"/>
<circle cx="262.1" cy="494.6" r="1.35" fill="#a8dfb6" stroke="#58b07a" stroke-width="0.45"/>
<circle cx="270.5" cy="498.4" r="1.35" fill="#c6dbee" stroke="#7fa6cc" stroke-width="0.45"/>
<circle cx="237.1" cy="496.9" r="1.35" fill="#e84c7c" stroke="#d03468" stroke-width="0.45"/>
<circle cx="260.6" cy="506.7" r="1.35" fill="#a410dc" stroke="#9000c8" stroke-width="0.45"/>
<circle cx="254.5" cy="504.5" r="1.35" fill="#e84c7c" stroke="#d03468" stroke-width="0.45"/>
<circle cx="240.2" cy="503.2" r="1.35" fill="#e84c7c" stroke="#d03468" stroke-width="0.45"/>
<circle cx="250.0" cy="499.6" r="1.35" fill="#e84c7c" stroke="#d03468" stroke-width="0.45"/>
<circle cx="253.0" cy="494.6" r="1.35" fill="#e84c7c" stroke="#d03468" stroke-width="0.45"/>
<circle cx="237.9" cy="496.1" r="1.35" fill="#a410dc" stroke="#9000c8" stroke-width="0.45"/>
<circle cx="261.4" cy="499.2" r="1.35" fill="#c6dbee" stroke="#7fa6cc" stroke-width="0.45"/>
<circle cx="245.5" cy="502.9" r="1.35" fill="#a410dc" stroke="#9000c8" stroke-width="0.45"/>
<circle cx="257.6" cy="494.6" r="1.35" fill="#c6dbee" stroke="#7fa6cc" stroke-width="0.45"/>
<circle cx="262.1" cy="503.2" r="1.35" fill="#3c3c3c" stroke="#262626" stroke-width="0.45"/>
<circle cx="265.9" cy="487.0" r="1.35" fill="#a8dfb6" stroke="#58b07a" stroke-width="0.45"/>
<circle cx="272.0" cy="498.4" r="1.35" fill="#a8dfb6" stroke="#58b07a" stroke-width="0.45"/>
<circle cx="237.1" cy="479.5" r="1.35" fill="#c6dbee" stroke="#7fa6cc" stroke-width="0.45"/>
<circle cx="262.9" cy="502.2" r="1.35" fill="#e84c7c" stroke="#d03468" stroke-width="0.45"/>
<circle cx="268.2" cy="503.7" r="1.35" fill="#3c3c3c" stroke="#262626" stroke-width="0.45"/>
<line x1="230.50" y1="491.40" x2="278.80" y2="505.70" stroke="#111" stroke-width="1.2"/>
<line x1="224.90" y1="459.90" x2="224.90" y2="518.00" stroke="#000" stroke-width="0.8"/>
<line x1="224.50" y1="517.50" x2="281.70" y2="517.50" stroke="#000" stroke-width="0.8"/>
<line x1="223.20" y1="460.50" x2="224.90" y2="460.50" stroke="#000" stroke-width="0.7"/>
<text x="222.70" y="462.35" font-size="5.2" text-anchor="end" font-weight="bold" fill="#000">0.20</text>
<line x1="223.20" y1="469.98" x2="224.90" y2="469.98" stroke="#000" stroke-width="0.7"/>
<text x="222.70" y="471.83" font-size="5.2" text-anchor="end" font-weight="bold" fill="#000">0.15</text>
<line x1="223.20" y1="479.47" x2="224.90" y2="479.47" stroke="#000" stroke-width="0.7"/>
<text x="222.70" y="481.32" font-size="5.2" text-anchor="end" font-weight="bold" fill="#000">0.10</text>
<line x1="223.20" y1="489.05" x2="224.90" y2="489.05" stroke="#000" stroke-width="0.7"/>
<text x="222.70" y="490.90" font-size="5.2" text-anchor="end" font-weight="bold" fill="#000">0.05</text>
<line x1="223.20" y1="498.53" x2="224.90" y2="498.53" stroke="#000" stroke-width="0.7"/>
<text x="222.70" y="500.38" font-size="5.2" text-anchor="end" font-weight="bold" fill="#000">0.00</text>
<line x1="223.20" y1="508.02" x2="224.90" y2="508.02" stroke="#000" stroke-width="0.7"/>
<text x="222.70" y="509.87" font-size="5.2" text-anchor="end" font-weight="bold" fill="#000">-0.05</text>
<line x1="223.20" y1="517.50" x2="224.90" y2="517.50" stroke="#000" stroke-width="0.7"/>
<text x="222.70" y="519.35" font-size="5.2" text-anchor="end" font-weight="bold" fill="#000">-0.10</text>
<line x1="224.90" y1="517.50" x2="224.90" y2="519.20" stroke="#000" stroke-width="0.7"/>
<text x="225.40" y="527.10" font-size="5.2" text-anchor="middle" font-weight="bold" fill="#000">9.0</text>
<line x1="243.83" y1="517.50" x2="243.83" y2="519.20" stroke="#000" stroke-width="0.7"/>
<text x="244.33" y="527.10" font-size="5.2" text-anchor="middle" font-weight="bold" fill="#000">9.5</text>
<line x1="262.77" y1="517.50" x2="262.77" y2="519.20" stroke="#000" stroke-width="0.7"/>
<text x="263.27" y="527.10" font-size="5.2" text-anchor="middle" font-weight="bold" fill="#000">10.0</text>
<line x1="281.70" y1="517.50" x2="281.70" y2="519.20" stroke="#000" stroke-width="0.7"/>
<text x="282.20" y="527.10" font-size="5.2" text-anchor="middle" font-weight="bold" fill="#000">10.5</text>
<text x="252.70" y="533.90" font-size="5.4" text-anchor="middle" font-weight="bold" fill="#000">KIT expression log2</text>
<text x="260.70" y="463.00" font-size="5.4" text-anchor="start" font-weight="bold" fill="#000">R=-0.35</text>
<text x="260.70" y="468.50" font-size="5.4" text-anchor="start" font-weight="bold" fill="#000">p=0.006</text>
<text x="206.05" y="489.00" font-size="5.6" text-anchor="middle" font-weight="bold" fill="#000" transform="rotate(-90 206.05 489.00)">activation strenght</text>
<text x="199.55" y="489.00" font-size="5.6" text-anchor="middle" font-weight="bold" fill="#000" transform="rotate(-90 199.55 489.00)">Pathway</text>
<text x="347.10" y="452.80" font-size="5.5" text-anchor="middle" font-weight="bold" fill="#000">VEGF pathway</text>
<line x1="318.70" y1="494.80" x2="375.50" y2="494.80" stroke="#c4c4c4" stroke-width="0.6" stroke-dasharray="1,0.7"/>
<polygon points="324.8,481.6 329.6,484.3 334.4,486.8 339.3,488.9 344.1,490.7 348.9,492.2 353.7,493.4 358.5,494.3 363.4,494.9 368.2,495.2 373.0,495.2 373.0,506.8 368.2,504.1 363.4,501.6 358.5,499.5 353.7,497.7 348.9,496.2 344.1,495.0 339.3,494.1 334.4,493.5 329.6,493.2 324.8,493.2" fill="#cfcfcf" stroke="#b0b0b0" stroke-width="0.35"/>
<circle cx="362.2" cy="507.8" r="1.35" fill="#3c3c3c" stroke="#262626" stroke-width="0.45"/>
<circle cx="344.0" cy="490.8" r="1.35" fill="#e84c7c" stroke="#d03468" stroke-width="0.45"/>
<circle cx="334.9" cy="470.8" r="1.35" fill="#c6dbee" stroke="#7fa6cc" stroke-width="0.45"/>
<circle cx="353.8" cy="492.0" r="1.35" fill="#e84c7c" stroke="#d03468" stroke-width="0.45"/>
<circle cx="335.7" cy="488.1" r="1.35" fill="#e84c7c" stroke="#d03468" stroke-width="0.45"/>
<circle cx="347.0" cy="493.1" r="1.35" fill="#e84c7c" stroke="#d03468" stroke-width="0.45"/>
<circle cx="367.5" cy="503.7" r="1.35" fill="#c6dbee" stroke="#7fa6cc" stroke-width="0.45"/>
<circle cx="331.1" cy="495.4" r="1.35" fill="#a410dc" stroke="#9000c8" stroke-width="0.45"/>
<circle cx="345.5" cy="499.9" r="1.35" fill="#a8dfb6" stroke="#58b07a" stroke-width="0.45"/>
<circle cx="329.6" cy="494.2" r="1.35" fill="#a410dc" stroke="#9000c8" stroke-width="0.45"/>
<circle cx="337.2" cy="493.1" r="1.35" fill="#a410dc" stroke="#9000c8" stroke-width="0.45"/>
<circle cx="324.8" cy="495.1" r="1.35" fill="#a8dfb6" stroke="#58b07a" stroke-width="0.45"/>
<circle cx="341.7" cy="490.8" r="1.35" fill="#e84c7c" stroke="#d03468" stroke-width="0.45"/>
<circle cx="331.1" cy="482.5" r="1.35" fill="#c6dbee" stroke="#7fa6cc" stroke-width="0.45"/>
<circle cx="356.9" cy="497.6" r="1.35" fill="#3c3c3c" stroke="#262626" stroke-width="0.45"/>
<circle cx="350.8" cy="502.9" r="1.35" fill="#e84c7c" stroke="#d03468" stroke-width="0.45"/>
<circle cx="350.8" cy="489.0" r="1.35" fill="#c6dbee" stroke="#7fa6cc" stroke-width="0.45"/>
<circle cx="346.3" cy="480.7" r="1.35" fill="#a410dc" stroke="#9000c8" stroke-width="0.45"/>
<circle cx="356.1" cy="490.8" r="1.35" fill="#a8dfb6" stroke="#58b07a" stroke-width="0.45"/>
<circle cx="345.5" cy="495.4" r="1.35" fill="#e84c7c" stroke="#d03468" stroke-width="0.45"/>
<circle cx="354.6" cy="499.2" r="1.35" fill="#a410dc" stroke="#9000c8" stroke-width="0.45"/>
<circle cx="352.3" cy="496.1" r="1.35" fill="#c6dbee" stroke="#7fa6cc" stroke-width="0.45"/>
<circle cx="347.0" cy="490.8" r="1.35" fill="#e84c7c" stroke="#d03468" stroke-width="0.45"/>
<circle cx="348.5" cy="506.0" r="1.35" fill="#e84c7c" stroke="#d03468" stroke-width="0.45"/>
<circle cx="353.8" cy="496.1" r="1.35" fill="#c6dbee" stroke="#7fa6cc" stroke-width="0.45"/>
<circle cx="356.1" cy="501.4" r="1.35" fill="#c6dbee" stroke="#7fa6cc" stroke-width="0.45"/>
<circle cx="342.5" cy="512.8" r="1.35" fill="#c6dbee" stroke="#7fa6cc" stroke-width="0.45"/>
<circle cx="366.0" cy="499.6" r="1.35" fill="#a8dfb6" stroke="#58b07a" stroke-width="0.45"/>
<circle cx="355.4" cy="493.1" r="1.35" fill="#3c3c3c" stroke="#262626" stroke-width="0.45"/>
<circle cx="330.4" cy="490.8" r="1.35" fill="#e84c7c" stroke="#d03468" stroke-width="0.45"/>
<circle cx="332.6" cy="491.6" r="1.35" fill="#e84c7c" stroke="#d03468" stroke-width="0.45"/>
<circle cx="339.5" cy="482.5" r="1.35" fill="#c6dbee" stroke="#7fa6cc" stroke-width="0.45"/>
<circle cx="359.2" cy="493.5" r="1.35" fill="#a410dc" stroke="#9000c8" stroke-width="0.45"/>
<circle cx="348.5" cy="492.3" r="1.35" fill="#a410dc" stroke="#9000c8" stroke-width="0.45"/>
<circle cx="353.8" cy="503.7" r="1.35" fill="#c6dbee" stroke="#7fa6cc" stroke-width="0.45"/>
<circle cx="359.9" cy="485.5" r="1.35" fill="#a8dfb6" stroke="#58b07a" stroke-width="0.45"/>
<circle cx="340.2" cy="490.1" r="1.35" fill="#3c3c3c" stroke="#262626" stroke-width="0.45"/>
<circle cx="364.5" cy="505.2" r="1.35" fill="#c6dbee" stroke="#7fa6cc" stroke-width="0.45"/>
<circle cx="350.1" cy="485.5" r="1.35" fill="#e84c7c" stroke="#d03468" stroke-width="0.45"/>
<circle cx="349.3" cy="502.9" r="1.35" fill="#e84c7c" stroke="#d03468" stroke-width="0.45"/>
<circle cx="350.1" cy="496.1" r="1.35" fill="#e84c7c" stroke="#d03468" stroke-width="0.45"/>
<circle cx="372.8" cy="498.1" r="1.35" fill="#a8dfb6" stroke="#58b07a" stroke-width="0.45"/>
<circle cx="359.9" cy="504.2" r="1.35" fill="#a8dfb6" stroke="#58b07a" stroke-width="0.45"/>
<circle cx="339.5" cy="492.3" r="1.35" fill="#a410dc" stroke="#9000c8" stroke-width="0.45"/>
<line x1="324.80" y1="487.40" x2="373.00" y2="501.00" stroke="#111" stroke-width="1.2"/>
<line x1="318.70" y1="460.20" x2="318.70" y2="518.00" stroke="#000" stroke-width="0.8"/>
<line x1="318.30" y1="517.50" x2="375.50" y2="517.50" stroke="#000" stroke-width="0.8"/>
<line x1="317.00" y1="460.80" x2="318.70" y2="460.80" stroke="#000" stroke-width="0.7"/>
<text x="316.50" y="462.65" font-size="5.2" text-anchor="end" font-weight="bold" fill="#000">0.3</text>
<line x1="317.00" y1="472.10" x2="318.70" y2="472.10" stroke="#000" stroke-width="0.7"/>
<text x="316.50" y="473.95" font-size="5.2" text-anchor="end" font-weight="bold" fill="#000">0.2</text>
<line x1="317.00" y1="483.50" x2="318.70" y2="483.50" stroke="#000" stroke-width="0.7"/>
<text x="316.50" y="485.35" font-size="5.2" text-anchor="end" font-weight="bold" fill="#000">0.1</text>
<line x1="317.00" y1="494.80" x2="318.70" y2="494.80" stroke="#000" stroke-width="0.7"/>
<text x="316.50" y="496.65" font-size="5.2" text-anchor="end" font-weight="bold" fill="#000">0.0</text>
<line x1="317.00" y1="506.20" x2="318.70" y2="506.20" stroke="#000" stroke-width="0.7"/>
<text x="316.50" y="508.05" font-size="5.2" text-anchor="end" font-weight="bold" fill="#000">-0.1</text>
<line x1="317.00" y1="517.50" x2="318.70" y2="517.50" stroke="#000" stroke-width="0.7"/>
<text x="316.50" y="519.35" font-size="5.2" text-anchor="end" font-weight="bold" fill="#000">-0.2</text>
<line x1="318.70" y1="517.50" x2="318.70" y2="519.20" stroke="#000" stroke-width="0.7"/>
<text x="319.20" y="527.10" font-size="5.2" text-anchor="middle" font-weight="bold" fill="#000">9.0</text>
<line x1="337.63" y1="517.50" x2="337.63" y2="519.20" stroke="#000" stroke-width="0.7"/>
<text x="338.13" y="527.10" font-size="5.2" text-anchor="middle" font-weight="bold" fill="#000">9.5</text>
<line x1="356.57" y1="517.50" x2="356.57" y2="519.20" stroke="#000" stroke-width="0.7"/>
<text x="357.07" y="527.10" font-size="5.2" text-anchor="middle" font-weight="bold" fill="#000">10.0</text>
<line x1="375.50" y1="517.50" x2="375.50" y2="519.20" stroke="#000" stroke-width="0.7"/>
<text x="376.00" y="527.10" font-size="5.2" text-anchor="middle" font-weight="bold" fill="#000">10.5</text>
<text x="346.50" y="533.90" font-size="5.4" text-anchor="middle" font-weight="bold" fill="#000">KIT expression log2</text>
<text x="354.50" y="463.30" font-size="5.4" text-anchor="start" font-weight="bold" fill="#000">R=-0.45</text>
<text x="354.50" y="468.80" font-size="5.4" text-anchor="start" font-weight="bold" fill="#000">p=0.005</text>
<text x="302.74" y="489.15" font-size="5.6" text-anchor="middle" font-weight="bold" fill="#000" transform="rotate(-90 302.74 489.15)">activation strenght</text>
<text x="296.24" y="489.15" font-size="5.6" text-anchor="middle" font-weight="bold" fill="#000" transform="rotate(-90 296.24 489.15)">Pathway</text>
<circle cx="33.2" cy="544.9" r="1.7" fill="#a8dfb6" stroke="#58b07a" stroke-width="0.7"/>
<text x="35.60" y="547.20" font-size="6.6" text-anchor="start" font-weight="bold" fill="#000">stage 1</text>
<circle cx="67.0" cy="544.9" r="1.7" fill="#c6dbee" stroke="#7fa6cc" stroke-width="0.7"/>
<text x="69.40" y="547.20" font-size="6.6" text-anchor="start" font-weight="bold" fill="#000">stage 2</text>
<circle cx="102.8" cy="544.9" r="1.7" fill="#e84c7c" stroke="#d03468" stroke-width="0.7"/>
<text x="105.20" y="547.20" font-size="6.6" text-anchor="start" font-weight="bold" fill="#000">stage 4</text>
<circle cx="141.2" cy="544.9" r="1.7" fill="#a410dc" stroke="#9000c8" stroke-width="0.7"/>
<text x="143.60" y="547.20" font-size="6.6" text-anchor="start" font-weight="bold" fill="#000">stage 4S</text>
<circle cx="182.6" cy="544.9" r="1.7" fill="#3c3c3c" stroke="#262626" stroke-width="0.7"/>
<text x="185.00" y="547.20" font-size="6.6" text-anchor="start" font-weight="bold" fill="#000">n/a</text>
</svg></body></html>
